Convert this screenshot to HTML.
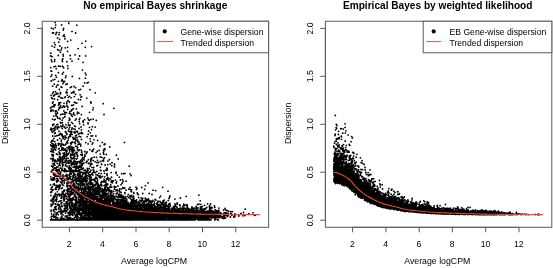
<!DOCTYPE html>
<html><head><meta charset="utf-8"><title>Dispersion plots</title>
<style>html,body{margin:0;padding:0;background:#fff}svg{display:block}</style></head>
<body>
<svg width="553" height="268" viewBox="0 0 553 268" font-family="'Liberation Sans', Arial, sans-serif" font-size="8.65" fill="#000">
<rect width="553" height="268" fill="#fff"/>
<clipPath id="c0"><rect x="42.2" y="21.25" width="226.40000000000003" height="206.05"/></clipPath>
<path d="M60.2 158.7h0M64.5 170.5h0M62.6 144.2h0M54.0 219.9h0M55.2 173.8h0M64.1 219.9h0M50.6 107.9h0M63.3 144.7h0M62.9 66.7h0M57.8 218.0h0M55.2 44.7h0M54.8 79.3h0M54.5 148.1h0M57.4 219.9h0M58.4 72.7h0M59.1 176.6h0M66.0 132.1h0M62.8 125.0h0M60.2 175.0h0M65.9 124.7h0M53.9 175.0h0M53.0 141.1h0M60.0 150.6h0M51.1 217.1h0M58.5 105.1h0M64.8 211.6h0M60.3 186.0h0M58.2 169.7h0M54.4 178.0h0M50.7 67.6h0M53.5 210.9h0M53.6 178.0h0M56.3 170.8h0M63.4 156.7h0M52.9 159.8h0M54.7 219.9h0M64.2 34.8h0M63.7 67.8h0M60.5 218.2h0M62.1 202.6h0M51.9 200.6h0M58.9 152.1h0M58.4 180.4h0M64.1 218.5h0M56.5 145.8h0M55.5 113.1h0M52.9 166.4h0M56.4 219.9h0M65.7 219.9h0M59.7 134.2h0M59.9 219.9h0M61.0 219.9h0M52.9 204.1h0M57.4 112.5h0M54.2 183.6h0M56.8 182.1h0M52.0 154.5h0M65.6 216.5h0M53.9 138.3h0M61.0 203.2h0M55.2 104.9h0M64.1 203.8h0M60.8 172.3h0M52.6 161.1h0M63.7 210.6h0M65.2 160.3h0M64.6 168.7h0M59.4 32.6h0M52.8 167.1h0M53.5 216.0h0M65.0 116.5h0M59.1 193.9h0M64.3 107.2h0M60.5 133.4h0M59.4 157.0h0M56.4 153.8h0M56.9 135.7h0M54.2 149.0h0M64.1 180.3h0M57.8 176.4h0M62.2 206.6h0M56.3 110.9h0M51.0 178.9h0M52.4 145.6h0M65.6 213.1h0M60.7 102.6h0M57.2 116.7h0M58.7 42.2h0M59.7 11.6h0M61.2 188.5h0M58.6 109.7h0M62.4 181.6h0M64.7 171.7h0M65.0 168.9h0M50.6 184.9h0M62.2 144.7h0M63.1 174.9h0M57.0 170.3h0M63.2 194.7h0M60.3 165.3h0M62.9 81.1h0M58.5 201.7h0M61.8 218.7h0M54.0 66.7h0M53.6 180.2h0M56.2 217.7h0M53.3 158.5h0M65.3 131.6h0M59.4 108.3h0M55.8 217.0h0M54.7 195.5h0M65.8 175.3h0M58.5 149.1h0M64.5 199.6h0M62.1 79.6h0M59.5 107.1h0M64.2 158.6h0M56.9 135.6h0M64.9 139.3h0M51.6 205.6h0M57.2 186.3h0M58.6 145.1h0M65.3 175.7h0M54.4 128.3h0M63.1 174.8h0M61.0 144.0h0M61.7 169.1h0M60.3 94.0h0M65.6 179.9h0M55.7 75.3h0M56.7 176.2h0M53.7 203.4h0M51.3 59.9h0M53.8 217.4h0M64.8 97.4h0M63.6 28.4h0M52.3 170.0h0M59.9 118.2h0M58.0 172.9h0M59.8 211.6h0M65.5 150.5h0M57.8 205.1h0M60.3 181.8h0M53.4 219.9h0M51.5 213.9h0M56.9 94.0h0M62.4 61.5h0M63.2 136.3h0M61.9 170.4h0M52.3 199.2h0M64.7 36.6h0M63.0 219.9h0M64.2 219.9h0M58.7 194.3h0M51.0 128.2h0M50.8 53.2h0M54.4 164.0h0M54.4 196.9h0M53.4 144.9h0M59.3 173.3h0M51.1 111.3h0M59.7 194.6h0M61.1 214.0h0M50.8 200.5h0M55.3 189.3h0M65.1 209.3h0M58.9 50.3h0M63.1 118.0h0M60.8 122.6h0M60.0 118.9h0M59.5 205.0h0M51.1 81.0h0M63.0 193.0h0M65.5 128.4h0M63.8 110.8h0M55.8 115.5h0M55.5 196.4h0M52.3 186.9h0M62.9 148.1h0M55.4 206.6h0M63.9 162.5h0M62.9 165.2h0M52.5 199.1h0M62.4 169.1h0M64.2 205.5h0M53.6 95.9h0M59.4 118.4h0M60.5 156.8h0M52.0 74.7h0M60.8 146.3h0M60.3 134.3h0M63.3 35.9h0M63.0 83.6h0M55.6 66.3h0M61.7 219.9h0M64.0 199.7h0M64.4 171.5h0M53.0 80.0h0M60.6 92.5h0M59.3 96.4h0M65.2 14.7h0M54.4 219.9h0M57.6 219.9h0M60.7 105.6h0M52.1 56.6h0M56.4 77.2h0M52.6 219.9h0M60.8 126.1h0M63.4 106.0h0M56.3 206.6h0M58.9 103.2h0M53.9 124.2h0M55.6 144.0h0M57.6 49.6h0M51.8 149.8h0M62.2 193.5h0M59.5 134.8h0M55.2 219.9h0M62.4 66.2h0M52.6 86.2h0M51.8 219.9h0M64.6 81.4h0M63.5 176.8h0M60.2 178.2h0M53.4 155.0h0M57.3 191.8h0M64.3 158.0h0M56.4 181.0h0M61.6 24.9h0M61.8 216.9h0M62.6 212.2h0M63.4 178.0h0M61.0 176.1h0M56.3 68.7h0M51.5 179.9h0M58.6 189.7h0M62.3 163.4h0M53.5 110.7h0M54.7 59.7h0M62.2 128.3h0M64.5 155.3h0M52.5 119.1h0M53.4 198.9h0M60.5 168.0h0M61.7 216.5h0M65.1 169.8h0M63.6 185.4h0M60.5 107.4h0M53.4 128.6h0M62.3 187.8h0M62.3 176.2h0M61.7 48.0h0M57.4 219.9h0M57.0 135.8h0M51.0 211.3h0M59.0 34.7h0M59.0 127.4h0M61.7 195.7h0M63.4 148.2h0M64.8 218.8h0M56.5 161.5h0M52.7 136.0h0M66.0 144.0h0M52.8 219.9h0M61.6 179.4h0M63.4 170.8h0M64.8 179.8h0M52.4 110.3h0M51.9 61.7h0M65.9 84.4h0M52.3 132.2h0M59.5 164.4h0M57.5 140.0h0M62.2 136.1h0M53.5 163.7h0M64.7 210.7h0M53.9 214.2h0M62.5 114.2h0M51.6 98.0h0M57.9 204.1h0M51.0 142.1h0M55.4 193.5h0M61.7 150.1h0M57.6 9.8h0M51.4 171.5h0M66.0 75.9h0M64.3 182.1h0M64.8 198.9h0M54.3 84.2h0M56.6 219.9h0M54.0 104.7h0M52.5 202.1h0M51.0 204.3h0M58.3 81.3h0M52.4 219.9h0M53.3 197.4h0M53.4 150.4h0M60.9 159.4h0M54.7 167.8h0M58.7 143.4h0M58.5 96.5h0M60.3 178.7h0M58.9 209.2h0M56.7 178.6h0M62.8 126.0h0M64.1 200.6h0M53.3 144.2h0M52.3 155.7h0M65.8 179.3h0M65.2 137.5h0M54.1 106.7h0M65.6 219.9h0M53.7 131.2h0M58.3 55.5h0M64.7 196.9h0M51.1 191.9h0M55.4 170.2h0M59.8 153.1h0M54.2 217.3h0M57.7 154.4h0M64.2 183.0h0M62.4 74.0h0M63.4 218.8h0M62.4 161.6h0M63.7 145.2h0M61.1 49.9h0M62.0 147.6h0M55.2 22.6h0M53.1 145.8h0M62.3 128.6h0M53.1 170.1h0M64.8 114.2h0M59.8 138.3h0M58.5 205.3h0M51.9 129.2h0M65.5 207.3h0M63.0 153.3h0M54.9 161.3h0M63.0 180.5h0M61.4 126.7h0M60.5 173.3h0M65.3 47.8h0M57.3 85.2h0M57.0 219.9h0M61.3 219.9h0M63.5 198.5h0M55.7 219.9h0M60.9 97.6h0M53.8 219.9h0M59.1 102.6h0M62.5 177.0h0M51.5 189.3h0M61.8 197.2h0M50.8 144.8h0M65.4 165.8h0M57.8 118.1h0M56.9 196.9h0M61.7 149.7h0M58.7 66.2h0M61.9 210.9h0M51.8 106.9h0M59.3 187.2h0M59.2 188.3h0M65.0 136.0h0M51.1 95.4h0M57.6 219.9h0M59.1 174.4h0M51.7 187.4h0M59.7 154.1h0M54.0 201.2h0M53.6 32.9h0M64.2 150.2h0M53.6 168.8h0M57.6 178.8h0M62.2 134.7h0M63.1 138.7h0M57.8 187.0h0M60.2 66.3h0M63.3 219.5h0M60.5 173.6h0M56.8 171.3h0M59.2 107.9h0M56.7 169.5h0M62.1 218.2h0M56.4 201.5h0M57.8 158.8h0M62.3 107.4h0M58.3 214.7h0M55.8 216.1h0M63.4 72.3h0M56.4 175.9h0M63.7 190.4h0M62.7 160.2h0M61.6 216.4h0M51.0 145.4h0M56.6 11.5h0M63.9 190.9h0M59.5 163.2h0M59.2 169.5h0M60.9 123.2h0M61.1 86.9h0M59.6 39.4h0M53.4 184.7h0M55.1 129.3h0M55.1 185.4h0M57.2 176.3h0M66.1 202.3h0M56.0 194.3h0M57.5 181.2h0M56.3 93.5h0M65.3 96.9h0M64.3 149.1h0M54.7 161.9h0M64.3 194.8h0M58.2 176.1h0M61.2 98.1h0M51.7 71.1h0M64.0 201.0h0M53.6 173.2h0M63.4 219.9h0M63.4 198.8h0M57.9 167.1h0M62.5 170.4h0M56.3 32.8h0M59.0 159.9h0M53.6 164.1h0M55.4 193.7h0M61.5 80.9h0M62.5 166.7h0M51.4 28.1h0M61.9 147.9h0M63.2 219.9h0M57.4 195.0h0M51.5 200.3h0M61.1 219.3h0M56.4 209.5h0M60.4 219.9h0M54.5 133.4h0M57.9 85.0h0M58.7 186.0h0M60.3 220.0h0M53.7 163.8h0M65.5 205.9h0M55.0 174.2h0M54.5 61.3h0M51.6 130.6h0M62.5 149.7h0M61.6 205.1h0M53.6 219.9h0M52.6 190.2h0M55.5 204.0h0M62.5 164.2h0M58.1 219.9h0M64.9 190.1h0M60.7 114.7h0M60.2 154.0h0M62.5 122.6h0M55.9 204.3h0M54.5 99.1h0M57.3 163.5h0M58.1 219.9h0M52.7 98.5h0M57.4 113.2h0M60.5 178.7h0M52.6 155.2h0M53.2 199.5h0M54.9 207.4h0M65.5 77.6h0M50.9 176.8h0M53.4 197.9h0M53.1 102.0h0M57.9 186.9h0M50.7 219.9h0M53.0 189.7h0M54.7 147.8h0M62.8 59.0h0M53.4 173.8h0M60.1 201.0h0M56.8 32.5h0M57.0 127.9h0M63.2 54.5h0M53.0 177.9h0M64.9 106.5h0M64.4 152.8h0M60.9 160.9h0M53.8 146.5h0M65.3 176.0h0M64.3 218.8h0M52.3 219.9h0M55.4 126.3h0M51.0 18.4h0M63.4 137.0h0M64.8 149.5h0M65.9 203.9h0M60.0 154.7h0M60.9 145.8h0M61.1 198.2h0M59.4 165.1h0M65.3 144.9h0M60.0 162.7h0M55.7 204.1h0M58.5 135.2h0M61.8 206.0h0M61.3 182.3h0M57.1 178.7h0M63.8 218.6h0M62.3 162.9h0M55.8 34.4h0M51.7 191.9h0M52.6 151.3h0M53.4 166.1h0M55.2 133.0h0M65.0 162.1h0M64.5 126.9h0M63.8 82.1h0M56.8 124.7h0M50.6 129.6h0M62.8 156.5h0M54.3 42.6h0M52.7 124.6h0M63.0 219.9h0M61.2 176.2h0M54.7 130.4h0M65.1 219.9h0M54.7 146.3h0M61.4 141.8h0M63.2 164.8h0M58.5 211.7h0M51.1 71.2h0M59.1 161.2h0M63.7 148.7h0M51.8 148.7h0M54.8 165.2h0M60.0 16.0h0M55.4 208.0h0M60.3 211.0h0M55.1 136.2h0M62.3 184.5h0M60.4 162.4h0M62.0 178.4h0M61.8 150.1h0M61.4 200.6h0M56.5 198.3h0M50.9 219.9h0M65.5 165.6h0M61.9 87.3h0M54.8 141.7h0M57.8 170.3h0M63.9 154.9h0M55.0 207.5h0M55.3 119.3h0M51.7 191.7h0M54.7 161.3h0M53.2 106.3h0M51.5 148.9h0M57.8 124.5h0M53.8 145.0h0M54.8 94.6h0M59.4 104.0h0M58.4 126.8h0M51.7 140.9h0M57.9 219.9h0M63.0 214.9h0M51.5 146.2h0M59.8 219.9h0M64.0 103.3h0M64.0 199.0h0M50.6 55.9h0M58.6 66.2h0M56.3 189.3h0M62.3 170.0h0M51.7 166.1h0M54.6 105.3h0M63.2 193.5h0M57.8 93.4h0M57.6 194.8h0M65.6 175.7h0M55.5 160.1h0M51.2 151.6h0M56.6 187.4h0M52.9 147.2h0M59.3 89.5h0M65.3 171.2h0M60.6 208.3h0M55.5 111.2h0M59.4 143.8h0M62.2 180.6h0M59.7 158.7h0M63.0 159.3h0M59.1 174.3h0M53.6 152.3h0M59.6 194.1h0M53.1 219.9h0M60.1 207.0h0M63.2 30.1h0M52.6 93.5h0M59.0 131.4h0M56.8 212.8h0M54.7 209.6h0M56.3 200.6h0M58.9 165.4h0M61.2 195.0h0M59.2 148.4h0M52.2 170.6h0M63.2 144.5h0M64.9 156.8h0M54.4 184.6h0M53.2 180.2h0M63.7 196.7h0M64.7 154.5h0M51.2 210.2h0M55.7 187.9h0M53.5 91.9h0M57.8 11.5h0M64.9 112.4h0M51.6 165.9h0M53.2 28.9h0M58.1 143.8h0M62.1 212.5h0M57.3 180.6h0M52.7 163.6h0M56.0 214.0h0M65.8 160.1h0M62.2 120.2h0M52.3 179.1h0M63.1 211.9h0M55.4 145.0h0M62.7 98.1h0M50.7 192.4h0M64.1 191.4h0M53.0 179.7h0M57.6 38.0h0M60.8 161.1h0M58.4 185.3h0M52.7 125.6h0M54.9 219.9h0M51.3 109.8h0M53.9 198.5h0M52.5 204.6h0M57.7 99.7h0M56.1 147.7h0M59.6 186.0h0M54.9 212.1h0M51.0 189.2h0M62.3 126.1h0M54.5 95.4h0M56.8 167.0h0M62.3 192.0h0M64.3 127.2h0M62.0 219.9h0M52.7 151.8h0M57.3 126.8h0M65.1 194.4h0M52.8 154.9h0M61.6 213.6h0M57.9 160.3h0M65.6 207.9h0M61.3 140.1h0M52.5 33.0h0M64.6 196.3h0M52.1 143.3h0M52.0 46.1h0M55.7 25.1h0M51.0 219.9h0M64.8 116.9h0M60.0 160.1h0M51.6 218.8h0M59.4 219.9h0M57.7 11.6h0M62.0 158.4h0M61.1 209.7h0M66.0 156.2h0M53.0 156.3h0M63.2 56.1h0M56.9 199.2h0M62.7 136.9h0M64.4 208.7h0M65.9 160.8h0M54.7 179.2h0M57.6 180.7h0M65.2 216.1h0M65.2 149.1h0M56.3 114.6h0M65.1 21.0h0M56.8 185.4h0M56.3 214.5h0M62.3 59.7h0M57.8 171.2h0M57.5 129.1h0M56.5 187.2h0M52.7 202.1h0M51.5 56.6h0M62.2 212.0h0M59.3 206.9h0M61.0 212.4h0M63.0 114.0h0M54.1 184.1h0M54.2 160.1h0M54.8 216.4h0M55.2 27.6h0M56.3 87.0h0M55.5 200.0h0M60.4 122.3h0M61.4 197.3h0M62.3 157.4h0M55.1 127.5h0M51.0 17.2h0M56.8 219.9h0M59.5 195.9h0M54.5 47.2h0M55.9 218.8h0M60.0 184.8h0M59.7 171.0h0M52.9 140.2h0M61.5 183.0h0M51.8 158.7h0M65.6 164.4h0M53.7 124.3h0M54.5 15.1h0M53.6 209.7h0M65.9 179.5h0M55.0 176.3h0M59.9 46.0h0M65.9 193.5h0M65.3 206.5h0M58.6 208.2h0M59.9 163.0h0M55.7 150.0h0M55.6 175.6h0M50.6 151.3h0M51.1 206.3h0M59.1 219.9h0M53.7 116.1h0M55.7 168.2h0M51.0 76.4h0M64.9 38.9h0M57.3 213.0h0M53.7 214.4h0M61.5 134.5h0M50.7 110.8h0M54.3 119.8h0M65.5 179.2h0M64.5 219.9h0M60.4 52.2h0M52.0 216.2h0M55.5 91.6h0M50.9 158.7h0M53.9 196.2h0M50.9 195.4h0M52.5 103.1h0M73.4 188.4h0M67.2 179.9h0M67.9 194.6h0M76.6 163.4h0M70.0 211.2h0M70.0 125.2h0M67.1 153.7h0M75.3 203.1h0M74.0 131.9h0M72.4 151.3h0M73.3 108.6h0M67.2 206.3h0M69.1 217.1h0M72.9 199.5h0M77.2 158.3h0M75.6 33.0h0M73.5 152.1h0M72.1 127.9h0M66.2 92.2h0M76.4 202.9h0M66.9 147.7h0M67.6 193.6h0M74.1 160.4h0M75.5 190.3h0M75.2 180.3h0M71.3 214.2h0M68.1 107.1h0M66.5 92.0h0M76.0 168.4h0M77.5 131.9h0M68.9 219.9h0M76.2 191.0h0M70.8 113.8h0M69.7 196.1h0M72.0 219.3h0M66.2 202.7h0M71.2 191.5h0M68.4 171.1h0M74.4 166.3h0M71.9 179.6h0M76.2 211.4h0M76.5 183.2h0M69.8 135.0h0M69.3 195.8h0M77.0 219.9h0M71.9 147.3h0M67.2 215.9h0M66.6 219.9h0M77.6 218.2h0M72.8 178.0h0M66.7 211.4h0M72.0 179.8h0M71.9 201.1h0M71.1 169.5h0M77.2 162.2h0M77.1 178.0h0M67.5 106.9h0M67.8 190.9h0M70.8 40.1h0M75.8 140.7h0M73.3 180.4h0M74.6 126.1h0M72.8 123.6h0M68.5 167.8h0M75.6 201.1h0M66.2 196.0h0M74.2 189.5h0M68.3 138.1h0M71.6 122.3h0M77.4 174.9h0M72.4 193.2h0M66.7 160.2h0M71.1 194.3h0M73.8 180.4h0M66.7 206.0h0M69.0 168.2h0M66.3 11.6h0M72.4 210.7h0M70.5 199.7h0M71.9 193.7h0M69.5 202.9h0M73.7 209.5h0M68.1 185.4h0M76.6 187.7h0M77.3 214.2h0M71.8 182.7h0M71.5 115.4h0M76.1 196.4h0M69.4 113.3h0M75.4 167.8h0M69.4 204.3h0M74.5 155.7h0M70.0 192.0h0M73.1 211.5h0M76.9 191.5h0M66.7 198.7h0M75.5 161.5h0M72.4 202.7h0M70.5 58.8h0M70.2 178.3h0M66.9 208.0h0M69.1 215.2h0M73.3 210.3h0M67.2 92.6h0M73.9 92.7h0M77.3 113.8h0M77.5 112.2h0M76.4 219.9h0M75.5 207.2h0M68.1 179.5h0M77.4 219.9h0M68.4 182.0h0M76.2 178.7h0M76.3 163.1h0M73.3 186.4h0M72.1 219.9h0M68.4 213.5h0M72.1 152.0h0M69.5 194.6h0M67.5 186.5h0M67.6 218.1h0M75.4 135.9h0M76.8 192.6h0M67.7 190.1h0M66.2 219.9h0M69.1 169.0h0M67.6 203.5h0M68.3 140.1h0M72.9 148.0h0M71.0 97.8h0M71.1 110.9h0M68.5 219.9h0M73.8 185.2h0M69.4 213.9h0M70.7 160.7h0M71.5 149.6h0M76.6 199.4h0M68.9 167.7h0M74.4 175.7h0M69.7 213.1h0M76.5 186.4h0M70.7 218.9h0M72.0 105.4h0M76.3 198.0h0M73.9 219.9h0M67.2 89.8h0M67.7 47.3h0M77.6 140.0h0M66.4 219.9h0M69.6 163.2h0M77.2 163.5h0M66.2 137.7h0M68.0 190.5h0M68.6 200.7h0M67.1 166.3h0M71.6 204.5h0M73.0 176.3h0M69.8 167.8h0M75.5 196.2h0M75.4 205.0h0M72.6 204.4h0M67.7 143.0h0M72.4 192.2h0M73.4 162.8h0M71.1 179.7h0M76.1 208.0h0M70.6 217.7h0M72.0 31.4h0M67.4 189.4h0M72.6 213.3h0M75.0 219.9h0M74.6 209.7h0M69.1 179.0h0M77.6 188.3h0M74.5 184.5h0M71.0 211.7h0M70.9 187.5h0M75.1 179.7h0M68.1 100.5h0M74.4 204.0h0M72.1 134.4h0M76.2 200.8h0M71.5 105.3h0M71.5 165.0h0M69.4 178.5h0M76.8 103.1h0M69.8 111.8h0M74.2 188.3h0M70.8 131.3h0M77.0 218.4h0M77.1 180.0h0M66.4 202.0h0M77.7 190.4h0M66.9 183.8h0M71.9 210.1h0M66.6 219.9h0M72.5 109.5h0M68.2 193.8h0M70.4 201.5h0M69.6 219.0h0M73.1 167.1h0M75.7 146.1h0M77.0 211.8h0M69.9 194.0h0M72.7 92.4h0M66.1 196.5h0M70.4 219.9h0M77.3 148.0h0M67.5 218.2h0M76.2 181.6h0M73.7 219.9h0M69.5 131.6h0M75.1 129.3h0M69.4 219.2h0M76.5 162.1h0M67.0 190.4h0M67.5 201.1h0M74.8 133.0h0M71.3 161.1h0M67.8 219.9h0M72.1 200.7h0M69.5 182.1h0M72.5 153.8h0M74.7 174.7h0M76.1 166.5h0M66.8 174.4h0M73.0 218.7h0M77.5 131.4h0M71.4 158.8h0M75.0 156.1h0M76.2 131.7h0M72.9 206.0h0M76.4 209.3h0M75.2 177.8h0M76.2 217.0h0M74.4 196.1h0M68.4 130.9h0M69.2 218.7h0M69.9 170.6h0M73.0 215.4h0M73.4 151.0h0M66.2 202.2h0M68.3 154.1h0M70.3 87.6h0M75.6 180.6h0M72.5 179.3h0M72.0 148.7h0M74.9 142.8h0M73.7 18.6h0M69.4 167.1h0M67.1 150.0h0M71.5 202.8h0M76.3 216.8h0M73.0 137.5h0M66.7 103.4h0M71.2 168.4h0M70.6 154.2h0M72.9 209.5h0M72.9 142.3h0M77.2 154.7h0M70.0 173.1h0M70.8 188.3h0M73.2 188.4h0M76.4 219.9h0M74.3 196.6h0M71.6 158.2h0M75.6 87.7h0M71.7 155.2h0M77.3 187.4h0M69.4 118.2h0M67.6 41.4h0M75.7 170.9h0M69.5 219.9h0M75.9 102.9h0M73.2 207.5h0M72.0 179.7h0M67.1 180.0h0M75.2 138.5h0M66.8 176.5h0M77.3 174.5h0M76.3 164.6h0M69.6 127.2h0M67.6 51.4h0M76.4 108.9h0M71.7 182.8h0M67.5 209.7h0M71.9 194.7h0M68.9 146.7h0M70.8 176.5h0M76.7 217.2h0M75.4 143.6h0M67.9 196.8h0M71.6 170.9h0M71.8 199.3h0M77.6 147.7h0M67.1 182.5h0M72.0 189.4h0M76.7 216.7h0M70.7 212.2h0M69.1 218.7h0M72.5 219.9h0M69.8 151.1h0M76.9 166.0h0M67.1 219.9h0M68.5 11.9h0M67.0 185.9h0M74.4 208.3h0M69.5 196.0h0M76.6 188.3h0M76.5 131.4h0M77.0 152.4h0M69.1 152.6h0M66.1 179.4h0M70.6 173.7h0M77.3 209.1h0M75.0 54.8h0M66.8 186.3h0M74.3 213.0h0M76.8 162.0h0M77.3 193.3h0M76.1 206.6h0M75.9 219.9h0M70.2 208.5h0M67.2 218.7h0M74.5 210.1h0M67.7 180.3h0M70.5 191.4h0M77.7 193.5h0M72.6 164.0h0M72.1 141.8h0M77.1 167.4h0M69.4 194.4h0M77.7 201.6h0M76.7 208.0h0M69.9 119.7h0M67.5 171.1h0M76.7 190.6h0M68.2 158.3h0M66.2 132.7h0M76.4 219.9h0M73.9 147.7h0M74.6 158.5h0M66.6 217.1h0M67.1 186.7h0M71.9 147.0h0M66.7 158.1h0M71.9 150.8h0M74.6 167.0h0M73.7 162.0h0M73.3 187.9h0M66.6 162.8h0M68.8 163.4h0M76.5 153.8h0M67.5 175.6h0M72.3 200.5h0M66.7 160.9h0M77.0 218.9h0M68.1 163.0h0M70.8 161.6h0M72.4 203.0h0M74.4 154.1h0M77.0 217.1h0M74.6 150.3h0M70.1 185.4h0M66.9 101.8h0M74.3 138.2h0M77.4 174.8h0M66.3 171.4h0M75.1 199.5h0M68.1 212.9h0M71.4 204.2h0M72.2 214.4h0M73.2 114.3h0M77.6 220.1h0M74.1 218.5h0M70.6 136.2h0M74.4 187.1h0M71.5 208.3h0M70.9 207.7h0M70.3 195.5h0M71.8 189.6h0M69.3 147.1h0M68.9 199.1h0M67.8 205.2h0M71.2 185.6h0M69.5 203.6h0M75.8 215.7h0M75.9 135.9h0M70.1 198.8h0M73.3 189.5h0M76.6 171.0h0M70.3 210.6h0M72.5 197.8h0M71.2 205.9h0M73.6 154.8h0M77.3 207.3h0M67.7 65.8h0M73.8 177.6h0M75.3 185.9h0M73.5 181.1h0M76.2 170.2h0M69.9 191.4h0M74.3 154.0h0M69.1 174.6h0M72.0 181.8h0M74.0 86.5h0M68.4 162.0h0M66.8 134.6h0M75.3 143.6h0M75.5 206.7h0M73.8 212.2h0M69.8 215.1h0M73.7 112.9h0M67.0 219.9h0M73.8 91.5h0M72.8 158.5h0M73.3 198.1h0M71.3 144.1h0M68.7 23.4h0M74.5 163.3h0M71.5 193.7h0M74.8 126.1h0M70.3 149.4h0M72.4 212.8h0M73.3 181.7h0M76.8 25.2h0M76.4 214.5h0M66.7 142.2h0M75.1 132.2h0M69.1 120.4h0M74.2 173.7h0M70.5 192.9h0M71.8 129.5h0M72.3 215.3h0M74.2 156.8h0M73.5 149.6h0M74.0 139.2h0M70.5 171.0h0M74.0 175.0h0M70.1 214.9h0M73.1 175.6h0M72.6 186.2h0M66.3 210.6h0M71.9 109.6h0M68.6 125.0h0M70.6 143.0h0M66.9 61.7h0M76.5 183.6h0M70.2 172.0h0M67.3 205.0h0M73.3 219.9h0M76.5 193.4h0M67.5 219.9h0M70.3 187.8h0M71.8 163.5h0M67.4 184.9h0M69.8 219.9h0M69.3 205.8h0M74.4 171.3h0M77.6 194.2h0M70.3 161.6h0M75.3 196.2h0M67.7 203.5h0M72.8 219.9h0M71.1 199.9h0M69.4 102.0h0M75.6 188.9h0M74.8 142.1h0M67.6 154.3h0M69.5 191.6h0M75.6 192.5h0M77.6 211.4h0M73.2 193.0h0M76.2 203.9h0M77.5 149.8h0M74.7 212.7h0M73.6 210.9h0M68.6 179.2h0M70.4 168.1h0M76.9 178.8h0M69.6 150.6h0M70.7 134.2h0M66.3 152.0h0M74.2 213.1h0M71.2 164.2h0M75.4 214.9h0M73.8 173.7h0M73.9 128.8h0M71.5 92.9h0M68.3 189.1h0M70.8 170.3h0M74.8 210.3h0M67.1 177.9h0M71.5 173.9h0M68.8 189.5h0M75.4 208.0h0M75.6 94.3h0M77.1 210.1h0M75.9 202.1h0M73.6 170.5h0M68.3 97.3h0M75.7 166.1h0M74.6 184.6h0M74.8 115.1h0M74.2 204.1h0M75.7 196.9h0M69.5 219.9h0M73.9 206.9h0M72.1 206.2h0M70.0 177.9h0M69.9 198.7h0M67.9 209.4h0M71.8 162.1h0M70.4 193.8h0M71.0 174.2h0M76.0 153.2h0M74.0 194.1h0M74.0 208.3h0M77.5 212.3h0M68.6 212.6h0M72.0 61.2h0M67.1 127.1h0M70.6 208.9h0M77.1 202.4h0M67.1 182.4h0M74.9 194.9h0M76.2 214.8h0M72.0 154.4h0M75.4 219.9h0M71.2 171.2h0M70.2 135.3h0M72.0 205.4h0M68.3 203.4h0M69.7 219.9h0M69.6 197.6h0M77.6 219.9h0M70.0 207.2h0M68.7 148.3h0M77.0 166.2h0M67.7 192.4h0M77.3 215.0h0M76.0 140.1h0M73.6 193.2h0M71.1 186.9h0M68.4 161.1h0M67.3 179.3h0M67.3 83.8h0M70.1 55.5h0M70.8 182.7h0M76.8 103.1h0M72.3 76.5h0M77.6 203.1h0M74.5 214.1h0M67.8 218.6h0M72.5 170.4h0M67.9 219.6h0M66.5 216.2h0M77.1 146.6h0M70.0 136.7h0M68.3 188.3h0M67.3 141.3h0M73.7 164.4h0M71.4 147.4h0M66.2 92.8h0M74.4 185.9h0M69.1 160.7h0M75.2 179.6h0M71.8 132.0h0M72.3 154.2h0M71.4 203.1h0M73.9 186.5h0M77.6 219.9h0M75.4 126.4h0M66.9 105.5h0M71.8 190.6h0M68.8 194.6h0M68.3 190.5h0M69.0 129.0h0M77.3 208.2h0M74.7 219.9h0M76.0 219.9h0M74.2 191.1h0M70.6 157.1h0M71.2 171.5h0M69.5 96.4h0M71.0 198.9h0M75.1 174.3h0M67.0 219.9h0M69.3 212.5h0M71.7 142.5h0M73.9 199.5h0M73.6 158.1h0M74.5 218.1h0M67.3 207.7h0M69.7 219.9h0M69.4 149.3h0M74.9 210.4h0M77.6 184.0h0M74.0 156.9h0M66.5 112.7h0M69.5 205.6h0M75.4 200.3h0M76.8 171.3h0M73.0 198.8h0M70.1 125.1h0M70.2 219.9h0M73.5 192.3h0M76.1 170.3h0M70.0 160.3h0M68.3 122.8h0M66.1 170.4h0M67.7 109.3h0M76.0 219.9h0M73.3 171.8h0M77.6 201.5h0M66.9 190.7h0M70.3 172.5h0M75.3 120.2h0M73.8 206.3h0M66.8 133.6h0M70.7 219.9h0M73.5 104.8h0M74.1 183.3h0M71.3 158.2h0M68.3 191.3h0M77.3 212.5h0M71.5 202.8h0M74.4 96.6h0M72.3 172.0h0M67.0 155.5h0M68.8 21.4h0M66.8 219.9h0M68.3 182.8h0M68.4 177.9h0M70.9 211.9h0M69.8 186.2h0M70.3 145.8h0M75.6 188.8h0M66.3 153.8h0M67.3 95.1h0M75.5 171.4h0M72.3 116.3h0M71.2 182.9h0M69.2 169.1h0M72.4 185.2h0M68.7 136.8h0M76.1 182.6h0M75.7 169.7h0M69.8 188.7h0M76.4 159.1h0M69.6 207.8h0M73.7 183.6h0M76.1 119.0h0M75.4 138.1h0M76.1 152.5h0M71.8 219.9h0M75.9 187.6h0M71.4 86.9h0M69.1 167.7h0M71.7 219.4h0M70.0 219.9h0M75.0 185.8h0M75.8 208.8h0M67.7 178.4h0M68.0 199.6h0M70.5 186.6h0M71.5 190.0h0M77.2 178.3h0M77.0 137.7h0M77.3 156.3h0M74.6 102.3h0M74.0 170.3h0M69.2 166.0h0M70.4 155.6h0M66.1 158.6h0M75.8 176.3h0M69.3 196.3h0M67.0 166.5h0M69.7 200.3h0M69.8 148.1h0M74.5 205.1h0M68.8 183.1h0M76.5 135.1h0M76.0 197.2h0M72.6 150.4h0M76.3 205.3h0M74.9 217.3h0M72.0 189.5h0M67.9 68.4h0M68.6 146.9h0M70.5 167.8h0M69.9 213.0h0M66.8 151.2h0M70.8 133.1h0M71.3 170.6h0M69.4 176.0h0M70.5 194.4h0M69.9 219.9h0M70.5 177.5h0M73.3 139.0h0M71.9 155.4h0M68.4 219.9h0M75.3 170.4h0M72.0 203.3h0M71.4 165.7h0M74.4 102.2h0M74.8 219.6h0M76.0 216.3h0M75.5 164.2h0M88.9 210.0h0M89.7 212.0h0M80.3 175.7h0M89.4 214.4h0M82.0 219.9h0M82.0 210.2h0M79.7 175.3h0M84.3 201.0h0M78.1 202.7h0M88.7 219.9h0M90.2 204.6h0M90.6 205.3h0M79.9 177.2h0M88.4 159.7h0M91.7 214.3h0M78.3 212.5h0M80.9 199.0h0M82.2 198.0h0M85.4 207.8h0M80.6 201.5h0M86.7 198.5h0M83.4 211.1h0M88.6 119.7h0M86.6 219.9h0M89.1 176.1h0M81.8 195.2h0M89.5 207.5h0M89.9 219.9h0M89.7 184.6h0M78.9 89.9h0M93.5 197.9h0M87.3 170.7h0M82.3 205.8h0M84.9 219.9h0M86.3 195.7h0M86.3 215.7h0M81.8 203.6h0M82.1 178.7h0M83.8 177.6h0M90.7 218.2h0M85.0 178.8h0M78.4 202.1h0M85.2 170.4h0M81.1 217.3h0M77.9 205.1h0M94.0 197.2h0M82.6 133.4h0M86.7 180.4h0M83.7 213.1h0M78.6 150.7h0M92.7 194.3h0M93.3 215.3h0M80.8 162.5h0M84.7 202.2h0M83.9 206.2h0M80.5 99.7h0M88.7 213.5h0M90.7 195.3h0M90.4 177.7h0M89.0 202.0h0M78.0 219.9h0M81.5 139.4h0M86.3 184.5h0M89.4 217.8h0M84.2 207.8h0M85.2 187.1h0M91.7 189.1h0M78.1 166.9h0M82.2 183.4h0M82.5 203.9h0M94.2 208.1h0M81.5 208.5h0M78.5 186.4h0M84.6 119.7h0M88.5 219.9h0M80.3 169.7h0M91.7 174.2h0M81.0 197.6h0M89.4 209.8h0M92.4 126.7h0M81.1 195.6h0M89.9 219.9h0M91.7 180.3h0M82.0 208.8h0M79.3 181.8h0M87.5 193.5h0M86.0 212.9h0M85.7 176.5h0M90.7 161.4h0M85.4 209.0h0M86.0 219.3h0M85.8 186.4h0M85.3 210.6h0M84.5 189.2h0M80.4 166.2h0M82.6 184.1h0M82.1 210.8h0M81.8 189.7h0M90.7 192.4h0M79.6 192.6h0M81.1 182.4h0M86.5 202.0h0M82.9 121.6h0M81.7 181.4h0M83.9 219.9h0M86.1 219.9h0M88.9 191.0h0M93.9 215.2h0M91.9 167.4h0M84.9 208.8h0M85.2 193.1h0M84.6 193.9h0M81.7 218.3h0M93.6 209.3h0M78.9 185.1h0M81.1 205.1h0M88.7 212.9h0M87.5 215.6h0M82.4 164.2h0M93.3 179.8h0M84.5 176.8h0M87.6 184.5h0M79.2 178.1h0M92.5 219.9h0M84.3 209.7h0M92.5 213.1h0M93.4 215.6h0M92.8 202.4h0M91.5 198.8h0M81.6 215.2h0M78.3 178.6h0M85.2 210.1h0M78.8 184.9h0M93.7 167.5h0M77.9 178.2h0M83.1 62.3h0M81.1 206.0h0M77.9 210.6h0M86.0 214.6h0M79.0 128.5h0M92.7 192.4h0M89.2 207.3h0M83.9 163.1h0M91.7 198.8h0M91.0 201.0h0M83.2 199.5h0M91.8 192.5h0M93.2 212.9h0M88.0 123.0h0M83.6 190.9h0M92.7 212.9h0M93.4 208.7h0M83.5 194.0h0M79.2 188.4h0M92.2 199.0h0M88.8 213.9h0M81.6 199.6h0M87.2 152.0h0M82.8 179.1h0M93.0 190.8h0M83.4 199.0h0M81.0 210.3h0M78.4 191.9h0M83.4 218.0h0M94.2 189.7h0M81.4 188.9h0M85.3 73.1h0M93.9 206.5h0M77.8 219.9h0M82.6 174.6h0M91.4 200.9h0M79.3 196.5h0M93.2 211.7h0M91.6 219.9h0M80.1 209.3h0M87.6 207.6h0M87.0 83.1h0M89.3 219.9h0M82.8 196.4h0M84.1 201.5h0M81.7 176.4h0M82.6 208.1h0M80.6 144.2h0M92.8 183.1h0M92.5 173.9h0M83.7 219.9h0M89.3 219.9h0M85.9 209.3h0M82.4 169.3h0M83.5 218.2h0M93.8 200.8h0M83.4 188.5h0M87.3 180.6h0M93.4 194.9h0M82.7 164.0h0M91.2 203.8h0M79.6 219.9h0M89.9 209.6h0M91.1 219.9h0M91.7 194.3h0M93.9 193.7h0M89.6 211.1h0M94.0 200.3h0M82.4 207.8h0M86.4 173.7h0M81.3 194.6h0M79.1 207.6h0M85.0 219.9h0M89.7 198.8h0M90.7 202.4h0M78.0 144.5h0M93.4 214.8h0M81.8 219.9h0M82.6 198.4h0M91.6 204.1h0M92.6 219.9h0M90.0 208.7h0M83.3 193.6h0M85.4 196.7h0M91.6 205.4h0M83.7 189.0h0M91.1 182.6h0M90.7 164.7h0M85.5 189.9h0M92.6 135.8h0M84.1 157.5h0M90.2 205.9h0M88.4 204.6h0M83.2 200.1h0M86.6 161.4h0M87.8 208.1h0M86.7 178.3h0M94.2 211.9h0M93.8 193.7h0M78.3 188.0h0M93.4 214.8h0M86.6 184.9h0M79.8 165.5h0M91.4 206.4h0M84.9 188.0h0M89.6 179.6h0M91.5 201.1h0M86.7 177.4h0M78.5 59.0h0M91.4 210.6h0M89.3 196.6h0M92.9 198.7h0M82.2 212.5h0M90.8 160.5h0M92.2 210.9h0M83.6 191.8h0M84.5 195.1h0M83.3 203.9h0M77.8 212.6h0M81.6 176.4h0M83.2 217.3h0M79.5 188.8h0M90.5 204.8h0M84.8 151.5h0M87.2 219.9h0M82.5 208.8h0M83.7 207.4h0M90.3 171.9h0M85.5 209.1h0M87.6 217.7h0M84.8 154.9h0M87.0 213.9h0M92.7 151.2h0M82.2 172.4h0M86.4 206.8h0M89.2 206.0h0M79.2 210.2h0M93.7 208.1h0M86.0 74.8h0M81.8 198.9h0M90.4 206.2h0M91.3 179.4h0M88.2 205.4h0M93.0 202.3h0M79.2 169.6h0M86.5 187.8h0M90.1 219.9h0M93.0 208.5h0M88.4 204.8h0M87.7 202.5h0M84.2 202.1h0M87.2 191.8h0M87.0 176.0h0M92.8 219.9h0M91.5 194.3h0M90.0 208.9h0M93.1 212.5h0M78.8 176.9h0M90.5 181.2h0M85.4 197.7h0M90.2 165.9h0M82.6 219.9h0M91.4 212.6h0M78.3 201.7h0M82.6 216.5h0M85.8 142.6h0M91.9 205.8h0M82.2 160.2h0M91.4 180.8h0M81.8 188.6h0M82.8 219.9h0M86.9 212.7h0M88.6 208.9h0M92.4 191.0h0M92.4 217.7h0M81.9 203.7h0M90.1 219.9h0M88.3 218.3h0M84.1 198.2h0M90.6 219.9h0M92.7 183.3h0M85.7 55.9h0M93.0 172.3h0M79.8 196.3h0M80.5 202.8h0M90.4 174.8h0M82.8 183.1h0M87.5 199.1h0M86.0 200.0h0M80.1 189.1h0M90.3 184.4h0M90.1 183.6h0M80.1 172.8h0M82.0 210.2h0M91.0 219.9h0M92.9 189.4h0M92.2 197.4h0M86.1 182.1h0M83.8 184.9h0M85.1 209.7h0M80.7 154.6h0M86.0 196.3h0M81.6 192.9h0M80.4 173.0h0M84.1 197.1h0M78.8 174.7h0M85.5 175.2h0M89.3 163.3h0M88.6 183.0h0M93.9 200.8h0M92.5 184.2h0M88.3 189.2h0M92.7 207.8h0M85.1 219.9h0M91.0 186.4h0M82.5 208.3h0M86.5 202.7h0M94.0 214.6h0M87.7 214.8h0M86.2 162.6h0M90.8 170.3h0M82.9 203.6h0M91.5 129.6h0M78.0 201.1h0M81.7 169.1h0M80.7 178.0h0M82.0 43.3h0M93.5 218.2h0M78.1 184.1h0M82.7 193.7h0M87.3 175.6h0M89.4 215.6h0M90.6 202.3h0M84.1 215.5h0M81.4 114.6h0M91.9 219.4h0M79.8 167.1h0M78.8 193.7h0M81.6 208.5h0M85.9 182.3h0M93.4 210.8h0M89.8 171.8h0M87.1 214.0h0M86.4 199.0h0M89.3 193.3h0M88.1 143.9h0M83.3 122.3h0M79.3 219.9h0M81.1 166.5h0M90.7 188.3h0M88.3 82.3h0M91.0 163.3h0M78.5 193.6h0M92.7 150.1h0M84.1 200.1h0M93.1 190.7h0M87.6 206.0h0M86.8 196.0h0M91.3 198.1h0M88.1 183.6h0M88.9 207.7h0M80.3 199.5h0M87.8 219.9h0M83.7 204.4h0M79.0 173.8h0M79.9 195.6h0M85.7 181.5h0M82.1 176.5h0M90.5 207.8h0M79.8 118.3h0M77.9 175.8h0M94.3 201.4h0M82.9 212.3h0M86.2 205.4h0M81.2 198.4h0M81.2 218.7h0M84.4 215.4h0M90.9 170.3h0M78.4 219.9h0M91.7 208.4h0M94.2 214.4h0M87.0 208.7h0M83.7 212.8h0M81.6 200.9h0M80.8 146.0h0M83.1 211.2h0M91.9 157.9h0M77.8 141.7h0M90.8 200.0h0M88.8 216.0h0M78.0 209.7h0M78.9 113.1h0M90.0 178.6h0M88.9 219.9h0M82.9 179.3h0M92.1 207.1h0M81.2 219.9h0M84.8 204.8h0M79.6 56.0h0M88.5 173.8h0M79.2 197.1h0M80.7 176.8h0M90.5 141.4h0M86.0 206.7h0M88.7 176.1h0M89.9 209.1h0M87.8 208.1h0M81.0 195.6h0M89.3 208.7h0M79.6 217.8h0M82.2 213.1h0M85.2 176.3h0M79.6 161.7h0M79.5 175.0h0M88.6 131.0h0M90.1 138.8h0M83.9 173.0h0M84.2 194.5h0M81.2 192.6h0M86.4 219.9h0M87.4 212.9h0M93.3 107.8h0M78.4 171.8h0M92.8 214.7h0M94.2 219.9h0M83.5 124.9h0M89.8 191.7h0M91.4 213.3h0M88.6 187.7h0M82.5 180.7h0M88.1 194.8h0M92.3 199.7h0M79.5 219.9h0M85.7 177.3h0M78.1 189.3h0M91.8 151.1h0M90.7 206.8h0M78.5 213.2h0M90.1 206.8h0M89.2 168.4h0M79.8 176.3h0M86.5 219.9h0M89.2 168.6h0M83.3 209.8h0M86.1 202.2h0M94.0 139.8h0M88.3 199.4h0M86.1 198.3h0M78.8 183.9h0M79.7 123.7h0M91.9 192.6h0M90.1 219.6h0M91.6 213.1h0M87.3 219.9h0M87.3 168.3h0M86.5 219.9h0M90.0 213.8h0M83.2 211.8h0M86.0 198.9h0M85.5 197.0h0M81.3 182.9h0M78.1 219.9h0M79.2 171.3h0M80.7 219.9h0M92.0 192.5h0M89.6 205.5h0M90.2 199.1h0M85.1 187.3h0M79.4 203.9h0M85.5 206.8h0M92.1 203.5h0M86.2 215.4h0M88.2 211.8h0M83.9 194.8h0M80.2 174.9h0M88.1 217.1h0M85.8 213.9h0M83.5 219.9h0M82.0 185.1h0M89.3 218.4h0M83.0 188.5h0M87.3 193.2h0M82.0 216.3h0M90.3 195.1h0M84.0 219.9h0M85.7 202.3h0M93.2 195.7h0M89.7 188.3h0M90.0 207.2h0M83.4 180.6h0M91.7 208.1h0M84.1 197.7h0M94.2 207.6h0M92.6 173.1h0M88.7 218.7h0M91.6 212.7h0M86.8 98.1h0M89.9 215.1h0M79.8 188.2h0M94.2 196.0h0M91.0 182.8h0M80.1 181.6h0M81.8 159.5h0M87.3 188.1h0M90.4 176.2h0M80.2 94.8h0M93.7 208.1h0M83.5 194.4h0M94.3 179.2h0M90.2 216.7h0M85.8 177.3h0M83.8 181.0h0M79.3 149.8h0M79.2 119.6h0M88.2 170.4h0M90.6 187.1h0M92.8 209.0h0M83.8 159.1h0M93.3 215.5h0M82.7 163.9h0M93.4 209.0h0M93.0 205.7h0M80.3 200.4h0M92.0 187.3h0M89.4 187.4h0M89.4 201.0h0M91.7 213.6h0M86.7 209.0h0M86.2 218.0h0M83.8 173.8h0M92.1 199.5h0M92.7 191.4h0M80.4 187.2h0M90.6 206.0h0M82.3 181.5h0M80.8 213.9h0M81.0 160.2h0M87.3 172.1h0M82.4 195.5h0M81.8 198.3h0M79.4 211.6h0M83.1 204.7h0M90.6 203.5h0M78.1 202.5h0M85.8 201.7h0M87.8 219.0h0M78.5 210.4h0M82.6 187.4h0M92.8 174.9h0M94.3 209.3h0M91.9 204.9h0M80.5 180.5h0M90.4 217.3h0M85.2 213.7h0M80.6 89.4h0M85.7 210.4h0M93.1 169.7h0M92.3 201.0h0M84.2 210.0h0M78.8 166.3h0M92.7 185.4h0M94.1 185.4h0M86.2 193.1h0M81.5 198.9h0M86.8 219.9h0M89.3 191.6h0M85.7 216.4h0M83.6 210.3h0M81.8 215.4h0M82.7 211.6h0M78.5 133.9h0M82.0 181.8h0M93.6 209.4h0M77.9 210.8h0M89.8 219.9h0M90.8 101.9h0M84.5 201.7h0M87.6 195.1h0M81.4 215.4h0M88.8 215.6h0M89.9 177.8h0M85.9 201.9h0M93.9 212.4h0M92.1 186.9h0M87.2 206.2h0M89.1 186.8h0M82.3 189.4h0M93.4 213.3h0M88.5 192.4h0M92.6 150.3h0M82.5 208.7h0M94.1 219.9h0M79.5 200.7h0M86.5 195.9h0M79.6 212.9h0M80.9 219.9h0M90.4 207.7h0M78.8 192.0h0M84.1 202.9h0M80.9 218.9h0M91.9 193.9h0M79.1 179.3h0M83.3 179.3h0M92.0 196.3h0M89.2 214.2h0M89.4 197.7h0M94.2 157.2h0M78.1 161.7h0M88.8 199.7h0M90.1 206.3h0M90.2 215.0h0M89.6 184.2h0M78.9 142.2h0M79.1 170.6h0M90.6 178.9h0M87.9 207.4h0M82.1 213.0h0M77.9 168.3h0M86.6 200.9h0M79.2 202.9h0M90.2 202.0h0M83.4 206.8h0M91.2 219.9h0M79.3 219.9h0M85.9 211.3h0M79.4 78.4h0M90.7 213.5h0M87.0 172.1h0M81.6 219.9h0M93.7 219.4h0M89.1 212.6h0M83.3 189.4h0M92.0 213.8h0M84.0 180.0h0M93.4 187.3h0M82.7 213.8h0M94.1 185.8h0M78.8 180.3h0M89.9 194.3h0M82.6 217.2h0M84.8 210.1h0M88.3 215.3h0M78.5 198.8h0M81.4 167.5h0M79.5 205.7h0M90.0 89.7h0M81.4 129.8h0M86.0 191.2h0M83.2 191.9h0M81.6 96.7h0M93.3 217.1h0M86.2 214.6h0M88.5 214.7h0M89.4 120.4h0M91.4 183.9h0M82.1 106.5h0M79.0 136.4h0M85.5 179.6h0M80.5 161.0h0M78.1 187.8h0M93.0 201.4h0M88.1 123.8h0M84.6 213.0h0M80.0 194.4h0M90.4 184.0h0M86.6 199.8h0M80.6 197.7h0M94.1 212.6h0M93.5 185.2h0M93.1 216.0h0M91.5 210.5h0M86.6 171.2h0M82.7 218.2h0M88.6 207.4h0M80.2 183.8h0M88.0 202.4h0M78.8 184.7h0M77.9 181.2h0M89.6 219.9h0M83.4 211.3h0M89.3 209.3h0M90.7 198.9h0M91.6 202.0h0M88.0 202.1h0M91.8 187.6h0M88.7 218.7h0M93.1 207.4h0M92.6 205.0h0M78.4 188.4h0M82.2 178.3h0M84.2 206.3h0M81.9 205.6h0M80.7 136.8h0M92.3 198.7h0M78.1 181.1h0M80.7 215.8h0M90.4 190.6h0M81.4 133.4h0M82.0 195.1h0M93.8 197.0h0M90.4 183.5h0M85.2 209.8h0M80.0 171.8h0M82.2 194.4h0M94.0 219.9h0M90.9 207.9h0M78.9 179.8h0M89.5 199.8h0M84.0 211.6h0M89.7 190.2h0M82.6 201.8h0M79.9 189.6h0M78.0 171.6h0M82.6 181.6h0M92.0 209.8h0M92.6 183.9h0M89.1 199.8h0M90.2 209.2h0M81.0 127.0h0M83.6 209.0h0M92.7 213.9h0M94.1 219.9h0M85.1 203.3h0M90.6 201.6h0M93.3 189.6h0M94.3 207.0h0M82.6 202.0h0M88.6 219.9h0M84.2 211.9h0M85.5 172.5h0M85.4 78.2h0M82.4 219.9h0M78.0 216.5h0M90.5 217.1h0M89.3 208.8h0M91.7 219.9h0M80.3 161.4h0M81.7 199.7h0M87.6 205.6h0M93.3 212.9h0M85.6 173.4h0M81.1 196.3h0M87.6 187.2h0M93.7 196.0h0M92.2 144.1h0M92.7 208.9h0M84.6 181.4h0M82.1 200.7h0M92.2 190.0h0M90.8 16.6h0M91.9 199.6h0M84.2 159.9h0M82.5 161.7h0M92.2 212.6h0M93.0 197.5h0M83.8 185.0h0M92.3 188.6h0M84.1 194.9h0M85.2 195.8h0M87.1 204.5h0M81.4 172.1h0M82.2 154.1h0M82.2 196.3h0M82.0 195.5h0M86.3 219.9h0M79.4 201.4h0M90.7 197.1h0M80.6 169.3h0M85.1 210.4h0M88.4 220.1h0M80.0 212.6h0M84.5 214.9h0M87.1 207.4h0M86.9 196.2h0M92.6 190.5h0M90.8 158.7h0M79.7 209.8h0M91.6 202.8h0M86.9 201.0h0M89.0 187.6h0M80.4 184.6h0M85.6 193.5h0M89.4 193.7h0M91.0 186.3h0M91.1 136.0h0M81.3 192.3h0M91.6 199.4h0M87.2 136.7h0M88.8 188.1h0M91.9 198.5h0M84.5 195.2h0M93.0 201.8h0M92.4 209.7h0M91.2 204.8h0M84.0 219.9h0M86.5 207.1h0M80.6 178.1h0M90.4 178.8h0M92.5 195.1h0M90.1 189.5h0M89.3 212.7h0M78.3 201.7h0M93.0 214.8h0M85.7 41.1h0M82.2 204.5h0M78.2 195.1h0M90.7 212.1h0M83.3 188.8h0M86.3 219.9h0M81.0 186.0h0M87.8 219.9h0M84.3 179.0h0M91.1 103.0h0M88.8 208.1h0M89.7 195.4h0M81.9 151.9h0M78.8 199.3h0M92.4 214.6h0M93.3 160.7h0M88.4 217.0h0M93.1 219.9h0M89.5 210.7h0M87.8 184.0h0M84.7 186.3h0M83.6 219.5h0M85.9 204.3h0M81.4 203.3h0M84.8 206.1h0M86.2 212.0h0M78.2 194.8h0M84.3 209.8h0M82.5 70.1h0M88.3 202.3h0M91.2 211.3h0M87.9 214.1h0M88.8 213.6h0M87.9 219.0h0M82.0 198.7h0M84.0 173.7h0M91.8 214.7h0M93.5 190.9h0M80.7 180.9h0M77.9 219.9h0M93.7 149.1h0M92.0 164.1h0M87.8 204.8h0M91.3 209.3h0M87.6 170.6h0M92.8 179.7h0M81.8 200.3h0M85.1 170.0h0M88.9 176.5h0M81.3 164.0h0M89.6 174.9h0M82.1 182.0h0M89.5 127.3h0M91.1 193.0h0M84.8 203.1h0M94.2 210.0h0M88.2 185.8h0M90.3 132.8h0M78.1 48.6h0M79.6 197.2h0M89.6 206.2h0M93.4 219.9h0M88.2 199.5h0M92.9 109.8h0M78.7 177.2h0M92.6 196.0h0M92.3 186.6h0M88.2 134.3h0M84.9 218.1h0M89.5 196.5h0M81.8 219.9h0M88.8 208.4h0M89.3 212.1h0M86.7 181.8h0M82.0 213.7h0M77.8 171.3h0M81.0 215.2h0M91.6 214.7h0M81.3 150.2h0M79.0 208.7h0M81.8 194.3h0M86.4 219.9h0M87.5 218.1h0M92.3 217.3h0M91.9 206.7h0M93.8 200.6h0M92.4 202.9h0M85.2 156.1h0M80.1 208.1h0M93.6 218.2h0M81.5 190.4h0M88.1 214.1h0M82.1 203.7h0M91.3 177.4h0M81.1 217.5h0M84.7 189.3h0M81.4 192.1h0M92.0 195.6h0M88.0 210.4h0M88.2 189.9h0M83.0 219.9h0M80.7 210.0h0M92.0 215.6h0M90.4 217.5h0M89.9 149.6h0M94.3 200.0h0M87.0 213.7h0M80.7 183.2h0M87.9 219.9h0M82.5 157.8h0M86.3 195.3h0M85.4 208.7h0M87.1 161.3h0M93.1 212.6h0M91.2 204.3h0M84.6 191.5h0M91.3 219.9h0M92.0 214.8h0M90.6 201.4h0M86.9 188.8h0M92.7 199.9h0M85.9 209.1h0M79.5 162.9h0M82.2 217.0h0M88.7 163.5h0M84.0 170.7h0M84.8 202.6h0M84.4 208.2h0M80.9 97.1h0M79.3 213.6h0M78.5 168.3h0M88.9 207.9h0M83.1 185.3h0M85.3 47.3h0M93.3 204.0h0M88.1 196.4h0M91.2 202.2h0M90.4 182.3h0M93.6 172.2h0M78.8 211.3h0M84.1 219.9h0M93.5 208.8h0M85.4 215.4h0M93.5 207.9h0M80.8 215.9h0M78.7 178.5h0M92.6 210.0h0M84.6 82.9h0M86.2 208.8h0M93.3 208.3h0M81.4 200.3h0M93.8 186.7h0M84.3 183.9h0M81.8 205.2h0M81.6 199.1h0M86.3 196.5h0M85.5 212.8h0M92.5 218.7h0M78.6 184.9h0M78.5 185.2h0M80.3 206.8h0M87.8 197.9h0M90.7 203.7h0M85.7 219.9h0M87.9 219.9h0M88.4 208.5h0M78.0 170.7h0M81.8 176.6h0M94.3 205.6h0M83.2 120.8h0M93.5 179.6h0M85.9 202.3h0M81.4 219.9h0M77.8 156.0h0M81.3 132.3h0M83.1 86.2h0M85.0 151.8h0M85.2 203.4h0M86.8 199.6h0M85.6 209.4h0M78.3 99.4h0M82.2 208.9h0M93.7 203.0h0M78.2 197.3h0M89.9 199.4h0M85.6 219.9h0M89.5 201.6h0M83.3 184.3h0M83.9 209.9h0M86.3 153.5h0M92.9 186.5h0M83.2 183.2h0M79.1 144.0h0M78.4 214.1h0M92.4 206.7h0M82.9 213.1h0M79.7 180.3h0M87.6 213.0h0M91.8 184.0h0M87.7 178.7h0M80.2 184.1h0M84.5 217.3h0M78.0 173.6h0M93.8 170.5h0M85.4 188.8h0M80.0 201.0h0M92.4 208.7h0M94.1 215.3h0M91.3 211.0h0M81.9 192.3h0M80.9 204.9h0M86.5 183.8h0M87.4 196.9h0M92.3 174.8h0M93.8 199.0h0M92.9 142.8h0M83.4 218.8h0M87.5 169.1h0M79.8 214.2h0M86.4 218.4h0M78.9 219.6h0M79.6 214.5h0M79.7 133.5h0M82.7 187.6h0M82.9 174.1h0M89.5 112.3h0M79.0 192.2h0M79.6 208.7h0M88.6 215.7h0M88.9 195.5h0M89.5 181.3h0M89.7 191.9h0M88.8 172.8h0M86.9 208.6h0M90.1 204.7h0M79.1 194.0h0M81.2 217.9h0M90.1 195.6h0M80.9 202.1h0M86.6 202.8h0M82.1 165.5h0M84.9 219.9h0M91.6 46.6h0M88.7 211.9h0M85.1 196.1h0M82.3 176.3h0M91.1 163.8h0M88.7 213.2h0M85.0 197.7h0M92.2 197.0h0M89.2 196.8h0M94.0 208.5h0M88.8 219.9h0M92.7 151.4h0M86.9 195.4h0M89.5 196.8h0M91.7 203.7h0M79.2 121.6h0M85.6 203.7h0M87.8 118.1h0M78.7 206.2h0M90.9 119.4h0M89.6 204.2h0M93.3 119.2h0M83.9 193.2h0M85.5 180.6h0M92.9 194.6h0M84.6 211.0h0M91.6 207.2h0M84.7 219.9h0M83.3 194.3h0M82.3 155.5h0M81.3 179.8h0M84.9 215.6h0M80.4 179.8h0M91.5 159.5h0M93.9 219.9h0M79.3 219.8h0M78.6 190.4h0M77.8 210.1h0M93.2 195.7h0M78.9 210.0h0M89.0 186.6h0M82.8 219.9h0M81.0 204.4h0M81.8 200.4h0M89.2 204.1h0M78.0 216.8h0M92.1 213.7h0M87.2 210.3h0M81.6 152.2h0M81.2 154.8h0M88.6 219.9h0M88.2 214.4h0M83.0 178.9h0M83.3 168.2h0M85.4 211.4h0M92.9 197.6h0M86.7 210.1h0M91.7 217.6h0M88.4 163.5h0M87.1 213.7h0M85.9 207.9h0M100.0 175.9h0M98.4 175.8h0M100.4 198.0h0M95.9 136.0h0M97.0 209.7h0M101.6 199.1h0M97.6 210.7h0M101.4 206.0h0M102.2 219.9h0M99.2 206.5h0M95.2 192.2h0M100.7 203.0h0M99.9 202.6h0M96.8 210.9h0M101.5 216.1h0M98.4 210.9h0M94.8 206.4h0M94.9 193.3h0M96.3 193.2h0M99.4 211.0h0M101.1 196.2h0M95.2 161.8h0M94.5 214.4h0M99.5 212.5h0M97.8 199.2h0M98.0 219.9h0M101.2 218.8h0M102.0 214.4h0M102.4 212.6h0M100.8 219.9h0M94.4 207.6h0M95.6 205.4h0M99.2 213.4h0M102.3 201.7h0M95.0 219.5h0M98.6 187.0h0M97.7 196.8h0M97.7 210.3h0M96.6 206.7h0M96.6 207.3h0M96.3 196.8h0M95.2 190.0h0M99.0 188.6h0M98.1 208.0h0M100.3 156.9h0M99.7 219.9h0M102.3 211.2h0M97.2 214.1h0M101.7 207.0h0M97.6 193.3h0M99.9 219.5h0M101.1 214.2h0M97.7 188.6h0M98.1 212.2h0M99.6 206.6h0M95.3 201.6h0M98.8 213.0h0M95.1 210.8h0M96.2 194.3h0M99.5 210.3h0M102.4 210.2h0M102.7 212.0h0M96.5 157.3h0M95.6 196.9h0M98.7 219.9h0M98.0 215.1h0M97.5 189.9h0M100.8 188.3h0M100.3 217.9h0M99.0 214.2h0M99.5 190.2h0M99.2 208.2h0M100.0 194.4h0M102.1 189.9h0M102.2 214.1h0M102.5 198.0h0M101.5 204.0h0M95.2 127.1h0M98.1 219.0h0M100.9 210.2h0M96.8 171.4h0M99.4 213.8h0M94.8 216.1h0M96.1 207.2h0M97.7 217.4h0M94.9 205.2h0M97.9 217.1h0M96.3 217.0h0M101.5 219.9h0M97.0 191.9h0M97.5 194.3h0M101.0 219.9h0M99.0 207.0h0M94.8 210.6h0M96.2 188.7h0M99.4 200.3h0M96.0 174.8h0M96.4 213.9h0M99.5 219.5h0M98.5 199.3h0M96.6 194.4h0M99.0 215.0h0M99.6 211.6h0M94.7 207.4h0M96.6 210.8h0M96.9 165.9h0M101.7 209.4h0M94.8 191.7h0M97.2 198.9h0M96.0 210.1h0M100.1 209.6h0M101.1 208.1h0M94.8 185.7h0M101.5 184.7h0M100.2 213.9h0M96.2 216.4h0M102.0 208.2h0M96.8 188.4h0M100.9 207.6h0M95.0 181.3h0M98.2 214.1h0M98.6 217.0h0M101.8 217.9h0M101.3 208.6h0M98.9 205.9h0M94.8 210.3h0M97.9 200.1h0M97.5 219.9h0M102.6 201.1h0M100.0 206.7h0M97.7 219.9h0M97.4 179.8h0M100.7 209.0h0M95.2 181.2h0M101.2 217.7h0M99.9 217.5h0M98.0 188.9h0M100.3 197.8h0M97.7 200.7h0M95.6 207.9h0M97.8 216.3h0M94.8 190.3h0M95.1 208.9h0M98.0 213.4h0M101.2 202.7h0M96.1 219.9h0M98.5 204.0h0M102.5 160.7h0M101.2 206.7h0M101.9 204.4h0M100.0 211.9h0M99.3 202.8h0M99.2 212.5h0M99.4 196.1h0M98.2 211.9h0M97.4 151.2h0M96.3 205.1h0M94.9 180.0h0M97.4 207.5h0M100.8 207.2h0M99.0 219.9h0M95.7 208.7h0M101.1 210.4h0M94.7 194.6h0M102.1 195.5h0M99.8 194.3h0M99.0 216.3h0M97.8 189.5h0M101.2 205.2h0M94.4 189.0h0M94.5 192.9h0M98.7 200.0h0M96.8 213.5h0M97.7 212.1h0M98.8 212.1h0M94.7 215.1h0M102.5 211.4h0M100.0 206.1h0M95.2 202.9h0M100.5 207.2h0M98.8 194.6h0M100.1 211.7h0M100.5 206.1h0M102.6 194.9h0M95.3 198.7h0M102.6 216.2h0M98.3 200.8h0M96.0 177.1h0M97.5 160.4h0M97.4 217.3h0M101.8 204.8h0M98.7 206.7h0M94.9 208.5h0M100.3 210.4h0M98.5 190.0h0M101.1 207.3h0M94.7 213.1h0M101.6 206.5h0M101.8 200.7h0M94.4 218.2h0M98.3 207.9h0M95.4 188.8h0M98.8 199.3h0M95.1 206.9h0M101.7 164.5h0M95.9 196.6h0M99.9 219.2h0M99.8 189.4h0M97.0 205.4h0M96.1 198.1h0M102.0 211.2h0M94.7 212.2h0M96.5 202.3h0M97.1 204.4h0M99.2 200.7h0M97.4 203.0h0M95.3 210.3h0M99.1 190.3h0M100.4 207.8h0M100.2 199.0h0M98.4 205.7h0M96.9 162.6h0M94.4 210.7h0M98.8 207.3h0M99.6 186.5h0M98.0 206.0h0M102.3 142.4h0M96.0 208.9h0M101.1 219.9h0M100.3 199.8h0M101.8 185.9h0M102.1 215.1h0M96.3 120.4h0M102.0 195.0h0M97.7 206.7h0M100.0 146.0h0M102.3 202.6h0M99.3 150.3h0M99.2 207.3h0M94.9 219.9h0M99.3 201.3h0M96.4 210.2h0M97.6 219.9h0M97.5 182.5h0M102.5 201.4h0M99.7 202.9h0M100.4 212.2h0M95.8 213.9h0M96.9 201.6h0M101.7 198.4h0M95.4 194.2h0M102.3 210.7h0M97.9 199.6h0M97.6 140.4h0M98.6 198.6h0M98.0 199.7h0M98.3 209.8h0M97.9 191.2h0M100.2 212.7h0M96.7 194.2h0M95.7 185.5h0M98.0 213.6h0M95.1 181.7h0M98.1 213.3h0M98.5 214.7h0M100.9 201.8h0M95.3 209.3h0M97.7 217.4h0M100.9 205.7h0M97.2 211.1h0M101.3 212.0h0M100.3 214.8h0M94.7 180.4h0M97.6 175.0h0M100.7 216.6h0M98.7 193.2h0M100.0 175.8h0M102.6 207.8h0M100.0 213.8h0M98.9 218.7h0M101.4 196.1h0M97.9 201.8h0M94.4 213.2h0M96.6 217.7h0M99.3 204.3h0M102.2 193.6h0M99.4 215.9h0M96.7 212.0h0M102.6 213.5h0M97.7 213.8h0M96.3 194.4h0M99.0 208.0h0M97.2 208.0h0M95.3 193.7h0M100.3 154.1h0M100.1 211.4h0M102.4 181.9h0M95.5 187.8h0M101.9 207.6h0M101.0 208.6h0M96.5 206.5h0M98.3 214.7h0M99.6 215.0h0M97.0 219.9h0M95.3 190.6h0M101.3 213.1h0M95.7 219.9h0M98.4 210.8h0M98.0 189.9h0M101.9 157.4h0M99.0 209.0h0M97.9 216.2h0M102.5 210.0h0M97.3 209.6h0M100.4 170.3h0M96.3 208.4h0M100.7 195.7h0M100.6 212.6h0M101.3 214.4h0M98.4 218.4h0M96.2 219.1h0M99.6 212.4h0M101.9 214.1h0M96.9 212.9h0M94.5 213.1h0M95.9 212.7h0M102.1 216.4h0M94.4 194.8h0M94.8 172.2h0M95.2 212.3h0M101.8 207.3h0M97.5 183.5h0M100.1 218.0h0M100.2 217.1h0M98.0 200.7h0M100.5 220.0h0M98.2 212.0h0M98.9 207.9h0M96.9 205.7h0M94.4 204.6h0M99.3 204.8h0M96.6 197.8h0M96.6 216.4h0M101.7 196.6h0M97.4 207.8h0M95.2 92.8h0M99.6 218.2h0M98.8 187.5h0M94.8 195.6h0M97.3 201.2h0M99.4 219.2h0M96.7 209.8h0M102.6 204.4h0M101.0 191.3h0M98.6 219.9h0M102.0 199.1h0M94.6 204.1h0M96.2 211.9h0M102.0 219.9h0M98.6 162.5h0M95.8 208.0h0M99.1 185.7h0M100.4 201.8h0M99.4 193.4h0M94.7 193.7h0M94.7 185.1h0M97.7 165.3h0M94.5 204.6h0M95.1 217.4h0M99.7 211.8h0M98.0 201.6h0M95.1 209.1h0M101.7 210.0h0M97.4 210.4h0M101.7 211.9h0M99.4 204.5h0M99.5 206.9h0M97.9 219.9h0M100.0 210.6h0M96.4 183.5h0M96.5 182.1h0M101.6 213.3h0M96.1 219.9h0M97.6 180.6h0M100.6 208.6h0M97.1 199.0h0M97.4 214.1h0M101.9 204.8h0M96.1 197.1h0M96.4 219.9h0M101.7 181.4h0M96.6 212.5h0M97.1 216.0h0M101.7 214.4h0M97.0 187.3h0M102.7 190.4h0M101.2 182.8h0M101.4 219.9h0M96.2 214.1h0M96.2 188.6h0M100.6 196.7h0M101.2 219.9h0M96.2 207.2h0M96.1 152.6h0M96.4 196.6h0M95.5 178.3h0M97.9 209.8h0M98.5 184.5h0M99.6 215.5h0M94.8 210.7h0M96.0 207.5h0M95.3 202.9h0M96.6 182.2h0M95.9 203.9h0M102.1 212.4h0M97.5 196.7h0M95.5 215.5h0M99.9 189.4h0M102.5 193.4h0M101.0 219.9h0M99.8 214.4h0M97.5 218.6h0M97.7 199.2h0M96.9 200.3h0M101.1 210.0h0M101.0 214.1h0M98.4 204.8h0M101.5 219.3h0M99.8 196.8h0M100.1 208.0h0M96.6 213.7h0M96.4 204.4h0M96.3 207.1h0M102.0 190.8h0M101.0 170.5h0M101.8 217.7h0M101.2 211.8h0M101.1 213.5h0M98.0 186.4h0M100.7 204.4h0M95.7 213.7h0M99.8 219.9h0M94.7 214.9h0M102.4 191.7h0M101.7 210.7h0M95.7 206.9h0M100.8 177.8h0M101.2 212.1h0M94.7 211.7h0M99.1 213.3h0M97.9 198.8h0M99.5 213.5h0M101.7 185.6h0M100.4 204.4h0M96.1 191.4h0M99.0 214.6h0M99.0 219.9h0M94.5 194.6h0M95.5 201.8h0M97.4 201.1h0M95.8 219.9h0M96.3 219.9h0M100.0 203.8h0M102.4 219.9h0M98.2 210.7h0M99.7 176.5h0M100.7 184.8h0M100.0 208.6h0M99.8 196.1h0M94.4 208.5h0M101.6 216.5h0M95.7 213.3h0M95.9 191.6h0M98.6 191.8h0M99.2 213.9h0M100.6 217.7h0M96.8 190.3h0M102.2 206.8h0M99.6 219.9h0M101.4 164.1h0M98.3 211.3h0M95.0 216.3h0M94.5 219.3h0M99.7 211.6h0M97.9 208.9h0M98.0 190.6h0M97.1 198.3h0M95.8 202.5h0M98.3 214.8h0M96.5 197.4h0M101.8 198.5h0M95.8 177.7h0M102.4 201.0h0M101.5 219.9h0M97.6 219.9h0M100.8 184.9h0M99.2 216.3h0M98.2 213.1h0M101.1 212.4h0M101.3 212.0h0M96.0 196.3h0M101.9 203.0h0M94.6 206.8h0M94.4 201.6h0M98.4 213.6h0M96.9 201.2h0M97.9 219.9h0M98.3 215.4h0M98.3 203.6h0M101.9 216.6h0M102.0 191.8h0M97.2 212.8h0M96.8 209.5h0M99.8 190.4h0M96.0 217.7h0M97.7 198.5h0M100.3 213.4h0M94.4 213.8h0M100.8 182.8h0M100.5 191.1h0M97.6 219.9h0M96.4 203.0h0M98.9 208.4h0M96.8 196.5h0M101.2 211.9h0M99.3 214.3h0M96.9 206.5h0M101.1 203.8h0M99.4 216.0h0M95.5 172.7h0M97.8 187.1h0M98.4 219.3h0M102.2 206.0h0M97.0 191.1h0M98.1 209.6h0M102.5 176.5h0M97.9 212.1h0M101.2 207.7h0M95.2 217.4h0M97.6 184.8h0M95.9 209.1h0M101.7 196.6h0M99.0 173.3h0M96.2 209.5h0M95.1 218.3h0M97.9 211.2h0M95.2 192.9h0M98.4 198.8h0M100.4 167.3h0M96.9 209.4h0M95.8 216.0h0M97.4 204.4h0M95.7 194.1h0M101.4 216.2h0M95.2 213.6h0M100.5 196.9h0M97.1 178.5h0M100.4 191.9h0M100.8 199.8h0M95.5 187.9h0M100.7 211.5h0M102.2 196.1h0M99.1 205.7h0M99.7 219.9h0M97.0 197.5h0M95.8 210.4h0M100.6 161.4h0M101.2 173.6h0M96.1 218.9h0M95.3 184.5h0M97.3 207.0h0M99.6 219.9h0M97.4 215.0h0M102.4 200.4h0M100.9 214.7h0M102.0 217.5h0M99.3 177.6h0M100.6 176.5h0M102.3 195.5h0M94.7 216.5h0M99.1 213.9h0M95.9 190.7h0M101.0 208.7h0M96.3 219.9h0M100.5 201.2h0M97.1 202.3h0M99.8 211.4h0M100.0 212.3h0M101.9 188.7h0M101.6 215.4h0M98.0 214.9h0M100.1 219.9h0M95.9 199.2h0M95.2 193.4h0M100.3 187.9h0M101.9 204.9h0M100.6 200.1h0M98.7 201.1h0M99.6 207.9h0M100.4 213.9h0M112.2 207.6h0M108.7 211.0h0M116.8 212.0h0M108.8 219.9h0M117.7 211.7h0M116.0 206.8h0M115.9 211.9h0M116.6 209.0h0M119.1 202.3h0M119.2 215.3h0M111.0 212.3h0M109.0 218.0h0M114.9 215.9h0M118.8 211.5h0M113.2 207.7h0M103.1 215.2h0M103.3 219.0h0M110.4 213.1h0M115.8 202.9h0M117.4 219.7h0M108.9 218.7h0M111.3 211.9h0M111.2 217.2h0M104.3 219.9h0M102.7 217.6h0M111.4 219.9h0M111.1 212.8h0M117.1 219.5h0M105.7 205.5h0M116.9 202.3h0M107.2 193.7h0M111.7 200.4h0M114.4 164.1h0M105.1 210.8h0M118.4 203.2h0M118.6 205.6h0M118.8 219.9h0M102.7 218.9h0M113.4 203.1h0M113.8 108.3h0M117.3 219.9h0M106.0 180.6h0M104.7 219.9h0M116.1 209.1h0M107.0 199.9h0M103.8 207.5h0M104.2 198.0h0M113.4 206.2h0M111.6 210.9h0M115.1 215.0h0M116.1 209.3h0M102.7 191.8h0M118.2 218.4h0M117.3 211.6h0M118.2 212.3h0M115.5 214.5h0M109.1 209.8h0M106.8 209.1h0M117.9 215.3h0M109.7 211.5h0M110.8 195.8h0M114.3 189.2h0M114.1 207.1h0M114.2 207.8h0M113.1 209.5h0M111.1 207.8h0M115.4 216.5h0M109.3 212.9h0M107.0 209.0h0M117.8 210.8h0M116.8 208.4h0M114.6 204.0h0M105.5 184.7h0M103.4 150.1h0M118.0 219.3h0M118.4 216.5h0M107.2 203.8h0M113.2 208.6h0M103.0 209.4h0M109.2 205.7h0M114.4 215.6h0M108.7 219.9h0M116.1 215.5h0M117.9 186.0h0M105.0 149.4h0M114.1 186.5h0M108.9 201.0h0M105.6 207.9h0M108.5 195.1h0M110.7 191.8h0M117.6 203.3h0M115.4 206.3h0M102.8 213.8h0M103.6 197.1h0M119.2 215.0h0M111.9 214.9h0M112.8 210.1h0M108.5 217.8h0M116.5 211.9h0M111.9 215.3h0M112.5 219.2h0M106.8 203.2h0M115.6 209.7h0M106.2 209.4h0M105.0 187.5h0M112.6 215.1h0M116.5 214.6h0M107.6 200.9h0M107.7 213.7h0M105.2 218.0h0M112.7 210.4h0M115.5 208.4h0M104.8 206.7h0M111.6 199.2h0M111.7 214.9h0M104.5 148.7h0M111.5 213.2h0M107.2 197.1h0M106.0 211.0h0M119.1 219.9h0M104.2 217.1h0M108.4 211.0h0M113.0 212.7h0M109.4 159.7h0M103.0 200.7h0M117.1 219.9h0M106.7 183.8h0M109.5 215.8h0M117.8 210.4h0M118.8 216.3h0M117.9 216.3h0M109.5 210.3h0M115.1 198.1h0M116.8 219.9h0M106.0 212.9h0M118.8 216.0h0M104.4 219.9h0M113.6 218.8h0M106.7 212.0h0M106.3 214.5h0M105.0 219.9h0M118.4 217.5h0M104.8 219.7h0M117.9 217.4h0M105.4 212.2h0M108.2 211.0h0M106.2 154.5h0M119.1 219.9h0M104.2 196.5h0M117.0 219.9h0M107.7 189.3h0M118.5 208.7h0M115.2 203.9h0M107.1 175.3h0M111.2 207.9h0M105.4 201.4h0M109.5 219.9h0M103.1 219.9h0M114.0 217.8h0M112.6 201.1h0M107.2 214.0h0M102.9 213.8h0M118.3 202.8h0M104.8 209.7h0M108.1 200.4h0M103.1 207.4h0M109.1 214.9h0M109.4 214.4h0M111.6 207.2h0M108.1 212.2h0M106.8 212.9h0M115.8 213.6h0M107.3 206.5h0M108.2 214.3h0M110.9 219.5h0M107.2 217.7h0M114.8 205.6h0M104.1 215.2h0M108.1 207.4h0M109.7 212.6h0M107.0 216.4h0M116.7 211.0h0M108.6 210.8h0M109.7 216.4h0M110.5 206.4h0M116.5 214.8h0M106.3 214.5h0M116.5 219.7h0M118.5 217.6h0M107.1 210.8h0M105.5 201.7h0M115.8 216.3h0M107.9 184.2h0M106.5 211.0h0M104.0 219.9h0M112.9 202.9h0M118.3 202.9h0M117.3 215.7h0M112.5 216.8h0M110.0 203.8h0M118.9 197.2h0M113.7 198.9h0M118.6 202.7h0M114.1 207.9h0M114.3 198.3h0M114.3 219.9h0M104.8 206.9h0M106.9 168.2h0M103.8 200.8h0M118.2 206.4h0M119.2 196.8h0M112.7 215.2h0M105.3 202.1h0M104.7 188.5h0M110.1 212.3h0M109.2 208.3h0M105.9 201.1h0M104.2 189.3h0M113.5 200.6h0M115.9 205.2h0M103.7 191.3h0M107.8 164.6h0M107.7 215.6h0M111.7 217.4h0M112.7 199.3h0M109.5 210.3h0M117.1 212.1h0M109.2 203.8h0M107.7 212.6h0M115.4 217.0h0M116.7 193.8h0M117.3 213.5h0M105.5 210.6h0M106.0 205.9h0M110.4 218.8h0M118.8 216.4h0M113.0 208.6h0M113.1 218.3h0M108.1 215.5h0M119.2 177.1h0M105.7 198.4h0M112.0 217.6h0M113.9 207.1h0M116.2 193.7h0M116.2 213.0h0M109.1 203.4h0M107.2 214.5h0M119.0 207.7h0M111.9 192.4h0M107.4 200.7h0M105.0 214.3h0M116.0 217.8h0M116.8 201.5h0M112.2 211.7h0M109.1 207.4h0M113.7 211.8h0M119.0 199.9h0M112.3 210.5h0M115.8 210.6h0M117.4 215.8h0M115.3 210.8h0M110.8 214.2h0M105.6 193.2h0M114.3 218.8h0M116.5 212.0h0M118.7 195.3h0M105.2 199.0h0M104.6 192.1h0M113.3 212.4h0M116.4 203.1h0M104.0 180.7h0M112.9 217.8h0M107.1 218.6h0M119.3 214.9h0M108.7 211.9h0M104.0 204.7h0M115.7 216.2h0M107.7 200.7h0M109.7 214.0h0M104.9 210.0h0M108.2 205.7h0M104.9 213.7h0M107.0 204.9h0M112.3 209.2h0M107.7 219.9h0M113.8 203.3h0M117.7 213.7h0M112.3 218.6h0M103.2 190.6h0M118.7 194.2h0M106.0 200.0h0M108.4 218.6h0M111.4 217.2h0M113.0 218.0h0M108.4 203.1h0M110.0 216.2h0M113.1 219.0h0M110.3 213.7h0M107.4 208.5h0M109.5 203.5h0M109.1 199.4h0M107.5 212.4h0M112.7 209.4h0M111.2 210.9h0M109.5 208.3h0M114.5 197.6h0M116.2 209.1h0M113.5 200.3h0M108.4 213.6h0M118.3 213.2h0M104.4 207.1h0M116.1 189.9h0M109.7 209.4h0M109.3 207.2h0M116.7 216.0h0M113.6 209.4h0M118.9 213.5h0M117.3 214.3h0M104.6 185.4h0M111.1 216.2h0M115.5 180.1h0M104.1 212.0h0M111.7 216.1h0M119.2 213.5h0M106.7 213.6h0M104.6 219.9h0M107.5 219.9h0M108.4 219.9h0M107.4 218.6h0M109.9 216.6h0M116.5 212.8h0M111.3 192.3h0M112.5 209.9h0M104.5 211.7h0M103.8 158.7h0M118.5 204.7h0M108.5 215.9h0M118.4 208.9h0M108.3 198.6h0M113.3 181.0h0M113.7 191.4h0M104.2 207.6h0M103.9 170.9h0M110.0 206.9h0M104.8 215.5h0M107.6 214.9h0M105.9 202.2h0M107.9 211.5h0M110.3 212.8h0M107.9 161.1h0M108.3 212.3h0M110.8 196.0h0M114.0 218.8h0M103.4 192.9h0M119.3 208.4h0M109.8 219.9h0M118.0 213.9h0M102.8 205.7h0M103.6 201.4h0M104.3 181.8h0M117.9 201.8h0M109.5 217.9h0M116.8 216.9h0M114.2 216.9h0M104.1 213.3h0M108.7 213.7h0M108.2 213.7h0M110.2 215.0h0M115.2 215.1h0M104.1 179.1h0M118.1 215.4h0M110.6 214.2h0M108.8 208.7h0M114.3 203.5h0M107.3 209.7h0M114.5 216.1h0M109.6 210.8h0M110.6 217.7h0M105.8 170.1h0M106.1 203.7h0M117.0 196.7h0M112.3 195.2h0M109.7 219.9h0M115.6 199.0h0M117.9 213.3h0M105.3 218.1h0M119.3 203.2h0M102.9 211.5h0M112.9 211.6h0M107.1 200.3h0M106.9 207.4h0M110.9 205.5h0M112.7 212.4h0M109.9 203.0h0M114.6 164.9h0M118.5 209.4h0M105.5 219.9h0M106.6 213.7h0M112.8 215.0h0M109.5 208.6h0M107.9 214.6h0M111.1 210.4h0M114.3 196.3h0M117.8 210.6h0M118.3 215.5h0M116.3 208.2h0M108.4 206.2h0M117.4 219.9h0M114.5 211.9h0M105.6 207.3h0M118.5 219.9h0M106.8 218.6h0M114.0 197.7h0M114.2 211.1h0M117.8 213.5h0M113.8 205.2h0M119.0 219.0h0M103.7 205.2h0M103.3 203.6h0M105.9 197.9h0M112.3 218.9h0M109.7 206.2h0M104.1 210.8h0M106.0 196.0h0M112.3 217.2h0M109.4 215.6h0M115.4 208.8h0M110.5 207.1h0M117.3 219.9h0M115.3 202.4h0M110.9 219.9h0M108.6 192.9h0M106.2 213.4h0M107.5 214.1h0M108.6 215.8h0M108.7 198.4h0M105.7 200.6h0M110.6 207.3h0M104.5 157.6h0M117.1 203.2h0M111.8 217.7h0M104.3 191.9h0M108.1 204.4h0M106.9 209.8h0M105.3 210.4h0M110.7 213.2h0M105.7 215.6h0M105.2 215.0h0M114.4 216.5h0M109.8 178.6h0M113.9 205.6h0M110.5 201.3h0M111.1 218.4h0M107.8 198.6h0M109.8 212.9h0M110.7 211.6h0M108.4 211.3h0M116.4 155.2h0M106.8 210.8h0M106.3 210.7h0M108.4 210.8h0M115.7 219.9h0M116.8 204.1h0M112.1 215.6h0M108.7 219.9h0M113.5 212.1h0M116.4 210.9h0M106.7 195.8h0M113.8 210.7h0M114.5 166.9h0M109.2 215.9h0M105.1 194.3h0M112.8 211.7h0M106.2 207.7h0M108.8 203.7h0M111.7 187.2h0M118.7 201.2h0M105.1 215.0h0M103.9 213.1h0M111.6 213.0h0M118.4 208.3h0M103.4 215.3h0M113.4 212.1h0M103.1 214.2h0M111.8 210.4h0M104.7 185.4h0M113.6 205.8h0M108.7 206.4h0M113.6 198.3h0M107.0 170.4h0M103.9 200.5h0M105.7 219.9h0M107.2 216.9h0M105.4 213.8h0M106.0 213.4h0M111.7 196.5h0M110.0 204.7h0M116.4 216.0h0M111.0 181.9h0M111.7 210.8h0M114.5 206.2h0M116.9 218.6h0M112.4 200.9h0M103.3 202.3h0M110.3 194.2h0M103.2 202.1h0M112.7 207.2h0M103.8 219.9h0M111.7 196.1h0M105.2 187.4h0M116.9 214.6h0M104.2 144.5h0M113.7 201.7h0M114.4 214.7h0M107.3 184.1h0M112.5 213.2h0M108.2 197.4h0M107.0 204.9h0M107.0 219.9h0M102.9 214.8h0M113.9 209.6h0M103.9 212.6h0M106.0 216.4h0M104.1 206.5h0M116.1 213.0h0M111.5 199.9h0M110.5 206.6h0M112.4 199.2h0M116.1 202.3h0M113.1 216.2h0M111.2 207.6h0M107.9 215.7h0M111.3 212.7h0M119.1 215.8h0M112.2 213.5h0M110.6 217.4h0M117.5 216.1h0M103.6 190.1h0M103.7 214.3h0M115.8 216.0h0M118.4 206.7h0M103.5 201.3h0M103.1 218.5h0M102.8 216.6h0M112.3 206.9h0M105.0 201.7h0M112.0 162.7h0M113.7 218.3h0M102.9 193.4h0M117.2 192.9h0M106.9 212.0h0M111.9 196.1h0M108.6 219.9h0M108.4 218.3h0M109.4 202.1h0M102.7 210.7h0M109.8 202.5h0M107.1 197.5h0M108.6 189.7h0M105.4 204.7h0M108.3 202.7h0M114.3 204.3h0M119.1 199.5h0M106.0 203.0h0M117.1 214.5h0M112.9 201.9h0M104.4 214.4h0M102.9 217.5h0M117.4 209.6h0M106.6 217.7h0M104.4 196.8h0M113.6 218.6h0M114.4 211.7h0M117.6 216.2h0M111.0 200.7h0M107.9 184.3h0M108.0 204.6h0M106.1 217.9h0M113.3 215.3h0M118.4 212.4h0M104.1 215.2h0M109.1 191.3h0M108.5 199.5h0M104.0 211.3h0M112.6 213.4h0M119.0 199.9h0M107.3 169.1h0M114.8 213.1h0M117.7 200.3h0M107.2 207.5h0M118.0 211.4h0M115.1 215.8h0M113.4 210.0h0M105.9 203.9h0M107.3 205.4h0M104.4 216.8h0M117.6 215.7h0M116.1 172.2h0M104.1 215.7h0M111.5 213.4h0M106.2 216.7h0M115.4 208.7h0M112.2 219.9h0M118.4 213.4h0M114.8 187.4h0M104.4 180.8h0M108.9 213.4h0M112.3 218.4h0M117.9 217.0h0M108.9 205.7h0M105.8 213.8h0M107.4 187.7h0M106.8 198.7h0M105.3 213.3h0M108.4 206.8h0M106.8 211.5h0M111.2 172.6h0M117.6 217.9h0M118.6 199.6h0M105.3 184.8h0M112.2 216.7h0M113.9 217.8h0M105.2 214.0h0M111.5 211.7h0M106.0 213.8h0M108.7 187.9h0M108.1 214.8h0M116.2 212.6h0M106.6 179.0h0M111.7 180.4h0M112.4 217.0h0M108.2 219.9h0M118.1 215.1h0M108.2 197.1h0M108.1 218.3h0M114.2 205.7h0M110.8 214.3h0M114.7 219.9h0M105.2 200.7h0M105.1 202.6h0M114.9 209.5h0M109.1 208.1h0M116.9 202.3h0M106.6 199.2h0M106.7 213.7h0M117.0 217.5h0M108.7 212.7h0M104.5 215.9h0M106.3 200.3h0M115.5 214.6h0M107.1 214.6h0M111.9 196.2h0M116.6 219.9h0M112.8 214.6h0M115.2 219.9h0M118.9 214.3h0M107.7 213.7h0M117.3 200.3h0M111.8 209.2h0M106.0 198.9h0M104.9 203.1h0M108.1 207.4h0M105.0 192.6h0M115.5 218.5h0M112.0 210.9h0M103.4 219.9h0M117.3 219.9h0M112.6 204.0h0M110.0 200.0h0M105.0 199.5h0M110.5 207.6h0M117.9 215.7h0M112.4 217.5h0M110.3 203.0h0M112.8 209.2h0M111.8 218.2h0M113.1 211.6h0M106.0 202.8h0M105.2 217.0h0M102.9 194.4h0M116.5 211.8h0M102.7 203.3h0M106.9 217.6h0M112.4 212.6h0M111.0 213.2h0M117.7 197.8h0M106.2 205.7h0M104.6 211.5h0M105.3 218.5h0M111.0 217.7h0M107.5 211.6h0M110.3 213.5h0M114.1 219.9h0M108.0 211.1h0M113.7 196.1h0M103.0 217.1h0M111.8 213.2h0M117.8 217.5h0M118.2 201.5h0M112.2 206.7h0M119.0 219.9h0M106.6 204.8h0M107.6 219.9h0M110.1 202.8h0M111.1 210.9h0M116.3 214.7h0M110.1 197.3h0M103.5 217.7h0M114.3 218.7h0M106.4 206.4h0M117.4 209.8h0M106.2 191.2h0M107.6 215.9h0M105.0 144.0h0M107.7 214.7h0M112.7 203.4h0M107.1 213.1h0M103.5 203.5h0M112.4 201.8h0M114.9 212.3h0M104.5 216.9h0M109.7 214.4h0M103.8 219.9h0M103.0 210.7h0M108.9 201.0h0M107.4 213.5h0M117.2 189.8h0M102.9 204.1h0M113.4 206.4h0M114.9 209.5h0M109.6 204.8h0M111.0 194.9h0M106.8 190.0h0M106.9 209.5h0M103.6 197.4h0M117.8 215.0h0M103.2 103.7h0M105.0 198.7h0M114.7 208.8h0M110.3 215.6h0M111.2 211.6h0M107.6 216.8h0M105.4 215.6h0M116.0 190.8h0M104.7 205.9h0M107.6 210.0h0M115.2 216.1h0M107.6 212.6h0M118.5 202.8h0M105.6 204.7h0M111.5 208.1h0M111.6 217.2h0M111.0 219.9h0M115.6 217.1h0M103.4 196.1h0M111.8 208.0h0M115.8 217.2h0M103.5 211.2h0M111.8 165.7h0M110.0 204.5h0M109.4 206.1h0M111.6 197.7h0M113.1 216.4h0M114.4 216.6h0M117.6 212.4h0M113.6 218.9h0M119.3 218.6h0M113.7 218.2h0M107.2 218.2h0M105.1 209.0h0M103.9 219.9h0M107.1 207.3h0M104.7 208.4h0M114.1 213.3h0M114.2 216.9h0M112.9 209.6h0M109.0 206.5h0M110.4 219.9h0M107.0 193.9h0M118.0 218.3h0M102.9 210.1h0M108.0 212.4h0M112.2 204.6h0M105.7 204.5h0M116.9 216.1h0M110.7 198.2h0M108.8 189.0h0M103.7 212.0h0M107.4 217.2h0M112.5 215.5h0M107.4 205.9h0M103.4 152.7h0M112.3 217.4h0M107.7 190.3h0M116.8 202.2h0M114.2 213.3h0M114.7 214.2h0M117.5 205.9h0M116.2 206.7h0M108.2 212.0h0M112.1 213.5h0M107.0 207.2h0M106.0 213.0h0M106.1 198.0h0M104.5 195.6h0M106.7 194.8h0M106.4 214.3h0M113.9 200.1h0M106.9 179.0h0M103.5 205.8h0M109.7 208.2h0M106.0 195.9h0M114.2 215.8h0M106.4 213.5h0M111.9 218.7h0M105.6 204.4h0M110.7 213.3h0M117.1 214.5h0M107.7 207.4h0M111.5 200.1h0M110.0 186.7h0M103.8 181.9h0M103.0 212.9h0M116.7 218.7h0M108.3 201.6h0M114.1 211.8h0M109.5 207.2h0M116.6 215.4h0M105.9 209.3h0M110.7 214.3h0M111.8 208.3h0M115.9 173.2h0M103.2 207.1h0M108.7 210.9h0M110.6 187.4h0M112.5 208.9h0M105.0 188.6h0M111.7 209.6h0M114.2 213.6h0M114.9 214.1h0M106.4 219.9h0M110.0 196.7h0M107.6 219.9h0M109.1 216.6h0M108.7 215.1h0M118.4 218.3h0M102.9 194.2h0M118.5 215.6h0M103.2 195.0h0M104.0 189.5h0M106.1 217.9h0M107.5 203.4h0M117.0 219.9h0M116.7 213.4h0M118.2 219.4h0M109.2 202.9h0M102.9 218.7h0M113.1 214.5h0M117.6 219.9h0M104.5 173.3h0M116.5 214.6h0M102.7 212.5h0M114.9 212.3h0M110.9 208.1h0M117.8 200.1h0M117.2 216.1h0M103.5 204.8h0M111.0 214.0h0M106.7 214.5h0M110.0 204.4h0M103.8 154.2h0M108.7 219.9h0M109.5 211.2h0M102.7 218.8h0M110.6 218.2h0M117.6 216.0h0M103.7 190.8h0M118.4 214.5h0M110.8 217.7h0M106.2 218.1h0M118.8 213.3h0M110.6 218.2h0M110.0 218.5h0M108.9 211.3h0M117.3 211.7h0M104.8 176.8h0M106.2 205.4h0M107.4 209.6h0M103.7 195.0h0M116.7 219.9h0M110.8 184.9h0M112.7 215.6h0M117.4 206.9h0M110.9 210.8h0M107.3 215.3h0M111.5 177.2h0M111.0 214.6h0M107.7 215.3h0M106.5 186.8h0M108.6 213.1h0M114.9 219.9h0M105.4 189.0h0M119.3 213.0h0M106.6 211.3h0M107.2 206.7h0M104.7 218.9h0M109.2 209.2h0M108.9 219.9h0M114.0 207.9h0M117.6 216.7h0M106.8 213.1h0M116.1 219.9h0M107.8 209.6h0M109.4 205.6h0M104.8 212.4h0M117.5 211.7h0M108.9 198.6h0M114.3 213.4h0M103.1 194.6h0M114.3 216.9h0M106.4 210.1h0M110.2 164.1h0M113.9 214.6h0M105.5 215.7h0M111.5 219.9h0M116.6 200.3h0M105.4 203.6h0M110.5 215.9h0M105.7 213.7h0M105.1 190.0h0M110.8 193.5h0M110.3 178.8h0M113.4 198.4h0M117.0 219.5h0M114.4 212.1h0M108.3 204.0h0M110.8 208.0h0M113.9 216.8h0M116.6 204.1h0M114.0 207.7h0M111.0 198.7h0M104.9 204.1h0M117.1 212.4h0M107.4 214.0h0M109.4 200.2h0M117.4 211.9h0M106.1 210.9h0M117.9 206.6h0M106.5 211.6h0M104.1 202.3h0M111.2 208.7h0M115.9 187.0h0M109.4 207.6h0M116.7 217.5h0M109.3 214.5h0M116.2 202.8h0M104.6 210.3h0M107.4 184.7h0M104.7 218.3h0M115.0 216.7h0M110.5 219.9h0M113.6 199.4h0M106.6 215.6h0M114.9 204.7h0M119.2 194.8h0M104.0 114.5h0M108.0 219.9h0M117.1 219.9h0M116.9 211.0h0M117.2 175.1h0M106.5 219.9h0M112.1 213.1h0M104.1 213.1h0M109.9 214.3h0M112.3 213.5h0M107.0 214.9h0M109.7 146.9h0M108.8 180.4h0M104.1 209.2h0M103.8 213.7h0M115.7 213.7h0M102.7 217.0h0M119.1 217.6h0M117.6 214.4h0M119.1 218.3h0M115.8 214.8h0M102.7 219.9h0M104.6 212.3h0M108.0 218.8h0M105.7 214.7h0M103.7 214.5h0M117.9 213.3h0M117.8 190.8h0M115.4 210.4h0M106.9 174.5h0M116.9 207.9h0M116.3 183.0h0M108.1 218.8h0M104.8 205.5h0M104.9 199.5h0M109.5 207.7h0M116.5 215.2h0M104.0 185.6h0M109.8 215.6h0M108.6 202.5h0M117.5 217.1h0M105.2 215.1h0M113.6 193.8h0M108.1 203.9h0M113.4 207.1h0M116.4 206.9h0M116.4 204.4h0M116.7 219.9h0M107.5 208.9h0M107.3 206.4h0M104.7 212.4h0M106.9 218.3h0M104.7 218.7h0M115.7 215.4h0M103.5 160.5h0M105.9 216.0h0M115.8 215.7h0M115.5 204.2h0M118.9 218.3h0M109.1 207.0h0M103.4 213.8h0M116.1 210.8h0M107.4 208.9h0M115.5 217.9h0M103.0 216.3h0M103.3 206.6h0M112.6 216.0h0M114.1 197.4h0M112.0 201.4h0M111.5 215.5h0M112.6 219.9h0M104.9 205.3h0M103.7 195.7h0M108.5 200.7h0M111.8 215.4h0M106.8 209.2h0M105.7 193.5h0M110.1 217.1h0M109.5 203.1h0M107.2 208.0h0M118.1 214.8h0M118.4 219.5h0M103.5 212.3h0M110.7 219.9h0M106.6 208.7h0M108.3 207.2h0M103.2 203.5h0M104.0 206.5h0M103.2 213.0h0M104.8 202.2h0M113.5 208.4h0M104.0 206.9h0M117.4 208.9h0M116.0 196.1h0M107.2 207.3h0M114.2 204.6h0M118.5 219.9h0M104.6 215.0h0M112.0 214.5h0M110.4 219.9h0M107.8 177.4h0M107.5 203.0h0M104.1 171.1h0M113.4 211.6h0M106.0 219.9h0M109.7 205.9h0M118.1 208.9h0M108.5 216.2h0M107.9 203.9h0M118.2 203.1h0M112.4 181.9h0M112.2 182.8h0M106.4 206.2h0M113.3 218.1h0M109.0 216.3h0M111.7 214.3h0M109.3 215.2h0M104.0 212.5h0M117.3 212.4h0M114.2 204.2h0M118.6 195.8h0M107.8 199.6h0M107.4 215.2h0M104.9 193.8h0M107.8 204.8h0M108.1 217.2h0M105.7 201.0h0M107.1 173.8h0M107.6 203.0h0M117.0 219.9h0M110.1 214.9h0M116.3 218.8h0M103.5 207.9h0M105.8 182.5h0M118.5 217.3h0M103.5 161.0h0M103.8 151.0h0M111.3 190.7h0M107.5 202.6h0M105.9 219.9h0M112.8 211.4h0M112.8 196.6h0M105.8 210.0h0M111.7 209.5h0M110.2 190.4h0M116.8 213.1h0M103.8 211.1h0M106.6 185.3h0M112.1 209.7h0M103.2 211.0h0M116.8 210.9h0M118.8 210.9h0M108.1 179.0h0M115.6 199.6h0M106.8 211.9h0M118.5 218.8h0M106.2 195.2h0M102.8 211.0h0M103.8 193.2h0M110.3 211.8h0M103.3 203.9h0M119.0 214.6h0M113.2 214.9h0M112.1 207.6h0M113.1 219.2h0M109.6 206.3h0M117.4 201.5h0M114.5 206.6h0M109.8 211.1h0M107.4 196.6h0M105.1 165.0h0M107.9 213.5h0M108.6 211.9h0M104.0 217.6h0M118.1 217.8h0M107.0 215.2h0M111.7 217.1h0M103.8 206.9h0M111.9 205.4h0M113.4 217.6h0M104.0 219.4h0M118.9 213.8h0M105.4 187.0h0M107.1 201.0h0M114.9 218.1h0M108.3 189.9h0M117.3 214.6h0M106.6 211.5h0M107.9 197.6h0M114.2 219.1h0M117.0 203.6h0M117.4 199.9h0M107.5 216.3h0M111.5 214.5h0M109.5 207.8h0M113.9 212.8h0M106.5 195.1h0M116.6 182.0h0M114.5 207.2h0M105.6 192.4h0M107.9 214.9h0M108.3 213.4h0M118.2 207.5h0M110.3 213.5h0M112.9 215.0h0M118.2 158.9h0M109.3 212.3h0M118.4 217.2h0M107.5 196.6h0M102.9 189.7h0M104.4 209.0h0M114.2 205.2h0M109.0 195.8h0M116.5 218.1h0M111.5 216.3h0M114.1 209.0h0M108.5 200.4h0M112.5 216.5h0M114.3 218.3h0M108.9 210.2h0M110.8 214.5h0M116.7 219.1h0M118.1 216.2h0M108.5 203.7h0M103.8 213.1h0M116.7 207.8h0M110.1 205.4h0M118.8 212.7h0M115.4 202.9h0M108.8 207.5h0M116.8 205.4h0M111.8 190.9h0M114.6 217.0h0M117.4 205.2h0M112.3 219.9h0M135.1 217.3h0M125.9 211.5h0M125.6 202.3h0M130.0 214.0h0M126.1 206.6h0M131.1 215.7h0M128.2 214.9h0M131.7 202.2h0M133.1 208.6h0M128.8 219.9h0M134.5 213.4h0M132.3 218.6h0M133.6 218.2h0M119.6 213.6h0M119.6 215.4h0M129.9 219.2h0M124.9 201.5h0M133.8 199.7h0M125.8 219.8h0M131.7 218.1h0M123.4 197.0h0M129.8 217.3h0M134.3 215.2h0M133.7 218.4h0M125.4 209.2h0M127.3 203.6h0M128.2 216.5h0M125.1 215.3h0M127.4 217.2h0M135.4 219.9h0M134.0 210.6h0M124.6 219.9h0M130.7 209.0h0M135.1 217.1h0M125.3 201.8h0M133.4 209.7h0M132.6 218.1h0M134.1 216.4h0M120.7 195.1h0M134.7 215.3h0M135.6 215.0h0M123.3 216.1h0M129.9 212.5h0M120.8 219.9h0M129.3 216.6h0M131.1 215.3h0M131.7 217.0h0M133.6 217.6h0M124.2 208.0h0M121.2 215.1h0M132.9 219.3h0M119.7 209.2h0M123.2 212.3h0M123.3 219.9h0M132.2 219.9h0M126.7 216.6h0M133.3 211.0h0M130.4 208.6h0M133.3 209.9h0M132.4 219.9h0M134.0 217.9h0M123.9 200.4h0M125.2 216.2h0M129.8 214.6h0M129.0 218.2h0M132.3 201.8h0M132.8 209.8h0M124.4 201.5h0M121.3 207.9h0M131.7 212.4h0M130.8 217.8h0M123.9 213.9h0M120.3 214.7h0M119.7 191.6h0M123.5 206.3h0M123.9 198.4h0M122.8 216.8h0M120.2 217.9h0M122.2 214.1h0M125.1 218.0h0M120.9 218.9h0M122.8 187.6h0M126.6 211.7h0M133.4 211.4h0M133.8 218.4h0M126.1 207.6h0M121.4 219.9h0M123.8 198.8h0M130.5 211.1h0M126.1 213.3h0M128.8 212.5h0M131.6 213.2h0M130.3 203.8h0M133.6 201.6h0M120.7 210.0h0M124.3 210.5h0M119.9 217.4h0M128.0 212.6h0M129.5 219.9h0M123.5 200.0h0M120.2 214.5h0M127.0 219.9h0M122.1 219.9h0M122.6 216.1h0M125.7 219.9h0M135.0 219.0h0M125.3 196.8h0M131.1 206.5h0M125.5 216.0h0M126.1 214.8h0M121.7 218.4h0M122.4 218.0h0M132.1 204.7h0M126.5 204.6h0M124.1 188.3h0M135.7 219.9h0M133.9 198.5h0M123.7 206.5h0M126.5 219.9h0M128.8 210.7h0M122.1 206.8h0M126.4 213.8h0M124.0 214.1h0M132.8 218.3h0M120.9 201.5h0M135.8 217.1h0M123.2 217.0h0M124.8 216.5h0M120.6 207.7h0M134.5 211.0h0M133.1 212.4h0M120.4 197.0h0M128.1 202.9h0M125.8 218.0h0M129.4 218.7h0M124.9 217.0h0M135.2 210.9h0M122.9 210.5h0M133.0 214.3h0M123.8 217.8h0M130.1 213.2h0M126.4 217.2h0M128.1 216.9h0M128.0 218.3h0M129.7 211.4h0M120.5 213.3h0M120.3 202.6h0M135.5 215.5h0M123.5 216.2h0M125.3 206.0h0M123.3 212.4h0M130.1 205.6h0M135.7 213.6h0M126.0 215.7h0M124.7 187.9h0M125.1 211.6h0M119.8 218.2h0M120.8 211.4h0M120.1 195.6h0M124.7 207.7h0M135.7 219.9h0M121.7 173.7h0M128.5 214.7h0M122.8 219.8h0M119.9 203.2h0M133.2 217.8h0M121.4 210.6h0M121.6 212.2h0M132.9 218.6h0M123.4 215.5h0M122.6 200.0h0M135.0 213.3h0M122.6 219.6h0M133.2 217.0h0M124.4 214.6h0M128.7 210.1h0M124.5 204.9h0M125.0 216.7h0M134.8 211.2h0M134.4 214.9h0M122.2 217.7h0M131.4 213.2h0M121.6 214.8h0M124.3 219.2h0M120.5 211.7h0M130.1 212.6h0M131.4 191.6h0M131.7 201.1h0M132.2 213.7h0M125.9 211.8h0M122.3 211.6h0M119.4 194.1h0M126.6 213.9h0M134.8 213.8h0M126.8 214.7h0M129.6 213.0h0M134.6 213.0h0M133.7 212.9h0M131.6 210.8h0M129.2 213.2h0M123.2 211.5h0M131.8 211.6h0M126.3 203.0h0M131.1 217.1h0M123.0 206.5h0M135.0 210.2h0M122.0 219.9h0M132.5 216.4h0M134.1 219.9h0M121.8 211.6h0M133.7 211.7h0M130.0 216.7h0M129.4 209.5h0M123.5 209.5h0M124.8 212.4h0M123.2 216.4h0M126.7 213.1h0M130.1 209.7h0M131.4 215.6h0M131.1 213.4h0M125.1 217.0h0M124.9 173.4h0M132.0 204.3h0M135.5 217.8h0M123.0 208.8h0M126.2 200.3h0M123.9 209.3h0M135.5 214.6h0M119.6 210.8h0M134.2 215.0h0M132.1 199.8h0M124.8 208.2h0M130.6 211.2h0M125.5 212.1h0M129.9 187.5h0M126.4 217.0h0M134.5 210.0h0M126.9 215.5h0M132.8 206.3h0M128.9 210.8h0M125.5 212.0h0M135.4 219.0h0M122.6 213.6h0M134.4 215.3h0M135.6 206.2h0M133.4 219.9h0M129.5 218.0h0M129.7 213.8h0M134.8 213.2h0M126.5 217.2h0M133.0 215.3h0M132.2 205.9h0M133.6 215.1h0M126.7 210.8h0M130.2 209.5h0M120.9 205.6h0M120.5 213.5h0M121.1 207.5h0M131.6 218.9h0M125.2 216.2h0M134.4 209.6h0M120.6 217.8h0M122.2 218.1h0M133.2 210.6h0M126.3 214.7h0M123.0 216.6h0M132.3 219.3h0M123.2 209.5h0M135.5 219.1h0M123.9 204.5h0M133.6 192.7h0M127.3 217.0h0M134.9 216.8h0M124.2 219.3h0M134.7 212.7h0M124.4 216.2h0M126.8 199.8h0M129.8 211.4h0M128.5 211.1h0M130.5 219.9h0M130.9 212.7h0M123.8 219.9h0M119.5 217.6h0M131.4 212.4h0M129.3 216.1h0M128.7 218.2h0M127.6 205.8h0M134.8 215.8h0M124.3 197.7h0M134.5 219.2h0M122.1 210.7h0M130.9 202.2h0M135.0 213.0h0M121.9 217.2h0M132.1 201.6h0M123.9 215.2h0M120.3 195.5h0M126.5 219.9h0M131.0 219.9h0M124.0 216.2h0M135.1 217.8h0M119.4 219.9h0M123.8 210.6h0M125.0 204.7h0M125.5 211.8h0M124.3 202.0h0M119.7 194.5h0M122.8 211.9h0M123.7 219.9h0M130.5 215.3h0M125.6 205.2h0M131.3 199.7h0M126.7 214.1h0M125.0 216.3h0M122.0 207.5h0M123.1 215.1h0M134.3 219.9h0M126.9 217.6h0M124.5 198.0h0M123.0 201.8h0M133.9 202.2h0M131.0 208.8h0M130.9 219.4h0M132.7 216.5h0M123.3 216.8h0M131.5 208.0h0M120.5 212.7h0M130.4 216.8h0M124.7 200.6h0M130.3 216.6h0M123.1 202.5h0M125.2 211.1h0M130.5 206.1h0M135.0 201.0h0M125.0 213.8h0M122.1 215.6h0M121.4 214.3h0M130.5 217.2h0M134.2 219.8h0M119.6 213.8h0M125.1 215.7h0M122.1 213.7h0M135.2 212.3h0M121.5 216.1h0M120.5 207.7h0M132.1 219.9h0M135.9 215.9h0M132.2 217.4h0M121.2 201.6h0M126.1 181.2h0M128.0 217.7h0M134.3 218.0h0M131.9 213.1h0M120.3 209.7h0M126.9 210.1h0M132.3 215.1h0M128.4 210.1h0M130.4 214.7h0M135.4 209.7h0M135.6 218.7h0M133.2 212.5h0M128.8 207.2h0M124.4 215.6h0M122.0 210.1h0M122.1 209.2h0M130.0 196.0h0M132.2 216.5h0M133.6 216.1h0M134.5 203.8h0M124.1 211.9h0M124.9 215.8h0M122.6 214.7h0M128.4 208.6h0M135.1 216.3h0M131.9 212.2h0M126.6 219.9h0M122.0 218.4h0M133.3 200.9h0M134.2 212.1h0M132.1 212.1h0M124.2 203.5h0M125.8 207.7h0M129.0 218.2h0M134.6 209.8h0M123.4 200.8h0M126.3 207.0h0M120.3 219.9h0M119.4 208.5h0M123.4 201.9h0M132.8 217.8h0M130.6 211.0h0M127.3 214.5h0M126.1 199.8h0M123.7 215.2h0M132.1 213.9h0M127.4 205.0h0M120.5 209.9h0M129.8 216.6h0M135.8 208.0h0M120.5 216.9h0M135.9 213.3h0M121.0 211.0h0M124.4 217.9h0M135.6 219.9h0M135.5 202.9h0M122.4 218.2h0M131.3 218.4h0M129.5 217.2h0M125.9 217.3h0M132.4 199.5h0M129.9 211.3h0M123.1 214.8h0M127.5 217.0h0M131.1 175.5h0M129.7 217.8h0M128.4 194.5h0M131.6 217.6h0M121.6 208.5h0M120.0 219.9h0M119.9 219.9h0M129.6 207.3h0M126.5 211.1h0M133.2 217.6h0M135.5 213.0h0M121.2 214.3h0M125.6 209.5h0M126.3 219.9h0M128.4 208.5h0M134.5 216.8h0M129.3 217.3h0M124.4 219.9h0M130.4 216.3h0M124.8 203.9h0M128.6 212.1h0M121.0 216.7h0M128.7 197.5h0M127.3 196.4h0M130.1 195.9h0M128.7 204.2h0M128.9 219.9h0M131.6 216.4h0M121.5 217.1h0M131.8 209.1h0M129.7 214.4h0M130.8 216.8h0M126.0 206.6h0M120.7 214.9h0M134.7 211.2h0M133.1 209.8h0M135.6 210.9h0M127.0 212.4h0M134.0 213.2h0M133.8 215.6h0M128.5 211.0h0M134.3 219.3h0M132.9 214.0h0M121.0 219.9h0M121.5 201.8h0M126.1 198.5h0M128.2 210.0h0M130.2 214.2h0M128.7 218.3h0M133.9 209.5h0M132.6 216.6h0M121.0 205.1h0M125.0 210.2h0M134.1 214.7h0M131.9 214.5h0M119.6 188.9h0M129.7 216.9h0M121.4 219.0h0M127.7 207.7h0M135.9 216.4h0M120.6 196.9h0M133.0 219.1h0M127.4 219.4h0M135.6 208.9h0M133.6 213.1h0M120.4 207.1h0M130.0 209.3h0M133.6 192.8h0M124.0 216.0h0M131.0 208.2h0M123.6 204.4h0M122.7 205.5h0M124.8 217.7h0M124.2 216.6h0M135.3 216.4h0M123.2 205.1h0M126.4 218.6h0M127.4 218.4h0M130.8 206.4h0M135.5 214.6h0M129.5 215.8h0M133.6 214.8h0M121.5 188.9h0M130.3 215.6h0M122.2 216.3h0M133.8 208.1h0M129.2 214.5h0M121.6 216.7h0M133.5 214.9h0M128.1 202.4h0M127.4 213.8h0M120.7 217.0h0M134.4 211.0h0M127.9 214.9h0M133.7 215.9h0M120.6 214.3h0M130.6 212.1h0M125.6 217.7h0M128.2 216.2h0M129.7 218.1h0M133.1 217.4h0M134.7 209.2h0M122.1 218.0h0M133.6 197.6h0M121.3 211.5h0M119.5 217.6h0M124.3 203.1h0M124.1 216.4h0M132.2 214.9h0M128.6 205.0h0M125.8 214.3h0M132.5 216.7h0M134.9 214.2h0M130.0 211.9h0M130.2 217.3h0M133.7 211.1h0M124.2 215.8h0M135.9 216.6h0M122.3 219.9h0M120.1 212.2h0M133.0 209.4h0M122.2 211.5h0M124.9 206.0h0M127.9 210.3h0M121.2 212.8h0M126.4 216.5h0M125.2 213.6h0M120.7 206.1h0M129.4 205.1h0M126.8 212.2h0M122.0 218.2h0M132.4 217.1h0M126.1 219.3h0M119.7 204.6h0M134.0 202.6h0M126.1 219.3h0M120.8 213.2h0M124.1 213.5h0M123.6 199.1h0M120.1 213.2h0M124.8 203.7h0M122.1 212.6h0M122.9 218.9h0M130.5 210.5h0M122.0 205.8h0M119.7 204.3h0M122.3 219.2h0M124.2 206.3h0M122.1 204.0h0M129.3 212.3h0M134.0 207.5h0M133.1 213.9h0M127.1 215.7h0M132.4 208.4h0M132.5 210.5h0M129.9 219.9h0M132.7 207.5h0M125.6 213.7h0M131.8 208.9h0M128.0 218.9h0M131.6 214.3h0M131.6 189.8h0M120.4 212.5h0M133.2 215.6h0M119.9 215.4h0M126.4 198.7h0M129.2 220.0h0M133.0 212.0h0M120.3 208.1h0M130.5 217.2h0M125.1 204.9h0M120.0 218.8h0M124.9 216.2h0M130.0 217.0h0M120.7 211.2h0M133.4 203.0h0M120.0 216.3h0M123.3 211.5h0M124.8 218.0h0M120.4 219.9h0M134.7 219.1h0M135.4 211.2h0M134.4 205.4h0M122.6 216.5h0M133.2 215.5h0M124.9 219.9h0M124.1 197.5h0M130.8 214.0h0M120.7 200.3h0M119.4 218.4h0M134.8 214.3h0M125.2 214.5h0M132.5 217.3h0M126.4 213.1h0M120.9 210.3h0M127.2 215.6h0M122.2 183.2h0M120.7 211.0h0M119.6 211.4h0M126.0 215.7h0M123.6 173.7h0M124.9 216.7h0M135.3 216.3h0M133.1 219.9h0M131.1 191.5h0M123.4 219.9h0M131.8 216.0h0M130.9 213.1h0M128.1 210.8h0M123.3 206.0h0M122.8 213.6h0M126.3 206.2h0M123.9 215.8h0M134.0 203.3h0M127.1 213.0h0M130.6 207.4h0M134.2 212.8h0M129.7 219.1h0M122.0 215.9h0M124.6 219.9h0M134.7 209.8h0M120.1 217.4h0M123.0 201.8h0M129.6 210.8h0M133.5 209.3h0M133.0 217.8h0M131.5 207.7h0M131.0 219.4h0M125.5 208.6h0M120.3 210.6h0M129.9 207.2h0M120.5 201.9h0M132.6 219.9h0M121.5 217.4h0M119.7 211.2h0M135.9 212.2h0M122.1 214.6h0M129.0 213.2h0M120.3 218.2h0M135.6 213.2h0M119.6 209.2h0M130.8 217.9h0M133.4 214.8h0M124.3 213.0h0M119.5 214.2h0M119.9 218.9h0M120.3 211.5h0M131.9 219.9h0M128.1 207.3h0M134.2 207.8h0M129.8 211.2h0M129.2 212.5h0M122.7 197.2h0M123.0 207.7h0M135.6 213.1h0M135.2 209.1h0M126.6 211.6h0M132.5 209.6h0M131.3 211.1h0M123.9 217.1h0M122.6 179.7h0M131.8 206.5h0M135.3 205.3h0M135.7 201.6h0M125.3 215.1h0M120.4 213.5h0M124.6 215.7h0M120.5 214.8h0M135.8 204.9h0M124.4 142.4h0M133.4 212.9h0M123.4 206.9h0M135.3 211.3h0M127.5 215.1h0M133.2 219.9h0M129.3 218.4h0M132.1 209.6h0M120.5 206.3h0M120.8 219.9h0M125.3 219.9h0M133.9 193.4h0M134.5 217.3h0M131.1 220.0h0M129.3 166.2h0M120.1 217.4h0M134.8 218.3h0M130.3 217.4h0M129.6 206.5h0M133.3 215.8h0M123.3 218.8h0M129.6 216.1h0M130.7 212.5h0M131.9 211.6h0M120.9 215.8h0M131.4 206.6h0M134.3 213.2h0M129.8 215.2h0M122.1 219.9h0M134.6 211.9h0M121.0 202.2h0M123.2 211.0h0M133.5 197.6h0M129.1 215.2h0M124.9 209.5h0M132.7 218.9h0M130.1 211.6h0M121.3 217.0h0M123.2 217.3h0M132.8 210.6h0M132.8 211.9h0M120.6 215.1h0M128.0 219.9h0M131.2 219.9h0M124.7 218.1h0M120.4 180.0h0M126.3 210.6h0M134.9 217.8h0M131.5 210.4h0M122.9 204.8h0M133.4 212.2h0M130.4 189.6h0M124.1 213.2h0M123.8 202.8h0M122.3 196.7h0M126.1 219.6h0M125.3 215.2h0M124.1 214.7h0M133.9 219.9h0M132.0 219.9h0M127.5 205.6h0M135.3 219.9h0M130.5 208.7h0M135.2 210.3h0M133.0 216.6h0M129.9 211.1h0M130.9 204.0h0M132.2 196.9h0M131.9 219.9h0M133.9 212.2h0M125.0 217.2h0M125.4 211.0h0M123.4 219.9h0M134.7 218.9h0M134.4 218.7h0M126.7 218.8h0M126.0 215.1h0M121.5 217.2h0M135.5 212.3h0M130.5 217.3h0M135.4 217.2h0M129.8 218.2h0M127.9 214.7h0M131.8 216.7h0M134.1 214.8h0M133.4 205.4h0M125.1 212.6h0M127.8 216.2h0M135.0 215.6h0M127.7 209.7h0M132.7 218.7h0M128.1 212.7h0M133.2 215.1h0M120.5 213.5h0M119.3 215.2h0M120.8 205.5h0M126.6 204.6h0M125.4 212.6h0M135.3 214.4h0M135.9 208.9h0M121.6 195.2h0M133.2 214.4h0M127.8 206.9h0M133.3 213.9h0M125.5 213.9h0M132.2 217.8h0M119.4 215.8h0M127.1 217.5h0M124.9 212.3h0M123.5 218.1h0M124.3 198.8h0M126.3 216.5h0M127.6 210.6h0M128.1 218.4h0M131.5 214.7h0M133.1 217.0h0M135.3 217.7h0M130.5 196.6h0M123.6 210.7h0M129.0 217.3h0M126.6 207.9h0M123.2 213.7h0M124.9 192.6h0M123.1 181.4h0M128.3 218.7h0M120.4 217.8h0M128.4 210.0h0M126.2 209.6h0M119.4 206.9h0M123.9 211.4h0M135.5 217.3h0M129.0 215.0h0M120.4 217.7h0M128.9 219.6h0M131.0 212.7h0M121.6 217.3h0M126.0 211.1h0M122.9 196.7h0M128.3 217.9h0M133.0 215.0h0M123.3 188.1h0M121.6 200.9h0M121.6 210.8h0M129.5 218.3h0M120.5 196.0h0M128.1 210.1h0M132.8 207.5h0M132.1 205.9h0M130.5 211.5h0M119.5 216.3h0M126.5 214.4h0M123.4 215.8h0M127.9 207.8h0M121.8 199.9h0M121.6 214.3h0M135.2 217.5h0M134.0 201.3h0M120.9 212.0h0M133.1 217.4h0M120.4 203.6h0M125.0 193.7h0M135.9 214.8h0M135.0 200.8h0M127.1 208.4h0M131.0 211.7h0M125.7 217.4h0M133.4 217.5h0M124.6 213.6h0M122.8 212.7h0M121.7 206.3h0M129.8 211.8h0M128.6 212.3h0M134.3 206.6h0M121.8 218.8h0M132.7 210.9h0M135.0 217.8h0M131.7 219.9h0M121.2 213.8h0M121.9 219.9h0M120.8 219.6h0M124.9 206.1h0M131.9 202.4h0M121.7 204.9h0M126.8 216.9h0M120.1 217.3h0M130.6 211.2h0M121.0 216.6h0M132.5 211.1h0M129.5 217.7h0M122.5 202.7h0M130.9 217.4h0M125.1 214.4h0M128.0 205.9h0M128.6 217.5h0M123.8 215.0h0M126.3 211.9h0M132.4 208.9h0M133.7 215.4h0M133.4 203.4h0M128.8 218.6h0M133.8 214.5h0M121.7 197.5h0M135.7 216.7h0M120.1 212.0h0M134.3 219.0h0M132.5 203.4h0M125.8 219.9h0M132.5 216.2h0M135.3 214.2h0M122.1 196.3h0M130.1 214.4h0M119.4 212.8h0M130.4 203.0h0M120.3 218.0h0M130.4 216.8h0M119.8 212.5h0M126.0 190.2h0M133.7 196.1h0M124.4 218.5h0M135.4 214.7h0M127.2 216.5h0M122.3 215.4h0M134.9 215.4h0M121.9 213.5h0M129.2 217.5h0M135.0 214.2h0M135.0 218.3h0M128.6 212.3h0M122.9 210.6h0M127.6 218.6h0M124.2 219.5h0M124.6 207.0h0M124.6 213.9h0M122.7 196.6h0M120.0 214.4h0M131.8 214.9h0M119.5 196.8h0M128.9 219.4h0M125.4 197.9h0M130.1 196.0h0M129.0 210.8h0M127.3 218.8h0M132.3 214.4h0M128.8 209.1h0M134.3 213.4h0M129.1 210.6h0M133.9 203.7h0M133.7 218.8h0M131.1 216.1h0M124.8 207.9h0M127.4 205.7h0M120.6 206.6h0M131.4 217.7h0M130.1 216.4h0M132.9 199.7h0M120.7 199.4h0M121.5 213.6h0M130.1 212.1h0M131.5 211.6h0M120.5 214.3h0M119.8 191.9h0M124.7 206.7h0M125.0 209.6h0M120.2 206.9h0M120.9 219.1h0M122.7 214.2h0M119.6 217.1h0M121.8 205.2h0M119.7 203.5h0M125.5 216.2h0M131.8 216.8h0M130.3 214.0h0M129.4 206.0h0M127.1 210.4h0M122.4 219.4h0M120.1 207.6h0M122.4 214.3h0M135.1 214.1h0M132.9 214.7h0M128.8 212.8h0M129.5 218.9h0M131.7 211.2h0M133.0 217.9h0M123.3 215.0h0M132.7 217.4h0M130.1 208.8h0M123.9 216.6h0M124.1 210.8h0M122.2 199.4h0M128.4 212.2h0M135.4 218.6h0M132.5 206.1h0M122.1 205.9h0M121.3 207.9h0M124.0 215.0h0M122.1 213.1h0M121.7 216.8h0M131.5 216.7h0M124.6 215.8h0M128.7 218.1h0M124.6 209.5h0M135.7 217.1h0M129.2 207.0h0M121.6 205.9h0M132.3 215.5h0M124.1 219.4h0M126.9 210.2h0M124.1 208.5h0M127.5 205.3h0M124.4 212.3h0M124.7 211.4h0M121.9 213.8h0M135.3 214.6h0M122.8 212.3h0M124.0 211.0h0M126.1 211.8h0M121.3 209.3h0M123.1 198.4h0M126.1 217.1h0M129.0 209.1h0M128.2 216.0h0M125.5 211.6h0M130.6 206.5h0M131.7 219.9h0M123.7 219.9h0M123.3 218.0h0M129.7 219.9h0M126.2 209.2h0M133.1 200.7h0M119.5 215.6h0M128.3 209.4h0M125.1 197.4h0M122.9 208.7h0M133.8 215.5h0M122.9 215.4h0M132.4 212.0h0M133.5 216.6h0M135.4 213.3h0M121.3 209.6h0M121.9 214.1h0M120.7 209.2h0M124.7 217.6h0M134.4 213.8h0M130.0 173.8h0M121.9 213.8h0M121.1 184.7h0M131.8 219.2h0M129.7 214.1h0M119.4 213.9h0M129.1 217.9h0M122.5 203.2h0M124.2 218.7h0M121.0 195.1h0M135.8 209.9h0M126.9 215.2h0M129.6 209.8h0M122.7 219.9h0M125.6 204.6h0M130.1 208.6h0M131.7 195.3h0M134.4 212.5h0M123.4 219.1h0M123.3 196.2h0M126.0 209.0h0M124.5 216.5h0M133.0 216.2h0M125.5 217.0h0M125.5 216.1h0M127.7 211.8h0M128.7 189.2h0M125.2 215.5h0M119.5 190.4h0M131.6 205.2h0M121.2 195.0h0M133.5 216.7h0M123.4 218.3h0M123.6 209.2h0M128.2 217.6h0M134.4 213.0h0M125.7 203.3h0M127.3 214.6h0M126.2 209.8h0M121.2 192.4h0M124.1 211.7h0M134.6 215.7h0M135.0 215.0h0M123.6 217.2h0M134.6 211.5h0M119.6 205.0h0M131.3 215.0h0M119.7 207.6h0M126.4 219.0h0M126.2 219.6h0M126.6 202.7h0M135.0 217.0h0M125.2 216.0h0M119.6 204.7h0M121.2 219.9h0M131.8 204.0h0M121.5 217.3h0M120.3 217.4h0M122.6 216.6h0M135.6 219.9h0M126.7 217.7h0M121.8 210.0h0M130.3 198.4h0M125.6 215.3h0M128.5 219.5h0M135.9 213.0h0M131.0 207.4h0M128.2 210.0h0M135.9 216.3h0M127.7 210.1h0M126.9 207.9h0M133.5 214.8h0M135.3 205.1h0M131.3 214.1h0M125.4 216.6h0M126.0 219.9h0M119.5 219.9h0M123.3 212.2h0M132.2 210.5h0M127.5 219.9h0M133.6 209.7h0M130.5 207.0h0M128.7 218.6h0M132.7 217.8h0M127.6 213.7h0M130.4 217.4h0M127.5 218.7h0M125.2 210.6h0M132.0 214.4h0M120.5 219.9h0M135.6 205.3h0M135.3 213.6h0M133.1 217.1h0M127.1 216.0h0M126.8 200.9h0M126.0 217.3h0M127.0 217.5h0M123.0 218.9h0M132.6 200.0h0M134.0 217.6h0M127.7 206.6h0M133.5 213.3h0M124.2 211.7h0M133.6 213.2h0M135.5 218.1h0M130.5 214.1h0M135.3 215.2h0M131.4 210.1h0M130.9 204.9h0M127.2 214.4h0M120.3 217.9h0M121.4 217.9h0M133.1 207.7h0M122.3 214.8h0M130.7 213.1h0M122.0 209.8h0M131.9 212.2h0M135.2 212.5h0M129.6 216.1h0M120.0 217.8h0M131.6 219.9h0M127.2 215.8h0M133.7 205.9h0M121.8 207.2h0M124.0 219.9h0M151.3 219.9h0M149.9 200.6h0M151.1 213.2h0M144.6 216.4h0M147.2 215.3h0M151.5 218.2h0M146.9 208.6h0M137.4 207.3h0M138.5 215.7h0M136.0 200.3h0M137.8 212.8h0M136.4 189.4h0M142.4 214.4h0M146.2 211.0h0M150.3 204.1h0M142.8 208.8h0M138.6 197.5h0M151.1 219.9h0M151.2 218.4h0M152.2 219.9h0M136.4 219.9h0M145.8 217.5h0M146.5 205.0h0M144.9 204.1h0M139.1 211.4h0M151.3 205.4h0M144.9 214.0h0M136.6 209.9h0M141.7 217.8h0M148.1 182.9h0M139.3 219.1h0M148.9 213.6h0M139.5 203.6h0M143.2 213.4h0M140.8 213.6h0M138.1 208.7h0M150.7 215.9h0M141.6 211.5h0M148.5 214.9h0M150.8 215.5h0M140.7 211.1h0M136.1 216.5h0M144.7 215.6h0M139.9 215.7h0M150.5 218.2h0M138.7 206.4h0M148.0 206.5h0M136.4 214.1h0M140.5 206.5h0M139.2 219.9h0M150.1 214.4h0M145.9 209.0h0M146.9 206.0h0M137.3 213.1h0M141.1 212.4h0M150.8 215.4h0M146.2 210.5h0M148.6 211.9h0M144.3 216.0h0M139.4 219.9h0M151.2 217.4h0M140.4 200.6h0M138.8 217.5h0M146.8 208.7h0M137.4 216.5h0M148.7 219.1h0M147.8 215.4h0M142.3 203.9h0M144.5 216.7h0M144.1 216.9h0M137.2 210.3h0M137.3 217.5h0M141.8 217.9h0M136.1 205.9h0M139.0 210.3h0M142.0 212.6h0M146.4 206.3h0M144.5 214.1h0M138.8 208.9h0M148.6 211.9h0M149.2 216.4h0M147.0 214.1h0M147.4 213.6h0M140.2 219.9h0M149.9 217.3h0M145.7 208.1h0M138.9 215.4h0M147.3 218.8h0M146.4 219.9h0M145.4 185.7h0M143.8 214.7h0M148.7 211.8h0M148.1 206.6h0M145.8 205.6h0M137.1 209.0h0M139.8 217.1h0M152.2 217.6h0M142.7 219.9h0M146.5 218.1h0M138.1 215.2h0M145.5 201.7h0M146.1 214.0h0M148.6 217.5h0M152.1 211.0h0M143.5 212.1h0M141.2 218.4h0M138.6 212.8h0M141.5 217.0h0M143.3 219.4h0M152.0 217.9h0M144.5 212.9h0M147.2 211.3h0M148.2 217.2h0M136.2 212.5h0M139.8 210.1h0M145.0 215.5h0M136.9 217.5h0M138.5 218.0h0M148.5 216.6h0M147.2 212.7h0M138.3 219.0h0M137.9 217.2h0M150.0 216.4h0M143.8 214.9h0M141.2 217.6h0M147.9 207.9h0M147.1 206.8h0M152.5 219.9h0M137.7 216.8h0M148.7 218.4h0M143.6 215.0h0M140.1 211.8h0M144.3 216.2h0M136.3 216.0h0M138.0 218.3h0M137.8 211.5h0M147.5 213.8h0M147.7 213.2h0M140.0 210.4h0M141.1 204.6h0M148.8 201.9h0M142.4 219.9h0M141.8 212.4h0M151.7 213.5h0M145.0 213.1h0M144.9 218.6h0M146.1 214.5h0M136.6 207.3h0M142.6 218.9h0M149.1 215.4h0M146.8 208.9h0M150.8 216.1h0M141.1 214.9h0M143.9 213.4h0M139.9 202.8h0M139.0 202.2h0M137.5 218.3h0M139.3 216.2h0M138.7 215.3h0M143.3 216.7h0M142.8 205.9h0M148.7 212.0h0M148.9 216.9h0M145.0 217.1h0M146.9 216.7h0M143.8 211.1h0M141.1 212.8h0M144.3 218.8h0M146.5 217.7h0M151.8 214.8h0M149.5 204.5h0M137.1 205.4h0M146.6 218.1h0M137.5 212.4h0M146.3 214.2h0M150.1 215.8h0M147.6 219.1h0M137.9 210.8h0M143.0 215.4h0M139.2 218.3h0M147.0 207.4h0M147.8 213.5h0M148.2 210.4h0M141.9 208.0h0M145.9 217.0h0M139.4 218.6h0M151.4 215.7h0M151.6 213.4h0M136.5 210.4h0M145.3 204.5h0M147.9 211.4h0M139.8 209.3h0M136.5 212.9h0M136.0 187.1h0M147.7 208.2h0M136.2 212.4h0M142.4 207.6h0M149.2 213.8h0M136.8 214.4h0M147.7 211.4h0M143.1 218.4h0M142.4 213.2h0M144.0 215.9h0M141.8 218.3h0M150.3 213.5h0M147.1 214.3h0M142.4 216.0h0M138.0 213.7h0M144.4 219.5h0M152.6 217.5h0M150.8 201.5h0M137.1 209.5h0M141.9 214.4h0M143.8 204.4h0M142.7 214.3h0M137.8 219.9h0M139.1 218.9h0M144.9 208.6h0M148.0 209.4h0M147.9 209.1h0M147.1 217.3h0M147.2 209.1h0M136.1 209.4h0M139.6 218.3h0M141.6 204.9h0M140.2 216.6h0M142.4 214.8h0M142.6 210.7h0M141.6 216.8h0M136.1 219.3h0M150.4 210.0h0M151.9 215.9h0M146.2 204.9h0M140.5 219.9h0M143.5 216.1h0M151.1 218.4h0M145.9 213.8h0M147.6 204.2h0M147.6 211.0h0M152.3 213.0h0M146.9 212.0h0M137.8 213.3h0M144.4 210.4h0M151.3 212.9h0M138.1 215.2h0M136.8 203.4h0M136.8 216.6h0M137.1 208.8h0M138.7 215.0h0M148.8 212.8h0M145.9 207.6h0M148.1 214.3h0M145.2 216.2h0M141.8 216.9h0M149.0 212.8h0M138.8 214.9h0M141.9 217.7h0M142.9 217.0h0M147.3 216.1h0M148.6 215.0h0M145.4 216.7h0M146.1 214.6h0M140.6 212.7h0M145.8 219.9h0M150.0 214.7h0M143.3 211.4h0M148.5 219.9h0M144.4 211.6h0M144.5 213.7h0M146.1 218.8h0M138.3 215.0h0M139.5 212.6h0M138.9 215.2h0M144.9 218.6h0M147.1 209.7h0M147.7 218.9h0M139.4 219.9h0M141.5 213.9h0M138.4 211.5h0M146.8 206.8h0M143.0 202.3h0M140.5 212.4h0M139.7 214.6h0M151.8 212.2h0M144.0 211.5h0M152.5 205.5h0M141.3 201.7h0M139.5 208.4h0M147.9 219.0h0M151.1 208.4h0M138.7 214.5h0M150.3 215.3h0M145.7 215.3h0M151.0 210.3h0M151.7 215.2h0M143.1 208.8h0M151.6 208.7h0M139.0 211.4h0M143.3 209.7h0M143.3 212.3h0M140.0 212.9h0M144.0 218.7h0M148.5 209.8h0M137.8 212.9h0M144.0 217.7h0M144.7 214.9h0M139.2 203.7h0M146.6 215.0h0M140.2 217.7h0M145.5 218.6h0M145.5 216.7h0M148.4 205.9h0M151.5 215.0h0M151.4 217.1h0M144.3 215.9h0M140.3 208.6h0M140.0 218.0h0M149.0 206.5h0M148.6 217.4h0M149.2 206.6h0M149.8 204.6h0M145.4 213.0h0M150.9 208.5h0M146.9 215.4h0M146.5 209.9h0M149.9 212.1h0M146.8 215.5h0M148.7 219.3h0M151.4 209.7h0M142.5 217.7h0M148.5 216.7h0M140.9 215.2h0M144.1 203.2h0M150.5 216.0h0M152.2 213.9h0M151.7 216.2h0M148.6 212.3h0M150.1 213.7h0M150.7 216.4h0M146.1 215.9h0M140.0 206.2h0M136.3 212.7h0M148.6 212.6h0M148.6 216.2h0M148.1 216.5h0M145.6 215.5h0M146.9 213.8h0M147.9 219.9h0M144.8 214.2h0M146.9 219.9h0M139.7 211.4h0M144.8 214.8h0M146.4 206.6h0M145.4 219.9h0M140.2 214.4h0M138.1 209.8h0M146.9 209.0h0M137.8 215.7h0M149.2 219.9h0M139.0 204.7h0M148.8 199.9h0M141.9 208.7h0M151.0 215.3h0M139.7 208.1h0M138.6 209.3h0M147.2 212.9h0M148.8 210.0h0M141.8 217.8h0M143.8 218.2h0M147.0 213.4h0M140.9 207.7h0M142.4 219.9h0M145.4 204.4h0M141.0 207.8h0M138.4 194.7h0M151.1 215.2h0M138.0 216.4h0M152.4 207.6h0M150.0 218.7h0M143.4 210.3h0M150.3 216.1h0M137.0 213.9h0M145.3 209.5h0M141.8 214.7h0M141.0 211.4h0M150.8 215.3h0M136.6 200.0h0M150.3 219.9h0M137.3 214.9h0M147.2 217.6h0M140.7 213.0h0M144.7 189.3h0M151.4 211.6h0M149.2 216.8h0M137.6 215.7h0M141.0 212.1h0M144.1 215.1h0M147.9 215.4h0M136.1 216.5h0M150.3 204.9h0M150.0 214.6h0M151.9 216.1h0M139.3 213.2h0M139.5 212.0h0M149.8 210.2h0M144.5 214.1h0M140.0 213.1h0M136.2 217.9h0M139.6 210.0h0M147.2 217.0h0M148.2 218.4h0M141.9 217.1h0M151.2 205.0h0M144.4 218.9h0M144.6 209.6h0M142.5 212.8h0M142.7 210.3h0M141.9 217.1h0M149.7 215.6h0M143.3 207.0h0M139.8 215.8h0M143.2 219.9h0M151.4 214.2h0M146.6 199.3h0M137.7 218.1h0M142.9 198.3h0M143.7 217.5h0M136.2 217.3h0M152.0 194.5h0M151.2 214.1h0M137.6 217.9h0M145.1 216.1h0M141.2 216.6h0M139.5 206.6h0M140.5 219.9h0M136.9 216.1h0M147.4 214.9h0M142.1 217.6h0M147.6 212.9h0M149.5 216.2h0M145.5 219.9h0M141.7 200.5h0M138.3 215.3h0M146.8 219.9h0M147.2 216.9h0M149.0 207.8h0M138.3 213.4h0M136.7 203.4h0M150.6 216.7h0M146.1 215.0h0M137.5 219.9h0M147.8 208.2h0M136.9 213.4h0M146.5 219.4h0M145.2 214.9h0M147.9 213.4h0M137.5 215.5h0M151.1 212.5h0M151.6 203.8h0M152.3 213.4h0M148.7 203.3h0M141.1 214.5h0M152.2 219.9h0M146.2 207.3h0M147.9 205.2h0M147.0 216.7h0M139.4 217.4h0M150.2 218.1h0M146.7 216.0h0M139.6 216.2h0M142.2 210.0h0M138.3 219.9h0M143.2 216.2h0M152.4 218.9h0M142.3 209.9h0M142.5 215.5h0M149.3 213.8h0M137.3 217.6h0M138.0 214.7h0M148.4 209.2h0M138.1 216.1h0M146.1 209.1h0M149.6 218.7h0M145.3 214.5h0M137.3 215.7h0M139.4 216.5h0M145.0 213.3h0M151.8 214.7h0M146.8 212.4h0M147.6 210.5h0M145.9 214.7h0M141.4 214.3h0M146.1 214.2h0M136.1 214.3h0M142.9 211.7h0M149.5 217.3h0M139.4 209.1h0M146.7 206.7h0M147.9 200.3h0M138.6 218.0h0M150.2 201.4h0M140.0 209.8h0M152.0 213.6h0M141.7 210.6h0M146.1 212.0h0M151.7 215.9h0M149.6 214.9h0M144.0 204.9h0M139.2 215.9h0M146.2 212.9h0M145.7 216.1h0M137.0 210.1h0M142.3 218.4h0M151.3 209.2h0M144.7 211.8h0M139.0 212.9h0M146.7 200.9h0M143.5 219.9h0M151.2 212.6h0M144.1 214.8h0M136.4 215.3h0M138.6 214.5h0M138.9 218.1h0M151.8 215.1h0M141.9 206.4h0M141.8 211.3h0M152.2 211.2h0M139.4 212.5h0M146.3 213.4h0M151.7 216.8h0M151.1 219.9h0M138.6 217.0h0M143.8 206.8h0M140.2 213.4h0M147.6 209.0h0M140.1 204.4h0M138.9 210.2h0M140.5 213.3h0M138.1 211.3h0M147.9 214.6h0M140.6 208.9h0M142.6 219.0h0M140.5 217.9h0M142.3 210.9h0M141.0 216.8h0M141.8 209.5h0M147.8 217.6h0M138.9 213.2h0M147.4 211.1h0M141.7 219.3h0M137.5 208.5h0M138.0 194.5h0M150.9 212.4h0M136.7 214.8h0M140.6 205.2h0M150.3 208.8h0M137.3 215.6h0M139.5 218.5h0M140.4 216.5h0M149.9 208.0h0M137.9 218.6h0M151.7 219.9h0M138.0 217.6h0M145.4 216.4h0M148.8 216.8h0M145.3 215.8h0M144.4 210.1h0M143.2 215.5h0M140.2 216.6h0M152.5 215.5h0M142.7 212.1h0M146.6 217.5h0M145.7 213.1h0M152.0 217.1h0M140.0 216.5h0M138.5 203.5h0M150.9 206.3h0M144.4 215.2h0M146.6 216.5h0M146.4 214.8h0M149.0 214.0h0M149.9 219.9h0M147.6 218.1h0M136.0 208.0h0M149.9 214.8h0M136.7 201.9h0M150.2 210.3h0M136.0 210.1h0M148.8 215.6h0M146.6 218.0h0M136.4 213.1h0M148.5 219.9h0M145.6 219.9h0M138.0 219.9h0M150.5 209.5h0M145.8 219.9h0M143.7 215.0h0M151.7 213.8h0M139.3 213.5h0M138.9 212.1h0M150.8 211.5h0M138.6 214.9h0M149.6 215.9h0M139.5 213.4h0M149.5 201.0h0M142.8 217.4h0M146.2 218.8h0M146.1 214.7h0M142.5 210.5h0M144.6 216.5h0M146.8 215.8h0M138.2 213.5h0M151.2 210.1h0M149.7 216.7h0M139.4 219.9h0M139.7 203.3h0M142.5 216.1h0M148.8 215.3h0M144.6 201.1h0M141.2 219.9h0M148.7 211.6h0M139.2 219.9h0M147.7 210.1h0M148.5 216.5h0M137.7 214.9h0M145.4 214.2h0M145.8 199.8h0M152.1 211.8h0M140.9 216.9h0M143.6 213.3h0M151.5 219.9h0M138.1 205.2h0M150.9 205.9h0M142.0 207.5h0M141.7 214.1h0M152.5 217.0h0M142.5 200.3h0M140.1 217.8h0M139.4 214.7h0M147.5 214.3h0M146.5 212.9h0M139.9 200.2h0M144.2 210.1h0M140.7 216.8h0M149.9 219.9h0M141.9 217.2h0M146.2 219.9h0M151.2 207.0h0M139.9 209.4h0M151.8 212.8h0M144.0 217.4h0M146.6 201.6h0M140.5 219.9h0M147.5 217.8h0M148.0 200.0h0M145.8 208.3h0M150.3 212.9h0M143.8 217.4h0M136.2 211.4h0M151.2 214.5h0M145.4 218.5h0M146.2 218.8h0M145.9 216.8h0M136.6 217.6h0M140.7 210.3h0M137.5 211.5h0M146.8 217.2h0M150.2 210.6h0M147.0 217.8h0M149.5 212.0h0M141.5 214.3h0M136.5 214.3h0M142.8 214.5h0M138.8 215.3h0M141.0 215.0h0M139.9 214.6h0M139.0 217.9h0M147.4 215.8h0M145.9 213.9h0M149.7 211.8h0M152.3 200.6h0M139.9 208.2h0M151.6 219.9h0M148.7 211.6h0M145.3 214.6h0M152.1 206.4h0M144.5 214.5h0M136.4 209.5h0M138.0 219.9h0M141.2 219.9h0M147.5 209.2h0M145.4 217.8h0M147.3 206.1h0M136.3 217.9h0M140.1 209.2h0M145.2 214.9h0M146.8 211.1h0M143.1 214.2h0M139.6 204.2h0M141.1 209.9h0M148.6 219.9h0M147.9 213.7h0M140.1 215.6h0M151.8 216.5h0M136.7 214.5h0M139.9 218.0h0M143.3 213.7h0M149.3 205.7h0M145.4 214.6h0M147.2 209.9h0M151.8 214.1h0M142.1 215.8h0M139.0 216.1h0M142.8 213.6h0M145.3 216.9h0M138.2 217.7h0M136.6 219.6h0M148.0 217.6h0M152.4 217.0h0M151.5 214.6h0M142.2 217.2h0M143.5 212.5h0M149.8 210.1h0M152.3 201.8h0M141.9 206.7h0M151.8 212.5h0M147.6 205.0h0M138.4 218.4h0M143.5 207.1h0M136.0 219.6h0M142.7 219.9h0M144.7 218.5h0M149.2 208.6h0M141.5 216.9h0M146.8 218.1h0M147.0 219.3h0M144.7 219.9h0M146.2 215.0h0M143.6 216.4h0M146.1 217.2h0M143.6 215.3h0M151.1 219.9h0M137.8 212.6h0M150.3 216.2h0M148.4 211.6h0M136.1 214.3h0M147.9 217.3h0M142.0 212.6h0M144.4 216.7h0M144.6 205.4h0M148.2 199.0h0M144.1 218.1h0M146.5 215.9h0M139.6 215.0h0M137.1 216.1h0M147.1 217.7h0M152.4 217.0h0M137.3 214.3h0M151.1 214.8h0M142.4 209.0h0M146.8 214.6h0M140.4 215.8h0M147.5 212.1h0M143.2 218.7h0M149.2 193.5h0M140.6 219.9h0M141.5 207.5h0M146.4 211.4h0M137.7 214.4h0M152.2 210.3h0M146.1 215.9h0M152.1 214.4h0M138.9 217.3h0M147.8 216.6h0M139.3 213.4h0M137.3 209.6h0M143.3 218.3h0M143.8 216.3h0M145.2 214.5h0M143.7 218.8h0M139.2 218.6h0M147.3 206.7h0M140.4 218.0h0M140.8 215.7h0M149.0 211.1h0M147.3 214.6h0M148.1 211.1h0M151.3 215.4h0M150.1 214.6h0M139.6 217.1h0M152.2 213.6h0M144.6 215.2h0M145.3 217.9h0M140.6 212.3h0M142.4 205.8h0M145.2 213.9h0M136.5 210.9h0M147.9 219.9h0M141.8 207.6h0M147.5 209.5h0M148.1 219.9h0M146.3 217.3h0M137.2 218.4h0M145.3 207.5h0M141.9 209.4h0M147.9 211.3h0M147.8 213.1h0M144.3 212.7h0M148.1 219.5h0M138.3 217.9h0M149.5 214.1h0M152.1 215.2h0M150.9 217.7h0M149.5 212.6h0M142.7 214.3h0M151.5 213.6h0M145.3 200.1h0M139.5 214.3h0M145.0 217.5h0M150.1 207.0h0M147.2 215.4h0M149.8 202.2h0M136.5 218.0h0M152.1 213.9h0M151.3 214.1h0M144.3 211.3h0M151.3 202.3h0M139.0 210.3h0M142.0 217.1h0M138.8 210.6h0M147.1 214.7h0M151.2 217.3h0M151.5 216.5h0M137.3 192.9h0M148.7 210.3h0M145.3 214.1h0M139.6 219.9h0M150.9 216.5h0M144.8 211.1h0M136.7 210.5h0M142.2 210.7h0M147.3 200.2h0M150.1 218.6h0M139.3 216.0h0M145.8 215.9h0M137.4 215.6h0M151.1 212.4h0M136.1 205.8h0M152.1 207.7h0M145.4 210.0h0M148.5 207.5h0M147.1 216.0h0M144.4 210.1h0M143.3 214.6h0M139.4 213.6h0M140.7 206.7h0M137.5 211.3h0M140.4 219.0h0M146.8 214.4h0M145.1 204.7h0M145.4 214.3h0M144.8 208.4h0M151.7 212.2h0M150.1 218.8h0M140.4 219.1h0M145.2 218.1h0M152.1 213.8h0M140.4 219.9h0M147.6 218.6h0M146.7 216.5h0M147.1 203.6h0M145.2 211.0h0M148.3 217.2h0M142.2 203.9h0M151.6 212.3h0M145.4 216.0h0M141.6 216.5h0M146.6 216.5h0M147.4 217.5h0M151.3 219.9h0M146.5 215.8h0M144.7 216.3h0M141.8 187.5h0M143.0 215.3h0M140.7 213.0h0M146.3 216.3h0M150.3 208.5h0M145.8 217.8h0M139.3 218.3h0M136.6 213.1h0M150.6 216.9h0M140.9 216.6h0M147.4 219.9h0M151.7 219.9h0M151.6 207.7h0M145.2 198.2h0M151.2 208.9h0M142.7 205.8h0M151.6 219.9h0M147.3 216.9h0M137.3 213.5h0M149.5 215.4h0M138.6 210.1h0M152.6 216.8h0M136.8 218.0h0M148.6 215.2h0M138.5 201.7h0M144.9 210.6h0M142.2 217.5h0M150.5 213.7h0M140.5 206.4h0M147.9 219.9h0M151.6 205.8h0M137.0 188.5h0M147.8 209.4h0M137.4 193.6h0M148.9 214.6h0M150.2 207.2h0M138.3 217.3h0M150.7 215.0h0M143.3 216.3h0M141.1 197.8h0M152.0 219.6h0M142.4 207.4h0M139.5 219.9h0M141.4 213.0h0M151.0 208.3h0M152.3 214.0h0M143.5 214.8h0M144.2 215.4h0M145.9 214.4h0M149.9 215.7h0M136.1 211.9h0M149.2 217.5h0M152.1 215.1h0M142.7 193.5h0M143.2 214.5h0M151.9 218.8h0M142.7 218.2h0M142.2 218.8h0M150.3 217.9h0M143.8 201.3h0M146.7 211.2h0M140.7 209.4h0M147.3 218.3h0M142.1 199.1h0M149.0 216.6h0M144.2 219.9h0M151.3 207.1h0M145.1 205.3h0M150.2 214.0h0M143.3 215.5h0M147.1 217.1h0M140.4 215.5h0M145.7 214.5h0M147.0 209.4h0M139.1 219.9h0M145.0 213.6h0M151.3 214.4h0M139.3 206.0h0M144.1 215.2h0M149.9 216.2h0M143.0 216.2h0M136.5 208.1h0M144.7 217.4h0M143.7 209.2h0M151.4 215.8h0M147.0 208.3h0M148.9 218.1h0M142.1 219.9h0M150.9 214.5h0M149.7 213.9h0M137.5 205.6h0M147.0 219.9h0M151.0 216.5h0M146.8 219.7h0M152.1 211.1h0M140.3 214.7h0M145.7 216.8h0M144.8 211.7h0M140.9 216.4h0M149.0 210.6h0M143.1 212.3h0M146.8 216.3h0M149.0 215.7h0M148.1 212.7h0M137.6 214.5h0M136.9 215.0h0M149.6 219.9h0M146.8 218.0h0M138.4 217.4h0M138.1 216.5h0M144.2 201.8h0M138.9 208.5h0M151.4 214.7h0M139.7 215.4h0M151.7 216.6h0M147.9 215.5h0M145.2 207.4h0M147.1 215.4h0M164.1 209.2h0M157.3 211.8h0M160.7 219.9h0M153.7 219.9h0M153.4 215.5h0M168.3 216.4h0M166.8 219.3h0M165.1 216.6h0M154.3 208.0h0M163.0 212.9h0M164.5 213.1h0M159.8 219.9h0M158.9 212.2h0M164.7 214.1h0M152.8 217.0h0M160.4 218.7h0M156.9 216.6h0M160.0 213.3h0M161.8 215.5h0M159.6 210.9h0M167.2 216.9h0M167.3 213.6h0M165.2 218.3h0M165.8 211.3h0M160.9 217.0h0M157.1 203.5h0M166.2 211.1h0M154.5 214.9h0M162.5 215.3h0M163.1 203.7h0M154.4 212.7h0M156.0 214.8h0M163.8 210.8h0M166.9 215.6h0M159.1 215.7h0M161.4 213.4h0M164.4 207.2h0M162.3 217.0h0M160.3 208.0h0M163.2 204.1h0M164.4 212.5h0M165.9 213.3h0M161.9 204.7h0M163.6 214.7h0M155.8 216.6h0M155.3 213.3h0M166.1 213.6h0M156.3 209.4h0M159.9 207.3h0M167.3 212.7h0M155.0 219.0h0M163.9 214.5h0M156.7 210.5h0M163.0 208.0h0M166.2 214.2h0M166.3 204.8h0M165.5 217.6h0M161.2 213.3h0M161.6 214.3h0M155.5 218.3h0M154.5 215.0h0M165.0 214.4h0M153.5 210.6h0M168.1 218.9h0M155.7 190.6h0M164.6 214.2h0M160.0 216.9h0M162.8 216.9h0M165.2 215.0h0M157.5 215.0h0M166.3 211.1h0M165.2 215.1h0M162.3 215.8h0M162.2 209.3h0M159.0 214.0h0M168.7 214.0h0M159.0 216.4h0M156.6 219.7h0M161.9 218.0h0M167.9 209.3h0M168.0 213.0h0M162.2 219.9h0M159.1 218.2h0M165.0 207.9h0M161.9 219.9h0M166.3 206.7h0M166.5 219.2h0M164.3 218.7h0M168.8 216.7h0M163.4 217.3h0M168.8 213.4h0M163.4 204.9h0M156.2 212.7h0M163.0 212.5h0M165.4 216.8h0M159.6 212.7h0M155.4 219.9h0M158.5 217.4h0M165.6 216.6h0M156.1 207.4h0M152.8 200.5h0M167.2 212.3h0M168.8 216.6h0M167.1 215.3h0M165.9 211.5h0M164.7 217.7h0M161.8 212.7h0M163.4 210.8h0M165.0 219.9h0M158.1 209.6h0M156.0 213.8h0M164.1 218.6h0M162.6 215.1h0M169.1 214.4h0M159.5 212.2h0M159.5 213.7h0M154.6 211.0h0M152.8 210.1h0M154.9 215.1h0M162.5 219.9h0M168.6 217.1h0M154.5 219.9h0M155.3 211.1h0M163.9 213.2h0M157.6 215.2h0M153.4 209.9h0M167.4 214.6h0M155.1 214.3h0M159.9 219.9h0M165.2 216.8h0M165.6 211.0h0M168.5 208.1h0M162.5 219.9h0M155.1 219.9h0M153.9 217.0h0M163.3 216.3h0M161.5 215.6h0M156.7 216.2h0M155.3 207.2h0M158.4 219.9h0M157.4 219.9h0M158.5 215.3h0M158.4 215.6h0M165.1 214.7h0M160.3 216.5h0M166.7 213.5h0M161.0 219.3h0M157.4 210.5h0M168.0 214.8h0M163.4 214.9h0M166.6 211.4h0M156.5 203.5h0M168.8 210.6h0M163.2 202.3h0M158.8 207.1h0M156.8 217.0h0M154.2 219.4h0M153.1 218.0h0M155.9 216.2h0M157.8 215.5h0M161.4 204.3h0M159.2 215.0h0M153.4 215.9h0M155.0 205.8h0M152.9 217.5h0M153.3 219.1h0M157.5 209.3h0M163.2 212.0h0M155.2 208.3h0M167.3 219.7h0M169.0 207.6h0M162.8 213.5h0M153.4 212.6h0M155.6 216.6h0M161.1 214.1h0M168.2 217.7h0M168.9 216.0h0M164.9 216.5h0M167.4 212.7h0M154.2 209.2h0M161.0 216.7h0M160.6 215.7h0M156.2 219.9h0M162.0 207.2h0M162.0 213.9h0M168.8 211.0h0M153.7 217.5h0M157.6 215.0h0M155.4 212.9h0M156.3 219.9h0M157.9 211.8h0M158.7 211.4h0M168.5 213.9h0M158.1 213.5h0M160.7 206.5h0M155.4 211.5h0M156.3 214.5h0M156.2 217.8h0M162.1 213.8h0M157.6 216.8h0M157.2 217.0h0M161.3 217.0h0M152.9 218.4h0M167.0 214.3h0M153.5 208.9h0M159.4 218.3h0M169.0 206.6h0M155.4 218.9h0M153.3 208.6h0M160.7 218.0h0M163.1 218.9h0M159.0 212.9h0M156.3 219.9h0M164.1 207.5h0M162.4 209.1h0M158.4 217.2h0M162.8 216.7h0M166.6 205.5h0M161.2 216.0h0M159.1 212.4h0M162.8 202.2h0M161.0 211.4h0M154.2 218.3h0M167.6 216.3h0M154.7 215.1h0M165.0 214.1h0M159.8 216.0h0M165.6 215.4h0M161.3 213.1h0M166.3 215.7h0M160.4 215.1h0M156.7 213.5h0M165.4 207.3h0M166.4 216.2h0M161.0 214.4h0M168.1 215.8h0M164.4 210.9h0M168.1 217.4h0M155.9 212.9h0M168.3 214.3h0M165.4 210.2h0M168.3 217.2h0M158.4 219.0h0M161.9 219.3h0M167.5 214.1h0M163.8 217.3h0M157.4 215.7h0M157.4 217.7h0M168.3 212.8h0M163.8 216.3h0M153.5 216.3h0M156.9 216.6h0M161.9 210.9h0M155.8 210.0h0M160.4 218.6h0M163.7 214.6h0M154.0 216.4h0M156.8 213.7h0M167.3 212.1h0M153.3 215.5h0M154.5 217.4h0M166.2 213.9h0M163.9 218.4h0M160.4 202.4h0M166.9 209.0h0M156.1 217.6h0M152.7 219.1h0M166.1 216.7h0M163.2 213.0h0M158.2 216.4h0M162.2 204.0h0M154.0 217.2h0M157.8 214.4h0M162.1 218.2h0M166.7 214.8h0M157.9 208.7h0M153.6 215.8h0M154.1 214.3h0M157.7 219.6h0M163.0 216.0h0M164.3 218.0h0M164.2 209.6h0M167.2 209.5h0M163.9 214.3h0M163.8 212.5h0M162.5 215.9h0M163.7 218.2h0M164.8 215.2h0M168.8 206.3h0M155.6 214.3h0M163.3 214.4h0M154.7 213.7h0M156.0 219.9h0M168.0 210.1h0M159.3 218.9h0M162.0 218.2h0M156.1 219.9h0M161.1 214.1h0M153.0 204.9h0M162.3 218.3h0M168.5 216.8h0M164.0 211.9h0M163.7 215.1h0M161.8 202.7h0M157.9 217.9h0M165.5 215.9h0M159.1 205.6h0M158.2 213.8h0M161.7 212.3h0M168.8 215.0h0M164.8 204.4h0M163.8 209.1h0M154.7 213.2h0M166.0 212.5h0M159.6 197.6h0M163.1 219.9h0M161.9 218.1h0M165.7 219.9h0M153.1 211.6h0M154.2 219.9h0M157.3 209.0h0M156.0 214.0h0M163.9 217.6h0M154.5 216.8h0M154.1 205.7h0M161.4 213.6h0M153.7 204.4h0M165.8 213.8h0M158.1 214.8h0M157.6 211.4h0M162.5 219.9h0M168.8 204.4h0M157.3 218.1h0M156.4 213.8h0M158.7 219.9h0M165.6 215.1h0M168.1 210.3h0M155.2 218.3h0M153.1 212.8h0M157.7 214.5h0M157.9 210.4h0M165.0 204.9h0M163.9 215.6h0M165.0 207.7h0M159.1 217.9h0M159.7 211.1h0M168.3 210.5h0M153.4 217.9h0M153.0 219.9h0M152.9 209.3h0M166.2 214.2h0M161.2 213.1h0M164.2 213.0h0M163.5 215.0h0M166.1 217.4h0M161.4 214.3h0M158.1 209.6h0M154.5 212.3h0M159.4 215.4h0M155.8 218.0h0M168.0 191.2h0M165.3 215.8h0M157.3 218.3h0M161.1 218.0h0M160.4 213.1h0M162.7 211.7h0M168.4 211.7h0M157.2 216.6h0M162.8 218.0h0M161.0 215.9h0M168.5 219.7h0M156.2 213.2h0M163.4 216.0h0M154.1 213.7h0M161.6 219.0h0M168.6 215.1h0M164.6 212.1h0M153.1 190.2h0M169.0 215.7h0M161.6 219.9h0M162.2 216.4h0M168.3 209.9h0M162.3 210.9h0M156.3 217.5h0M159.7 219.9h0M165.1 215.7h0M159.2 214.0h0M155.4 213.3h0M159.1 204.5h0M154.3 214.4h0M154.3 203.3h0M154.6 213.8h0M161.1 213.6h0M157.9 213.1h0M155.6 217.6h0M164.9 212.5h0M162.8 216.0h0M166.2 208.6h0M155.3 211.3h0M162.9 207.7h0M157.0 209.9h0M160.8 215.0h0M160.0 201.3h0M162.3 212.9h0M162.1 212.8h0M167.9 218.9h0M163.0 218.0h0M158.5 213.8h0M165.8 214.0h0M155.3 208.1h0M165.5 212.2h0M162.2 215.9h0M156.9 207.1h0M165.1 206.9h0M154.5 214.0h0M153.2 217.9h0M157.1 219.9h0M161.0 216.6h0M163.1 219.1h0M157.8 204.9h0M162.2 211.0h0M168.9 218.8h0M169.2 214.0h0M164.6 213.0h0M157.6 211.7h0M160.5 207.8h0M166.0 210.1h0M167.4 216.6h0M168.4 214.2h0M159.1 214.0h0M158.2 218.4h0M158.2 212.2h0M165.7 213.2h0M168.5 216.0h0M162.0 215.0h0M160.0 217.2h0M163.7 205.3h0M159.6 219.9h0M162.1 214.2h0M155.7 216.5h0M154.3 216.0h0M159.3 215.2h0M157.1 216.5h0M155.1 211.5h0M168.7 219.9h0M164.2 217.5h0M159.1 215.6h0M169.1 212.5h0M154.4 212.7h0M158.4 215.6h0M167.3 213.9h0M168.7 216.1h0M165.8 210.8h0M155.7 212.1h0M162.0 218.6h0M153.8 216.7h0M153.7 216.1h0M167.0 205.4h0M152.6 208.7h0M154.2 209.8h0M154.4 203.8h0M164.4 214.0h0M163.1 217.0h0M156.2 216.8h0M159.4 219.9h0M168.4 211.9h0M156.1 219.9h0M153.7 219.9h0M163.4 216.2h0M154.4 201.6h0M161.9 214.2h0M156.8 219.9h0M153.1 219.9h0M163.6 212.8h0M165.1 216.8h0M157.8 211.0h0M155.2 209.9h0M168.8 213.9h0M156.7 212.9h0M156.7 218.1h0M158.7 218.1h0M156.6 219.9h0M156.7 218.2h0M168.0 218.0h0M154.0 213.4h0M166.5 219.5h0M161.5 217.0h0M153.2 212.8h0M155.1 213.6h0M163.5 205.9h0M161.9 217.4h0M156.6 209.1h0M157.4 218.3h0M168.0 219.8h0M164.9 214.3h0M163.6 217.6h0M168.0 215.0h0M156.5 218.1h0M158.1 201.2h0M166.5 213.1h0M159.9 213.5h0M160.0 214.8h0M166.1 212.6h0M169.2 219.9h0M167.4 219.3h0M165.4 217.8h0M160.0 215.3h0M164.3 214.1h0M156.4 218.7h0M156.8 213.5h0M156.0 213.3h0M163.9 208.6h0M168.4 210.3h0M165.2 214.2h0M157.0 219.9h0M163.6 206.3h0M158.4 212.6h0M166.3 202.1h0M160.7 217.9h0M156.8 217.2h0M157.4 214.4h0M154.0 219.9h0M158.6 205.1h0M158.2 213.1h0M160.2 216.2h0M163.5 217.4h0M168.0 219.9h0M166.2 208.9h0M162.1 217.5h0M158.6 216.0h0M155.4 219.9h0M162.4 215.7h0M153.7 212.4h0M153.5 210.8h0M163.3 216.1h0M155.3 215.4h0M166.7 215.7h0M163.7 216.6h0M161.3 203.9h0M168.2 208.4h0M154.8 218.1h0M157.8 206.5h0M161.0 216.7h0M168.7 217.7h0M153.9 207.6h0M162.6 210.3h0M167.9 206.0h0M155.0 218.1h0M164.3 214.5h0M164.1 207.6h0M158.6 219.9h0M161.5 213.7h0M168.2 200.6h0M160.4 213.0h0M160.2 214.5h0M162.0 215.9h0M153.1 214.7h0M166.1 217.2h0M153.5 211.0h0M168.9 215.8h0M168.8 213.8h0M166.2 214.2h0M167.5 212.2h0M162.8 217.5h0M157.7 214.0h0M162.6 218.7h0M163.9 215.3h0M155.0 214.5h0M165.5 215.8h0M157.7 213.3h0M161.1 212.7h0M157.0 204.8h0M157.3 211.2h0M167.2 212.9h0M165.4 209.9h0M153.6 211.5h0M165.4 214.3h0M168.0 216.9h0M164.3 219.9h0M164.1 217.4h0M157.0 215.0h0M164.2 200.2h0M158.9 217.5h0M168.0 214.4h0M164.3 215.8h0M158.0 213.8h0M167.3 216.1h0M165.5 206.3h0M155.9 208.6h0M156.2 217.1h0M152.8 212.1h0M165.4 215.6h0M154.0 214.4h0M157.2 203.2h0M164.9 212.9h0M157.7 206.8h0M157.4 213.5h0M153.7 204.5h0M153.4 213.0h0M162.1 214.2h0M154.9 213.2h0M168.6 213.5h0M153.0 219.9h0M157.9 215.6h0M155.7 214.6h0M167.6 211.9h0M165.1 214.6h0M154.5 219.2h0M153.5 212.4h0M154.0 217.8h0M164.9 210.5h0M165.0 213.6h0M163.1 217.3h0M160.7 208.2h0M160.3 214.2h0M162.5 216.7h0M154.4 208.2h0M165.8 210.2h0M165.5 215.9h0M163.9 208.8h0M156.5 212.8h0M156.2 215.1h0M168.9 213.7h0M168.4 217.3h0M165.0 202.7h0M165.7 216.3h0M160.2 219.9h0M167.2 216.8h0M164.1 214.9h0M159.9 212.7h0M163.9 213.3h0M153.9 215.3h0M159.2 216.8h0M166.6 213.3h0M160.6 196.1h0M161.9 213.7h0M161.9 212.8h0M168.3 217.8h0M155.9 216.9h0M163.9 215.5h0M160.1 212.3h0M156.5 212.4h0M153.4 219.9h0M162.8 202.1h0M155.7 216.4h0M162.3 209.1h0M159.8 219.9h0M159.3 214.9h0M167.4 219.9h0M154.1 217.1h0M161.9 216.3h0M159.5 208.2h0M155.1 214.5h0M159.2 214.5h0M167.0 216.2h0M155.9 200.1h0M163.9 219.1h0M157.1 214.6h0M161.2 211.1h0M161.8 213.9h0M153.8 218.2h0M166.0 205.5h0M158.9 206.9h0M156.1 217.2h0M156.1 211.9h0M169.0 212.0h0M168.3 218.2h0M160.4 205.3h0M157.1 219.9h0M164.4 216.6h0M153.5 216.4h0M166.9 210.4h0M152.7 213.0h0M153.4 217.0h0M158.2 201.8h0M160.2 210.4h0M152.7 216.3h0M157.4 217.6h0M169.0 198.5h0M165.5 219.7h0M153.6 216.1h0M167.2 215.2h0M160.4 214.8h0M169.1 212.7h0M157.9 213.2h0M157.8 209.8h0M163.9 210.9h0M160.7 208.7h0M157.2 216.9h0M161.3 219.5h0M163.2 218.6h0M157.8 213.2h0M166.3 203.1h0M165.1 216.1h0M165.1 213.6h0M163.6 212.0h0M156.4 214.2h0M164.3 217.6h0M155.5 212.5h0M155.0 213.0h0M161.0 214.2h0M155.5 215.5h0M154.7 217.3h0M162.5 212.7h0M168.8 215.4h0M153.5 207.8h0M160.0 211.9h0M154.1 212.7h0M161.6 215.7h0M162.2 219.9h0M160.8 214.9h0M153.3 217.8h0M164.3 213.2h0M161.1 208.7h0M162.1 210.3h0M163.7 213.5h0M167.7 214.1h0M159.8 209.9h0M167.8 205.9h0M155.5 212.6h0M160.2 212.8h0M155.5 206.6h0M158.8 210.7h0M167.6 211.4h0M168.8 217.7h0M160.5 214.9h0M157.2 211.8h0M158.0 216.9h0M167.6 211.7h0M159.9 216.2h0M155.9 216.3h0M166.5 216.5h0M161.1 219.9h0M159.7 215.4h0M167.6 215.1h0M165.0 217.0h0M152.8 209.2h0M168.7 207.2h0M160.2 209.2h0M155.6 219.9h0M167.7 206.5h0M159.6 211.1h0M164.0 210.7h0M165.1 211.1h0M155.8 213.7h0M169.0 215.5h0M162.0 217.6h0M153.5 215.2h0M161.5 218.5h0M152.9 211.9h0M168.9 215.6h0M163.7 215.6h0M158.9 215.7h0M165.9 211.2h0M165.8 215.4h0M164.3 215.2h0M156.5 215.2h0M154.2 205.5h0M166.8 214.5h0M167.4 213.5h0M158.3 218.3h0M159.0 216.2h0M159.3 218.5h0M157.2 212.6h0M168.2 214.7h0M161.4 206.6h0M164.4 207.4h0M162.7 209.4h0M154.1 211.0h0M153.8 211.8h0M155.1 213.2h0M160.9 212.7h0M163.0 200.9h0M169.2 212.6h0M167.6 210.9h0M164.9 206.5h0M159.0 217.8h0M158.3 213.2h0M164.2 216.7h0M158.4 213.0h0M165.3 215.6h0M164.7 204.6h0M154.6 215.8h0M166.0 215.9h0M154.2 216.7h0M157.9 201.5h0M168.8 219.9h0M163.4 211.3h0M166.9 215.0h0M168.0 217.9h0M157.0 212.6h0M165.8 205.3h0M158.8 216.4h0M153.7 212.5h0M154.4 206.3h0M154.7 217.7h0M163.1 213.3h0M163.3 213.2h0M166.7 216.0h0M157.5 214.2h0M165.3 219.9h0M157.0 218.6h0M157.8 206.8h0M163.5 214.8h0M159.1 212.9h0M169.2 218.2h0M157.9 209.3h0M156.6 213.4h0M167.2 213.2h0M167.1 211.9h0M155.3 211.4h0M158.2 215.1h0M161.1 219.9h0M153.7 219.2h0M158.8 211.5h0M165.4 219.9h0M165.4 216.8h0M155.1 199.5h0M157.7 216.4h0M157.1 218.5h0M164.0 213.1h0M154.8 215.7h0M169.0 206.9h0M154.5 217.3h0M161.4 217.0h0M164.3 218.2h0M168.4 212.7h0M162.8 219.3h0M166.8 214.6h0M161.4 216.6h0M156.3 209.6h0M159.6 216.0h0M162.7 187.3h0M161.4 215.1h0M165.6 208.3h0M161.6 217.3h0M159.0 218.1h0M161.2 216.0h0M161.2 215.9h0M152.8 219.9h0M158.1 216.7h0M162.1 214.3h0M164.5 213.2h0M159.7 213.9h0M165.0 214.2h0M161.0 213.7h0M158.7 205.8h0M156.6 212.4h0M165.9 217.6h0M167.9 216.3h0M181.4 219.9h0M172.9 214.5h0M181.0 217.0h0M177.6 214.9h0M184.6 215.6h0M169.3 216.7h0M182.1 214.6h0M177.0 203.7h0M183.5 214.0h0M179.3 217.9h0M169.4 209.6h0M180.8 217.0h0M178.1 210.3h0M173.2 209.6h0M171.3 215.1h0M175.9 213.6h0M178.6 210.7h0M177.2 216.1h0M169.5 219.9h0M171.7 216.1h0M180.6 214.6h0M178.3 217.6h0M181.6 217.5h0M176.1 214.4h0M173.5 210.6h0M182.5 211.8h0M172.9 214.3h0M170.2 211.4h0M175.4 215.5h0M176.7 213.6h0M172.7 214.9h0M185.1 211.2h0M173.1 219.9h0M171.3 215.9h0M180.2 208.1h0M171.6 216.4h0M173.9 214.5h0M176.1 217.4h0M173.8 213.7h0M180.1 216.3h0M171.6 215.6h0M180.0 215.9h0M171.2 216.1h0M178.9 216.2h0M185.5 215.5h0M182.3 217.3h0M185.0 218.7h0M178.3 214.0h0M171.9 217.2h0M175.4 214.5h0M182.2 218.8h0M171.4 217.3h0M180.3 214.5h0M174.6 213.8h0M184.5 214.7h0M175.1 214.3h0M174.6 218.5h0M173.8 215.4h0M178.2 216.8h0M185.1 217.1h0M178.2 215.1h0M181.6 217.7h0M177.9 215.0h0M170.6 216.0h0M179.0 217.3h0M179.1 219.9h0M179.2 215.7h0M174.2 210.7h0M173.7 206.5h0M174.7 212.3h0M169.8 211.4h0M171.9 219.9h0M174.0 213.3h0M177.8 219.3h0M184.4 216.1h0M180.9 217.6h0M177.8 209.3h0M181.2 216.2h0M176.6 214.9h0M170.0 212.2h0M180.7 219.0h0M181.0 214.5h0M180.1 208.5h0M183.4 214.0h0M182.2 213.0h0M183.0 219.9h0M170.0 218.6h0M185.9 211.3h0M179.0 209.5h0M179.1 219.9h0M179.4 219.9h0M173.7 215.7h0M174.3 218.6h0M183.8 205.9h0M179.2 219.9h0M185.2 218.0h0M172.7 213.7h0M179.0 210.4h0M179.2 217.3h0M169.9 219.9h0M179.7 211.5h0M175.6 212.1h0M176.4 216.3h0M172.3 217.8h0M179.1 212.0h0M180.4 217.2h0M184.1 219.9h0M183.2 216.4h0M185.6 217.6h0M185.5 216.1h0M180.9 211.4h0M173.9 213.2h0M178.2 215.5h0M170.6 218.2h0M178.7 213.5h0M174.3 214.6h0M178.2 212.3h0M181.7 219.5h0M170.2 219.2h0M183.8 218.5h0M169.9 203.3h0M177.4 217.4h0M172.9 219.9h0M169.9 204.1h0M177.2 216.2h0M173.6 214.5h0M170.6 218.0h0M183.0 211.6h0M173.3 214.4h0M184.9 219.9h0M179.4 214.5h0M175.2 216.5h0M170.2 213.9h0M183.5 214.7h0M171.1 211.2h0M182.2 219.9h0M178.0 216.7h0M176.8 217.1h0M170.6 216.4h0M176.2 214.8h0M169.5 217.2h0M181.9 216.7h0M181.0 219.2h0M171.5 212.5h0M177.7 215.1h0M172.2 215.9h0M181.1 214.0h0M172.4 214.7h0M172.1 215.8h0M174.0 209.5h0M185.4 214.5h0M182.9 217.4h0M175.9 216.0h0M182.5 216.2h0M175.3 206.0h0M172.4 209.5h0M184.2 217.0h0M169.8 215.8h0M182.4 218.3h0M185.2 216.1h0M170.6 215.9h0M183.5 213.3h0M182.2 210.7h0M169.9 214.2h0M176.6 217.2h0M173.6 214.1h0M175.6 205.2h0M175.6 205.2h0M175.8 214.6h0M169.4 208.6h0M173.8 215.8h0M174.1 218.2h0M180.0 205.8h0M180.8 212.5h0M181.7 214.5h0M179.8 205.5h0M184.1 217.2h0M178.5 218.5h0M174.5 215.3h0M169.9 217.3h0M181.3 212.2h0M178.6 213.0h0M172.0 218.1h0M177.8 216.6h0M185.0 218.1h0M179.3 214.1h0M174.4 218.8h0M182.7 209.7h0M175.8 216.2h0M169.5 212.2h0M170.6 213.4h0M185.2 216.2h0M170.8 216.5h0M182.3 217.1h0M169.8 213.8h0M176.3 217.1h0M173.9 213.3h0M175.0 209.1h0M170.8 212.3h0M175.9 214.6h0M181.9 215.8h0M178.0 216.2h0M171.4 213.2h0M182.6 210.8h0M183.7 214.7h0M176.8 206.8h0M175.2 219.9h0M169.5 212.7h0M170.4 205.9h0M175.5 214.4h0M171.1 217.1h0M185.4 217.9h0M180.0 217.2h0M174.4 209.2h0M179.0 214.7h0M172.0 213.0h0M184.5 215.3h0M177.6 216.1h0M180.9 217.2h0M172.3 218.3h0M177.1 215.8h0M181.1 215.8h0M175.7 216.6h0M170.3 212.4h0M177.0 214.1h0M183.0 212.6h0M176.9 217.4h0M185.5 210.3h0M178.6 216.9h0M183.9 214.2h0M169.8 216.9h0M179.7 204.9h0M177.7 219.9h0M175.2 216.1h0M184.3 215.3h0M170.8 213.9h0M177.3 216.3h0M174.3 217.2h0M185.2 214.9h0M182.2 208.5h0M172.6 214.1h0M171.4 216.4h0M169.6 208.1h0M172.2 215.5h0M184.7 211.1h0M183.8 204.2h0M182.6 219.9h0M175.9 216.2h0M177.3 216.8h0M178.8 210.8h0M182.7 214.1h0M169.3 214.2h0M172.3 212.7h0M178.9 218.8h0M171.6 218.2h0M184.9 214.3h0M170.0 216.3h0M185.4 214.2h0M172.8 216.2h0M172.5 215.0h0M176.3 213.3h0M179.9 209.6h0M185.5 216.1h0M177.2 213.1h0M184.2 217.9h0M184.1 218.9h0M185.6 210.7h0M175.2 219.9h0M177.1 215.8h0M169.6 212.9h0M175.6 217.7h0M175.1 216.1h0M171.3 215.4h0M183.1 211.5h0M173.9 209.0h0M171.4 213.9h0M171.2 216.6h0M169.6 214.9h0M181.8 218.9h0M178.1 210.3h0M178.0 217.7h0M176.1 213.6h0M185.3 217.7h0M175.5 216.8h0M177.1 216.5h0M180.7 216.2h0M184.7 213.8h0M183.5 217.5h0M183.9 217.1h0M172.3 217.1h0M185.0 215.1h0M182.9 220.0h0M174.7 210.2h0M182.6 215.9h0M185.1 216.8h0M181.6 215.4h0M181.5 218.1h0M183.2 210.5h0M183.9 215.0h0M182.2 219.9h0M170.5 216.4h0M172.7 219.9h0M171.3 215.4h0M177.0 219.1h0M170.3 213.4h0M178.4 216.4h0M184.6 216.7h0M185.6 215.8h0M169.9 196.0h0M180.6 216.5h0M171.6 214.4h0M183.6 217.6h0M169.8 210.7h0M171.0 216.8h0M174.6 215.6h0M169.3 203.6h0M180.3 218.9h0M172.7 212.7h0M181.2 218.2h0M185.0 219.4h0M177.1 213.8h0M177.1 211.9h0M185.8 218.1h0M174.5 213.1h0M184.0 219.9h0M181.1 215.5h0M169.4 216.4h0M174.2 219.9h0M181.2 218.1h0M170.0 212.6h0M183.5 216.7h0M184.4 218.2h0M181.9 208.6h0M182.7 206.5h0M179.2 212.9h0M182.7 215.5h0M177.0 219.9h0M176.0 213.9h0M180.9 214.0h0M177.0 210.6h0M174.4 216.2h0M173.6 216.5h0M176.5 218.0h0M175.6 209.2h0M181.8 218.5h0M182.3 215.1h0M182.5 214.9h0M183.3 219.2h0M175.3 213.1h0M175.4 213.8h0M183.2 218.7h0M172.2 214.9h0M180.9 217.5h0M178.0 218.5h0M180.3 214.6h0M180.8 212.2h0M180.4 216.1h0M173.2 211.3h0M169.6 210.4h0M185.1 212.1h0M184.2 208.1h0M177.6 215.2h0M180.2 214.7h0M170.8 212.9h0M176.9 207.9h0M179.0 218.6h0M180.9 219.6h0M172.9 214.8h0M170.8 213.2h0M185.2 208.3h0M183.4 217.5h0M172.2 216.8h0M182.9 214.8h0M182.8 216.2h0M172.3 219.9h0M182.6 209.9h0M175.6 212.9h0M174.8 213.5h0M171.9 217.5h0M179.1 212.8h0M179.4 218.6h0M177.7 217.4h0M170.9 211.8h0M182.5 215.9h0M174.5 218.0h0M173.6 211.5h0M179.9 215.8h0M172.3 215.6h0M184.4 214.3h0M180.0 218.2h0M182.4 216.7h0M174.9 212.4h0M176.4 216.4h0M173.4 216.1h0M173.4 217.0h0M176.1 211.3h0M182.3 213.3h0M177.6 219.5h0M183.1 217.6h0M171.1 215.1h0M174.1 211.5h0M169.9 211.1h0M184.4 215.4h0M170.3 215.7h0M178.3 219.9h0M180.4 214.4h0M172.6 215.8h0M185.5 209.2h0M185.6 214.3h0M173.2 219.4h0M171.6 208.3h0M180.1 217.5h0M177.8 214.4h0M179.3 212.7h0M179.5 215.5h0M185.1 211.5h0M182.0 209.9h0M174.4 216.8h0M181.7 214.2h0M176.7 214.8h0M185.5 215.4h0M177.2 214.2h0M169.4 215.2h0M184.5 211.0h0M173.8 207.4h0M182.9 213.5h0M179.4 212.7h0M181.6 217.1h0M181.5 214.8h0M184.3 205.4h0M183.1 217.1h0M180.0 211.5h0M174.7 215.6h0M177.5 211.1h0M173.9 216.7h0M174.8 217.6h0M176.9 212.8h0M176.3 212.9h0M174.1 214.9h0M174.3 213.8h0M174.4 210.9h0M172.4 219.9h0M178.9 208.8h0M170.8 210.2h0M173.4 217.7h0M172.1 215.8h0M181.0 216.3h0M173.9 215.9h0M170.9 217.1h0M182.9 212.5h0M176.5 219.7h0M182.6 218.2h0M174.6 215.5h0M175.0 215.6h0M178.5 218.0h0M170.4 210.5h0M185.5 216.6h0M171.5 215.7h0M184.4 215.5h0M180.2 219.9h0M182.0 210.9h0M172.7 209.4h0M184.1 212.4h0M178.2 215.6h0M176.1 219.9h0M172.4 211.2h0M172.1 219.9h0M183.6 211.5h0M185.4 213.5h0M176.2 210.1h0M181.3 219.9h0M180.9 219.0h0M177.5 212.7h0M177.2 214.9h0M178.4 216.1h0M175.0 217.4h0M181.6 210.4h0M176.2 216.3h0M177.6 217.3h0M172.3 212.8h0M185.5 216.6h0M170.5 214.9h0M181.2 213.9h0M180.2 205.4h0M175.0 219.5h0M185.5 215.3h0M169.8 214.3h0M173.8 208.5h0M174.9 208.0h0M179.9 210.2h0M179.1 217.8h0M181.1 216.9h0M183.6 212.3h0M169.6 212.5h0M178.6 211.4h0M175.9 217.0h0M180.7 219.9h0M178.0 214.6h0M175.0 217.3h0M169.4 217.5h0M174.4 210.4h0M176.7 213.4h0M174.8 213.7h0M175.6 217.3h0M180.1 215.4h0M174.8 215.9h0M183.4 219.9h0M175.3 213.9h0M176.5 212.9h0M176.5 212.5h0M184.3 215.2h0M179.3 219.3h0M185.3 215.8h0M169.3 213.0h0M185.1 215.0h0M172.5 213.8h0M184.2 212.0h0M170.0 216.1h0M183.5 212.4h0M179.8 211.1h0M180.6 216.7h0M175.7 216.4h0M175.7 219.9h0M171.8 212.5h0M171.6 213.8h0M179.6 211.2h0M174.9 199.1h0M169.7 216.0h0M172.1 217.4h0M172.1 213.8h0M172.5 208.2h0M176.8 216.1h0M184.4 213.5h0M178.9 216.9h0M181.6 213.0h0M171.0 218.4h0M180.8 212.5h0M183.6 209.7h0M185.8 214.1h0M181.1 218.3h0M179.3 217.3h0M185.2 218.2h0M171.4 214.6h0M182.4 216.0h0M181.2 216.0h0M181.3 217.1h0M175.1 216.6h0M170.6 212.7h0M171.6 217.2h0M180.5 214.1h0M174.4 212.3h0M185.0 215.1h0M171.3 213.6h0M182.8 211.6h0M177.2 203.0h0M174.1 215.0h0M173.5 216.7h0M175.1 206.0h0M175.4 211.5h0M173.0 211.9h0M172.9 219.9h0M185.4 217.1h0M176.3 215.4h0M179.6 216.8h0M180.9 213.2h0M174.8 203.8h0M184.8 215.3h0M174.1 207.7h0M172.4 213.4h0M170.0 204.5h0M173.6 211.2h0M170.3 217.9h0M179.7 219.5h0M178.8 209.1h0M169.6 215.3h0M185.0 213.5h0M181.4 216.7h0M178.4 218.2h0M185.0 220.0h0M178.1 213.8h0M172.2 213.0h0M182.2 216.1h0M185.1 210.8h0M170.2 218.5h0M177.6 218.6h0M173.0 209.3h0M184.3 215.4h0M170.8 217.5h0M182.7 212.7h0M172.7 216.4h0M179.9 213.8h0M180.8 215.6h0M181.9 215.2h0M170.1 213.1h0M177.3 215.3h0M171.3 216.5h0M171.3 213.2h0M171.9 217.8h0M171.7 213.5h0M184.8 218.1h0M178.6 214.0h0M173.5 214.9h0M177.3 215.9h0M170.2 215.8h0M172.8 213.1h0M179.7 215.7h0M180.8 208.1h0M179.5 219.0h0M185.6 217.4h0M185.5 216.9h0M183.1 213.8h0M177.0 213.6h0M181.8 219.0h0M173.4 213.4h0M183.6 208.1h0M173.3 217.3h0M185.7 219.9h0M169.5 218.6h0M182.5 216.4h0M177.6 213.1h0M182.8 211.6h0M177.9 215.9h0M183.1 217.9h0M181.0 211.7h0M179.9 209.9h0M185.1 212.0h0M171.2 215.8h0M184.7 213.2h0M177.9 218.5h0M181.0 219.9h0M180.4 215.1h0M175.8 216.9h0M178.0 211.0h0M185.4 214.8h0M177.4 204.0h0M184.5 214.2h0M169.4 215.1h0M178.8 218.4h0M180.7 213.2h0M175.8 215.3h0M170.6 219.9h0M182.4 209.6h0M181.8 212.2h0M175.6 217.1h0M170.9 217.4h0M183.2 217.3h0M182.2 211.9h0M183.1 213.2h0M182.9 214.9h0M173.6 216.1h0M179.6 218.0h0M177.0 207.4h0M175.7 210.8h0M176.1 217.0h0M180.4 211.8h0M185.8 218.3h0M177.1 212.8h0M175.3 213.4h0M179.7 216.2h0M179.7 210.2h0M176.0 214.4h0M180.0 217.0h0M180.2 216.3h0M181.7 217.0h0M172.0 214.2h0M180.1 213.8h0M176.2 213.5h0M183.9 213.1h0M179.5 208.9h0M182.7 216.5h0M182.7 216.9h0M172.8 213.4h0M170.5 215.2h0M181.9 219.2h0M170.2 211.1h0M185.0 214.0h0M180.7 219.9h0M176.3 219.2h0M180.4 198.0h0M171.4 216.0h0M179.9 219.9h0M184.6 214.6h0M169.2 215.9h0M184.9 216.0h0M174.4 216.2h0M175.8 211.4h0M184.9 215.4h0M182.5 212.4h0M175.6 216.6h0M185.5 217.3h0M169.8 218.4h0M180.2 219.9h0M177.7 212.7h0M184.0 215.3h0M169.6 197.0h0M174.6 207.9h0M177.2 203.9h0M170.5 217.4h0M180.0 215.6h0M183.3 211.5h0M201.0 214.6h0M188.3 217.4h0M194.3 211.8h0M202.3 209.7h0M187.1 204.9h0M197.6 204.5h0M190.6 210.8h0M201.0 216.3h0M196.0 215.8h0M200.8 213.4h0M186.7 218.6h0M196.0 217.8h0M192.9 215.5h0M187.7 217.3h0M192.7 215.6h0M198.2 217.6h0M195.6 215.3h0M195.8 218.3h0M190.5 215.8h0M194.3 214.7h0M193.3 217.5h0M201.0 210.8h0M200.5 212.8h0M193.2 211.4h0M194.3 213.2h0M190.7 215.5h0M195.3 211.0h0M188.0 215.5h0M201.9 216.4h0M192.8 214.1h0M186.0 205.0h0M190.8 211.5h0M201.7 213.4h0M191.0 216.9h0M192.3 214.4h0M202.1 211.7h0M198.9 218.3h0M191.9 217.3h0M188.6 219.9h0M192.4 210.2h0M192.1 215.0h0M200.8 217.8h0M194.9 219.9h0M201.3 214.0h0M202.3 214.0h0M200.4 214.6h0M192.6 216.6h0M192.4 214.3h0M195.0 215.0h0M197.2 210.6h0M200.0 212.5h0M199.5 211.8h0M191.1 215.7h0M198.1 210.7h0M192.1 215.9h0M198.8 214.8h0M186.1 217.8h0M200.0 218.3h0M197.5 215.1h0M188.3 213.7h0M190.0 216.0h0M191.1 216.9h0M194.4 218.2h0M201.0 211.5h0M202.0 219.2h0M195.9 219.2h0M187.7 215.0h0M202.2 211.1h0M201.9 216.1h0M187.3 215.6h0M197.0 214.9h0M197.0 207.9h0M196.9 214.9h0M197.9 208.0h0M186.0 217.2h0M191.0 212.4h0M191.5 218.0h0M196.7 208.8h0M187.5 214.7h0M190.5 210.4h0M188.8 214.6h0M186.7 216.5h0M193.8 213.7h0M189.3 216.9h0M193.9 216.3h0M189.3 215.6h0M199.1 217.0h0M187.7 212.0h0M198.7 216.0h0M196.8 214.4h0M188.5 209.6h0M192.2 216.1h0M192.2 215.3h0M193.4 213.6h0M197.1 215.3h0M186.1 219.9h0M188.6 208.8h0M197.5 216.4h0M187.4 217.8h0M199.9 214.4h0M192.0 215.6h0M186.5 217.6h0M198.7 217.9h0M190.0 216.6h0M202.5 215.5h0M201.2 206.9h0M200.6 214.6h0M200.6 215.7h0M187.1 207.4h0M186.3 217.7h0M192.6 216.7h0M192.9 216.4h0M192.7 217.3h0M195.8 216.1h0M198.9 195.2h0M199.0 212.6h0M201.4 207.5h0M197.1 214.8h0M200.5 216.5h0M187.4 216.4h0M186.3 211.7h0M193.4 214.8h0M200.6 214.8h0M192.3 216.1h0M187.7 212.8h0M188.0 211.9h0M189.7 212.6h0M200.3 219.9h0M191.5 214.0h0M200.2 200.8h0M201.6 218.0h0M198.8 215.9h0M201.2 219.9h0M190.1 213.3h0M189.1 215.7h0M189.9 214.6h0M186.2 216.9h0M201.4 217.9h0M189.3 216.8h0M196.4 214.5h0M190.6 212.5h0M194.9 215.1h0M193.1 208.2h0M197.9 215.4h0M189.2 216.6h0M190.7 216.9h0M188.2 212.9h0M191.3 217.0h0M199.8 218.8h0M201.9 215.5h0M186.1 217.6h0M199.9 218.4h0M198.1 219.9h0M187.2 214.7h0M188.5 217.3h0M200.3 216.8h0M189.1 217.3h0M201.0 207.9h0M194.9 213.1h0M202.3 219.9h0M194.3 217.5h0M188.1 210.2h0M196.0 210.0h0M193.3 214.8h0M187.1 217.5h0M199.5 217.1h0M200.8 209.3h0M201.9 217.3h0M196.6 213.0h0M195.6 218.0h0M189.1 211.5h0M201.9 218.5h0M198.1 212.9h0M197.0 213.0h0M197.4 215.0h0M199.9 216.7h0M191.6 216.0h0M187.7 215.0h0M202.4 206.3h0M186.4 208.9h0M190.4 212.9h0M194.1 212.8h0M186.5 217.0h0M191.0 212.2h0M200.4 217.8h0M196.3 211.8h0M195.6 216.5h0M186.2 196.4h0M193.0 219.9h0M187.9 217.3h0M192.3 210.6h0M192.3 215.6h0M192.9 216.7h0M191.1 215.4h0M198.9 211.0h0M193.6 212.6h0M201.0 219.9h0M191.6 218.1h0M188.3 212.5h0M191.8 214.7h0M200.4 218.4h0M191.9 208.4h0M199.5 218.4h0M197.4 217.3h0M190.2 217.6h0M189.1 216.3h0M187.8 212.7h0M193.4 214.8h0M197.4 212.3h0M190.8 218.6h0M201.8 216.9h0M186.1 210.1h0M199.0 204.2h0M188.7 218.8h0M202.5 215.3h0M187.5 217.0h0M201.2 219.9h0M192.6 215.0h0M190.6 216.0h0M186.6 219.0h0M189.5 213.3h0M192.3 219.5h0M201.5 212.4h0M202.0 217.7h0M187.2 212.0h0M195.2 213.5h0M186.4 215.6h0M187.6 214.3h0M196.1 213.6h0M194.6 215.1h0M200.9 216.6h0M200.9 217.9h0M188.5 213.7h0M196.4 214.2h0M199.3 214.3h0M198.7 214.7h0M195.3 215.1h0M194.4 216.1h0M195.4 213.6h0M192.8 213.7h0M195.3 217.2h0M200.7 219.9h0M191.7 219.9h0M193.2 213.2h0M193.2 214.4h0M200.3 217.6h0M190.0 215.2h0M193.2 218.5h0M198.4 214.9h0M192.4 213.4h0M200.1 219.5h0M194.8 208.2h0M187.5 217.4h0M192.0 215.8h0M188.3 212.6h0M193.2 214.6h0M191.9 217.0h0M191.5 215.6h0M199.7 218.5h0M200.8 218.9h0M198.5 213.9h0M198.6 216.1h0M200.7 213.9h0M201.1 217.6h0M188.8 213.6h0M200.8 213.2h0M188.6 209.3h0M190.4 214.2h0M199.0 219.9h0M188.3 217.4h0M201.9 215.6h0M201.4 209.7h0M185.9 214.7h0M196.5 212.0h0M201.3 208.7h0M194.9 216.3h0M194.8 218.5h0M195.6 214.7h0M195.1 214.6h0M195.6 217.7h0M197.2 212.2h0M201.8 211.6h0M187.3 219.9h0M189.8 218.8h0M186.0 211.3h0M187.0 219.9h0M189.2 215.2h0M200.9 204.3h0M191.1 216.5h0M195.9 217.1h0M191.1 210.8h0M202.3 217.7h0M189.1 215.7h0M192.5 217.9h0M192.0 218.8h0M189.4 213.7h0M187.1 216.3h0M192.4 215.6h0M189.2 215.1h0M186.3 213.5h0M200.6 214.9h0M191.6 219.9h0M186.1 215.6h0M196.1 206.4h0M193.8 214.6h0M197.4 213.8h0M191.9 217.0h0M188.2 215.6h0M196.5 207.9h0M192.5 217.9h0M200.5 219.9h0M191.3 214.2h0M189.6 219.9h0M189.0 208.7h0M190.1 216.7h0M189.8 214.6h0M194.6 212.4h0M192.1 211.6h0M202.0 213.7h0M189.3 217.8h0M201.5 209.4h0M191.5 219.1h0M193.9 212.3h0M201.8 217.4h0M198.9 214.8h0M201.6 213.4h0M194.8 211.8h0M191.2 211.3h0M197.1 215.4h0M197.3 215.1h0M186.6 219.9h0M187.7 208.8h0M201.6 217.1h0M197.9 216.7h0M199.6 213.5h0M189.0 215.9h0M202.1 216.4h0M190.9 211.1h0M188.2 218.2h0M191.9 207.0h0M191.7 215.8h0M186.8 213.0h0M200.0 212.6h0M200.4 216.7h0M189.2 210.8h0M195.0 216.4h0M200.4 217.2h0M192.2 216.8h0M194.4 210.1h0M189.9 219.9h0M193.7 211.7h0M191.1 212.1h0M199.6 216.9h0M188.5 208.5h0M186.4 214.2h0M200.9 216.0h0M188.7 217.5h0M195.0 215.5h0M197.7 218.3h0M191.3 212.4h0M201.3 216.1h0M191.5 216.2h0M189.2 214.2h0M187.0 215.7h0M200.9 213.0h0M189.5 211.8h0M200.8 214.6h0M193.5 216.9h0M201.4 214.4h0M187.3 216.8h0M200.1 209.5h0M202.2 216.5h0M197.7 209.1h0M188.1 215.3h0M202.5 217.0h0M199.2 219.9h0M189.4 214.8h0M202.0 218.7h0M187.3 217.7h0M188.0 215.9h0M186.1 219.9h0M195.7 216.1h0M192.6 210.6h0M187.3 206.4h0M194.1 219.9h0M200.5 218.5h0M187.4 219.9h0M196.5 213.3h0M188.7 214.1h0M194.4 214.5h0M191.6 213.6h0M190.5 218.1h0M186.1 217.5h0M195.5 217.0h0M193.3 212.0h0M197.4 215.4h0M189.0 215.1h0M202.2 219.9h0M186.2 217.7h0M189.1 212.6h0M196.6 217.5h0M188.1 214.8h0M190.2 212.4h0M194.2 213.7h0M198.5 216.7h0M200.3 207.1h0M191.2 219.9h0M196.8 213.7h0M186.3 218.2h0M200.7 218.5h0M197.1 211.9h0M200.9 219.9h0M189.4 215.8h0M194.1 219.9h0M198.3 217.7h0M186.3 210.3h0M199.9 219.9h0M197.7 217.8h0M199.0 216.3h0M188.6 216.6h0M198.8 214.6h0M195.3 213.5h0M188.4 217.9h0M188.1 218.9h0M200.2 215.1h0M192.5 218.3h0M190.4 219.7h0M192.0 215.9h0M197.3 216.6h0M188.1 216.2h0M188.6 214.4h0M196.7 216.8h0M200.8 214.5h0M197.1 211.9h0M201.6 218.2h0M190.6 216.8h0M191.8 218.3h0M192.1 219.9h0M191.8 217.6h0M190.4 209.5h0M199.1 215.7h0M190.6 216.3h0M192.8 213.1h0M193.7 212.2h0M202.5 218.7h0M191.4 217.6h0M197.4 214.4h0M191.3 214.3h0M199.2 216.2h0M192.3 212.6h0M186.2 213.7h0M194.6 212.4h0M191.5 214.9h0M190.3 217.4h0M190.7 216.5h0M185.9 216.4h0M198.0 217.9h0M195.0 219.9h0M196.5 218.8h0M195.4 216.8h0M192.2 218.1h0M193.5 209.3h0M193.8 209.8h0M201.1 216.8h0M191.7 209.2h0M188.4 216.8h0M187.3 209.8h0M191.5 211.7h0M195.4 216.2h0M195.6 217.5h0M198.0 213.7h0M196.9 208.9h0M187.3 215.8h0M192.4 211.2h0M192.0 212.1h0M187.8 215.6h0M195.7 217.3h0M198.8 219.7h0M186.6 212.0h0M194.7 213.9h0M187.9 217.4h0M198.8 216.1h0M195.2 215.5h0M187.0 213.2h0M194.5 214.1h0M189.9 210.5h0M189.3 214.2h0M197.0 215.1h0M192.6 215.1h0M201.3 213.7h0M201.1 214.8h0M200.1 214.8h0M192.7 216.6h0M200.9 216.4h0M187.1 217.2h0M198.8 218.4h0M191.9 217.0h0M200.3 208.7h0M186.4 218.8h0M195.5 217.0h0M187.0 216.2h0M190.8 218.8h0M195.3 212.4h0M188.2 215.2h0M197.4 218.2h0M194.4 217.1h0M189.6 216.0h0M194.8 214.4h0M193.3 219.9h0M186.4 214.1h0M197.7 215.8h0M197.8 217.6h0M201.0 212.5h0M201.5 216.2h0M192.0 212.7h0M196.6 213.6h0M196.0 212.9h0M186.8 215.0h0M197.9 218.6h0M190.4 219.9h0M206.1 215.1h0M207.7 212.9h0M206.7 207.6h0M204.8 214.5h0M209.8 212.2h0M203.3 217.8h0M207.5 215.5h0M204.1 213.5h0M210.2 211.3h0M210.3 219.9h0M208.5 216.7h0M209.9 212.6h0M208.9 212.8h0M208.0 219.9h0M208.7 219.9h0M210.1 212.1h0M204.3 215.7h0M208.6 212.7h0M204.0 212.9h0M206.4 219.9h0M205.3 216.6h0M207.8 214.7h0M207.8 214.4h0M210.0 219.9h0M209.5 217.2h0M203.1 217.6h0M204.0 215.1h0M202.9 216.4h0M208.4 214.3h0M205.4 217.2h0M210.6 203.9h0M204.3 216.3h0M210.5 214.7h0M208.8 215.2h0M208.9 214.3h0M207.6 211.4h0M209.9 215.2h0M204.5 214.1h0M209.7 213.4h0M209.8 211.9h0M207.6 216.2h0M208.0 218.0h0M204.4 211.3h0M206.6 219.9h0M207.4 215.2h0M205.2 214.4h0M202.9 216.8h0M210.4 213.8h0M209.2 211.2h0M205.6 215.6h0M206.9 215.0h0M207.4 219.9h0M210.5 217.5h0M207.2 212.9h0M208.5 214.3h0M209.2 217.3h0M203.4 211.2h0M207.4 216.5h0M210.3 215.9h0M209.4 213.5h0M210.2 213.9h0M203.9 217.0h0M209.0 213.9h0M204.8 216.6h0M209.8 219.9h0M209.0 218.1h0M205.6 213.3h0M207.3 212.8h0M206.4 219.9h0M210.4 215.8h0M207.1 214.9h0M203.2 219.9h0M207.0 216.2h0M202.7 216.2h0M203.7 217.7h0M206.6 218.9h0M206.4 207.8h0M203.1 218.0h0M205.4 212.9h0M204.9 217.9h0M204.9 219.9h0M206.2 213.3h0M202.8 209.1h0M202.8 215.5h0M204.5 216.3h0M208.5 219.9h0M210.3 217.2h0M208.8 218.0h0M203.2 215.8h0M209.4 216.5h0M209.3 206.5h0M209.5 209.8h0M208.6 216.2h0M204.7 215.2h0M206.6 213.9h0M206.2 214.5h0M202.8 217.4h0M207.0 214.6h0M204.7 212.8h0M210.4 213.5h0M208.1 217.4h0M209.3 215.0h0M202.8 216.5h0M208.4 216.0h0M209.2 219.9h0M206.4 213.1h0M204.6 205.3h0M206.6 211.3h0M207.1 213.4h0M206.1 212.6h0M205.2 217.3h0M208.1 217.8h0M209.9 211.8h0M204.8 213.9h0M209.9 207.4h0M203.0 216.0h0M208.2 211.3h0M205.4 215.0h0M206.9 217.3h0M205.5 209.1h0M203.2 213.2h0M203.9 217.7h0M210.7 209.5h0M206.0 214.3h0M210.4 214.3h0M206.8 214.0h0M210.0 219.9h0M206.2 212.0h0M210.8 216.7h0M206.5 217.6h0M204.7 211.8h0M204.0 216.2h0M203.1 211.8h0M203.4 216.9h0M208.2 214.1h0M205.5 215.7h0M209.8 205.7h0M204.2 216.0h0M210.3 219.9h0M204.1 211.4h0M204.8 209.2h0M205.3 214.0h0M204.7 218.2h0M206.0 214.9h0M209.2 216.9h0M203.1 218.3h0M204.6 218.8h0M203.0 215.4h0M209.0 214.4h0M203.5 210.3h0M206.8 207.4h0M209.7 213.5h0M205.1 213.3h0M203.5 219.9h0M204.7 211.2h0M210.3 211.8h0M203.3 211.1h0M209.7 215.5h0M203.5 212.8h0M203.9 215.6h0M208.9 212.9h0M207.8 210.9h0M205.2 216.7h0M208.4 216.3h0M203.8 213.9h0M209.9 212.6h0M207.3 216.5h0M210.4 207.7h0M207.5 217.3h0M207.3 212.4h0M209.7 214.2h0M207.4 215.1h0M203.2 216.6h0M207.6 217.2h0M205.0 211.7h0M207.8 216.5h0M210.8 215.4h0M207.6 203.9h0M209.5 208.1h0M205.5 218.1h0M202.6 219.9h0M202.9 215.0h0M202.7 216.4h0M204.3 208.7h0M204.8 215.1h0M205.2 212.1h0M208.0 213.6h0M208.8 213.8h0M208.9 213.8h0M208.8 214.0h0M209.6 216.6h0M208.5 216.1h0M206.3 215.5h0M206.0 219.9h0M203.2 216.8h0M202.6 213.1h0M209.7 214.6h0M203.8 210.7h0M209.7 217.6h0M205.8 215.2h0M211.3 214.8h0M217.7 215.3h0M216.8 215.0h0M219.1 215.5h0M215.3 216.1h0M218.6 216.5h0M215.1 217.2h0M213.0 213.7h0M214.2 213.5h0M216.3 213.2h0M218.2 213.1h0M217.6 212.0h0M218.6 217.7h0M215.3 213.0h0M214.7 212.0h0M215.2 213.6h0M218.6 215.4h0M213.9 215.1h0M211.3 215.7h0M214.1 214.5h0M216.2 216.5h0M217.8 211.2h0M218.7 211.0h0M216.6 213.6h0M217.6 215.2h0M217.6 215.3h0M217.6 219.9h0M215.8 219.0h0M218.7 212.6h0M218.3 216.3h0M210.9 219.9h0M211.8 217.3h0M219.1 215.1h0M216.4 217.2h0M212.0 211.8h0M218.4 216.9h0M211.6 215.3h0M215.3 211.9h0M214.1 216.6h0M213.2 216.8h0M212.8 211.5h0M211.6 207.4h0M214.0 217.9h0M211.7 213.8h0M216.0 216.1h0M213.5 213.0h0M217.2 210.9h0M218.6 210.4h0M218.2 219.9h0M217.0 211.8h0M217.3 215.6h0M211.6 214.4h0M218.9 211.7h0M215.6 213.6h0M215.4 215.7h0M216.4 212.9h0M212.4 217.8h0M214.8 217.8h0M211.9 215.5h0M218.5 210.9h0M215.0 212.7h0M211.9 213.4h0M218.9 210.5h0M215.7 214.4h0M217.1 213.0h0M217.5 214.0h0M216.6 215.2h0M214.5 217.3h0M213.2 216.8h0M211.3 218.0h0M216.0 210.5h0M211.8 215.9h0M213.9 214.4h0M218.2 216.6h0M218.4 216.1h0M217.7 216.1h0M212.4 213.1h0M218.7 212.4h0M212.0 211.9h0M218.5 213.3h0M217.1 215.8h0M218.9 210.7h0M219.0 216.1h0M215.2 214.1h0M213.4 214.4h0M218.5 214.9h0M213.4 217.1h0M213.6 216.8h0M215.6 213.3h0M212.0 210.8h0M214.6 214.5h0M212.0 213.7h0M214.6 216.2h0M218.4 215.1h0M218.5 217.7h0M218.8 212.8h0M216.9 214.3h0M217.1 212.1h0M214.4 206.0h0M218.3 211.9h0M212.0 214.5h0M212.2 212.1h0M211.8 207.6h0M214.2 211.9h0M211.3 217.1h0M216.7 212.9h0M212.4 215.8h0M216.6 210.6h0M215.5 217.5h0M216.6 212.4h0M216.7 213.7h0M217.4 217.7h0M214.8 207.4h0M215.6 215.8h0M212.9 214.4h0M215.0 209.8h0M211.6 216.6h0M218.8 214.1h0M218.6 216.3h0M211.5 210.8h0M210.9 213.9h0M214.1 214.8h0M215.2 216.2h0M214.8 219.9h0M213.6 211.4h0M216.0 217.7h0M214.2 213.0h0M214.2 213.0h0M211.1 214.4h0M215.8 214.3h0M211.5 211.7h0M218.0 212.5h0M214.8 214.6h0M213.8 214.5h0M216.3 213.0h0M218.2 216.2h0M212.2 207.9h0M214.2 213.3h0M218.9 208.1h0M218.0 216.8h0M222.4 217.5h0M222.2 218.2h0M225.9 210.0h0M219.9 217.4h0M220.1 214.5h0M223.9 209.8h0M223.9 215.4h0M223.9 215.0h0M225.5 218.0h0M226.5 215.7h0M222.5 214.3h0M221.9 214.3h0M226.2 212.8h0M221.2 213.8h0M226.4 215.7h0M225.0 208.3h0M226.2 215.0h0M224.5 216.8h0M220.0 215.2h0M225.1 212.6h0M223.3 216.7h0M220.7 212.7h0M220.0 214.1h0M221.3 216.5h0M220.2 215.9h0M220.3 214.0h0M226.2 213.2h0M227.1 210.7h0M227.4 214.1h0M223.8 213.2h0M223.9 218.5h0M219.7 215.9h0M220.1 214.9h0M225.6 213.2h0M223.9 213.5h0M223.9 215.0h0M225.4 214.5h0M225.9 214.4h0M225.1 215.2h0M219.3 217.6h0M223.7 216.3h0M226.1 215.2h0M226.0 213.1h0M227.1 215.7h0M223.5 210.1h0M231.8 215.1h0M227.7 216.4h0M231.7 214.5h0M232.2 214.6h0M235.1 215.3h0M234.8 214.0h0M228.0 214.9h0M228.7 211.2h0M230.7 213.7h0M234.0 216.3h0M228.9 214.6h0M233.9 217.0h0M232.4 211.6h0M234.8 216.7h0M230.3 217.0h0M230.8 211.7h0M228.0 213.1h0M231.8 214.5h0M233.9 217.2h0M231.8 215.3h0M241.0 213.5h0M244.9 215.6h0M243.5 212.5h0M238.9 216.1h0M245.2 209.2h0M243.0 215.8h0M238.8 215.7h0M248.8 213.6h0M255.3 215.3h0M253.0 212.8h0M254.3 215.0h0" stroke="#000" stroke-width="1.8" stroke-linecap="round" fill="none" clip-path="url(#c0)"/>
<path d="M50.4 172.2 L53.1 172.6 L55.7 173.5 L58.4 174.6 L61.0 175.9 L63.7 177.6 L66.3 179.7 L69.0 182.3 L71.6 185.6 L74.3 188.5 L76.9 190.8 L79.6 192.9 L82.3 194.9 L84.9 196.6 L87.6 198.1 L90.2 199.5 L92.9 200.8 L95.5 202.0 L98.2 203.0 L100.8 203.9 L103.5 204.7 L106.1 205.4 L108.8 206.0 L111.4 206.5 L114.1 207.2 L116.7 208.0 L119.4 208.7 L122.0 209.2 L124.7 209.7 L127.3 210.1 L130.0 210.4 L132.6 210.7 L135.3 211.0 L137.9 211.3 L140.6 211.5 L143.2 211.8 L145.9 212.0 L148.5 212.2 L151.2 212.3 L153.9 212.5 L156.5 212.6 L159.2 212.8 L161.8 212.9 L164.5 213.0 L167.1 213.1 L169.8 213.2 L172.4 213.3 L175.1 213.4 L177.7 213.5 L180.4 213.6 L183.0 213.7 L185.7 213.8 L188.3 213.8 L191.0 213.9 L193.6 214.0 L196.3 214.0 L198.9 214.1 L201.6 214.1 L204.2 214.2 L206.9 214.2 L209.5 214.3 L212.2 214.3 L214.8 214.3 L217.5 214.4 L220.1 214.4 L222.8 214.4 L225.5 214.5 L228.1 214.5 L230.8 214.5 L233.4 214.5 L236.1 214.5 L238.7 214.6 L241.4 214.6 L244.0 214.6 L246.7 214.6 L249.3 214.6 L252.0 214.6 L254.6 214.6 L257.3 214.6 L259.9 214.6" stroke="#f4452c" stroke-width="1.1" fill="none"/>
<rect x="42.2" y="21.25" width="226.40000000000003" height="206.05" fill="none" stroke="#5a5a5a" stroke-width="1"/>
<path d="M69.4 227.3H235.8M69.4 227.3v5M102.7 227.3v5M136.0 227.3v5M169.2 227.3v5M202.5 227.3v5M235.8 227.3v5" stroke="#5a5a5a" stroke-width="1" fill="none"/>
<text x="69.2" y="246.6" text-anchor="middle">2</text>
<text x="102.5" y="246.6" text-anchor="middle">4</text>
<text x="135.8" y="246.6" text-anchor="middle">6</text>
<text x="169.0" y="246.6" text-anchor="middle">8</text>
<text x="202.3" y="246.6" text-anchor="middle">10</text>
<text x="235.6" y="246.6" text-anchor="middle">12</text>
<path d="M42.2 220.2V28.4M42.2 220.2h-5.3M42.2 172.2h-5.3M42.2 124.3h-5.3M42.2 76.3h-5.3M42.2 28.4h-5.3" stroke="#5a5a5a" stroke-width="1" fill="none"/>
<text transform="translate(29.5 220.2) rotate(-90)" text-anchor="middle">0.0</text>
<text transform="translate(29.5 172.2) rotate(-90)" text-anchor="middle">0.5</text>
<text transform="translate(29.5 124.3) rotate(-90)" text-anchor="middle">1.0</text>
<text transform="translate(29.5 76.3) rotate(-90)" text-anchor="middle">1.5</text>
<text transform="translate(29.5 28.4) rotate(-90)" text-anchor="middle">2.0</text>
<text transform="translate(8.2 123.4) rotate(-90)" text-anchor="middle" font-size="8.78">Dispersion</text>
<text x="154.1" y="264.2" text-anchor="middle" font-size="8.78">Average logCPM</text>
<text x="155.3" y="8.9" text-anchor="middle" font-size="10.15" font-weight="bold">No empirical Bayes shrinkage</text>
<rect x="154.1" y="21.25" width="114.50000000000003" height="31.5" fill="#fff" stroke="#5a5a5a" stroke-width="1"/>
<circle cx="164.7" cy="31.4" r="2.05" fill="#000"/>
<path d="M156.8 41.6H173" stroke="#e8553f" stroke-width="1"/>
<text x="180.5" y="35.0">Gene-wise dispersion</text>
<text x="180.5" y="45.6">Trended dispersion</text>
<clipPath id="c283"><rect x="325.4" y="21.25" width="226.39999999999998" height="206.05"/></clipPath>
<path d="M336.3 159.8h0M342.7 168.5h0M338.3 168.1h0M349.2 165.0h0M341.6 159.5h0M341.4 173.5h0M346.7 166.1h0M342.6 183.0h0M345.1 179.3h0M347.1 182.9h0M347.2 182.8h0M342.3 177.9h0M336.7 180.9h0M347.2 180.4h0M339.7 177.1h0M346.4 173.8h0M339.1 169.6h0M339.4 175.4h0M335.3 172.0h0M344.2 159.7h0M339.1 163.4h0M344.3 184.9h0M336.3 124.4h0M343.5 176.6h0M345.2 185.4h0M335.6 183.5h0M340.0 175.0h0M343.0 151.5h0M342.1 184.6h0M348.3 183.4h0M336.9 164.9h0M348.2 175.0h0M337.9 142.9h0M348.5 183.6h0M335.9 172.3h0M340.0 160.7h0M339.1 162.2h0M333.8 181.3h0M345.1 170.4h0M341.6 178.9h0M342.9 175.2h0M348.0 165.1h0M343.9 154.6h0M333.8 173.5h0M334.7 166.0h0M348.7 177.9h0M342.1 176.2h0M345.9 167.9h0M336.7 177.5h0M348.8 172.8h0M335.1 149.0h0M339.6 172.4h0M333.9 159.6h0M340.3 172.1h0M338.4 151.6h0M344.0 183.2h0M333.7 171.3h0M344.8 181.5h0M337.5 169.5h0M347.1 152.1h0M344.7 175.6h0M348.7 180.3h0M344.5 181.3h0M344.4 181.7h0M346.8 172.6h0M342.1 154.5h0M341.4 154.5h0M348.5 172.4h0M336.5 178.8h0M346.2 173.3h0M333.8 167.3h0M341.0 176.2h0M344.4 175.1h0M348.3 172.5h0M341.7 170.6h0M343.3 178.6h0M334.5 176.9h0M348.9 177.4h0M341.5 128.6h0M336.4 157.8h0M341.2 178.5h0M335.9 162.7h0M341.8 178.8h0M341.8 161.4h0M342.7 176.4h0M349.1 178.9h0M335.0 154.1h0M344.8 178.7h0M345.9 169.4h0M347.6 175.8h0M334.6 166.3h0M336.0 165.8h0M334.9 159.4h0M348.0 175.6h0M348.5 178.6h0M341.2 181.8h0M334.1 167.0h0M348.6 169.8h0M337.5 170.9h0M338.7 180.6h0M348.8 170.6h0M337.4 172.3h0M339.8 179.4h0M341.5 157.1h0M337.6 146.1h0M341.6 167.5h0M339.8 172.8h0M341.1 169.3h0M334.2 158.3h0M347.3 185.7h0M340.7 163.0h0M344.8 156.7h0M339.6 176.6h0M338.9 159.3h0M345.1 177.4h0M338.0 174.0h0M343.5 177.3h0M339.2 166.3h0M343.9 176.1h0M339.3 182.8h0M334.9 153.9h0M340.7 156.7h0M340.4 178.0h0M342.6 178.5h0M344.0 162.7h0M346.0 157.3h0M343.1 148.6h0M335.6 149.3h0M336.8 163.3h0M337.7 177.3h0M334.4 171.0h0M346.1 183.9h0M341.8 176.4h0M336.1 127.6h0M336.1 176.6h0M341.7 174.1h0M344.0 180.7h0M335.5 177.2h0M334.8 182.3h0M336.5 167.4h0M341.5 172.7h0M340.3 168.1h0M337.8 166.6h0M335.6 164.8h0M346.6 174.5h0M337.5 176.4h0M347.6 181.4h0M347.4 167.4h0M336.4 144.4h0M336.0 173.9h0M346.0 173.5h0M334.5 172.0h0M342.7 163.2h0M338.2 175.3h0M334.2 163.7h0M344.7 180.2h0M344.6 155.8h0M335.5 177.3h0M344.2 180.7h0M341.3 174.5h0M338.8 174.6h0M338.4 165.4h0M336.0 175.4h0M347.9 177.7h0M336.9 178.3h0M346.8 176.6h0M336.0 168.8h0M335.7 177.6h0M343.6 185.0h0M347.8 183.2h0M348.0 152.0h0M337.9 172.1h0M337.1 157.4h0M348.7 181.6h0M345.9 172.5h0M348.6 177.1h0M339.5 150.8h0M344.6 175.6h0M344.4 177.1h0M342.9 157.3h0M347.9 182.0h0M339.0 161.1h0M341.9 166.7h0M334.8 165.3h0M335.1 171.5h0M347.4 184.8h0M344.5 174.7h0M346.9 168.3h0M336.0 153.5h0M336.1 156.4h0M342.5 162.7h0M341.1 161.9h0M335.1 170.4h0M345.6 181.5h0M349.2 179.4h0M337.4 178.6h0M335.6 158.2h0M338.6 164.9h0M348.0 173.2h0M349.2 157.0h0M344.5 175.3h0M342.6 158.0h0M342.4 175.3h0M335.5 167.8h0M344.2 174.3h0M334.8 176.0h0M338.9 179.6h0M334.2 170.0h0M349.2 185.6h0M334.7 175.8h0M335.9 177.7h0M346.4 163.1h0M341.9 182.1h0M340.2 155.7h0M341.7 159.8h0M339.2 168.7h0M341.8 177.9h0M336.1 155.5h0M333.8 164.5h0M335.4 166.8h0M347.9 177.5h0M337.3 171.5h0M340.4 159.3h0M336.0 160.1h0M345.7 172.3h0M343.7 182.0h0M345.3 133.1h0M341.1 167.2h0M345.5 169.7h0M346.6 177.1h0M339.8 170.9h0M340.3 179.6h0M341.4 164.8h0M345.3 175.4h0M338.4 176.7h0M345.8 178.4h0M340.2 174.6h0M336.0 168.2h0M338.1 159.2h0M346.5 163.9h0M335.5 176.8h0M345.9 174.5h0M343.0 158.8h0M337.5 164.9h0M337.6 177.5h0M342.0 170.9h0M338.9 175.1h0M344.6 179.3h0M342.8 173.0h0M338.6 174.7h0M343.4 153.1h0M337.9 172.8h0M338.1 178.1h0M337.3 159.4h0M348.5 182.7h0M335.4 172.9h0M346.8 168.3h0M339.2 170.7h0M334.1 164.9h0M345.2 141.0h0M339.8 175.4h0M341.1 173.1h0M348.5 179.5h0M340.2 162.4h0M336.1 170.9h0M334.1 179.9h0M338.0 173.6h0M338.3 172.9h0M337.4 175.1h0M334.7 165.7h0M334.8 178.3h0M349.2 177.8h0M337.2 178.7h0M337.8 172.4h0M339.0 164.9h0M344.3 181.2h0M336.8 178.8h0M341.8 166.3h0M337.5 178.0h0M348.7 164.3h0M348.3 178.0h0M347.9 170.8h0M343.8 174.3h0M349.2 182.0h0M336.1 160.5h0M337.9 169.0h0M347.5 174.3h0M339.3 137.6h0M338.1 181.5h0M348.2 175.0h0M348.4 186.7h0M337.7 183.2h0M341.9 172.1h0M348.9 181.6h0M346.2 171.6h0M339.9 173.1h0M339.9 171.7h0M337.2 181.7h0M343.8 156.9h0M342.7 171.9h0M347.1 170.7h0M339.0 163.1h0M348.4 178.9h0M345.9 162.7h0M338.4 134.5h0M344.7 175.2h0M348.5 170.0h0M348.1 174.8h0M339.6 158.2h0M346.9 177.1h0M344.5 166.8h0M337.1 179.1h0M334.2 164.7h0M334.8 159.5h0M340.4 162.5h0M339.1 168.5h0M341.6 166.9h0M336.7 169.8h0M346.3 181.2h0M347.7 185.2h0M337.5 169.9h0M335.6 170.3h0M340.1 162.7h0M336.1 157.9h0M342.2 166.5h0M346.2 169.9h0M349.2 172.3h0M341.2 160.6h0M341.5 169.2h0M341.7 155.9h0M343.8 180.1h0M345.2 167.8h0M335.2 167.7h0M348.5 174.2h0M342.2 173.7h0M339.1 166.6h0M347.7 183.8h0M335.0 135.5h0M345.0 172.7h0M337.9 153.6h0M335.7 169.8h0M348.5 166.9h0M336.1 168.6h0M346.1 179.7h0M333.9 161.3h0M334.0 179.0h0M349.1 173.9h0M336.5 156.4h0M337.2 167.7h0M338.2 177.2h0M334.7 174.4h0M342.3 167.4h0M340.7 167.1h0M344.8 174.4h0M340.9 178.8h0M346.9 183.0h0M338.6 131.3h0M339.8 168.6h0M341.5 136.7h0M338.7 150.2h0M346.2 181.3h0M345.3 177.3h0M347.5 174.8h0M344.0 162.0h0M346.4 159.3h0M347.5 184.8h0M335.2 141.3h0M347.1 155.2h0M346.2 162.2h0M346.7 174.2h0M347.8 168.6h0M338.6 182.9h0M343.0 169.7h0M337.4 170.4h0M336.6 178.9h0M343.1 171.4h0M343.5 182.7h0M341.9 181.9h0M341.0 174.7h0M343.8 178.1h0M348.1 180.4h0M346.1 176.7h0M342.6 182.7h0M336.5 169.3h0M336.8 158.2h0M334.2 170.3h0M336.1 169.7h0M342.9 178.0h0M340.5 182.5h0M343.2 178.0h0M348.0 177.5h0M349.2 179.1h0M341.9 171.9h0M338.4 154.5h0M337.6 172.5h0M342.6 156.2h0M348.2 170.3h0M346.7 169.0h0M336.8 172.4h0M342.1 175.4h0M339.2 162.9h0M338.3 169.7h0M349.2 144.4h0M342.9 177.4h0M334.3 173.1h0M343.9 184.0h0M339.4 171.0h0M344.8 169.3h0M342.0 176.3h0M347.2 171.6h0M335.5 155.9h0M349.0 178.7h0M337.9 168.9h0M343.3 172.2h0M335.0 154.0h0M342.9 176.0h0M339.8 173.1h0M340.8 175.4h0M348.3 181.7h0M342.2 172.9h0M342.6 173.9h0M346.0 174.2h0M335.7 172.0h0M345.1 174.3h0M334.0 175.3h0M344.6 166.0h0M343.0 166.9h0M338.8 158.3h0M342.1 156.9h0M338.5 179.7h0M349.1 185.5h0M339.3 138.6h0M339.0 164.1h0M337.7 173.6h0M334.5 159.4h0M347.1 186.6h0M337.9 159.3h0M341.0 171.5h0M338.7 167.2h0M343.3 166.8h0M343.7 154.0h0M335.5 148.4h0M344.1 172.4h0M343.8 185.4h0M347.1 172.6h0M335.8 155.3h0M342.9 167.8h0M336.7 163.3h0M337.3 154.8h0M337.2 168.2h0M340.2 166.7h0M338.5 170.2h0M337.8 176.1h0M334.0 161.2h0M345.8 177.4h0M345.7 172.9h0M340.8 182.1h0M343.9 180.0h0M339.9 181.3h0M344.6 170.8h0M338.0 169.1h0M340.5 168.8h0M346.1 177.4h0M345.0 123.8h0M348.1 171.4h0M336.8 139.3h0M340.1 166.5h0M339.2 151.3h0M341.1 171.6h0M346.5 174.3h0M345.8 169.8h0M349.0 152.2h0M334.5 143.2h0M336.2 182.1h0M337.1 178.0h0M344.6 175.2h0M341.2 164.3h0M347.5 168.4h0M342.0 149.6h0M339.1 170.7h0M341.2 178.7h0M338.4 138.2h0M342.8 169.5h0M336.6 171.2h0M349.1 175.5h0M341.0 173.4h0M348.4 179.6h0M342.9 182.7h0M344.5 156.0h0M338.4 172.4h0M337.8 155.5h0M333.9 160.9h0M334.9 169.3h0M345.0 157.3h0M339.3 179.1h0M336.1 161.4h0M338.2 160.2h0M345.2 174.9h0M346.9 183.8h0M338.3 176.4h0M344.3 178.9h0M343.0 170.2h0M340.8 168.1h0M339.2 168.7h0M347.8 173.2h0M339.8 160.4h0M346.1 174.4h0M345.1 166.4h0M339.2 166.6h0M344.1 177.5h0M345.4 167.0h0M334.2 160.3h0M334.0 160.0h0M343.3 129.1h0M336.3 141.2h0M333.9 178.5h0M344.8 182.5h0M344.6 174.4h0M335.4 163.5h0M338.9 179.7h0M335.0 169.0h0M345.2 173.7h0M340.0 153.3h0M337.1 165.1h0M342.4 170.5h0M340.9 156.1h0M336.6 165.4h0M334.4 170.7h0M344.0 172.2h0M336.7 128.4h0M337.9 172.7h0M346.0 176.5h0M335.6 129.8h0M338.1 167.4h0M342.2 176.1h0M340.5 170.7h0M338.0 165.6h0M337.9 166.8h0M337.1 173.1h0M338.3 177.5h0M338.3 168.8h0M347.9 179.0h0M339.1 163.3h0M336.2 160.1h0M345.7 183.4h0M343.0 167.7h0M335.8 181.3h0M335.8 150.7h0M348.4 171.4h0M346.0 175.3h0M336.7 170.8h0M340.3 178.5h0M340.6 148.8h0M346.9 177.6h0M348.5 182.1h0M341.2 180.4h0M346.7 174.6h0M348.3 179.6h0M341.0 158.1h0M348.9 174.7h0M346.5 179.6h0M334.2 154.1h0M342.4 173.4h0M333.8 146.2h0M336.3 157.7h0M349.0 184.4h0M342.4 146.3h0M338.9 167.7h0M343.0 176.3h0M344.7 181.2h0M348.5 177.7h0M342.6 171.2h0M338.2 182.1h0M345.0 182.9h0M347.4 165.6h0M347.1 155.9h0M336.0 159.9h0M336.4 138.7h0M336.7 174.6h0M335.1 176.9h0M335.2 174.8h0M345.8 175.8h0M341.4 153.5h0M341.6 169.7h0M336.6 163.1h0M343.1 169.2h0M337.8 171.2h0M338.0 168.4h0M343.6 170.2h0M346.2 161.7h0M347.9 177.6h0M347.1 173.6h0M334.8 156.0h0M348.2 167.1h0M340.4 164.2h0M339.2 160.8h0M339.1 181.6h0M345.9 169.8h0M342.3 180.1h0M336.6 159.8h0M341.8 169.8h0M334.2 174.6h0M335.1 165.8h0M349.2 183.0h0M342.3 183.2h0M337.6 177.5h0M347.4 180.9h0M345.9 181.2h0M347.3 183.8h0M347.5 169.8h0M342.4 174.2h0M344.2 185.4h0M335.3 171.2h0M345.3 174.8h0M345.8 172.7h0M338.7 166.1h0M335.2 149.1h0M336.3 169.1h0M347.0 171.6h0M343.4 169.3h0M344.8 152.0h0M341.6 178.2h0M334.6 179.2h0M339.1 173.6h0M347.9 179.0h0M335.3 171.3h0M339.0 176.4h0M340.9 167.1h0M343.7 180.8h0M343.3 158.1h0M338.6 158.4h0M348.6 180.2h0M334.7 152.2h0M347.5 173.3h0M341.3 136.2h0M343.8 174.1h0M334.0 161.3h0M347.1 174.6h0M341.1 161.6h0M344.6 180.5h0M340.4 156.1h0M345.9 155.8h0M348.1 174.6h0M336.4 165.9h0M345.9 130.8h0M335.6 169.1h0M342.3 183.2h0M343.7 167.7h0M339.5 172.4h0M340.3 180.9h0M338.5 172.7h0M337.1 169.0h0M345.7 180.5h0M344.9 170.1h0M348.3 185.5h0M341.8 173.9h0M341.8 172.7h0M340.4 178.0h0M336.7 171.7h0M337.1 174.5h0M342.1 163.2h0M333.9 169.6h0M343.7 154.4h0M344.9 181.9h0M340.7 161.6h0M344.4 176.2h0M343.0 159.4h0M339.5 174.2h0M346.1 180.7h0M335.6 169.5h0M340.3 170.9h0M336.2 182.5h0M337.6 145.4h0M343.3 176.7h0M336.3 139.0h0M334.4 174.3h0M347.0 150.7h0M348.5 169.8h0M348.9 187.1h0M346.6 167.2h0M336.1 168.2h0M343.0 163.9h0M339.2 168.6h0M335.2 174.3h0M340.0 174.3h0M334.7 161.7h0M335.0 180.9h0M338.8 172.6h0M343.4 183.6h0M345.0 170.2h0M342.8 171.0h0M342.9 185.0h0M338.0 168.7h0M348.5 185.6h0M343.4 184.3h0M345.2 157.5h0M334.5 156.8h0M339.6 182.4h0M336.5 160.9h0M336.7 170.6h0M339.5 165.9h0M338.8 176.1h0M337.7 167.6h0M345.4 172.2h0M346.8 176.3h0M345.0 184.2h0M339.0 161.9h0M341.8 182.8h0M341.9 178.4h0M342.2 182.3h0M343.6 184.4h0M344.2 178.4h0M335.9 167.2h0M343.6 167.8h0M337.6 163.1h0M346.3 167.3h0M346.7 180.1h0M348.3 170.1h0M341.6 184.5h0M343.1 171.4h0M334.7 170.1h0M336.2 171.3h0M346.0 172.1h0M345.3 169.9h0M340.2 166.7h0M341.9 166.3h0M342.8 175.4h0M338.1 179.5h0M337.7 157.6h0M335.3 172.0h0M346.8 172.6h0M343.6 173.2h0M341.3 166.1h0M339.9 175.4h0M348.6 186.1h0M343.6 170.7h0M347.8 172.5h0M341.1 177.5h0M346.6 184.4h0M336.2 178.4h0M335.2 168.2h0M335.8 161.5h0M347.4 169.3h0M346.6 173.1h0M348.8 172.0h0M344.6 174.3h0M339.1 145.0h0M342.0 174.6h0M346.6 172.0h0M335.5 169.2h0M348.6 177.4h0M335.1 167.5h0M345.6 173.8h0M341.7 184.0h0M345.6 147.7h0M349.2 179.1h0M336.3 181.9h0M338.9 176.4h0M348.3 174.6h0M336.9 180.1h0M334.2 171.8h0M346.9 176.3h0M342.7 133.2h0M337.3 180.6h0M341.6 173.8h0M335.7 176.7h0M337.8 164.6h0M335.5 157.9h0M345.7 178.2h0M347.0 168.1h0M342.6 181.7h0M341.8 175.4h0M347.1 184.4h0M345.4 165.9h0M338.1 178.4h0M336.8 165.7h0M343.4 163.5h0M342.7 165.5h0M347.0 170.1h0M346.3 183.2h0M341.7 167.1h0M339.8 151.6h0M349.2 182.2h0M336.8 170.6h0M342.4 169.8h0M347.7 175.4h0M338.4 182.7h0M341.8 184.2h0M344.4 151.0h0M339.7 171.7h0M333.9 166.4h0M348.2 175.1h0M338.2 171.7h0M346.8 182.5h0M342.1 178.1h0M339.7 172.8h0M348.5 171.4h0M348.8 151.1h0M336.2 166.3h0M334.3 157.4h0M345.2 179.3h0M338.2 170.4h0M342.1 164.0h0M336.8 162.5h0M348.3 177.1h0M345.2 171.6h0M337.8 172.4h0M337.3 151.4h0M339.3 180.0h0M345.0 168.8h0M343.5 144.6h0M338.6 174.9h0M342.3 162.3h0M341.5 148.0h0M344.1 163.4h0M347.5 184.5h0M338.1 147.1h0M349.1 175.9h0M343.3 173.4h0M338.4 169.9h0M339.4 170.3h0M348.7 176.5h0M340.5 179.2h0M343.9 175.8h0M337.2 174.5h0M348.4 164.4h0M348.2 182.1h0M345.7 169.8h0M335.4 168.1h0M347.2 181.8h0M339.7 172.0h0M347.7 176.4h0M345.3 164.7h0M339.4 157.8h0M339.8 156.8h0M340.5 160.5h0M338.0 168.6h0M339.4 146.8h0M345.3 159.5h0M334.7 164.2h0M340.7 182.8h0M336.7 169.9h0M341.9 158.2h0M348.4 177.5h0M344.6 163.1h0M343.4 161.7h0M342.8 177.4h0M338.3 169.7h0M336.6 172.9h0M337.0 178.1h0M343.0 172.2h0M346.4 145.4h0M342.0 178.8h0M336.4 165.6h0M343.7 169.8h0M341.5 139.3h0M345.1 173.4h0M338.9 167.8h0M335.7 176.1h0M338.6 168.5h0M346.0 182.7h0M347.8 165.9h0M338.5 173.4h0M342.5 167.8h0M346.4 182.9h0M337.7 160.7h0M348.3 185.7h0M348.5 177.0h0M334.7 170.0h0M337.9 165.4h0M336.9 125.6h0M345.1 127.4h0M346.8 166.8h0M341.9 179.9h0M348.9 179.9h0M346.6 172.1h0M339.0 179.9h0M338.3 178.7h0M335.9 171.3h0M345.3 175.1h0M334.6 163.4h0M343.3 148.1h0M336.5 159.6h0M349.0 166.7h0M339.4 172.6h0M339.4 176.8h0M345.7 183.3h0M338.9 181.5h0M346.7 163.4h0M348.3 182.0h0M337.6 167.5h0M336.0 182.3h0M342.0 177.3h0M340.7 128.8h0M348.6 182.9h0M338.0 138.7h0M334.7 161.6h0M337.7 170.5h0M341.5 171.5h0M340.6 148.2h0M347.3 178.9h0M345.0 182.2h0M336.4 169.3h0M346.5 180.7h0M344.3 176.0h0M344.2 159.6h0M342.8 183.6h0M339.0 176.4h0M342.1 172.3h0M344.0 156.5h0M345.3 172.4h0M341.3 177.7h0M343.6 160.1h0M337.9 169.7h0M346.1 185.1h0M347.8 178.7h0M335.7 174.2h0M342.5 184.0h0M348.4 180.1h0M334.3 168.6h0M349.0 177.8h0M344.3 185.7h0M340.1 180.8h0M346.0 182.7h0M340.7 170.3h0M346.1 157.6h0M342.5 178.3h0M335.4 178.1h0M342.2 178.8h0M348.6 170.5h0M342.9 174.2h0M347.2 179.6h0M336.2 164.4h0M349.3 182.8h0M334.2 180.9h0M344.8 177.9h0M343.2 168.5h0M347.7 179.1h0M339.5 166.1h0M342.0 170.7h0M348.1 135.1h0M344.7 174.2h0M343.9 161.8h0M334.6 168.4h0M339.9 174.8h0M349.2 170.7h0M345.9 178.8h0M343.2 173.1h0M341.2 179.2h0M347.9 180.0h0M345.3 180.3h0M342.7 177.3h0M346.2 149.8h0M348.5 177.8h0M345.8 181.5h0M339.1 170.8h0M345.1 182.2h0M347.3 177.6h0M342.7 166.5h0M343.6 158.1h0M334.1 175.0h0M343.2 149.7h0M347.3 165.6h0M333.7 168.2h0M339.8 167.9h0M343.3 151.0h0M347.1 165.1h0M348.3 160.4h0M341.6 174.2h0M341.9 176.9h0M336.7 162.3h0M334.9 176.6h0M338.6 167.6h0M336.2 171.9h0M336.8 171.4h0M343.4 170.1h0M341.0 176.2h0M339.5 183.7h0M335.2 134.2h0M339.7 163.3h0M343.5 177.0h0M343.6 179.1h0M341.0 169.1h0M338.2 164.6h0M346.6 173.8h0M336.7 175.5h0M338.1 169.0h0M340.0 171.6h0M342.2 171.5h0M334.5 175.0h0M347.3 171.7h0M348.3 182.7h0M337.9 169.7h0M343.2 180.4h0M337.4 162.1h0M347.7 176.7h0M348.6 163.4h0M341.5 164.8h0M338.4 166.5h0M334.5 172.8h0M345.7 173.1h0M343.1 179.4h0M344.8 179.9h0M341.7 163.7h0M338.9 171.8h0M336.9 168.0h0M338.7 178.4h0M335.3 179.9h0M334.7 176.2h0M344.8 177.8h0M342.2 164.5h0M341.2 168.3h0M346.2 157.1h0M340.9 181.0h0M338.6 161.9h0M342.3 164.2h0M343.4 172.2h0M346.4 174.6h0M340.3 180.0h0M342.1 145.7h0M335.7 178.9h0M343.4 178.0h0M340.5 174.9h0M340.5 180.0h0M346.8 175.6h0M333.8 147.2h0M341.5 166.6h0M341.9 170.7h0M339.2 170.6h0M334.1 174.8h0M343.4 170.0h0M342.2 174.2h0M347.6 180.1h0M339.2 181.7h0M342.4 172.9h0M338.1 161.8h0M337.0 148.6h0M347.5 174.1h0M343.8 161.8h0M337.6 168.1h0M337.5 175.2h0M336.9 171.1h0M337.5 173.5h0M345.8 174.6h0M345.3 149.8h0M347.4 186.4h0M335.3 115.5h0M340.8 181.5h0M345.9 175.6h0M334.6 178.3h0M334.8 162.3h0M347.5 178.7h0M338.0 165.7h0M343.1 184.9h0M342.1 166.8h0M336.0 173.7h0M334.2 166.0h0M336.6 175.9h0M342.9 164.0h0M339.1 171.3h0M335.3 177.8h0M334.1 157.9h0M345.7 181.1h0M342.8 182.9h0M340.0 177.8h0M353.9 167.4h0M350.4 182.5h0M356.5 187.6h0M357.3 186.0h0M355.7 185.2h0M354.7 184.8h0M356.7 187.3h0M352.2 176.7h0M350.9 175.6h0M352.8 176.0h0M352.2 185.5h0M359.3 186.5h0M354.3 188.7h0M359.1 183.3h0M357.2 187.6h0M359.1 191.7h0M350.5 178.3h0M356.5 179.7h0M349.5 174.3h0M358.5 191.8h0M357.4 189.0h0M350.3 186.3h0M356.1 184.4h0M354.4 191.3h0M349.6 184.3h0M353.7 172.8h0M350.3 186.5h0M353.4 184.6h0M351.4 189.0h0M353.7 190.6h0M349.6 171.1h0M356.8 189.7h0M352.5 178.7h0M360.7 194.2h0M349.6 182.0h0M360.4 194.4h0M352.8 186.0h0M350.6 179.6h0M352.5 185.0h0M349.5 178.5h0M360.4 184.9h0M351.4 185.7h0M358.4 183.6h0M358.8 194.8h0M354.2 179.7h0M358.7 190.3h0M358.4 188.0h0M353.3 185.6h0M356.5 191.3h0M359.0 196.9h0M352.4 170.8h0M349.9 177.5h0M359.2 186.3h0M349.7 175.3h0M356.5 186.8h0M360.4 188.7h0M356.1 187.1h0M358.4 181.8h0M352.0 177.3h0M359.0 193.5h0M354.2 180.6h0M350.8 174.7h0M357.9 191.9h0M356.9 154.3h0M358.6 187.2h0M359.0 196.4h0M356.0 184.3h0M352.4 173.4h0M354.0 191.0h0M357.9 187.4h0M356.2 186.5h0M360.3 188.4h0M358.8 177.0h0M353.0 185.1h0M352.1 186.0h0M358.9 191.5h0M359.8 182.0h0M354.2 172.4h0M352.0 165.9h0M353.2 177.0h0M351.2 180.8h0M351.6 182.5h0M359.0 190.4h0M353.0 188.2h0M358.5 176.6h0M357.3 190.6h0M356.3 180.8h0M356.2 157.2h0M358.5 196.6h0M353.5 152.7h0M350.5 168.1h0M358.6 185.9h0M353.1 177.9h0M351.1 167.0h0M360.8 194.2h0M351.4 166.8h0M352.1 175.2h0M356.1 188.9h0M351.6 169.9h0M359.8 192.6h0M349.6 168.0h0M354.8 188.9h0M351.2 180.6h0M353.6 187.5h0M357.7 187.5h0M356.5 184.1h0M359.8 195.5h0M351.9 158.8h0M354.9 184.9h0M357.6 188.0h0M353.0 172.9h0M355.7 191.7h0M350.2 181.7h0M349.8 181.3h0M355.7 187.6h0M357.4 187.6h0M352.6 182.3h0M358.0 180.3h0M359.3 179.3h0M355.8 183.6h0M351.5 183.6h0M354.0 183.6h0M359.2 194.3h0M358.3 191.9h0M350.6 186.6h0M353.3 178.3h0M352.5 184.9h0M356.0 186.7h0M355.7 177.0h0M354.3 172.2h0M352.6 184.8h0M358.1 175.8h0M354.1 184.9h0M358.9 193.0h0M349.6 169.4h0M354.0 185.9h0M355.1 180.2h0M351.3 183.9h0M352.4 137.9h0M356.3 190.4h0M354.4 183.0h0M351.2 177.2h0M350.6 183.8h0M356.2 184.7h0M359.1 188.9h0M352.5 183.1h0M356.1 189.1h0M352.8 167.5h0M359.6 182.2h0M355.0 163.1h0M351.7 136.6h0M352.4 158.6h0M353.3 177.6h0M358.9 184.1h0M355.5 182.3h0M349.3 166.4h0M355.2 180.7h0M354.5 181.5h0M359.3 192.9h0M360.2 189.0h0M356.2 162.1h0M351.1 188.2h0M351.5 190.1h0M358.8 192.9h0M360.6 188.6h0M354.8 182.0h0M356.3 180.3h0M351.6 188.4h0M356.4 186.5h0M357.9 166.0h0M357.4 190.7h0M358.0 176.4h0M356.0 190.9h0M349.5 177.1h0M358.0 192.7h0M349.3 176.3h0M351.8 165.4h0M351.8 178.5h0M350.5 175.8h0M350.8 171.4h0M351.7 178.5h0M355.4 184.3h0M352.2 185.1h0M360.7 191.5h0M352.8 169.2h0M351.3 181.6h0M352.7 184.2h0M359.6 192.4h0M349.7 178.3h0M352.1 183.3h0M350.8 177.4h0M358.5 166.2h0M355.1 182.6h0M350.8 176.8h0M357.0 188.2h0M357.1 176.4h0M350.0 163.7h0M357.7 188.6h0M355.5 186.5h0M357.2 184.9h0M354.6 178.3h0M354.7 180.1h0M359.6 191.5h0M360.7 186.8h0M359.0 192.9h0M354.3 183.1h0M357.1 181.4h0M359.6 191.0h0M357.5 188.4h0M357.2 192.0h0M354.4 177.9h0M353.7 178.0h0M351.3 173.9h0M351.0 183.2h0M351.1 187.4h0M360.5 188.9h0M355.0 188.8h0M351.1 179.8h0M354.6 177.9h0M354.3 188.7h0M359.4 195.7h0M358.4 185.9h0M357.6 185.4h0M355.6 187.3h0M349.6 158.3h0M353.0 182.4h0M353.8 188.8h0M359.2 190.3h0M355.8 180.1h0M355.7 184.9h0M354.4 188.5h0M351.4 181.1h0M360.4 190.9h0M358.9 192.1h0M352.9 167.0h0M360.0 195.2h0M349.6 178.1h0M360.2 189.9h0M355.4 188.7h0M352.6 161.9h0M354.5 183.8h0M352.3 191.2h0M352.7 180.9h0M359.0 195.4h0M352.7 184.3h0M355.6 182.2h0M359.0 183.1h0M351.1 178.2h0M355.1 190.7h0M350.7 188.8h0M353.9 180.7h0M358.1 184.3h0M351.4 179.8h0M357.8 173.9h0M360.0 186.5h0M351.7 177.9h0M357.3 190.5h0M357.4 187.6h0M357.4 187.4h0M359.5 186.2h0M353.6 173.0h0M357.4 181.9h0M350.4 179.3h0M355.6 180.9h0M359.6 188.1h0M352.1 170.8h0M352.7 186.1h0M360.6 175.2h0M354.3 181.4h0M352.3 177.1h0M357.2 182.9h0M359.9 195.4h0M350.0 176.4h0M360.7 186.5h0M350.7 178.7h0M356.4 181.1h0M355.0 190.3h0M354.5 179.0h0M356.6 187.4h0M359.3 191.1h0M357.7 194.7h0M360.6 193.5h0M353.6 180.7h0M351.7 177.4h0M358.0 193.5h0M350.3 178.8h0M359.7 186.4h0M351.8 178.9h0M357.4 191.4h0M352.8 184.5h0M360.3 192.7h0M355.3 175.8h0M353.8 180.3h0M353.7 179.5h0M350.7 155.5h0M356.2 187.5h0M360.5 172.2h0M360.4 191.8h0M355.1 175.8h0M358.7 187.1h0M354.1 188.1h0M357.6 193.9h0M354.6 186.6h0M357.1 175.6h0M356.2 187.0h0M359.3 193.2h0M351.4 177.8h0M356.5 184.7h0M355.2 194.7h0M356.8 190.3h0M350.8 185.1h0M352.4 177.5h0M350.6 183.6h0M357.9 179.4h0M349.7 183.4h0M355.4 188.3h0M353.5 183.0h0M354.7 183.3h0M353.1 171.1h0M357.3 184.7h0M353.6 173.2h0M353.0 187.9h0M358.9 191.0h0M359.8 186.7h0M351.7 189.3h0M359.2 196.0h0M353.2 179.2h0M350.9 184.6h0M353.9 187.7h0M357.9 184.9h0M355.1 177.0h0M358.2 177.4h0M352.7 187.9h0M354.6 168.8h0M360.3 194.9h0M355.8 168.9h0M351.4 181.3h0M355.3 180.0h0M353.8 191.9h0M352.2 188.2h0M351.1 141.7h0M356.1 178.3h0M351.9 175.2h0M352.4 185.7h0M360.5 192.6h0M355.8 186.2h0M353.5 181.6h0M356.2 190.9h0M350.0 183.3h0M351.0 179.6h0M354.4 192.4h0M351.1 185.6h0M357.3 188.9h0M353.0 184.1h0M350.9 182.9h0M359.9 191.9h0M357.7 190.7h0M358.4 192.0h0M349.7 180.8h0M354.1 183.5h0M349.4 177.4h0M355.5 169.7h0M349.4 173.2h0M355.5 190.0h0M357.0 188.6h0M354.7 190.3h0M352.4 175.9h0M354.8 178.8h0M357.9 184.1h0M351.9 184.0h0M356.3 186.1h0M359.0 188.0h0M356.6 188.6h0M355.3 184.3h0M359.5 186.8h0M353.0 179.5h0M359.5 190.8h0M359.1 193.3h0M350.0 179.4h0M350.5 182.5h0M354.2 189.5h0M356.0 184.0h0M358.5 171.7h0M356.3 186.8h0M350.0 169.3h0M350.2 177.6h0M355.4 190.4h0M350.2 182.6h0M355.7 182.0h0M356.3 184.3h0M353.8 166.1h0M355.5 179.2h0M352.7 176.1h0M357.0 170.1h0M351.7 163.9h0M353.9 183.2h0M354.2 181.4h0M355.0 183.9h0M360.4 186.8h0M353.0 183.0h0M359.2 195.1h0M360.6 189.6h0M358.0 191.2h0M353.8 186.4h0M354.4 184.4h0M358.6 177.2h0M359.4 184.1h0M353.8 186.9h0M349.4 155.9h0M353.7 185.9h0M349.8 169.5h0M357.0 191.6h0M355.1 190.2h0M353.4 184.4h0M354.9 182.5h0M359.4 181.3h0M352.5 175.2h0M356.5 181.1h0M357.8 193.5h0M359.5 183.7h0M350.1 179.8h0M357.4 187.6h0M355.3 163.6h0M350.2 179.8h0M352.7 184.0h0M350.4 177.6h0M356.3 186.7h0M358.4 187.9h0M360.1 196.6h0M353.3 177.9h0M359.0 176.0h0M352.7 177.8h0M349.8 174.5h0M359.8 192.5h0M360.2 192.9h0M359.3 181.5h0M349.7 172.3h0M354.1 171.1h0M352.1 175.9h0M351.7 161.1h0M358.3 188.0h0M355.9 182.9h0M359.1 194.7h0M355.5 173.6h0M355.1 180.7h0M358.5 189.0h0M358.4 196.7h0M352.6 175.3h0M359.5 171.9h0M353.7 187.3h0M350.1 184.4h0M358.2 182.2h0M354.1 186.2h0M350.1 169.0h0M349.5 176.5h0M353.4 173.0h0M349.7 160.2h0M349.5 165.5h0M353.6 191.6h0M351.0 183.3h0M349.9 174.7h0M353.6 182.3h0M360.4 183.5h0M351.4 184.7h0M360.8 187.8h0M350.3 172.0h0M359.5 184.3h0M352.2 169.4h0M350.1 172.0h0M355.8 176.3h0M350.0 165.9h0M358.2 185.4h0M360.1 193.2h0M355.7 187.8h0M351.2 177.6h0M356.1 185.3h0M356.5 183.8h0M350.2 177.5h0M352.7 152.4h0M360.6 195.9h0M358.5 189.7h0M351.6 172.9h0M356.0 168.6h0M349.6 182.7h0M349.5 168.0h0M358.0 182.3h0M351.0 176.4h0M356.3 189.2h0M354.6 177.5h0M353.9 184.6h0M354.8 186.1h0M359.8 192.1h0M353.1 182.9h0M358.8 189.5h0M359.7 184.8h0M356.3 184.5h0M350.8 185.0h0M350.9 187.1h0M360.5 185.7h0M358.5 192.3h0M360.4 191.7h0M349.7 177.2h0M357.9 186.1h0M353.2 188.8h0M357.1 182.9h0M358.7 175.2h0M355.9 184.8h0M350.9 184.6h0M354.7 177.6h0M352.3 178.9h0M359.7 187.6h0M357.1 185.0h0M356.6 181.0h0M358.8 190.9h0M351.3 162.1h0M357.0 171.6h0M352.1 169.5h0M354.3 182.0h0M350.7 185.0h0M360.2 195.6h0M354.8 174.9h0M349.8 182.9h0M349.9 169.3h0M360.2 191.4h0M360.0 194.8h0M355.6 189.3h0M349.9 168.7h0M357.8 195.4h0M350.5 182.0h0M354.1 176.6h0M351.8 184.9h0M354.6 181.9h0M357.7 190.9h0M353.3 179.6h0M349.8 181.1h0M350.6 171.4h0M353.4 183.8h0M359.6 189.8h0M352.4 173.7h0M353.6 156.1h0M352.2 189.2h0M353.3 185.5h0M351.6 175.0h0M357.4 189.5h0M357.6 181.3h0M353.5 188.2h0M357.3 182.7h0M354.2 181.2h0M355.9 165.6h0M354.4 182.8h0M354.0 191.0h0M359.3 188.8h0M359.9 196.1h0M350.7 178.5h0M359.8 187.2h0M354.7 183.5h0M350.2 183.8h0M356.9 185.1h0M358.6 169.6h0M352.9 182.6h0M353.7 175.0h0M359.0 177.1h0M360.2 196.3h0M352.2 185.1h0M358.7 188.7h0M360.5 195.3h0M359.6 179.9h0M355.2 189.0h0M359.4 195.6h0M352.2 174.6h0M355.0 178.7h0M355.7 184.8h0M353.4 166.7h0M356.4 183.6h0M350.9 181.2h0M354.0 188.3h0M354.9 185.6h0M359.7 189.5h0M353.8 183.4h0M353.9 183.4h0M356.6 193.0h0M358.4 193.4h0M353.9 184.4h0M358.0 191.5h0M354.1 184.7h0M351.7 186.9h0M355.4 185.1h0M356.0 185.1h0M353.3 174.5h0M355.3 189.8h0M358.5 189.9h0M354.3 189.7h0M349.8 168.0h0M350.5 174.7h0M356.4 185.1h0M356.8 179.2h0M355.8 184.3h0M360.4 191.4h0M358.8 191.0h0M358.6 193.2h0M358.5 185.9h0M355.5 188.8h0M357.9 185.3h0M359.1 183.0h0M359.0 194.6h0M358.6 184.5h0M359.6 187.0h0M359.9 189.0h0M351.0 186.8h0M350.2 180.1h0M352.2 189.0h0M358.8 193.3h0M358.8 167.1h0M355.6 174.7h0M352.0 168.4h0M351.6 188.5h0M350.5 182.8h0M358.8 191.6h0M357.0 186.1h0M358.5 178.0h0M352.7 167.9h0M352.2 184.1h0M352.3 188.1h0M352.1 178.5h0M355.7 189.5h0M351.0 178.0h0M358.8 190.5h0M353.1 181.4h0M350.4 179.8h0M356.7 179.2h0M350.3 182.0h0M351.2 182.6h0M357.4 184.5h0M353.9 181.7h0M352.2 181.6h0M360.3 185.5h0M352.5 177.8h0M356.0 188.6h0M350.3 185.3h0M360.5 197.8h0M354.5 180.6h0M360.2 187.8h0M350.7 172.2h0M353.6 164.9h0M354.9 179.7h0M355.3 182.5h0M350.0 173.3h0M357.9 175.0h0M359.1 187.3h0M352.4 182.7h0M356.2 193.4h0M355.4 192.1h0M354.0 179.8h0M359.7 186.4h0M359.2 183.7h0M360.1 189.6h0M355.8 184.2h0M354.0 186.7h0M353.0 187.5h0M357.7 184.3h0M353.7 175.9h0M350.0 182.5h0M357.1 185.3h0M354.3 182.4h0M351.3 180.5h0M354.8 163.2h0M353.7 178.0h0M356.6 186.8h0M357.8 194.1h0M356.7 173.8h0M349.8 179.6h0M359.9 184.8h0M359.3 194.5h0M357.9 192.2h0M354.9 190.4h0M349.7 166.1h0M349.5 182.0h0M360.2 181.6h0M349.9 187.9h0M351.9 183.5h0M358.9 193.2h0M360.4 157.8h0M350.4 183.8h0M359.2 187.9h0M355.6 191.2h0M359.9 188.1h0M355.8 180.3h0M357.8 188.2h0M352.7 182.8h0M354.7 184.1h0M350.9 183.4h0M360.4 190.3h0M353.0 187.4h0M358.0 174.2h0M354.6 187.1h0M358.4 170.1h0M352.4 162.6h0M360.4 197.1h0M350.5 177.1h0M354.7 180.8h0M359.2 196.6h0M354.8 188.0h0M353.3 186.5h0M359.6 188.0h0M349.4 157.6h0M357.4 177.8h0M357.1 187.7h0M356.8 180.2h0M350.3 163.7h0M352.0 182.0h0M360.0 192.5h0M357.4 188.0h0M356.0 184.9h0M351.7 183.0h0M350.8 179.5h0M358.7 191.9h0M350.2 174.4h0M352.4 186.3h0M358.5 188.7h0M357.1 183.4h0M351.5 184.2h0M350.1 156.2h0M349.7 168.8h0M357.5 189.8h0M357.0 189.9h0M351.0 186.9h0M359.4 190.5h0M358.4 192.3h0M352.6 180.7h0M356.0 174.7h0M350.0 157.2h0M353.1 186.4h0M352.9 172.5h0M360.9 175.3h0M357.4 183.6h0M352.7 174.0h0M353.0 187.0h0M350.9 186.6h0M350.7 163.6h0M358.4 192.8h0M360.4 188.2h0M352.6 183.9h0M357.7 194.2h0M355.5 165.9h0M350.7 174.7h0M353.0 184.5h0M354.4 184.0h0M360.6 191.0h0M358.5 177.1h0M350.8 181.8h0M358.3 195.7h0M353.0 165.9h0M352.7 158.2h0M356.2 187.0h0M357.5 190.1h0M355.4 181.5h0M352.0 175.4h0M353.7 174.5h0M352.2 160.3h0M353.8 187.9h0M358.4 194.3h0M354.2 186.5h0M350.8 171.9h0M349.5 185.8h0M352.4 182.4h0M354.8 184.3h0M358.6 194.8h0M349.5 188.7h0M353.5 158.5h0M358.3 187.8h0M358.0 180.6h0M359.8 185.4h0M356.1 190.4h0M349.8 177.6h0M352.5 165.2h0M360.4 192.4h0M358.3 178.5h0M349.8 185.5h0M359.2 187.5h0M357.1 183.1h0M359.0 194.0h0M359.9 187.8h0M357.1 186.8h0M360.8 192.1h0M352.6 182.6h0M360.1 193.9h0M359.3 183.7h0M353.4 186.9h0M357.2 187.1h0M356.6 181.7h0M353.2 177.5h0M350.7 159.0h0M349.6 176.8h0M360.2 187.9h0M360.0 185.5h0M356.8 181.1h0M351.7 186.3h0M351.4 177.9h0M351.7 179.0h0M356.9 181.4h0M358.8 191.4h0M357.0 189.0h0M352.2 186.9h0M349.7 174.9h0M352.2 186.7h0M357.8 188.8h0M360.6 183.8h0M360.2 188.8h0M353.4 180.7h0M359.9 181.5h0M351.9 187.2h0M354.0 179.9h0M357.3 172.2h0M360.1 191.6h0M355.8 179.0h0M354.4 160.7h0M356.7 186.0h0M357.0 186.0h0M358.4 189.3h0M355.7 182.4h0M360.1 191.6h0M357.2 189.5h0M359.4 190.4h0M355.1 186.4h0M355.5 185.6h0M357.9 194.8h0M352.2 177.1h0M353.4 185.6h0M350.0 156.2h0M357.0 188.1h0M359.7 189.5h0M352.3 177.3h0M359.7 188.4h0M350.6 175.4h0M358.8 183.3h0M351.3 187.2h0M351.4 163.2h0M349.4 178.8h0M351.3 173.2h0M353.2 185.9h0M359.8 179.4h0M354.2 184.3h0M351.5 165.3h0M359.1 189.2h0M351.7 185.0h0M359.1 196.0h0M353.4 182.5h0M358.1 193.5h0M349.4 179.9h0M352.4 186.1h0M356.7 175.7h0M352.3 172.3h0M353.9 153.4h0M352.5 179.9h0M360.2 193.3h0M349.8 171.1h0M349.4 178.1h0M357.7 190.4h0M356.2 182.5h0M351.6 177.7h0M355.1 179.3h0M360.3 173.8h0M358.3 186.3h0M355.9 179.0h0M354.0 177.7h0M352.7 183.3h0M356.8 188.5h0M350.1 181.3h0M357.4 183.8h0M349.8 145.4h0M352.0 171.1h0M352.5 186.6h0M350.9 184.1h0M352.6 173.0h0M356.3 184.7h0M353.5 178.0h0M352.4 185.3h0M353.6 175.4h0M353.2 177.4h0M351.9 176.1h0M353.6 172.7h0M359.8 190.2h0M362.9 190.6h0M373.0 183.1h0M366.2 195.6h0M374.1 199.2h0M373.9 202.1h0M375.8 201.8h0M362.0 190.8h0M375.8 196.2h0M369.6 191.8h0M372.8 202.9h0M374.9 200.0h0M373.5 200.4h0M368.4 198.2h0M373.1 193.1h0M361.1 162.6h0M364.7 191.1h0M368.2 174.9h0M367.2 196.2h0M372.0 193.3h0M375.5 203.0h0M373.8 202.7h0M366.0 195.1h0M370.5 184.6h0M374.6 196.8h0M372.6 193.5h0M362.8 184.0h0M373.9 193.0h0M361.3 180.5h0M370.6 196.5h0M369.5 192.0h0M374.0 200.8h0M371.8 196.2h0M361.9 190.6h0M375.1 199.9h0M375.7 189.9h0M371.3 188.1h0M372.3 199.1h0M363.6 191.4h0M375.6 204.0h0M370.8 196.9h0M375.5 198.6h0M363.6 197.9h0M369.0 197.2h0M367.3 193.9h0M361.1 195.7h0M365.1 191.1h0M361.7 194.5h0M367.2 197.5h0M368.3 197.5h0M372.0 191.4h0M373.0 199.1h0M376.9 201.7h0M369.7 189.2h0M371.3 198.5h0M369.6 195.9h0M368.3 175.7h0M363.8 197.8h0M367.4 197.5h0M362.5 176.6h0M362.8 189.2h0M364.0 190.2h0M373.0 203.0h0M361.3 191.8h0M361.7 193.8h0M372.1 189.3h0M366.7 193.1h0M363.1 197.7h0M362.5 191.1h0M373.4 200.4h0M373.2 199.7h0M368.6 200.3h0M362.1 191.4h0M371.0 199.2h0M374.9 201.7h0M364.7 193.8h0M366.4 197.6h0M362.1 193.3h0M373.4 192.1h0M365.1 196.4h0M373.3 198.5h0M372.8 198.5h0M375.5 203.5h0M362.0 193.8h0M368.3 199.6h0M376.4 204.5h0M362.3 189.2h0M365.0 181.6h0M365.2 170.0h0M375.1 199.9h0M368.2 188.8h0M373.6 178.7h0M375.0 197.9h0M364.7 194.2h0M364.2 196.7h0M365.3 188.3h0M362.9 192.4h0M374.2 184.4h0M364.0 195.8h0M373.1 201.3h0M370.2 181.4h0M373.4 196.3h0M362.5 184.4h0M364.4 191.4h0M376.5 196.7h0M363.7 192.3h0M363.4 188.0h0M361.3 192.8h0M367.8 192.1h0M368.5 194.9h0M368.1 191.0h0M361.8 187.9h0M362.9 190.1h0M372.6 199.4h0M376.8 201.7h0M362.0 195.8h0M375.9 204.3h0M372.1 182.4h0M365.4 194.1h0M363.5 189.6h0M367.0 196.5h0M371.1 200.8h0M377.1 199.7h0M372.9 193.2h0M364.5 197.3h0M376.5 199.4h0M362.2 189.4h0M369.6 197.7h0M374.1 198.1h0M373.9 198.3h0M362.3 186.6h0M369.9 201.8h0M375.7 203.0h0M374.9 192.3h0M364.7 193.8h0M370.9 192.9h0M368.4 200.2h0M374.9 202.6h0M375.5 199.0h0M371.7 196.0h0M377.5 196.9h0M375.4 189.2h0M376.8 203.1h0M366.8 197.1h0M367.8 193.4h0M369.1 196.5h0M364.0 197.2h0M372.1 191.7h0M372.0 197.8h0M362.1 188.4h0M361.3 180.8h0M368.8 199.4h0M363.1 195.6h0M363.3 185.0h0M366.4 193.6h0M369.5 191.7h0M373.3 198.9h0M366.1 200.7h0M362.2 191.7h0M370.8 197.6h0M362.1 195.9h0M368.3 197.8h0M374.7 204.2h0M370.3 193.9h0M368.3 200.9h0M368.0 196.1h0M368.5 198.6h0M372.3 191.0h0M361.4 188.9h0M365.4 183.1h0M365.7 192.7h0M365.4 191.7h0M377.2 197.7h0M376.0 202.4h0M368.8 189.2h0M377.4 204.3h0M370.5 196.7h0M368.4 199.5h0M375.8 200.9h0M374.7 186.0h0M363.4 195.2h0M374.3 203.6h0M372.9 200.1h0M364.5 190.5h0M362.9 195.6h0M361.3 189.1h0M365.0 193.9h0M365.7 200.4h0M369.7 196.5h0M376.9 201.9h0M375.5 202.1h0M377.5 200.7h0M376.9 197.7h0M375.4 201.6h0M368.0 195.7h0M370.8 196.2h0M373.8 195.0h0M363.3 186.1h0M361.5 191.0h0M373.0 195.8h0M368.0 186.5h0M363.7 196.6h0M373.5 199.6h0M377.6 204.2h0M368.2 199.7h0M372.7 201.9h0M366.4 196.7h0M368.3 197.5h0M365.7 178.7h0M373.5 194.6h0M376.5 197.2h0M374.0 199.0h0M364.6 196.9h0M375.0 199.6h0M373.2 203.1h0M362.0 189.1h0M372.1 194.9h0M362.5 198.3h0M364.5 194.6h0M368.8 199.1h0M368.6 196.4h0M377.3 203.2h0M361.7 194.9h0M375.9 197.2h0M365.4 196.6h0M371.4 198.3h0M366.7 195.7h0M364.3 196.8h0M361.2 181.8h0M364.2 164.4h0M368.4 193.1h0M375.8 202.4h0M370.2 198.2h0M364.1 191.3h0M362.3 191.2h0M368.4 192.8h0M369.2 194.3h0M371.3 194.7h0M372.4 198.1h0M371.3 202.4h0M361.9 193.4h0M375.2 181.3h0M376.3 203.4h0M376.8 204.1h0M371.3 198.5h0M366.0 198.4h0M371.8 197.8h0M369.1 175.4h0M377.0 202.1h0M367.6 197.8h0M362.0 194.1h0M367.6 198.2h0M370.2 189.6h0M376.5 199.0h0M362.0 192.0h0M362.8 190.4h0M377.3 192.5h0M376.4 194.9h0M368.6 179.6h0M376.1 201.8h0M365.0 194.1h0M370.3 197.2h0M361.6 176.7h0M365.8 192.4h0M366.5 195.0h0M376.8 201.3h0M373.4 200.6h0M369.9 174.3h0M369.0 199.7h0M367.8 185.7h0M373.8 202.7h0M370.7 190.7h0M373.5 199.4h0M371.4 200.6h0M375.0 201.8h0M362.6 196.3h0M363.2 190.5h0M377.5 203.5h0M369.5 194.0h0M376.5 201.1h0M372.4 196.6h0M371.3 197.5h0M370.4 186.8h0M362.7 194.5h0M375.0 190.3h0M364.3 187.8h0M373.8 204.1h0M375.2 202.0h0M364.6 193.5h0M367.8 196.8h0M373.9 198.6h0M370.8 194.4h0M365.5 197.8h0M375.4 200.2h0M363.2 191.7h0M368.0 200.4h0M367.0 200.1h0M363.5 194.8h0M375.8 190.2h0M375.3 198.5h0M364.5 187.4h0M373.5 191.9h0M365.4 199.7h0M367.5 191.3h0M362.0 191.9h0M374.1 196.6h0M370.6 191.7h0M372.3 200.4h0M374.7 200.4h0M367.5 189.2h0M362.9 195.5h0M372.3 199.7h0M369.8 201.7h0M377.2 202.7h0M373.3 203.5h0M364.7 194.5h0M372.3 196.3h0M371.8 198.8h0M375.0 198.0h0M372.0 193.4h0M377.2 202.2h0M361.5 187.4h0M364.5 200.1h0M367.0 189.9h0M368.6 200.1h0M364.9 189.0h0M368.4 199.1h0M376.4 198.2h0M369.8 193.2h0M365.7 196.9h0M368.3 197.8h0M374.9 201.8h0M371.5 198.7h0M367.8 192.1h0M377.0 200.7h0M364.5 180.4h0M375.1 198.3h0M364.6 197.1h0M371.2 197.9h0M372.0 201.9h0M376.6 200.8h0M376.6 199.6h0M362.7 194.0h0M362.4 190.7h0M364.6 191.8h0M361.5 191.5h0M363.2 193.1h0M374.9 195.8h0M375.9 201.0h0M372.6 197.4h0M372.2 196.3h0M374.1 199.1h0M370.1 197.6h0M372.3 203.3h0M366.8 195.2h0M374.7 203.1h0M366.4 193.8h0M361.8 197.5h0M361.4 198.0h0M376.6 200.3h0M370.6 198.5h0M369.7 192.1h0M374.0 199.1h0M365.5 197.2h0M365.6 190.0h0M375.9 199.0h0M368.2 196.6h0M364.7 193.9h0M376.1 197.6h0M364.5 197.7h0M367.5 199.4h0M365.1 190.7h0M375.9 198.7h0M361.0 194.4h0M366.9 194.1h0M365.7 193.5h0M369.7 200.9h0M375.0 196.2h0M372.6 186.7h0M367.9 199.9h0M371.8 198.0h0M375.1 190.0h0M370.9 202.6h0M369.6 200.4h0M373.7 196.6h0M374.2 202.8h0M369.2 192.4h0M375.7 189.0h0M364.7 189.4h0M376.5 194.3h0M368.4 192.0h0M370.9 194.8h0M374.5 202.5h0M372.0 194.9h0M375.6 199.6h0M368.1 184.2h0M367.2 192.3h0M362.8 188.5h0M364.5 192.5h0M372.7 199.9h0M365.7 189.2h0M369.1 191.6h0M373.6 201.1h0M374.8 198.4h0M374.7 198.2h0M368.8 199.5h0M366.3 196.1h0M375.8 197.5h0M374.5 194.2h0M374.6 194.6h0M372.5 200.4h0M370.0 194.9h0M364.3 178.8h0M363.7 184.2h0M366.4 195.4h0M374.7 198.0h0M374.5 200.1h0M370.0 196.2h0M363.2 193.1h0M370.8 197.4h0M374.7 202.2h0M367.2 198.1h0M377.1 201.6h0M366.7 192.0h0M361.0 190.3h0M363.4 193.0h0M363.3 189.5h0M376.1 201.7h0M377.0 192.5h0M368.9 198.0h0M375.5 201.4h0M369.9 196.1h0M362.1 189.3h0M375.5 203.1h0M368.8 195.8h0M372.4 201.2h0M377.1 201.4h0M371.6 202.5h0M361.8 196.4h0M362.8 194.7h0M373.2 197.1h0M370.8 197.7h0M362.0 195.4h0M375.9 202.7h0M365.8 194.4h0M369.1 196.6h0M364.8 199.8h0M363.0 192.8h0M366.9 196.0h0M374.7 197.7h0M363.2 189.8h0M376.7 195.1h0M372.9 194.8h0M365.7 192.0h0M370.9 200.9h0M361.1 183.6h0M366.1 194.3h0M369.1 197.3h0M361.9 189.1h0M366.2 186.9h0M361.3 193.8h0M374.6 199.8h0M364.6 179.2h0M372.0 191.5h0M366.4 174.4h0M371.4 196.0h0M375.6 203.1h0M362.7 169.6h0M370.4 198.0h0M374.6 198.3h0M361.3 189.8h0M367.7 199.5h0M374.0 200.9h0M371.6 198.4h0M373.2 201.0h0M373.7 194.5h0M376.9 200.3h0M372.0 195.1h0M376.0 197.0h0M364.6 195.5h0M372.7 200.1h0M370.3 199.4h0M366.0 190.3h0M363.2 197.5h0M372.4 191.0h0M369.4 201.3h0M366.0 193.3h0M362.0 160.7h0M375.7 203.1h0M365.5 191.2h0M376.0 200.9h0M370.0 198.8h0M370.3 197.2h0M367.6 187.7h0M375.8 198.9h0M369.6 193.3h0M375.3 200.8h0M372.9 200.2h0M372.8 201.2h0M362.5 191.9h0M373.7 202.4h0M368.0 197.4h0M367.1 190.4h0M362.2 194.7h0M365.1 191.1h0M374.9 199.8h0M377.4 202.8h0M360.9 190.9h0M365.1 178.6h0M364.3 196.0h0M376.8 199.1h0M375.7 199.2h0M373.5 201.9h0M372.7 198.9h0M363.5 184.1h0M369.1 195.8h0M371.8 196.3h0M377.1 202.8h0M373.5 197.1h0M377.5 205.3h0M362.2 189.4h0M372.0 200.9h0M375.8 194.9h0M369.5 196.1h0M366.2 197.5h0M361.3 197.0h0M366.6 199.6h0M375.9 199.9h0M373.1 199.2h0M368.4 197.2h0M362.6 186.8h0M365.2 195.8h0M369.7 202.3h0M362.5 191.4h0M374.3 195.4h0M367.4 197.3h0M372.2 199.1h0M362.0 196.1h0M371.7 195.6h0M370.3 200.6h0M374.0 190.6h0M374.3 191.4h0M376.8 192.5h0M371.5 194.5h0M374.1 201.1h0M364.8 185.0h0M369.6 200.6h0M368.1 199.7h0M361.8 190.2h0M372.1 197.1h0M376.8 203.2h0M373.8 197.1h0M370.8 198.6h0M375.4 201.5h0M372.3 200.1h0M373.3 196.9h0M361.5 187.4h0M377.1 196.4h0M363.5 183.0h0M367.9 201.7h0M365.2 194.2h0M371.1 201.1h0M374.0 195.7h0M369.0 181.5h0M368.8 197.7h0M371.7 192.3h0M363.8 191.3h0M362.7 195.9h0M368.1 196.2h0M367.0 195.5h0M377.2 186.4h0M372.3 199.7h0M371.7 199.8h0M364.7 184.2h0M361.3 191.0h0M375.8 201.9h0M370.2 200.9h0M370.6 200.6h0M377.5 200.8h0M364.2 186.6h0M366.1 193.3h0M366.8 200.6h0M365.5 191.1h0M361.3 189.3h0M370.1 183.2h0M363.9 189.6h0M370.8 198.7h0M366.2 200.0h0M372.4 199.0h0M364.3 197.0h0M363.5 193.1h0M372.6 193.0h0M375.3 195.6h0M373.3 199.6h0M368.8 199.9h0M363.2 193.9h0M374.0 201.3h0M367.4 196.3h0M363.1 192.2h0M365.8 190.1h0M363.7 190.2h0M361.4 179.9h0M363.4 195.8h0M370.5 201.6h0M367.1 183.9h0M367.5 191.3h0M372.0 191.0h0M367.4 201.8h0M366.5 191.1h0M376.1 200.3h0M375.9 203.1h0M364.5 196.1h0M377.4 200.9h0M376.0 199.4h0M364.2 194.9h0M369.1 187.8h0M362.3 192.8h0M373.1 190.3h0M361.4 191.8h0M367.5 190.1h0M370.5 201.9h0M372.7 187.7h0M366.3 199.2h0M371.0 197.7h0M363.7 195.2h0M371.6 193.4h0M377.1 200.0h0M364.7 195.7h0M363.3 195.7h0M368.1 191.6h0M373.2 195.7h0M371.4 199.3h0M374.6 198.2h0M369.1 200.6h0M366.6 190.4h0M369.1 181.1h0M371.3 190.8h0M376.8 203.8h0M365.0 194.2h0M363.1 187.7h0M366.8 181.0h0M373.4 197.9h0M364.6 190.2h0M369.8 200.8h0M374.0 202.2h0M362.9 183.2h0M372.4 201.4h0M362.4 182.6h0M364.2 191.8h0M368.2 195.9h0M367.9 195.8h0M364.0 193.5h0M367.1 197.2h0M369.5 197.3h0M372.3 197.8h0M364.2 191.0h0M362.4 190.4h0M372.8 200.3h0M366.0 195.6h0M375.3 202.2h0M370.3 194.4h0M364.0 183.2h0M369.8 199.4h0M365.4 196.5h0M364.9 188.3h0M369.1 192.8h0M369.8 197.3h0M364.7 198.7h0M371.0 203.0h0M363.2 192.3h0M373.1 201.3h0M365.0 183.0h0M365.3 194.4h0M364.9 193.4h0M376.8 203.6h0M369.9 194.7h0M365.9 195.1h0M374.0 203.0h0M370.0 192.0h0M361.8 181.6h0M369.5 195.2h0M361.8 192.1h0M367.1 199.7h0M361.0 169.5h0M367.5 192.4h0M368.1 200.9h0M376.5 200.9h0M368.7 199.5h0M366.1 195.7h0M371.7 194.3h0M363.0 195.6h0M372.2 202.5h0M369.2 198.4h0M372.1 199.9h0M370.0 169.8h0M370.9 197.9h0M368.0 195.7h0M365.3 191.9h0M362.7 193.3h0M369.7 200.3h0M376.7 205.2h0M369.0 196.4h0M361.8 197.1h0M374.4 196.9h0M373.4 197.5h0M368.9 198.9h0M361.8 194.0h0M366.8 194.8h0M375.4 200.1h0M373.7 200.3h0M363.2 192.4h0M370.7 181.3h0M375.8 200.7h0M374.6 198.4h0M372.0 191.7h0M363.6 183.9h0M372.4 200.6h0M366.8 191.2h0M371.1 198.0h0M368.9 198.1h0M362.8 186.9h0M371.0 198.3h0M374.1 200.4h0M364.1 192.0h0M373.3 201.0h0M376.4 200.7h0M371.3 199.0h0M376.3 203.3h0M362.6 194.7h0M373.4 201.4h0M366.2 198.7h0M374.5 200.9h0M364.2 193.2h0M365.3 192.9h0M376.7 205.2h0M372.6 196.2h0M368.1 191.6h0M366.6 197.9h0M366.4 187.7h0M366.1 187.8h0M367.8 199.7h0M372.4 190.4h0M370.5 199.4h0M373.7 198.5h0M372.7 198.0h0M373.9 198.8h0M361.1 195.6h0M374.0 202.6h0M374.7 200.3h0M366.7 196.7h0M369.7 193.5h0M363.6 182.3h0M375.2 202.6h0M372.3 200.6h0M373.4 202.1h0M364.5 193.7h0M370.9 194.6h0M371.0 199.8h0M375.3 200.4h0M361.7 188.8h0M376.9 203.1h0M362.1 192.2h0M367.2 191.0h0M363.7 187.2h0M370.4 201.5h0M373.2 203.0h0M370.3 185.9h0M377.4 194.2h0M367.1 194.7h0M362.0 196.9h0M374.9 199.3h0M370.6 203.4h0M367.8 192.0h0M364.5 192.2h0M373.0 202.8h0M368.5 199.1h0M373.7 200.1h0M367.8 201.3h0M372.7 179.1h0M365.6 196.1h0M361.8 185.7h0M376.7 195.8h0M370.1 195.1h0M370.9 195.0h0M372.2 200.1h0M374.1 197.4h0M366.5 199.1h0M373.8 194.7h0M362.3 184.9h0M377.0 195.7h0M370.2 181.0h0M363.1 196.3h0M370.8 201.0h0M373.4 184.9h0M371.4 187.4h0M361.6 194.0h0M364.3 198.3h0M361.7 191.9h0M362.6 163.4h0M370.5 199.8h0M368.6 189.3h0M371.0 197.9h0M372.6 197.0h0M365.6 196.6h0M362.4 187.4h0M365.7 186.9h0M372.9 197.4h0M361.0 196.1h0M369.1 196.2h0M373.7 192.3h0M362.5 198.3h0M370.5 196.9h0M366.8 195.3h0M367.5 198.6h0M372.6 194.0h0M369.2 193.6h0M371.2 197.5h0M365.1 188.4h0M370.5 195.9h0M374.1 202.9h0M372.5 200.0h0M375.0 194.9h0M373.7 200.5h0M365.8 185.2h0M365.4 193.8h0M365.0 198.2h0M365.8 196.5h0M373.7 201.3h0M371.1 197.3h0M374.7 186.2h0M370.6 195.2h0M374.1 193.9h0M373.7 198.5h0M361.1 189.4h0M371.7 178.9h0M362.2 193.0h0M372.9 200.1h0M371.2 202.8h0M367.5 194.5h0M376.6 190.2h0M372.5 202.5h0M362.6 186.6h0M362.5 194.7h0M373.9 197.3h0M370.9 197.2h0M363.7 197.1h0M369.7 193.6h0M368.2 189.6h0M363.1 191.6h0M364.9 187.1h0M372.1 200.7h0M373.4 199.5h0M363.2 194.6h0M364.9 192.8h0M371.2 196.5h0M372.2 199.0h0M361.5 189.9h0M369.0 195.4h0M369.8 196.6h0M365.8 200.1h0M373.0 196.1h0M366.6 194.8h0M370.3 199.0h0M376.8 204.3h0M372.7 192.7h0M367.5 199.0h0M362.6 193.0h0M368.3 183.4h0M367.1 187.6h0M376.2 202.9h0M367.5 200.1h0M364.9 195.8h0M364.2 196.3h0M364.1 197.4h0M374.1 198.8h0M374.0 201.5h0M372.4 199.2h0M363.4 184.3h0M365.1 192.5h0M375.7 197.2h0M374.9 195.5h0M365.5 197.3h0M363.4 191.1h0M368.5 192.5h0M372.7 200.9h0M362.4 186.8h0M368.5 199.5h0M367.3 199.5h0M374.0 198.0h0M375.3 199.9h0M363.1 197.9h0M367.8 193.8h0M376.7 199.9h0M361.3 183.2h0M373.6 182.0h0M363.9 184.3h0M367.7 196.2h0M362.0 186.5h0M364.7 195.3h0M363.3 197.4h0M361.3 194.1h0M367.8 199.5h0M375.7 203.1h0M376.5 193.5h0M375.9 200.5h0M366.6 193.1h0M362.0 186.7h0M369.7 195.4h0M376.1 200.1h0M373.5 192.1h0M364.0 187.2h0M373.8 202.3h0M375.9 201.7h0M365.5 188.2h0M377.1 202.7h0M371.0 199.6h0M363.4 189.7h0M365.5 192.7h0M374.0 197.1h0M368.8 196.0h0M377.1 199.7h0M372.0 197.8h0M375.5 200.7h0M373.9 192.8h0M364.2 192.9h0M376.1 201.4h0M373.7 198.5h0M376.7 199.8h0M362.1 187.1h0M372.6 199.1h0M364.6 186.7h0M376.8 200.0h0M368.3 187.5h0M367.5 187.1h0M372.5 198.6h0M376.9 198.4h0M376.4 200.9h0M363.6 196.9h0M374.3 188.7h0M369.2 192.1h0M373.3 194.4h0M373.7 199.2h0M371.1 191.1h0M363.4 190.1h0M370.8 195.5h0M364.0 190.8h0M376.3 199.5h0M366.7 196.5h0M362.4 189.4h0M367.8 196.5h0M363.8 179.8h0M368.0 200.7h0M370.9 174.6h0M367.0 195.9h0M365.8 197.5h0M369.1 188.0h0M371.0 195.7h0M375.5 194.5h0M365.1 199.6h0M374.4 190.3h0M367.2 197.9h0M365.1 189.3h0M369.7 185.3h0M373.7 199.5h0M367.1 194.2h0M369.9 195.4h0M364.6 188.0h0M361.1 196.2h0M362.1 194.5h0M377.3 199.9h0M369.8 187.3h0M367.7 198.2h0M376.4 193.4h0M375.2 199.6h0M364.1 185.6h0M374.0 200.2h0M369.3 197.5h0M369.0 180.0h0M361.7 192.9h0M364.9 192.7h0M376.7 200.5h0M374.5 201.9h0M364.6 194.1h0M363.1 188.5h0M364.9 193.8h0M376.9 196.1h0M368.9 196.1h0M368.7 195.4h0M376.6 202.7h0M374.2 198.5h0M368.6 186.4h0M375.8 201.3h0M374.0 197.9h0M372.3 198.5h0M371.1 201.3h0M375.4 200.4h0M375.6 197.6h0M364.4 193.1h0M375.1 197.0h0M367.4 188.1h0M372.0 195.6h0M365.4 195.3h0M368.0 201.3h0M371.0 195.6h0M369.3 194.7h0M369.8 193.7h0M371.0 200.4h0M377.1 199.5h0M373.2 198.7h0M374.4 202.7h0M366.8 194.3h0M374.8 198.6h0M367.9 189.1h0M371.2 195.0h0M377.4 202.1h0M371.0 194.5h0M377.5 200.5h0M372.7 198.1h0M362.7 193.0h0M364.4 194.1h0M375.1 200.2h0M362.8 193.2h0M373.1 199.1h0M372.0 197.5h0M373.0 198.3h0M363.9 177.8h0M366.0 198.9h0M377.5 201.3h0M366.0 187.2h0M366.4 196.1h0M377.3 200.8h0M365.0 198.2h0M363.2 196.6h0M365.4 182.2h0M366.5 187.7h0M372.5 196.0h0M361.8 176.9h0M371.1 198.3h0M372.5 202.9h0M373.1 196.0h0M367.3 196.3h0M366.6 182.6h0M371.5 196.9h0M365.6 188.5h0M371.3 180.3h0M372.0 198.8h0M374.9 185.4h0M365.2 194.8h0M362.0 193.4h0M366.4 181.1h0M365.7 190.4h0M370.6 197.7h0M370.9 199.9h0M369.6 189.8h0M367.6 193.8h0M373.3 201.5h0M376.8 191.8h0M362.0 186.1h0M370.5 192.1h0M376.5 200.8h0M361.4 184.3h0M362.8 192.1h0M370.9 198.3h0M364.1 178.3h0M368.2 197.6h0M364.8 192.4h0M367.2 191.3h0M362.2 185.6h0M367.1 200.2h0M369.9 201.5h0M371.6 194.6h0M366.0 196.2h0M368.8 197.5h0M368.0 190.4h0M370.2 197.7h0M368.6 201.1h0M361.7 189.4h0M361.0 194.2h0M371.6 192.8h0M365.6 196.5h0M365.2 198.3h0M370.1 198.4h0M375.6 193.2h0M370.3 196.7h0M371.3 198.2h0M373.5 199.8h0M369.3 196.1h0M370.8 196.3h0M370.8 197.8h0M372.2 200.6h0M372.6 202.6h0M375.2 197.7h0M370.7 198.1h0M362.1 188.1h0M370.4 190.7h0M376.0 204.6h0M362.4 196.8h0M374.0 194.6h0M375.6 203.2h0M366.6 194.4h0M363.7 194.3h0M365.3 193.6h0M363.5 191.6h0M375.8 195.6h0M373.3 197.5h0M372.8 186.2h0M369.9 195.3h0M371.5 193.0h0M365.3 193.4h0M361.8 185.7h0M371.2 187.2h0M376.6 202.5h0M374.2 199.4h0M374.3 196.5h0M365.9 196.5h0M368.6 196.6h0M369.5 197.0h0M372.4 203.2h0M364.4 179.4h0M364.1 195.7h0M367.2 197.7h0M377.0 202.3h0M369.8 198.7h0M363.7 190.4h0M375.2 200.8h0M362.5 191.1h0M374.9 198.8h0M367.6 182.9h0M372.8 186.1h0M370.9 196.2h0M372.5 198.4h0M366.8 190.9h0M365.0 167.5h0M365.4 197.3h0M376.9 194.4h0M371.1 188.6h0M366.1 188.6h0M377.0 200.9h0M366.9 199.7h0M377.3 198.3h0M365.0 186.1h0M366.1 191.9h0M364.2 190.6h0M371.3 199.7h0M363.7 191.3h0M364.1 188.9h0M372.5 191.0h0M373.1 197.6h0M365.6 196.3h0M371.9 196.0h0M362.8 192.7h0M369.7 197.0h0M376.9 200.6h0M373.5 201.4h0M370.4 200.0h0M364.4 188.3h0M361.1 187.0h0M363.0 193.5h0M374.0 199.7h0M364.3 185.4h0M363.8 195.0h0M374.7 197.8h0M368.0 197.6h0M362.8 194.2h0M366.3 180.3h0M366.8 196.7h0M364.9 189.2h0M377.3 201.8h0M364.6 182.8h0M361.9 193.8h0M363.4 190.4h0M374.2 204.0h0M367.9 192.6h0M370.2 198.4h0M377.4 203.5h0M367.1 185.6h0M375.9 203.7h0M375.7 200.3h0M373.9 196.7h0M361.6 191.6h0M375.8 201.9h0M364.7 195.1h0M374.5 200.1h0M368.7 183.6h0M375.6 202.8h0M366.7 195.2h0M377.0 197.6h0M376.7 204.6h0M373.6 198.8h0M367.1 191.0h0M371.5 199.6h0M368.3 197.4h0M370.8 195.8h0M361.4 180.0h0M372.7 200.1h0M367.5 191.2h0M368.1 193.7h0M373.5 202.8h0M366.9 195.7h0M373.0 197.0h0M369.4 193.8h0M365.3 192.6h0M375.3 197.2h0M375.3 200.7h0M368.2 196.9h0M367.8 196.5h0M369.7 198.0h0M373.4 200.0h0M372.6 194.8h0M361.5 172.5h0M363.0 192.0h0M363.7 190.1h0M362.7 190.5h0M365.8 195.5h0M374.8 189.1h0M362.0 196.1h0M363.0 190.8h0M365.5 182.9h0M366.9 195.8h0M369.7 190.2h0M372.1 200.8h0M377.2 204.1h0M367.2 184.5h0M368.7 197.9h0M370.5 202.2h0M370.8 198.6h0M376.8 202.3h0M369.6 197.4h0M376.2 198.9h0M371.0 198.4h0M370.9 199.6h0M364.1 187.8h0M375.7 198.2h0M369.6 198.4h0M368.7 184.9h0M372.9 199.0h0M365.3 189.2h0M375.5 202.7h0M377.4 199.6h0M374.2 203.5h0M361.9 192.4h0M372.6 193.3h0M372.7 202.7h0M362.5 191.6h0M372.4 199.1h0M367.4 196.7h0M373.8 195.2h0M361.5 187.2h0M362.8 189.8h0M375.8 195.0h0M377.5 201.3h0M368.9 201.2h0M366.6 196.7h0M361.2 182.3h0M374.4 193.7h0M376.9 195.0h0M371.9 199.3h0M376.8 196.3h0M369.0 195.8h0M361.8 193.0h0M363.4 196.2h0M376.0 198.4h0M373.5 199.0h0M362.7 192.2h0M375.8 197.9h0M376.8 201.1h0M375.0 202.3h0M373.3 199.5h0M364.1 195.3h0M369.0 200.1h0M365.8 172.5h0M367.1 193.5h0M365.7 196.9h0M368.6 198.6h0M368.6 196.3h0M364.1 194.9h0M364.5 187.5h0M376.8 200.6h0M362.6 196.2h0M370.7 196.5h0M367.3 198.1h0M374.0 188.7h0M361.8 194.3h0M366.9 189.5h0M366.7 184.8h0M362.8 196.4h0M363.9 188.6h0M373.7 186.1h0M362.1 192.7h0M374.1 199.8h0M362.7 183.6h0M363.7 182.5h0M373.4 201.6h0M367.5 193.6h0M376.9 201.2h0M367.7 198.6h0M374.3 200.3h0M374.6 202.0h0M367.6 198.8h0M362.9 183.6h0M373.6 199.6h0M373.5 194.6h0M365.2 192.3h0M372.0 199.7h0M369.2 191.0h0M373.4 203.6h0M368.2 197.8h0M364.1 190.3h0M370.1 193.3h0M373.9 198.7h0M368.7 197.1h0M367.5 199.4h0M361.3 191.2h0M366.3 181.3h0M371.8 198.7h0M374.9 201.7h0M368.1 172.6h0M362.5 186.8h0M375.8 202.4h0M366.3 193.6h0M372.7 199.2h0M368.8 189.4h0M372.4 193.5h0M368.1 196.2h0M375.2 204.1h0M364.5 191.4h0M367.0 184.4h0M373.6 195.1h0M370.5 186.3h0M361.5 188.7h0M369.0 196.4h0M365.0 195.4h0M363.8 184.0h0M372.8 199.1h0M372.9 192.8h0M367.9 199.6h0M369.5 194.3h0M372.7 195.1h0M377.4 197.2h0M370.1 197.0h0M375.4 200.1h0M371.6 198.9h0M374.4 203.2h0M376.5 198.4h0M377.5 203.9h0M363.3 193.3h0M363.9 195.1h0M374.4 201.4h0M369.8 197.0h0M367.2 195.4h0M367.4 197.2h0M365.8 198.7h0M367.0 195.6h0M371.3 194.6h0M361.2 191.4h0M370.4 192.8h0M370.8 197.2h0M369.0 194.0h0M363.5 193.2h0M375.5 201.8h0M363.0 196.3h0M377.4 202.0h0M370.4 192.8h0M364.3 190.9h0M375.6 204.3h0M363.7 189.6h0M367.7 190.7h0M372.7 202.8h0M376.2 203.5h0M376.1 201.0h0M365.3 197.3h0M362.8 197.9h0M374.0 197.6h0M373.1 200.0h0M370.7 193.5h0M369.7 201.8h0M368.7 198.3h0M362.9 178.9h0M366.9 188.0h0M373.0 201.1h0M377.0 200.8h0M380.8 199.8h0M384.8 202.7h0M379.2 202.9h0M379.0 200.4h0M382.8 202.8h0M382.4 203.1h0M379.4 201.3h0M379.0 199.4h0M383.1 201.4h0M381.6 203.1h0M385.4 206.0h0M382.0 202.9h0M381.6 203.1h0M377.7 200.2h0M379.5 193.2h0M378.6 202.4h0M379.2 203.5h0M381.9 205.7h0M384.1 203.3h0M384.8 194.4h0M383.1 204.9h0M379.1 201.2h0M384.8 197.6h0M383.2 203.5h0M385.1 206.5h0M382.1 204.1h0M378.0 201.9h0M379.4 199.2h0M384.1 203.2h0M383.8 203.3h0M377.7 204.8h0M380.7 204.6h0M378.6 193.3h0M385.7 203.8h0M384.2 203.4h0M381.0 202.2h0M384.8 195.2h0M383.3 203.4h0M379.2 199.1h0M383.7 206.4h0M384.8 205.4h0M383.1 202.7h0M384.4 202.1h0M380.0 206.1h0M385.2 204.3h0M383.1 204.2h0M378.3 198.1h0M380.9 203.3h0M378.8 202.7h0M385.7 204.1h0M382.5 204.9h0M378.7 201.1h0M382.7 202.2h0M378.4 193.3h0M384.7 204.3h0M384.1 205.4h0M381.1 206.1h0M379.8 198.1h0M378.2 203.6h0M378.3 201.8h0M383.5 201.1h0M385.7 196.2h0M382.0 202.7h0M379.0 199.8h0M379.7 197.8h0M379.4 199.5h0M382.2 184.7h0M377.8 203.7h0M378.5 200.9h0M383.2 206.2h0M385.7 202.3h0M382.2 197.9h0M385.8 204.9h0M384.4 205.3h0M384.1 203.5h0M385.6 203.5h0M383.2 199.1h0M381.8 202.1h0M377.6 204.8h0M378.6 201.9h0M383.5 206.0h0M383.8 198.4h0M378.2 197.8h0M385.2 205.9h0M381.9 201.6h0M379.5 197.3h0M385.4 204.3h0M381.9 205.3h0M382.7 204.5h0M381.4 199.0h0M383.5 205.1h0M379.0 201.9h0M379.6 202.6h0M378.7 203.2h0M379.9 204.9h0M380.8 202.0h0M380.6 205.2h0M382.4 205.0h0M380.4 204.9h0M384.3 206.4h0M380.4 203.5h0M383.4 202.3h0M383.6 204.1h0M378.7 200.3h0M380.7 199.5h0M383.0 199.5h0M380.3 203.5h0M384.0 204.6h0M384.7 198.8h0M381.3 202.2h0M384.0 198.3h0M384.5 205.4h0M380.8 198.5h0M377.7 201.3h0M385.2 204.2h0M378.2 202.5h0M378.7 202.2h0M379.6 202.5h0M385.2 203.6h0M382.0 198.5h0M380.6 194.7h0M378.2 196.7h0M380.0 200.4h0M383.6 200.3h0M380.2 202.6h0M379.0 202.0h0M378.2 195.5h0M377.7 200.7h0M378.3 201.6h0M385.4 202.6h0M383.6 204.0h0M384.6 201.0h0M382.9 207.6h0M379.1 202.2h0M378.0 201.1h0M385.8 207.8h0M378.8 201.9h0M384.8 200.8h0M378.1 200.8h0M378.6 203.9h0M381.8 202.3h0M379.2 203.1h0M380.1 196.8h0M380.8 199.4h0M379.5 204.6h0M384.2 194.4h0M380.5 199.4h0M378.3 203.0h0M383.5 201.2h0M380.8 202.4h0M378.0 201.9h0M379.7 202.7h0M379.2 192.2h0M385.0 202.5h0M379.2 203.8h0M380.9 197.0h0M379.8 203.6h0M379.0 202.9h0M379.4 204.2h0M381.1 200.3h0M381.9 203.5h0M379.2 204.8h0M380.5 194.3h0M379.8 201.8h0M379.8 202.6h0M378.3 202.5h0M378.5 201.6h0M384.2 201.0h0M384.6 205.2h0M380.3 187.1h0M379.6 200.3h0M384.3 200.8h0M380.7 203.5h0M378.8 200.9h0M377.9 202.6h0M377.9 206.1h0M380.3 200.2h0M380.5 198.6h0M383.0 198.5h0M382.2 203.9h0M385.5 204.6h0M382.4 201.8h0M382.2 205.4h0M384.5 203.6h0M379.3 202.8h0M380.4 200.8h0M379.2 203.0h0M382.8 203.1h0M383.7 202.7h0M379.4 204.8h0M384.3 200.2h0M382.0 200.9h0M385.4 207.1h0M379.2 196.5h0M385.6 202.4h0M378.3 205.7h0M379.2 202.5h0M380.5 195.7h0M383.7 201.4h0M385.0 205.4h0M380.3 197.3h0M380.3 203.4h0M377.9 204.3h0M379.7 202.8h0M378.8 198.6h0M380.6 200.6h0M383.6 205.2h0M379.0 203.8h0M384.7 202.4h0M382.6 198.0h0M382.8 204.9h0M379.9 199.0h0M382.7 201.8h0M379.0 205.8h0M379.3 199.3h0M385.8 203.3h0M384.7 206.5h0M380.1 199.9h0M378.4 202.9h0M385.8 198.9h0M381.6 201.1h0M383.5 205.3h0M377.6 202.0h0M381.8 193.1h0M384.9 202.9h0M381.1 203.4h0M383.4 199.3h0M384.9 204.3h0M384.8 203.8h0M385.1 200.1h0M385.0 202.7h0M379.4 203.8h0M377.7 202.8h0M380.3 203.0h0M383.9 204.3h0M383.6 202.8h0M380.5 201.9h0M379.8 202.9h0M382.7 202.2h0M384.7 205.1h0M380.0 201.9h0M381.4 199.7h0M385.5 203.9h0M379.2 203.1h0M382.5 202.3h0M384.0 197.5h0M381.0 202.6h0M384.9 197.4h0M380.6 197.6h0M380.3 205.1h0M379.8 193.3h0M377.9 200.2h0M385.6 206.3h0M378.0 203.0h0M384.5 205.3h0M383.1 204.9h0M382.3 201.8h0M377.7 195.7h0M382.9 193.5h0M378.3 198.8h0M380.6 203.3h0M378.1 203.8h0M378.9 202.8h0M385.6 204.1h0M384.7 203.3h0M379.0 192.3h0M385.7 204.2h0M378.1 204.2h0M379.4 203.7h0M382.1 200.8h0M383.5 205.1h0M380.2 201.9h0M380.0 205.8h0M385.7 199.9h0M378.3 203.5h0M379.2 203.9h0M381.7 202.4h0M381.7 206.2h0M381.5 201.8h0M382.8 206.1h0M384.3 204.4h0M380.8 203.6h0M383.6 202.5h0M382.1 206.0h0M382.7 206.0h0M382.6 201.4h0M378.9 203.3h0M380.1 204.7h0M381.5 202.4h0M382.4 204.0h0M383.4 197.5h0M380.9 203.9h0M381.5 204.3h0M378.0 196.1h0M382.4 203.6h0M384.6 204.2h0M385.1 204.6h0M379.8 201.4h0M379.4 199.2h0M384.3 203.4h0M378.5 196.9h0M384.6 204.8h0M385.0 206.5h0M379.7 196.8h0M384.1 201.6h0M380.8 200.7h0M380.0 199.7h0M380.6 200.3h0M380.3 201.4h0M379.2 204.2h0M382.2 205.5h0M383.3 202.5h0M380.1 203.3h0M382.6 199.5h0M378.4 201.7h0M383.9 203.4h0M385.6 205.6h0M381.5 205.2h0M380.9 203.2h0M381.1 205.9h0M384.0 207.4h0M380.2 197.9h0M384.1 204.8h0M382.1 201.0h0M384.6 199.2h0M382.8 204.2h0M379.8 201.9h0M382.6 205.0h0M377.6 201.2h0M379.3 204.3h0M383.9 202.1h0M381.3 196.7h0M385.4 204.5h0M377.6 199.1h0M377.6 203.3h0M385.4 204.6h0M382.3 202.3h0M382.4 200.1h0M380.7 203.8h0M381.9 199.8h0M383.2 199.1h0M385.4 204.1h0M379.6 193.2h0M381.4 203.9h0M383.9 201.4h0M384.3 200.5h0M384.1 206.6h0M384.9 200.0h0M379.3 205.3h0M383.9 206.4h0M381.2 205.7h0M378.6 194.1h0M382.8 206.3h0M378.5 206.2h0M383.7 203.1h0M378.4 199.6h0M382.5 204.6h0M379.6 202.6h0M380.6 203.0h0M381.0 200.9h0M382.2 202.4h0M378.8 194.9h0M379.9 202.5h0M381.1 203.0h0M384.2 201.7h0M384.0 200.3h0M385.4 205.1h0M382.0 203.3h0M382.7 202.7h0M382.7 193.5h0M381.7 203.8h0M383.8 203.1h0M383.7 195.9h0M379.4 200.6h0M384.0 205.0h0M381.0 197.3h0M383.5 199.7h0M381.7 198.8h0M379.1 200.5h0M383.1 202.7h0M378.2 201.6h0M380.3 200.7h0M380.1 197.9h0M380.4 201.7h0M379.4 180.4h0M384.9 204.6h0M379.8 204.8h0M381.1 197.2h0M384.8 199.4h0M383.8 202.0h0M379.9 205.7h0M380.8 199.3h0M383.8 203.4h0M379.7 204.3h0M382.9 203.3h0M383.3 203.0h0M383.9 202.2h0M382.3 205.8h0M382.6 205.7h0M385.1 203.0h0M381.1 203.1h0M382.8 201.9h0M381.0 202.5h0M377.7 197.3h0M377.6 202.8h0M379.2 201.7h0M378.7 191.7h0M381.9 202.8h0M381.1 202.9h0M381.0 204.1h0M379.6 202.4h0M384.5 203.0h0M385.1 202.2h0M383.0 205.4h0M381.5 200.5h0M384.6 204.5h0M385.0 200.4h0M382.6 203.3h0M381.7 202.8h0M385.2 205.7h0M378.4 201.3h0M378.3 197.2h0M385.3 202.9h0M384.1 202.5h0M382.1 204.3h0M380.5 204.3h0M382.3 202.1h0M382.0 204.2h0M384.6 206.5h0M385.1 202.7h0M379.5 199.2h0M379.6 198.7h0M380.6 204.9h0M381.1 199.7h0M384.4 201.1h0M382.4 205.7h0M379.7 202.1h0M378.4 204.2h0M378.4 198.1h0M383.5 194.3h0M384.6 201.8h0M379.4 202.4h0M378.9 204.4h0M381.0 199.0h0M378.5 200.0h0M384.3 204.0h0M379.7 198.8h0M380.3 184.9h0M385.1 205.5h0M382.8 207.4h0M377.8 198.7h0M384.7 205.7h0M378.8 195.2h0M378.9 202.2h0M378.8 203.1h0M382.1 204.0h0M385.3 201.3h0M379.8 203.3h0M383.8 206.6h0M383.3 201.0h0M378.7 197.5h0M382.1 202.0h0M381.3 203.0h0M380.0 202.8h0M381.5 200.6h0M378.1 202.5h0M385.5 199.0h0M383.2 203.5h0M382.1 199.8h0M381.0 200.3h0M381.5 197.5h0M383.7 203.8h0M383.0 202.5h0M381.7 203.4h0M377.7 198.8h0M382.3 202.6h0M383.4 204.7h0M382.1 199.4h0M380.8 203.3h0M380.9 205.9h0M379.8 199.2h0M385.3 198.4h0M377.8 195.5h0M379.7 202.8h0M383.5 200.0h0M380.2 194.9h0M384.8 205.4h0M378.7 204.0h0M380.3 200.9h0M378.6 204.9h0M379.2 203.5h0M383.6 196.1h0M383.1 196.8h0M383.2 203.1h0M378.5 202.3h0M385.1 206.2h0M385.0 205.0h0M382.2 202.6h0M382.1 205.4h0M385.0 202.6h0M380.9 204.9h0M383.5 204.5h0M384.4 205.4h0M381.0 199.2h0M383.2 204.9h0M380.8 204.0h0M385.8 196.9h0M380.5 200.0h0M377.8 202.0h0M382.1 203.4h0M380.8 205.1h0M384.0 202.1h0M382.6 205.6h0M383.7 204.2h0M385.3 202.3h0M384.1 205.4h0M382.5 189.0h0M380.7 201.3h0M383.2 203.4h0M379.3 206.2h0M385.9 204.6h0M378.8 195.9h0M382.2 201.2h0M380.5 204.0h0M383.4 196.4h0M379.0 202.5h0M379.1 194.6h0M382.9 203.3h0M381.7 204.9h0M384.4 199.3h0M383.9 200.9h0M382.6 201.0h0M383.6 203.1h0M384.9 204.4h0M380.6 201.5h0M377.6 193.1h0M384.4 195.6h0M385.1 198.5h0M382.7 203.0h0M382.1 196.0h0M381.8 202.9h0M384.2 205.2h0M381.3 201.7h0M381.9 206.9h0M379.6 201.0h0M380.9 200.5h0M381.9 202.2h0M379.4 191.5h0M381.8 203.6h0M377.7 204.8h0M384.5 202.5h0M380.0 197.8h0M378.2 205.0h0M379.3 203.5h0M381.9 196.9h0M380.9 206.9h0M380.7 203.4h0M378.9 201.4h0M383.5 203.9h0M379.8 201.6h0M381.9 200.1h0M383.4 204.1h0M382.9 197.3h0M382.1 197.9h0M378.0 203.7h0M379.5 205.6h0M378.4 204.2h0M381.2 206.5h0M377.8 200.7h0M380.1 200.1h0M382.9 203.1h0M385.5 193.4h0M378.3 203.0h0M385.1 207.5h0M384.1 200.6h0M377.9 189.0h0M384.5 203.7h0M384.1 197.2h0M384.7 203.2h0M385.1 202.8h0M382.2 204.9h0M379.7 203.6h0M380.0 201.8h0M385.3 206.0h0M379.1 202.5h0M379.7 198.8h0M379.8 183.8h0M378.8 201.4h0M384.4 206.3h0M385.1 198.7h0M380.4 205.9h0M382.2 205.8h0M385.0 207.7h0M383.6 199.1h0M381.3 204.4h0M377.9 201.6h0M383.5 204.7h0M381.3 203.1h0M385.5 203.0h0M379.2 199.0h0M384.9 200.1h0M384.2 197.4h0M378.4 198.8h0M384.1 207.0h0M379.5 202.7h0M382.5 204.7h0M384.7 204.5h0M380.3 202.9h0M379.5 203.9h0M378.3 204.5h0M382.5 198.3h0M381.1 201.5h0M382.7 203.2h0M379.0 202.5h0M385.1 201.8h0M377.8 200.3h0M382.8 206.1h0M380.4 205.9h0M380.9 204.5h0M385.0 202.0h0M381.5 201.7h0M380.2 200.5h0M380.2 203.7h0M383.3 203.5h0M381.2 203.8h0M383.2 199.8h0M378.8 203.7h0M379.4 196.5h0M378.1 188.2h0M381.6 202.4h0M382.2 203.2h0M380.1 201.8h0M379.9 201.1h0M379.0 200.7h0M383.3 204.8h0M380.5 203.0h0M384.0 203.3h0M382.5 203.1h0M381.3 201.8h0M384.0 203.6h0M379.4 204.8h0M381.3 203.6h0M381.2 204.9h0M378.2 194.6h0M384.4 206.7h0M382.5 201.9h0M385.4 206.7h0M384.7 207.2h0M384.1 197.8h0M384.2 201.6h0M382.9 199.9h0M378.2 200.3h0M385.1 204.7h0M381.6 203.7h0M383.5 204.1h0M377.8 190.4h0M382.7 199.1h0M379.9 204.8h0M379.0 196.2h0M382.2 202.9h0M377.7 201.5h0M382.5 195.8h0M383.8 202.9h0M381.3 205.2h0M385.1 200.8h0M382.7 205.2h0M379.8 203.6h0M383.2 199.3h0M382.4 205.7h0M378.1 191.2h0M384.8 203.6h0M385.7 202.7h0M379.0 204.1h0M378.3 203.0h0M377.8 199.6h0M382.3 202.7h0M381.5 204.4h0M382.5 198.6h0M379.4 195.4h0M379.8 197.2h0M383.0 202.7h0M384.8 201.2h0M382.8 206.8h0M382.6 197.3h0M377.7 196.6h0M381.6 203.3h0M378.6 199.5h0M379.0 202.5h0M382.0 201.0h0M380.1 196.0h0M379.6 205.4h0M380.6 203.1h0M385.2 203.9h0M378.0 195.9h0M380.8 203.1h0M380.9 205.6h0M378.5 199.2h0M377.7 201.8h0M379.0 200.2h0M380.1 204.3h0M381.1 201.1h0M381.5 202.8h0M385.1 199.3h0M382.4 202.3h0M378.4 204.0h0M383.7 203.0h0M384.2 202.9h0M382.2 201.4h0M377.7 199.7h0M381.6 198.8h0M380.3 192.1h0M382.2 203.4h0M377.7 201.3h0M382.5 204.9h0M382.0 207.0h0M383.1 201.3h0M379.9 203.9h0M377.9 199.3h0M380.2 203.7h0M381.4 199.5h0M397.9 206.9h0M401.4 210.4h0M398.9 206.8h0M401.1 208.5h0M389.2 208.6h0M391.0 208.9h0M390.3 205.3h0M399.0 206.0h0M392.2 205.6h0M397.6 206.7h0M390.8 197.3h0M401.1 199.9h0M399.1 205.2h0M391.3 204.0h0M389.3 205.5h0M399.5 206.6h0M395.2 204.8h0M398.2 204.6h0M387.2 204.8h0M391.2 207.8h0M392.9 207.4h0M396.9 199.4h0M402.3 208.8h0M386.2 205.6h0M386.8 204.9h0M389.0 204.8h0M399.2 207.0h0M391.7 206.2h0M393.4 206.7h0M399.0 209.7h0M393.5 207.2h0M402.0 208.7h0M395.1 205.0h0M396.6 206.0h0M393.0 205.0h0M389.6 202.6h0M396.2 208.8h0M396.5 202.8h0M401.0 209.6h0M393.3 208.6h0M392.3 202.7h0M391.4 203.6h0M394.6 208.0h0M393.4 209.0h0M396.6 207.3h0M402.3 208.7h0M391.2 205.1h0M397.0 208.9h0M398.8 208.8h0M401.7 208.5h0M390.5 205.8h0M398.9 208.4h0M400.5 207.8h0M400.8 205.2h0M387.3 203.6h0M390.1 204.6h0M390.6 204.6h0M397.8 207.2h0M401.5 209.8h0M395.5 205.7h0M395.8 207.0h0M399.9 206.4h0M398.4 206.8h0M402.5 205.8h0M399.3 204.9h0M398.2 202.3h0M389.6 200.2h0M394.2 201.3h0M389.5 204.5h0M386.8 199.1h0M388.2 206.4h0M387.8 203.8h0M392.6 207.4h0M395.3 209.1h0M387.3 203.1h0M397.0 206.2h0M397.3 209.1h0M397.8 204.3h0M387.8 206.5h0M397.0 207.6h0M389.6 198.3h0M397.9 209.0h0M398.6 207.0h0M387.3 201.6h0M393.7 205.3h0M397.4 204.7h0M388.3 205.5h0M388.7 204.7h0M389.6 207.3h0M393.4 207.0h0M398.4 206.9h0M392.1 204.9h0M399.7 204.1h0M389.4 196.2h0M401.2 207.6h0M389.4 204.6h0M396.4 206.9h0M400.2 209.0h0M387.2 206.6h0M394.4 205.5h0M393.6 206.4h0M401.7 209.7h0M397.2 208.0h0M387.5 205.3h0M396.2 205.9h0M397.5 208.2h0M399.1 209.6h0M389.2 208.2h0M394.4 204.8h0M391.7 206.3h0M389.0 206.3h0M393.7 204.6h0M396.5 198.7h0M391.1 208.8h0M395.0 204.8h0M397.6 206.3h0M391.8 208.2h0M395.6 208.0h0M398.8 206.0h0M391.5 203.6h0M386.7 202.8h0M399.9 207.4h0M401.1 208.9h0M389.2 205.0h0M399.1 193.8h0M391.9 205.5h0M389.4 200.2h0M396.9 207.7h0M400.6 206.6h0M394.7 204.3h0M387.3 204.6h0M400.3 209.4h0M392.6 205.7h0M387.6 203.0h0M399.9 208.2h0M393.6 202.1h0M396.9 204.4h0M388.9 203.7h0M394.7 205.0h0M397.5 208.0h0M395.4 206.5h0M387.6 203.3h0M390.1 208.0h0M395.7 198.2h0M397.7 205.6h0M391.7 202.8h0M388.4 202.1h0M401.5 209.1h0M401.3 207.0h0M390.9 198.2h0M388.4 201.7h0M399.4 207.8h0M397.4 203.9h0M388.2 206.3h0M392.9 204.2h0M399.7 206.5h0M388.4 207.5h0M388.4 207.2h0M395.0 205.0h0M391.9 202.1h0M398.9 204.4h0M397.9 202.7h0M395.9 207.9h0M387.7 205.5h0M395.5 206.2h0M397.2 203.4h0M399.3 209.3h0M395.4 206.7h0M391.9 207.5h0M393.2 204.9h0M393.0 203.5h0M399.9 208.5h0M395.3 200.2h0M392.7 202.6h0M401.1 208.0h0M391.5 208.5h0M396.8 208.3h0M401.3 207.9h0M389.5 206.0h0M388.5 203.3h0M386.5 206.1h0M387.4 207.4h0M389.0 205.2h0M387.5 206.2h0M388.4 205.2h0M393.6 205.4h0M396.8 208.6h0M400.5 207.8h0M390.4 197.0h0M395.0 199.1h0M391.4 197.9h0M393.0 205.5h0M390.3 199.9h0M396.9 205.2h0M399.6 209.9h0M386.2 205.4h0M396.0 201.6h0M388.2 206.1h0M398.9 205.4h0M388.0 198.6h0M397.1 204.6h0M396.7 202.6h0M390.4 202.5h0M394.9 203.4h0M386.2 200.6h0M389.5 204.0h0M394.6 208.5h0M393.3 208.5h0M386.1 199.9h0M392.5 207.7h0M390.9 208.4h0M390.7 206.1h0M389.6 206.9h0M396.9 198.0h0M388.7 201.2h0M394.6 207.2h0M396.1 202.7h0M401.5 210.4h0M396.5 208.3h0M394.8 203.3h0M389.0 204.4h0M393.4 207.5h0M390.1 206.0h0M394.4 205.5h0M400.2 207.0h0M389.1 204.4h0M387.4 200.0h0M392.2 201.4h0M392.2 206.0h0M386.7 207.5h0M391.1 204.7h0M397.1 207.5h0M393.9 205.8h0M388.2 206.4h0M402.3 198.5h0M395.0 207.3h0M401.6 207.1h0M388.5 199.1h0M399.6 209.2h0M390.8 205.4h0M389.7 205.6h0M394.4 204.6h0M396.9 208.4h0M394.3 205.9h0M395.6 207.7h0M394.8 209.0h0M397.7 206.9h0M394.3 207.1h0M393.7 202.1h0M397.9 198.4h0M389.8 202.2h0M396.3 204.3h0M397.9 191.7h0M399.4 208.7h0M395.0 204.3h0M399.7 208.3h0M390.1 205.8h0M386.3 203.6h0M399.1 209.9h0M400.8 208.0h0M397.5 206.5h0M394.2 205.8h0M394.0 207.9h0M391.4 197.3h0M396.1 201.0h0M387.4 202.6h0M400.3 208.9h0M386.4 201.3h0M398.9 209.2h0M389.8 205.9h0M399.6 206.4h0M391.7 206.1h0M388.3 204.8h0M395.3 204.9h0M394.0 208.0h0M401.3 206.1h0M397.7 205.5h0M401.1 205.0h0M393.7 203.5h0M391.3 199.8h0M390.8 204.0h0M387.8 205.4h0M396.5 205.3h0M401.8 209.1h0M400.9 204.0h0M390.9 205.8h0M397.1 204.2h0M390.0 202.6h0M394.6 205.1h0M396.6 205.7h0M398.0 208.9h0M393.4 198.0h0M389.6 203.9h0M400.3 209.1h0M388.5 208.7h0M397.4 208.0h0M400.0 209.6h0M398.4 206.6h0M402.5 209.1h0M401.3 205.4h0M389.7 207.5h0M401.0 208.2h0M394.6 208.4h0M390.7 206.0h0M402.0 207.8h0M395.9 208.7h0M397.1 200.8h0M398.0 209.1h0M396.3 206.7h0M390.8 199.7h0M391.2 208.9h0M398.6 208.7h0M394.5 208.1h0M397.3 206.8h0M388.2 205.0h0M397.9 204.4h0M393.2 207.9h0M387.8 197.7h0M402.0 206.5h0M395.8 206.8h0M388.0 207.6h0M399.3 208.0h0M389.1 204.5h0M396.8 205.1h0M389.6 205.2h0M390.3 202.6h0M387.9 207.2h0M402.2 206.3h0M399.0 201.3h0M393.6 206.1h0M396.0 202.2h0M391.7 206.0h0M396.1 206.6h0M399.8 207.5h0M389.3 203.5h0M391.5 206.2h0M401.9 207.1h0M392.8 203.7h0M395.2 206.6h0M392.0 205.1h0M393.0 207.8h0M388.2 193.0h0M399.2 200.5h0M389.8 206.6h0M401.0 206.2h0M386.9 205.4h0M386.9 201.3h0M400.2 209.5h0M388.4 195.0h0M386.2 207.2h0M391.6 204.1h0M402.4 205.4h0M397.6 206.7h0M397.1 206.9h0M393.4 204.4h0M395.3 207.4h0M391.5 205.5h0M400.2 206.0h0M398.5 207.0h0M389.5 205.5h0M388.4 204.4h0M400.4 207.7h0M401.8 206.3h0M391.5 206.4h0M392.1 208.4h0M391.7 201.4h0M398.6 206.3h0M401.3 207.2h0M400.1 208.4h0M399.4 209.4h0M392.1 205.4h0M399.7 207.0h0M402.1 209.0h0M401.6 206.7h0M397.9 208.6h0M387.1 201.6h0M393.8 208.4h0M386.0 204.6h0M397.0 202.7h0M386.9 206.4h0M389.5 203.7h0M387.3 199.4h0M400.1 209.4h0M399.4 208.7h0M394.1 197.2h0M390.1 205.6h0M390.5 205.0h0M397.3 206.6h0M399.2 207.3h0M393.6 206.4h0M392.6 195.8h0M391.7 203.9h0M388.6 207.4h0M399.4 207.1h0M392.2 204.8h0M397.8 206.4h0M387.8 200.6h0M388.6 204.5h0M386.2 208.2h0M386.2 206.7h0M400.9 207.5h0M389.6 200.8h0M395.8 206.4h0M387.2 207.4h0M393.2 203.7h0M392.2 205.5h0M395.6 206.5h0M386.7 206.2h0M401.0 202.6h0M387.4 200.3h0M391.9 208.1h0M391.7 199.4h0M400.1 208.8h0M388.1 203.0h0M386.8 203.8h0M390.1 202.6h0M390.1 205.8h0M386.6 204.7h0M394.4 207.9h0M398.9 207.4h0M397.1 203.6h0M389.1 206.1h0M399.9 209.1h0M398.3 208.7h0M392.4 203.7h0M387.5 192.2h0M402.2 207.7h0M392.9 207.8h0M389.9 205.0h0M390.3 205.6h0M397.2 207.0h0M391.0 208.1h0M399.0 209.0h0M398.8 208.8h0M398.4 207.3h0M396.4 205.7h0M400.6 207.6h0M401.6 209.6h0M390.7 205.3h0M388.2 199.1h0M396.2 206.8h0M398.7 201.8h0M399.6 209.7h0M396.0 206.2h0M400.1 206.7h0M401.0 209.6h0M388.5 202.8h0M398.2 209.9h0M401.6 204.8h0M388.6 207.9h0M391.1 206.1h0M396.4 206.9h0M390.6 207.4h0M387.6 203.9h0M394.8 206.2h0M387.6 203.0h0M398.4 208.4h0M386.8 205.8h0M398.9 201.3h0M401.2 210.0h0M392.2 207.1h0M394.4 204.0h0M397.9 208.1h0M396.0 206.8h0M392.4 202.7h0M385.9 205.6h0M399.7 207.2h0M387.4 205.4h0M398.4 207.0h0M389.5 208.8h0M394.7 207.0h0M392.7 207.5h0M390.1 202.0h0M390.9 198.6h0M397.9 202.4h0M397.3 208.2h0M398.2 205.4h0M394.2 208.6h0M398.0 207.5h0M401.2 210.1h0M393.3 207.8h0M402.4 209.9h0M397.9 208.9h0M390.4 203.7h0M387.2 201.2h0M389.2 203.2h0M394.6 200.3h0M393.9 204.3h0M396.5 203.3h0M393.7 207.5h0M389.8 203.5h0M393.5 202.8h0M395.2 207.5h0M387.5 204.8h0M393.2 200.6h0M390.6 205.5h0M402.1 207.6h0M390.2 199.9h0M400.1 208.5h0M392.2 207.2h0M392.2 207.9h0M395.0 206.5h0M385.9 201.9h0M389.7 206.7h0M397.5 208.4h0M389.7 204.9h0M400.7 203.0h0M390.7 201.1h0M390.1 207.2h0M399.6 208.7h0M389.0 201.2h0M388.5 205.0h0M390.6 208.0h0M397.2 206.2h0M394.7 207.7h0M400.3 209.0h0M386.0 203.7h0M388.1 204.1h0M395.7 203.1h0M394.3 207.0h0M388.7 207.3h0M386.7 199.2h0M387.4 207.3h0M394.8 206.5h0M392.0 205.9h0M401.1 205.4h0M395.9 208.3h0M392.8 206.5h0M386.2 206.4h0M388.9 206.9h0M395.4 207.6h0M395.0 207.8h0M393.9 206.2h0M394.0 198.4h0M387.2 202.1h0M386.8 202.7h0M391.6 206.6h0M394.0 208.7h0M395.5 204.8h0M398.5 202.8h0M397.4 207.5h0M398.0 207.6h0M400.8 206.0h0M387.0 203.6h0M397.2 204.5h0M399.5 205.7h0M398.6 208.5h0M398.1 206.1h0M400.9 207.0h0M396.4 202.8h0M392.5 206.5h0M391.5 197.5h0M392.4 207.2h0M386.4 202.9h0M387.4 206.6h0M396.0 203.7h0M390.1 203.1h0M398.9 207.5h0M388.6 206.7h0M394.8 204.5h0M393.7 203.6h0M394.6 205.0h0M398.9 208.0h0M388.2 204.3h0M390.4 205.7h0M387.6 207.4h0M392.2 206.0h0M394.7 207.4h0M398.1 206.2h0M392.3 207.0h0M391.8 206.5h0M399.2 208.1h0M394.4 208.3h0M393.5 201.3h0M393.7 191.1h0M389.6 204.4h0M400.3 208.2h0M398.8 208.8h0M390.4 207.2h0M394.7 208.0h0M386.5 204.1h0M390.9 204.4h0M390.2 206.5h0M401.6 205.4h0M387.6 204.5h0M397.0 206.8h0M391.6 206.9h0M390.8 206.9h0M399.9 208.6h0M394.2 207.2h0M396.0 205.1h0M387.5 203.9h0M392.3 203.7h0M398.8 206.7h0M402.3 209.8h0M390.7 206.4h0M386.6 204.0h0M386.4 206.1h0M394.2 196.6h0M392.6 207.1h0M388.8 202.9h0M389.5 205.4h0M386.9 205.0h0M398.1 208.9h0M402.2 205.5h0M389.4 204.8h0M395.5 196.3h0M389.4 205.6h0M386.6 207.4h0M399.3 207.7h0M388.9 206.3h0M397.8 208.1h0M394.0 205.7h0M402.3 201.8h0M400.1 206.0h0M393.5 204.5h0M390.7 207.0h0M396.0 207.9h0M398.2 207.6h0M388.7 204.8h0M388.5 197.5h0M393.1 206.5h0M390.0 207.9h0M392.1 204.0h0M395.2 203.2h0M387.7 207.2h0M401.1 207.4h0M394.9 200.0h0M394.5 205.7h0M396.4 209.5h0M391.1 206.5h0M392.0 205.7h0M392.6 206.2h0M399.4 207.4h0M393.6 207.0h0M394.1 203.7h0M397.3 209.3h0M399.3 207.9h0M400.9 205.1h0M399.5 206.9h0M391.8 202.3h0M393.9 203.2h0M393.4 205.9h0M400.3 206.9h0M387.7 201.3h0M392.2 205.8h0M393.7 197.5h0M391.8 204.5h0M394.1 209.2h0M397.3 207.5h0M393.4 201.5h0M390.4 204.8h0M400.0 204.8h0M396.3 202.0h0M393.3 208.4h0M393.0 205.1h0M392.5 206.0h0M392.2 208.5h0M393.3 207.2h0M398.0 210.0h0M396.2 204.9h0M399.9 207.7h0M392.4 208.4h0M397.3 204.6h0M397.1 207.9h0M390.5 204.7h0M396.7 208.1h0M395.5 204.6h0M394.4 207.4h0M401.8 205.3h0M388.4 205.1h0M387.6 204.2h0M390.1 204.9h0M400.8 208.3h0M394.8 206.2h0M390.2 204.4h0M396.6 209.5h0M391.4 205.6h0M399.5 199.0h0M402.1 209.4h0M402.4 206.1h0M394.5 202.7h0M396.0 206.7h0M391.7 204.1h0M393.9 202.0h0M401.2 208.6h0M398.4 202.9h0M394.3 205.2h0M393.3 206.7h0M389.0 207.3h0M395.5 201.8h0M386.8 205.9h0M392.7 199.0h0M389.7 204.8h0M401.4 207.3h0M394.2 201.2h0M386.3 198.9h0M386.3 204.1h0M395.1 207.3h0M400.1 209.0h0M395.8 209.1h0M398.9 208.3h0M390.5 207.6h0M386.3 206.7h0M386.9 206.1h0M386.6 204.4h0M395.7 208.4h0M391.2 207.2h0M398.4 208.3h0M400.4 207.8h0M392.7 202.6h0M400.2 203.4h0M392.4 199.3h0M399.7 209.6h0M401.7 209.3h0M391.2 205.6h0M396.2 209.3h0M399.5 207.7h0M387.1 204.6h0M398.1 208.2h0M396.9 206.9h0M387.2 206.9h0M387.1 201.5h0M386.2 202.6h0M395.6 205.1h0M387.2 200.6h0M396.7 206.1h0M389.2 203.9h0M386.3 200.5h0M400.6 210.0h0M393.6 208.8h0M400.9 205.7h0M402.4 208.7h0M393.8 203.4h0M389.5 203.9h0M391.5 204.6h0M392.1 207.5h0M390.9 197.6h0M396.9 204.4h0M400.0 204.7h0M400.0 207.8h0M390.9 205.9h0M399.4 193.7h0M386.9 206.2h0M396.0 207.8h0M389.5 206.3h0M392.5 206.8h0M401.4 209.8h0M390.9 205.2h0M399.1 208.6h0M397.8 205.9h0M387.1 204.6h0M400.3 206.3h0M392.1 206.5h0M390.7 205.8h0M398.0 208.8h0M401.8 209.2h0M389.9 203.5h0M390.1 207.3h0M401.0 209.3h0M386.1 205.3h0M401.0 207.3h0M393.2 204.0h0M395.2 203.7h0M390.4 206.2h0M388.9 202.6h0M388.5 205.0h0M392.6 205.5h0M396.3 208.1h0M401.0 208.8h0M397.7 205.2h0M390.7 201.4h0M401.5 208.2h0M399.0 208.7h0M389.5 204.9h0M398.0 208.3h0M388.2 199.6h0M388.6 202.6h0M390.0 206.7h0M395.5 202.9h0M395.5 206.8h0M387.5 203.7h0M398.8 205.7h0M385.9 205.5h0M391.6 203.5h0M391.4 198.7h0M395.5 209.0h0M400.7 208.0h0M397.9 205.2h0M394.6 199.1h0M397.0 206.2h0M388.4 191.1h0M396.3 206.5h0M401.5 204.3h0M391.4 207.9h0M400.5 206.2h0M401.7 204.1h0M398.8 208.5h0M386.4 200.6h0M399.6 209.3h0M393.4 203.9h0M399.4 204.2h0M393.7 200.5h0M390.3 203.8h0M399.6 207.5h0M388.2 206.4h0M398.8 206.9h0M398.2 206.0h0M387.4 205.7h0M395.6 208.1h0M393.9 205.1h0M391.2 206.8h0M401.1 207.4h0M398.9 209.0h0M388.9 204.0h0M396.4 199.7h0M401.2 205.4h0M388.9 205.3h0M387.9 203.1h0M395.0 205.1h0M397.0 207.8h0M396.4 208.7h0M389.3 202.7h0M387.3 202.0h0M393.1 203.8h0M400.8 200.2h0M399.4 209.8h0M386.8 201.9h0M400.5 207.7h0M386.0 204.4h0M398.8 209.5h0M393.1 203.2h0M401.3 207.0h0M398.3 207.1h0M398.6 202.2h0M392.5 203.9h0M399.0 206.1h0M390.9 204.3h0M393.9 206.7h0M399.0 207.9h0M388.6 206.9h0M392.3 208.1h0M402.3 196.8h0M386.2 201.7h0M390.7 205.7h0M387.8 204.8h0M401.5 206.0h0M392.6 207.7h0M396.1 203.1h0M390.8 208.2h0M397.1 207.8h0M402.4 207.7h0M388.6 202.7h0M394.1 207.9h0M398.0 207.4h0M387.8 206.8h0M401.3 207.5h0M395.4 203.6h0M397.6 206.6h0M389.7 203.7h0M390.0 205.3h0M401.9 205.9h0M400.6 209.0h0M389.6 204.8h0M400.0 209.8h0M395.0 198.6h0M389.3 205.2h0M395.4 207.2h0M399.3 209.3h0M391.6 205.7h0M395.0 201.9h0M395.6 208.1h0M389.7 205.7h0M395.3 206.0h0M400.4 205.4h0M393.3 207.1h0M391.7 201.6h0M397.2 209.3h0M400.8 206.7h0M395.9 207.9h0M396.8 203.8h0M386.9 206.6h0M394.6 206.4h0M402.4 206.2h0M393.2 203.8h0M394.5 208.5h0M388.3 205.2h0M390.7 204.9h0M392.4 200.2h0M386.3 200.9h0M391.3 201.8h0M398.9 206.2h0M397.8 194.5h0M396.5 203.1h0M392.2 206.9h0M393.6 209.4h0M386.8 204.1h0M395.8 204.7h0M398.2 208.6h0M400.4 208.1h0M400.4 204.2h0M399.6 206.8h0M392.5 204.9h0M389.0 205.3h0M391.1 204.3h0M392.6 207.0h0M388.8 188.6h0M398.5 207.9h0M394.3 205.7h0M399.4 209.2h0M393.0 204.5h0M396.4 208.7h0M393.5 207.1h0M401.0 208.3h0M397.8 207.0h0M394.3 200.9h0M399.9 206.4h0M398.4 209.1h0M388.5 205.9h0M392.0 207.7h0M387.3 205.7h0M392.2 204.6h0M398.5 208.6h0M393.9 194.4h0M399.2 208.7h0M398.3 203.9h0M394.1 209.0h0M389.5 204.1h0M391.7 200.9h0M402.1 207.7h0M389.1 207.7h0M397.6 206.9h0M387.5 204.6h0M390.0 207.2h0M388.5 200.3h0M388.9 192.9h0M387.6 202.8h0M394.9 206.6h0M397.0 206.8h0M389.8 203.0h0M390.8 206.7h0M391.3 203.9h0M389.9 207.1h0M398.8 197.6h0M390.1 206.1h0M387.8 202.9h0M388.8 205.8h0M386.4 204.8h0M393.6 205.8h0M387.3 199.8h0M395.1 206.8h0M398.8 206.9h0M387.9 204.8h0M393.1 203.6h0M393.6 205.6h0M387.0 203.2h0M394.8 206.1h0M399.5 206.8h0M391.0 205.1h0M386.9 204.5h0M394.7 203.0h0M392.5 207.0h0M391.3 202.5h0M401.4 205.0h0M398.1 207.0h0M387.8 207.3h0M388.1 205.3h0M397.2 204.4h0M395.4 198.1h0M388.3 207.0h0M401.5 210.4h0M402.2 210.2h0M387.0 206.2h0M402.1 208.3h0M397.5 206.9h0M398.5 206.7h0M391.7 202.5h0M390.1 203.5h0M397.8 206.6h0M399.5 207.7h0M391.9 205.0h0M400.7 209.0h0M396.0 205.7h0M390.8 202.6h0M400.1 204.4h0M398.1 209.2h0M392.4 205.1h0M394.6 197.8h0M402.0 209.3h0M397.4 191.8h0M397.9 202.9h0M387.8 204.3h0M389.6 204.3h0M389.0 205.0h0M402.4 210.4h0M398.3 205.8h0M389.2 206.3h0M397.4 202.1h0M388.1 203.5h0M396.6 206.8h0M396.6 208.6h0M401.3 206.8h0M394.0 199.5h0M399.7 201.5h0M396.2 205.5h0M392.5 207.0h0M386.7 205.1h0M387.8 202.4h0M387.9 205.5h0M391.9 206.3h0M393.6 208.7h0M396.1 207.5h0M393.0 207.7h0M398.3 209.5h0M387.4 206.7h0M398.7 209.7h0M387.7 205.8h0M399.1 209.0h0M400.6 208.8h0M393.2 208.8h0M387.8 206.1h0M389.6 205.0h0M401.1 205.4h0M397.9 209.2h0M400.3 208.9h0M398.4 208.0h0M397.6 207.7h0M388.6 206.2h0M397.6 210.0h0M398.7 207.2h0M396.0 206.8h0M394.0 203.7h0M387.4 204.0h0M387.4 204.7h0M394.7 206.0h0M397.2 205.4h0M389.8 206.8h0M390.8 207.9h0M387.4 205.0h0M396.2 199.7h0M388.1 198.6h0M401.6 210.3h0M401.1 205.4h0M390.6 202.4h0M390.7 207.4h0M398.9 208.4h0M400.9 209.6h0M390.6 206.0h0M386.3 194.5h0M389.9 208.3h0M402.5 207.9h0M393.3 207.2h0M400.3 204.7h0M393.0 198.2h0M387.6 204.8h0M392.6 204.4h0M390.8 203.7h0M391.8 196.3h0M395.3 206.9h0M399.3 194.3h0M396.9 208.4h0M393.5 202.2h0M387.2 207.1h0M402.0 204.5h0M392.1 203.4h0M390.1 204.2h0M390.0 204.5h0M394.3 206.9h0M389.9 202.8h0M400.5 209.7h0M395.3 207.9h0M387.2 203.1h0M391.5 204.4h0M387.5 203.5h0M390.6 204.0h0M389.4 208.2h0M387.0 200.0h0M387.0 204.6h0M399.8 205.3h0M401.8 207.7h0M400.6 205.5h0M399.5 207.7h0M388.6 208.4h0M387.8 203.9h0M396.8 201.6h0M394.3 206.4h0M393.3 205.3h0M393.8 206.5h0M397.6 206.5h0M392.1 207.3h0M396.8 209.3h0M388.3 207.9h0M388.8 197.7h0M391.6 205.9h0M387.3 203.7h0M396.0 207.3h0M388.3 203.3h0M401.4 203.5h0M396.3 209.6h0M386.5 206.0h0M399.7 208.2h0M394.0 206.0h0M394.6 205.1h0M387.7 203.6h0M397.0 208.5h0M390.1 207.7h0M402.5 209.5h0M390.5 205.6h0M395.1 197.0h0M388.2 191.1h0M397.5 207.3h0M399.1 209.3h0M397.9 207.1h0M394.5 207.1h0M400.2 207.6h0M389.7 202.2h0M398.7 208.9h0M397.3 204.8h0M397.5 206.5h0M401.8 206.9h0M394.0 206.3h0M401.6 206.4h0M386.3 204.1h0M399.0 202.4h0M401.2 209.2h0M392.6 205.1h0M390.2 206.8h0M397.2 208.1h0M397.1 204.9h0M389.4 204.1h0M389.0 197.3h0M394.9 207.8h0M395.1 208.4h0M390.0 202.9h0M401.8 205.1h0M400.0 208.6h0M402.2 208.5h0M391.2 205.4h0M388.6 199.8h0M397.5 208.3h0M387.2 207.4h0M398.8 204.1h0M391.5 206.4h0M391.5 206.7h0M389.6 199.2h0M394.0 208.5h0M388.5 207.0h0M389.8 201.7h0M391.6 197.0h0M399.5 203.7h0M390.1 204.6h0M388.0 204.4h0M389.2 207.8h0M390.6 207.6h0M400.5 210.3h0M389.5 197.4h0M388.0 202.5h0M397.8 208.9h0M390.5 203.9h0M399.2 203.5h0M398.6 207.9h0M388.8 205.6h0M397.8 208.2h0M386.2 205.8h0M394.5 206.5h0M390.5 206.8h0M402.4 206.8h0M401.4 200.9h0M398.2 207.3h0M397.9 208.9h0M390.2 202.9h0M396.0 206.1h0M401.8 206.1h0M396.2 207.9h0M390.1 202.9h0M390.1 201.9h0M398.4 208.9h0M392.8 207.6h0M394.5 205.5h0M391.4 206.0h0M398.5 208.9h0M388.0 206.5h0M390.2 203.4h0M386.5 203.5h0M391.8 204.8h0M394.0 202.0h0M395.1 204.5h0M402.3 208.3h0M390.3 205.0h0M396.2 201.8h0M398.9 209.2h0M397.1 209.8h0M393.1 203.8h0M392.9 207.4h0M388.8 200.5h0M391.8 208.3h0M402.4 207.4h0M394.4 207.2h0M402.3 207.6h0M394.2 206.4h0M401.0 197.1h0M397.5 205.3h0M398.9 207.5h0M387.4 206.2h0M388.5 201.3h0M402.5 208.5h0M400.2 202.7h0M396.9 208.2h0M397.5 208.3h0M394.4 205.6h0M393.3 206.6h0M395.5 206.5h0M390.6 204.6h0M389.0 204.2h0M396.1 207.9h0M392.0 205.0h0M393.3 200.0h0M391.0 204.1h0M401.7 203.6h0M398.8 206.8h0M402.3 207.0h0M397.3 206.3h0M396.8 204.0h0M397.5 207.3h0M394.5 208.2h0M393.4 208.2h0M391.4 205.1h0M391.3 206.8h0M397.0 205.5h0M397.7 205.5h0M395.0 206.4h0M397.5 208.1h0M399.4 204.7h0M393.2 207.4h0M391.1 194.2h0M386.2 208.0h0M395.0 201.9h0M394.4 206.2h0M400.7 208.8h0M387.6 207.8h0M386.6 199.6h0M396.4 209.4h0M396.4 209.6h0M393.5 204.4h0M401.7 210.0h0M399.9 207.2h0M388.4 205.0h0M401.1 205.9h0M390.7 200.9h0M402.0 205.3h0M399.2 208.6h0M387.2 199.5h0M400.3 209.4h0M397.9 206.6h0M390.9 205.5h0M391.2 201.5h0M388.5 206.6h0M396.1 208.2h0M389.1 206.5h0M389.3 207.2h0M392.1 207.5h0M394.0 206.3h0M389.5 199.3h0M391.4 190.2h0M396.0 206.0h0M390.3 201.4h0M387.4 204.4h0M389.0 203.0h0M391.3 205.2h0M399.1 207.8h0M397.8 206.8h0M389.3 203.3h0M388.2 202.9h0M400.5 210.5h0M398.6 208.8h0M391.0 205.3h0M389.2 200.3h0M395.9 205.8h0M392.9 206.7h0M396.0 204.8h0M401.7 209.0h0M388.2 202.6h0M397.9 207.4h0M399.7 207.5h0M388.1 204.3h0M393.8 205.7h0M392.1 204.7h0M400.8 209.7h0M398.2 209.3h0M395.7 205.9h0M394.9 205.7h0M395.3 207.0h0M386.5 204.2h0M390.8 207.4h0M401.4 209.0h0M389.4 205.0h0M389.9 205.0h0M397.6 207.4h0M400.2 206.9h0M402.4 205.8h0M396.0 206.7h0M401.9 206.4h0M395.4 208.5h0M402.4 207.5h0M392.9 206.7h0M390.7 205.4h0M386.1 202.3h0M395.9 205.1h0M397.9 204.0h0M393.7 206.2h0M390.7 205.0h0M400.4 209.9h0M387.7 205.6h0M391.4 206.8h0M391.9 208.3h0M400.9 207.9h0M394.6 206.3h0M386.4 203.6h0M391.1 208.7h0M398.9 205.4h0M394.4 205.6h0M390.4 205.6h0M390.8 203.4h0M399.7 206.2h0M394.9 203.9h0M400.6 202.3h0M387.7 205.4h0M400.0 208.9h0M395.1 209.0h0M390.2 207.5h0M394.9 192.5h0M396.6 206.3h0M388.0 207.3h0M391.9 205.4h0M399.6 206.1h0M394.2 207.0h0M400.6 207.5h0M401.3 206.9h0M393.6 201.2h0M391.6 205.1h0M397.9 207.4h0M401.8 200.3h0M387.7 204.8h0M390.7 208.7h0M397.8 205.1h0M387.4 202.7h0M395.5 208.7h0M393.5 200.7h0M394.0 203.6h0M395.9 208.2h0M386.9 194.7h0M398.0 204.9h0M388.6 205.6h0M394.7 203.7h0M401.1 210.7h0M393.5 205.9h0M388.3 204.1h0M399.0 209.3h0M389.0 205.5h0M388.2 205.0h0M386.3 207.3h0M390.8 207.2h0M396.7 207.2h0M392.0 208.0h0M397.2 207.7h0M390.8 201.2h0M386.9 208.0h0M389.0 206.4h0M401.5 208.9h0M402.4 206.6h0M392.9 204.6h0M390.3 208.7h0M394.9 207.9h0M393.4 205.1h0M396.3 206.5h0M390.8 206.1h0M391.0 202.5h0M397.8 206.2h0M399.0 207.3h0M402.5 208.1h0M395.5 206.2h0M394.2 205.8h0M398.4 206.3h0M392.0 189.1h0M396.6 204.3h0M396.5 206.4h0M391.1 204.9h0M396.0 200.9h0M393.4 205.2h0M391.3 205.8h0M397.2 204.1h0M387.0 204.5h0M392.4 202.3h0M396.6 207.5h0M392.2 204.8h0M387.2 203.9h0M396.7 200.9h0M392.5 206.9h0M398.2 202.7h0M392.4 205.8h0M397.4 206.1h0M388.1 200.9h0M400.9 210.2h0M386.4 202.0h0M387.7 207.2h0M400.8 206.2h0M391.0 207.9h0M392.0 204.5h0M399.6 199.8h0M391.8 207.0h0M399.2 206.8h0M392.1 204.9h0M400.2 205.0h0M396.7 206.8h0M397.1 204.3h0M402.3 208.1h0M388.4 205.8h0M389.2 206.5h0M386.1 198.6h0M391.7 206.1h0M391.5 189.7h0M399.1 200.0h0M388.6 202.7h0M387.9 199.6h0M397.5 207.2h0M391.4 207.2h0M391.7 206.9h0M397.6 208.2h0M392.2 205.3h0M401.4 205.3h0M397.2 210.0h0M386.7 204.0h0M394.1 207.2h0M398.8 205.8h0M394.3 207.6h0M388.5 205.5h0M394.4 209.4h0M390.5 203.9h0M400.0 207.3h0M397.3 206.2h0M406.1 210.6h0M416.4 209.5h0M416.7 208.3h0M408.3 208.7h0M409.8 207.1h0M412.9 210.2h0M404.1 209.4h0M409.4 211.2h0M411.7 210.6h0M412.8 209.7h0M411.4 208.8h0M408.3 207.1h0M406.4 210.4h0M415.6 207.4h0M403.8 209.3h0M414.3 209.3h0M409.4 209.4h0M408.1 208.9h0M410.2 205.4h0M416.4 209.9h0M405.8 207.6h0M410.4 207.5h0M414.3 207.4h0M416.1 203.7h0M409.7 209.1h0M409.6 210.8h0M409.1 208.4h0M415.5 210.6h0M407.4 201.4h0M415.3 204.9h0M403.6 209.2h0M416.4 202.1h0M419.0 212.1h0M409.8 207.5h0M411.5 210.6h0M415.6 210.1h0M413.4 208.6h0M412.0 209.1h0M404.6 210.8h0M417.4 210.5h0M417.1 203.3h0M403.5 210.6h0M410.3 211.2h0M416.4 211.2h0M415.3 211.1h0M414.3 209.6h0M409.7 206.9h0M415.0 209.7h0M410.3 207.9h0M415.2 208.4h0M408.8 204.6h0M406.6 210.0h0M404.9 210.2h0M412.5 211.2h0M418.6 211.6h0M409.3 208.8h0M408.7 210.4h0M409.1 208.9h0M411.4 210.3h0M415.1 211.6h0M414.5 209.9h0M416.5 210.9h0M404.4 210.1h0M418.2 211.8h0M417.2 211.7h0M412.7 204.5h0M412.9 209.6h0M416.8 211.1h0M405.2 209.9h0M403.5 207.2h0M411.7 203.1h0M403.1 204.8h0M412.5 209.7h0M406.6 205.7h0M411.7 210.1h0M416.9 211.7h0M403.5 209.3h0M410.9 208.9h0M410.5 208.9h0M408.0 209.1h0M404.8 209.6h0M409.4 209.4h0M403.2 210.0h0M409.3 207.3h0M410.8 208.7h0M404.4 204.0h0M408.9 209.4h0M406.9 210.7h0M408.5 210.2h0M419.0 209.9h0M410.4 209.8h0M408.0 208.6h0M410.8 205.7h0M411.5 211.7h0M418.1 212.3h0M418.3 209.1h0M417.8 209.5h0M409.1 209.5h0M407.5 208.9h0M412.8 211.5h0M404.2 209.0h0M407.9 200.0h0M416.8 212.3h0M404.8 210.1h0M410.3 209.1h0M408.2 208.7h0M406.6 209.2h0M411.8 209.6h0M414.4 211.7h0M414.4 208.7h0M414.2 210.0h0M405.4 209.8h0M415.3 210.6h0M412.9 210.4h0M410.6 209.9h0M405.2 211.0h0M410.8 210.4h0M414.8 211.4h0M404.1 207.5h0M412.3 208.7h0M413.2 207.8h0M418.8 212.3h0M407.1 208.0h0M405.3 210.1h0M411.0 210.5h0M405.3 209.1h0M414.9 211.0h0M416.8 211.9h0M402.6 208.2h0M416.8 211.6h0M405.8 211.0h0M412.9 210.5h0M410.2 209.7h0M415.4 207.8h0M412.4 210.3h0M416.0 208.5h0M404.7 203.8h0M410.2 210.7h0M404.7 210.7h0M407.7 207.1h0M417.6 209.9h0M409.4 209.3h0M408.1 209.6h0M407.1 209.0h0M413.9 208.8h0M415.9 210.6h0M408.2 208.8h0M410.7 210.1h0M406.3 210.4h0M418.6 210.9h0M410.3 210.6h0M407.9 211.3h0M416.8 209.4h0M410.4 208.9h0M405.8 204.2h0M410.4 208.3h0M407.4 210.8h0M414.1 207.8h0M417.5 209.9h0M407.4 208.0h0M405.9 210.3h0M408.6 209.5h0M418.4 211.1h0M411.8 200.1h0M417.9 210.3h0M414.6 207.2h0M413.6 207.0h0M405.6 210.8h0M417.1 210.8h0M415.2 210.4h0M404.6 208.8h0M409.2 207.7h0M409.1 204.3h0M406.2 206.9h0M407.8 207.9h0M417.0 208.3h0M406.0 207.2h0M408.6 210.2h0M415.5 211.1h0M414.1 211.0h0M414.6 208.3h0M409.2 210.4h0M408.2 208.2h0M415.9 210.9h0M405.8 209.6h0M419.0 209.6h0M415.1 209.4h0M406.9 208.5h0M417.8 210.4h0M414.2 209.6h0M403.1 208.5h0M415.1 210.2h0M405.1 203.3h0M410.8 209.1h0M414.3 210.9h0M414.1 208.0h0M406.0 210.6h0M413.6 209.9h0M409.9 209.2h0M407.6 210.5h0M408.6 209.1h0M411.3 209.7h0M410.5 208.2h0M418.4 210.4h0M403.2 202.4h0M417.7 212.1h0M417.4 211.3h0M414.7 206.1h0M413.4 207.8h0M414.4 210.1h0M409.0 208.3h0M416.2 209.7h0M412.7 209.7h0M403.7 207.9h0M412.5 209.9h0M409.8 209.3h0M416.3 205.3h0M413.3 209.6h0M403.3 208.3h0M412.3 210.9h0M416.3 209.4h0M415.9 211.2h0M417.5 210.9h0M416.7 207.5h0M418.9 207.9h0M409.5 211.4h0M418.1 210.4h0M414.8 209.5h0M402.6 208.9h0M415.7 207.9h0M413.4 207.0h0M409.1 210.0h0M409.0 209.9h0M411.8 210.8h0M408.3 208.7h0M409.5 208.9h0M416.7 209.9h0M405.0 205.8h0M411.1 209.1h0M415.1 209.1h0M404.3 209.9h0M407.5 210.5h0M405.2 207.0h0M416.3 208.4h0M415.4 209.7h0M412.6 209.7h0M414.1 210.1h0M409.7 210.6h0M408.0 210.5h0M418.3 210.2h0M408.7 207.6h0M417.8 211.8h0M408.9 209.0h0M416.2 211.2h0M408.6 208.9h0M416.6 211.8h0M410.9 209.7h0M404.6 209.3h0M412.6 209.8h0M405.1 208.8h0M405.6 207.9h0M407.9 208.3h0M413.8 209.6h0M415.9 209.9h0M406.2 209.2h0M418.4 211.5h0M403.0 206.9h0M412.3 208.6h0M403.8 208.7h0M411.8 207.2h0M403.0 207.4h0M409.7 210.4h0M410.4 209.4h0M402.5 208.5h0M410.4 211.2h0M414.8 209.3h0M403.6 206.7h0M413.9 211.1h0M414.2 206.9h0M416.1 202.0h0M409.9 210.7h0M406.5 210.8h0M408.7 207.5h0M409.9 205.8h0M413.3 203.0h0M416.5 209.8h0M411.4 209.7h0M415.7 205.6h0M405.7 210.1h0M405.2 204.7h0M414.3 211.6h0M414.5 209.7h0M418.3 210.3h0M418.6 209.3h0M413.2 211.7h0M407.5 205.0h0M408.1 210.6h0M414.2 203.4h0M403.1 208.1h0M403.4 208.8h0M404.4 206.1h0M413.5 208.5h0M410.3 208.3h0M409.7 208.2h0M404.0 210.3h0M413.4 209.2h0M411.4 210.9h0M412.1 210.8h0M412.1 203.6h0M414.6 211.3h0M406.5 209.7h0M407.6 209.9h0M411.7 211.3h0M416.7 209.2h0M415.3 207.7h0M409.8 210.3h0M414.2 206.9h0M417.7 211.6h0M407.3 205.7h0M404.7 199.9h0M416.6 209.2h0M409.6 211.1h0M407.8 210.7h0M409.2 208.4h0M408.2 206.1h0M405.9 207.3h0M409.3 207.4h0M418.8 211.8h0M414.8 210.6h0M414.7 210.2h0M404.0 208.5h0M412.5 209.1h0M419.1 210.8h0M404.6 210.0h0M411.1 209.4h0M407.1 209.3h0M404.5 208.1h0M413.4 210.2h0M416.3 210.5h0M414.0 208.8h0M418.1 207.9h0M414.4 210.6h0M412.2 208.6h0M407.2 206.1h0M417.6 210.7h0M407.0 209.3h0M408.7 210.3h0M411.6 208.4h0M406.6 208.6h0M417.7 210.1h0M406.7 210.9h0M418.7 211.6h0M418.8 209.9h0M408.3 207.2h0M415.7 208.5h0M413.9 205.7h0M417.6 210.0h0M411.0 202.2h0M416.9 208.9h0M406.3 202.9h0M416.2 203.5h0M410.1 210.7h0M408.2 208.3h0M407.1 210.8h0M404.8 210.6h0M407.6 209.8h0M407.7 205.4h0M418.0 212.2h0M409.5 209.3h0M413.8 209.2h0M414.6 210.0h0M412.6 211.3h0M416.9 211.3h0M405.7 204.6h0M413.4 211.3h0M402.7 208.2h0M417.9 210.6h0M415.0 210.2h0M414.2 211.4h0M416.3 209.8h0M415.3 211.6h0M409.3 208.1h0M416.0 210.8h0M403.8 206.8h0M412.9 210.3h0M414.7 210.5h0M410.2 211.1h0M405.6 207.7h0M416.4 212.2h0M418.4 210.4h0M403.1 208.5h0M409.8 206.9h0M406.8 209.1h0M408.5 210.3h0M409.0 210.7h0M414.4 211.4h0M413.1 211.2h0M417.6 211.7h0M414.9 209.2h0M414.0 209.6h0M408.6 208.5h0M416.2 211.6h0M404.4 197.0h0M418.2 209.9h0M418.7 210.9h0M403.3 205.3h0M413.3 206.8h0M414.6 211.4h0M415.1 211.6h0M407.2 210.2h0M412.2 210.3h0M418.4 209.0h0M416.6 210.7h0M404.0 207.0h0M412.0 209.7h0M415.8 210.0h0M403.4 207.3h0M417.7 211.7h0M413.8 210.6h0M409.8 210.4h0M410.1 210.4h0M409.6 209.7h0M413.1 210.3h0M418.3 209.7h0M408.7 209.2h0M404.6 208.0h0M411.9 203.7h0M418.2 208.6h0M418.7 210.3h0M416.5 211.8h0M405.0 209.5h0M411.8 207.1h0M418.9 209.4h0M410.0 210.6h0M409.1 207.2h0M418.8 211.5h0M414.2 209.1h0M407.7 210.7h0M415.7 207.7h0M417.8 212.2h0M404.4 210.2h0M408.4 209.7h0M410.1 211.6h0M408.2 207.9h0M403.7 210.0h0M415.1 209.7h0M417.4 211.4h0M414.0 209.8h0M404.4 203.0h0M412.1 208.9h0M414.2 210.2h0M418.9 211.6h0M413.2 210.0h0M413.5 209.2h0M406.6 208.1h0M416.7 211.4h0M403.1 206.1h0M407.2 209.4h0M416.1 208.9h0M404.5 206.8h0M418.9 204.6h0M404.8 207.0h0M405.5 209.0h0M413.0 210.0h0M405.8 210.0h0M402.6 205.6h0M412.5 205.3h0M411.3 210.5h0M408.8 209.2h0M418.8 209.0h0M410.6 210.2h0M415.7 210.5h0M413.2 209.1h0M416.2 209.7h0M418.9 210.6h0M406.9 206.6h0M405.7 209.8h0M406.0 207.7h0M408.3 209.1h0M416.9 209.2h0M404.3 209.4h0M410.9 207.0h0M417.8 210.6h0M414.2 209.2h0M413.7 211.5h0M415.9 211.8h0M411.6 208.9h0M408.2 211.5h0M408.7 208.3h0M417.2 208.6h0M418.0 211.7h0M403.1 208.3h0M405.8 207.0h0M412.6 208.3h0M406.3 209.9h0M416.2 209.7h0M410.0 206.2h0M413.4 207.9h0M406.4 207.1h0M410.3 210.6h0M419.1 211.6h0M418.8 210.7h0M412.5 210.6h0M414.1 210.3h0M414.2 207.3h0M408.2 201.2h0M413.8 209.7h0M414.2 211.1h0M410.6 207.3h0M412.6 208.6h0M407.0 209.9h0M404.8 210.3h0M405.5 211.0h0M404.4 209.4h0M402.7 206.4h0M402.7 209.5h0M417.6 211.4h0M408.8 211.2h0M416.6 208.5h0M418.9 211.8h0M409.2 210.8h0M415.6 208.8h0M410.5 205.4h0M405.5 209.0h0M409.0 208.4h0M417.9 208.8h0M416.7 210.3h0M407.3 208.5h0M415.1 209.5h0M413.1 210.7h0M410.3 211.3h0M404.0 210.7h0M414.1 210.1h0M414.9 208.9h0M406.1 210.3h0M418.5 211.4h0M406.9 209.1h0M413.3 210.5h0M404.2 210.8h0M403.5 201.9h0M415.7 211.8h0M408.0 209.7h0M405.0 207.3h0M411.8 211.5h0M411.6 210.3h0M409.7 210.7h0M413.0 210.2h0M406.0 209.3h0M410.9 209.8h0M409.4 207.5h0M406.7 207.4h0M418.8 208.7h0M406.7 209.3h0M406.4 206.6h0M414.4 210.5h0M415.1 208.7h0M413.3 209.5h0M414.8 207.5h0M409.8 208.8h0M406.5 209.0h0M403.9 203.0h0M413.1 211.8h0M414.4 209.6h0M412.1 206.8h0M413.1 209.8h0M408.0 206.3h0M407.6 209.2h0M412.4 210.9h0M411.2 209.4h0M402.8 210.0h0M416.4 210.5h0M412.5 211.1h0M414.5 207.6h0M415.0 212.1h0M416.7 208.5h0M403.7 207.9h0M417.8 211.0h0M410.5 207.4h0M409.3 209.7h0M411.2 209.0h0M416.2 209.7h0M415.2 208.8h0M407.4 209.5h0M408.0 209.9h0M412.2 211.3h0M405.0 207.5h0M415.0 209.3h0M411.6 208.7h0M413.6 209.9h0M418.0 209.0h0M404.4 208.8h0M404.6 209.4h0M414.7 207.7h0M411.9 207.0h0M415.3 212.2h0M412.6 205.7h0M404.0 208.2h0M411.9 209.7h0M402.9 210.9h0M410.1 210.4h0M402.8 204.9h0M412.8 208.8h0M417.9 209.8h0M416.9 209.9h0M410.7 209.5h0M404.5 207.4h0M407.6 208.7h0M416.7 210.8h0M415.7 211.6h0M417.8 207.2h0M409.2 210.9h0M406.3 206.2h0M416.9 210.8h0M409.9 205.7h0M403.7 208.9h0M413.0 210.6h0M417.6 211.5h0M409.9 211.1h0M410.4 211.6h0M412.6 208.9h0M418.8 206.8h0M404.0 208.1h0M418.9 211.2h0M417.9 208.6h0M404.1 209.4h0M402.8 209.5h0M417.9 210.0h0M419.0 210.0h0M418.0 209.6h0M415.0 208.8h0M407.4 203.5h0M404.5 210.5h0M404.6 208.0h0M403.9 207.3h0M413.1 209.6h0M416.5 211.6h0M414.2 206.6h0M412.9 209.0h0M403.3 209.6h0M406.4 205.4h0M414.9 209.5h0M402.8 199.2h0M411.0 210.0h0M416.2 209.4h0M412.2 206.9h0M407.9 209.6h0M409.2 210.9h0M415.3 209.1h0M416.6 211.6h0M407.7 209.3h0M411.4 209.3h0M415.7 212.2h0M417.9 208.6h0M405.3 208.6h0M405.8 205.8h0M405.1 210.6h0M409.9 208.0h0M417.3 209.8h0M409.0 211.5h0M418.7 211.3h0M417.9 209.9h0M414.7 206.1h0M406.8 210.6h0M411.5 210.7h0M403.9 208.3h0M414.8 205.1h0M414.1 208.4h0M408.5 209.3h0M412.9 209.3h0M415.1 208.1h0M408.3 210.3h0M402.8 208.8h0M407.4 210.2h0M413.0 204.7h0M410.1 210.3h0M404.9 209.7h0M404.5 205.3h0M414.9 209.7h0M405.5 206.1h0M406.0 210.0h0M407.4 209.8h0M416.5 210.4h0M411.3 210.7h0M418.4 207.0h0M403.6 209.0h0M409.1 208.5h0M403.2 207.9h0M407.0 209.6h0M403.4 208.6h0M404.1 208.6h0M414.6 209.2h0M419.0 210.4h0M406.1 209.0h0M406.2 209.3h0M411.6 204.5h0M416.2 211.0h0M403.3 208.8h0M406.8 209.6h0M407.4 207.6h0M404.4 210.6h0M412.4 209.0h0M413.3 211.5h0M407.6 207.3h0M417.2 211.4h0M415.3 211.3h0M404.9 208.4h0M407.1 207.3h0M413.7 210.6h0M413.0 210.9h0M402.8 207.7h0M404.7 207.3h0M415.1 211.6h0M409.5 209.0h0M408.9 208.9h0M403.5 210.0h0M408.9 210.6h0M417.3 211.3h0M413.6 211.7h0M411.6 211.2h0M412.1 207.5h0M405.3 209.4h0M416.3 210.0h0M406.7 210.6h0M415.4 207.7h0M418.0 211.1h0M411.8 211.1h0M410.9 211.7h0M407.3 210.5h0M407.4 207.3h0M405.1 209.1h0M403.3 207.8h0M408.8 209.5h0M413.8 209.1h0M418.6 211.1h0M411.9 207.9h0M403.8 205.1h0M405.6 211.3h0M408.7 209.9h0M411.4 210.2h0M403.4 202.6h0M402.7 207.0h0M407.4 201.8h0M415.5 209.2h0M416.4 211.2h0M409.6 207.9h0M415.5 210.1h0M408.7 208.1h0M404.1 206.8h0M416.4 210.9h0M407.9 207.2h0M404.8 211.3h0M414.3 209.1h0M417.2 209.2h0M413.6 211.4h0M409.4 208.0h0M408.6 211.1h0M407.3 209.1h0M416.1 208.7h0M410.3 205.1h0M416.3 208.0h0M412.9 209.5h0M413.7 208.6h0M414.1 204.4h0M407.4 210.4h0M408.2 209.7h0M416.9 210.8h0M406.7 210.0h0M403.5 209.7h0M416.0 210.1h0M411.9 210.2h0M407.7 208.7h0M416.4 208.7h0M411.2 207.6h0M408.7 211.4h0M416.2 210.6h0M414.7 206.1h0M418.6 210.0h0M413.9 207.4h0M419.0 206.7h0M417.2 210.2h0M416.0 209.8h0M418.5 210.8h0M409.7 206.6h0M412.2 209.3h0M409.8 209.1h0M410.3 209.8h0M414.8 209.0h0M405.5 206.5h0M406.7 208.5h0M403.3 204.4h0M407.7 210.9h0M406.1 201.1h0M406.9 209.6h0M412.1 198.5h0M412.3 210.6h0M417.5 210.3h0M402.7 206.2h0M407.1 209.1h0M403.6 208.5h0M418.9 210.8h0M403.6 208.7h0M414.6 210.2h0M407.2 209.9h0M412.2 208.4h0M418.6 210.8h0M415.9 211.6h0M414.6 210.7h0M416.8 209.5h0M417.9 210.1h0M404.9 199.9h0M407.2 208.5h0M417.3 210.7h0M406.0 210.3h0M409.4 211.0h0M418.0 209.0h0M410.2 207.1h0M406.7 209.7h0M409.2 210.5h0M418.5 210.2h0M407.2 209.4h0M409.2 209.6h0M406.2 206.7h0M415.9 211.1h0M407.9 206.4h0M404.2 210.2h0M410.0 209.1h0M413.3 210.0h0M406.5 209.3h0M402.8 204.2h0M404.9 208.2h0M416.4 209.9h0M414.5 204.6h0M413.7 208.1h0M406.6 207.3h0M404.8 211.6h0M404.3 207.8h0M412.9 209.5h0M408.4 205.2h0M412.5 208.7h0M408.6 209.8h0M412.8 207.1h0M405.4 207.2h0M413.2 209.4h0M413.1 210.4h0M416.2 209.5h0M414.0 210.4h0M408.0 209.4h0M411.2 207.6h0M406.0 209.9h0M406.7 207.8h0M408.6 209.8h0M409.5 209.4h0M411.0 210.2h0M405.8 210.1h0M407.9 210.5h0M414.3 211.3h0M405.4 208.2h0M418.1 211.3h0M407.3 210.5h0M406.4 208.8h0M413.1 210.9h0M416.9 211.1h0M417.7 211.0h0M415.5 210.6h0M418.1 208.4h0M414.8 210.9h0M410.4 210.6h0M410.0 210.1h0M408.0 209.2h0M404.1 208.9h0M405.7 209.4h0M415.9 206.4h0M408.0 208.5h0M407.5 210.0h0M417.6 211.1h0M416.5 207.9h0M411.9 209.8h0M406.3 206.2h0M419.1 207.9h0M410.9 211.8h0M419.0 207.4h0M416.8 210.2h0M410.2 210.0h0M416.5 211.7h0M405.9 201.0h0M417.6 209.0h0M413.7 207.9h0M413.6 210.6h0M402.5 209.4h0M402.6 208.0h0M403.3 208.4h0M403.8 208.7h0M416.2 209.5h0M411.6 208.6h0M415.8 202.9h0M415.9 208.2h0M410.6 208.9h0M415.7 209.5h0M410.0 210.7h0M409.5 209.0h0M415.5 211.3h0M410.8 211.0h0M408.2 209.5h0M415.6 206.6h0M412.6 211.0h0M410.8 211.1h0M413.2 209.9h0M414.7 212.0h0M403.7 210.6h0M415.1 211.0h0M408.3 210.7h0M417.9 210.8h0M409.0 209.0h0M404.9 208.8h0M409.7 205.2h0M411.2 209.7h0M415.2 210.3h0M402.8 206.9h0M407.3 209.5h0M407.8 210.6h0M410.4 209.7h0M406.2 202.1h0M406.3 209.7h0M409.1 206.8h0M410.6 207.9h0M404.3 206.0h0M405.4 204.5h0M406.8 209.1h0M414.9 210.7h0M411.7 209.2h0M407.7 207.0h0M413.7 207.8h0M413.9 209.4h0M407.4 207.5h0M415.8 211.3h0M412.2 210.3h0M418.4 209.9h0M408.4 210.1h0M419.0 209.5h0M406.7 207.1h0M411.5 211.1h0M408.8 208.3h0M416.5 208.7h0M404.0 205.2h0M402.9 208.8h0M413.3 210.0h0M406.2 211.1h0M415.7 211.9h0M408.8 206.8h0M411.5 209.7h0M412.3 209.3h0M410.3 211.5h0M408.5 210.4h0M403.7 208.1h0M416.9 212.2h0M406.9 210.9h0M415.5 211.0h0M413.0 208.9h0M413.9 209.1h0M402.5 206.0h0M411.9 211.5h0M417.6 210.1h0M415.6 209.4h0M407.8 205.9h0M415.3 210.2h0M404.4 205.8h0M405.8 210.7h0M402.9 207.0h0M403.4 206.8h0M402.8 206.3h0M416.7 211.1h0M414.6 209.1h0M413.4 209.9h0M417.4 211.9h0M412.2 207.1h0M412.0 207.3h0M413.8 210.5h0M414.2 208.6h0M407.0 202.4h0M413.5 211.5h0M404.9 208.6h0M415.6 207.3h0M406.5 208.7h0M404.1 206.6h0M403.3 207.1h0M412.2 203.6h0M409.1 209.4h0M408.8 206.2h0M413.4 210.1h0M415.5 210.0h0M409.8 210.2h0M405.2 209.5h0M405.2 207.1h0M411.8 210.3h0M412.4 210.8h0M407.4 208.8h0M402.6 208.9h0M409.0 206.9h0M403.8 208.1h0M412.7 210.8h0M403.6 207.7h0M415.3 211.4h0M402.6 209.2h0M408.2 208.8h0M404.2 208.8h0M403.8 205.0h0M412.3 211.1h0M409.8 210.7h0M409.5 207.3h0M404.2 206.3h0M409.4 207.6h0M402.8 208.4h0M415.6 212.0h0M409.6 209.2h0M414.6 210.6h0M404.2 209.4h0M407.0 207.1h0M406.8 209.8h0M418.0 208.7h0M410.0 206.6h0M417.3 207.4h0M416.4 209.3h0M408.2 201.0h0M410.0 205.2h0M416.6 210.9h0M413.2 209.4h0M415.8 208.1h0M403.7 210.1h0M416.8 210.4h0M414.9 210.6h0M404.0 204.3h0M402.9 210.8h0M404.6 207.9h0M407.5 209.7h0M405.5 209.9h0M410.4 206.4h0M410.4 208.0h0M406.3 208.8h0M413.9 208.6h0M413.4 209.1h0M415.6 211.8h0M407.8 202.7h0M412.8 209.8h0M411.4 206.5h0M405.4 209.5h0M416.5 211.3h0M416.4 210.4h0M404.6 209.1h0M413.5 211.1h0M415.4 206.5h0M411.7 209.3h0M410.9 210.2h0M402.9 208.5h0M402.9 209.0h0M415.4 209.5h0M414.3 209.9h0M413.1 208.2h0M416.1 210.6h0M417.2 211.7h0M418.6 209.3h0M408.4 210.6h0M414.9 210.5h0M406.2 210.7h0M412.0 208.7h0M417.0 210.6h0M410.0 210.0h0M415.5 204.7h0M409.2 206.5h0M406.0 209.2h0M408.7 210.8h0M407.5 209.9h0M413.2 205.8h0M414.0 210.1h0M405.8 210.1h0M412.0 210.6h0M411.9 208.9h0M405.0 209.5h0M417.1 207.9h0M418.4 208.6h0M411.9 202.2h0M417.3 207.5h0M417.7 210.6h0M410.6 210.6h0M404.3 208.5h0M402.5 207.7h0M404.6 210.8h0M413.4 209.8h0M418.7 211.5h0M414.8 211.3h0M413.5 208.6h0M403.7 207.9h0M406.3 208.7h0M406.1 207.2h0M402.8 209.2h0M405.7 207.2h0M409.2 208.8h0M403.4 208.0h0M407.3 210.2h0M405.6 207.4h0M409.9 210.9h0M408.3 206.5h0M408.8 205.2h0M413.6 210.5h0M407.5 209.7h0M406.4 207.3h0M417.2 210.6h0M407.3 204.0h0M413.4 209.4h0M402.9 205.9h0M402.6 209.4h0M415.4 211.3h0M413.5 210.5h0M415.2 212.1h0M415.3 209.6h0M407.2 210.0h0M408.8 211.3h0M407.3 211.1h0M404.7 204.0h0M404.1 205.7h0M418.5 209.4h0M413.2 209.9h0M409.6 208.4h0M409.2 209.7h0M402.9 210.6h0M404.9 205.9h0M412.0 208.1h0M411.5 211.1h0M415.7 207.5h0M405.7 210.8h0M405.4 208.8h0M407.0 210.5h0M404.7 204.7h0M409.3 209.8h0M403.6 208.9h0M416.5 208.8h0M402.8 210.6h0M410.1 209.1h0M406.8 208.1h0M409.9 210.7h0M403.6 201.2h0M416.2 210.6h0M418.0 208.8h0M403.3 209.7h0M415.4 210.9h0M404.4 210.3h0M418.2 211.7h0M411.4 208.8h0M405.3 207.8h0M403.9 202.3h0M407.1 210.5h0M416.9 209.2h0M413.9 210.9h0M409.1 210.3h0M414.5 207.4h0M410.7 209.4h0M410.0 207.0h0M409.9 208.8h0M407.0 208.6h0M409.4 210.5h0M410.4 211.0h0M413.7 208.6h0M406.0 209.0h0M416.0 207.4h0M402.9 210.6h0M406.4 210.3h0M412.7 207.4h0M418.6 210.8h0M410.2 205.6h0M403.2 208.5h0M409.0 208.1h0M412.3 209.7h0M416.6 210.7h0M412.8 210.8h0M415.0 211.4h0M408.7 209.6h0M419.0 208.8h0M416.5 209.4h0M405.5 204.2h0M418.4 209.8h0M414.6 210.4h0M405.7 209.7h0M403.1 198.2h0M411.9 210.8h0M406.7 206.5h0M408.4 210.6h0M417.1 209.9h0M406.6 209.6h0M410.8 210.5h0M404.4 208.8h0M407.1 207.0h0M410.5 210.7h0M410.2 210.9h0M416.5 207.8h0M416.2 209.2h0M404.3 208.4h0M404.6 206.9h0M410.2 211.0h0M412.8 209.6h0M414.4 208.6h0M405.0 208.5h0M417.9 209.2h0M406.8 209.6h0M403.6 207.1h0M417.2 210.0h0M417.7 211.5h0M409.5 210.3h0M408.6 210.3h0M407.4 204.6h0M413.6 207.6h0M417.1 209.0h0M408.0 211.2h0M409.8 208.9h0M405.9 208.6h0M412.2 204.2h0M415.0 209.7h0M416.6 207.6h0M414.4 210.9h0M407.5 208.8h0M406.4 207.2h0M414.4 210.7h0M418.4 211.5h0M404.8 206.2h0M410.1 208.1h0M408.5 209.3h0M412.2 209.0h0M404.5 210.7h0M406.1 206.6h0M409.8 209.8h0M416.5 210.4h0M405.8 206.9h0M408.2 205.6h0M414.4 209.9h0M412.2 209.1h0M403.5 210.0h0M416.1 204.8h0M416.9 210.7h0M415.1 209.1h0M417.9 210.6h0M417.2 211.3h0M412.5 210.2h0M406.2 208.3h0M410.2 209.2h0M418.9 208.2h0M414.0 210.2h0M410.8 209.1h0M406.1 208.4h0M408.6 209.7h0M406.1 208.6h0M405.7 209.8h0M404.8 207.0h0M414.4 209.5h0M414.8 206.4h0M414.7 209.7h0M410.4 201.9h0M406.0 210.8h0M410.6 207.7h0M406.5 210.7h0M404.0 206.2h0M403.7 205.7h0M415.5 209.0h0M402.6 208.9h0M408.8 209.0h0M408.7 206.5h0M412.3 209.8h0M405.2 207.4h0M408.2 208.0h0M412.1 210.3h0M406.9 208.9h0M411.4 210.6h0M416.0 210.7h0M407.5 210.7h0M417.3 211.8h0M411.6 210.5h0M415.1 209.9h0M417.7 210.2h0M404.6 208.1h0M406.4 208.3h0M405.5 207.4h0M406.5 209.5h0M406.2 205.6h0M411.3 209.6h0M403.4 208.9h0M413.8 211.2h0M415.4 211.7h0M418.6 209.5h0M412.7 208.4h0M412.0 210.4h0M406.9 211.1h0M405.3 208.6h0M403.4 208.5h0M409.3 207.0h0M414.7 207.3h0M417.1 203.9h0M415.5 204.4h0M409.9 206.2h0M416.1 211.2h0M412.4 210.6h0M411.1 207.9h0M415.1 207.6h0M404.2 208.2h0M410.1 209.3h0M410.6 210.5h0M402.6 208.9h0M409.1 206.4h0M418.0 210.8h0M415.7 209.8h0M415.2 211.3h0M412.8 207.6h0M403.4 205.3h0M412.9 208.7h0M415.6 210.2h0M415.6 211.1h0M412.1 204.0h0M412.7 210.1h0M407.0 208.0h0M412.7 209.8h0M413.4 210.4h0M403.2 209.2h0M416.5 207.7h0M404.6 208.7h0M414.9 208.8h0M414.4 206.5h0M411.9 207.7h0M406.8 209.0h0M417.1 210.2h0M414.8 209.7h0M411.1 209.1h0M406.8 204.8h0M415.9 211.3h0M418.1 208.8h0M412.6 209.9h0M413.2 209.6h0M405.2 208.8h0M410.5 204.1h0M415.9 210.1h0M410.0 208.8h0M418.0 210.6h0M418.8 210.1h0M403.6 206.7h0M411.2 210.0h0M413.0 211.1h0M410.6 209.3h0M404.3 209.8h0M414.1 211.8h0M412.8 205.9h0M414.6 209.8h0M408.8 206.3h0M412.4 210.9h0M403.8 208.6h0M402.7 200.5h0M410.0 210.4h0M410.1 210.0h0M409.9 209.0h0M409.1 210.8h0M418.8 209.7h0M412.1 209.4h0M411.1 209.9h0M408.8 210.4h0M406.6 210.9h0M406.9 205.4h0M408.2 208.8h0M417.4 211.1h0M418.8 211.3h0M408.3 209.6h0M416.8 210.6h0M409.7 209.2h0M409.2 207.9h0M413.2 209.8h0M413.6 210.2h0M406.3 208.8h0M417.8 209.2h0M406.3 208.4h0M403.0 207.9h0M416.1 210.3h0M416.2 210.4h0M414.2 209.2h0M404.7 208.1h0M418.8 211.2h0M403.4 209.4h0M405.5 210.7h0M431.5 210.6h0M423.5 206.0h0M428.3 211.7h0M427.3 211.2h0M422.5 210.9h0M424.3 211.7h0M430.9 213.5h0M430.0 208.2h0M429.0 212.4h0M432.4 212.7h0M431.5 212.5h0M430.3 213.3h0M431.7 211.9h0M423.7 209.2h0M434.2 207.9h0M422.4 211.3h0M419.9 210.5h0M425.7 211.3h0M419.3 210.3h0M428.5 212.1h0M431.6 207.7h0M435.2 211.8h0M424.7 208.6h0M420.7 211.2h0M427.8 210.1h0M422.6 208.5h0M422.5 211.9h0M419.7 210.3h0M425.0 212.0h0M421.0 207.6h0M420.9 211.3h0M424.9 206.9h0M423.6 211.7h0M422.2 210.0h0M419.8 209.9h0M433.4 211.1h0M425.7 211.8h0M419.7 209.5h0M431.2 211.8h0M432.9 212.3h0M424.9 211.8h0M432.8 212.6h0M431.3 211.2h0M424.2 206.5h0M434.6 211.2h0M435.2 210.1h0M425.5 211.2h0M432.3 211.9h0M433.1 212.4h0M426.2 212.0h0M430.8 211.7h0M425.8 210.9h0M427.3 211.3h0M434.8 212.5h0M422.6 211.7h0M419.4 204.4h0M420.8 210.0h0M429.5 209.9h0M427.8 212.0h0M424.1 212.2h0M435.8 211.3h0M431.1 212.1h0M421.4 211.7h0M422.6 210.6h0M428.6 212.7h0M421.5 210.0h0M430.6 211.7h0M423.8 211.8h0M433.8 212.6h0M429.8 211.3h0M423.4 210.6h0M419.8 210.9h0M428.1 211.4h0M424.4 211.2h0M421.3 211.4h0M421.2 212.2h0M426.1 209.9h0M432.8 211.6h0M434.4 209.6h0M420.6 212.0h0M422.9 211.3h0M423.1 212.9h0M419.9 211.9h0M427.1 210.1h0M435.2 212.3h0M430.1 211.9h0M427.9 211.0h0M425.1 211.2h0M421.4 210.7h0M433.6 211.5h0M435.8 210.2h0M425.5 209.4h0M420.3 210.3h0M422.2 211.1h0M422.2 211.8h0M423.6 210.5h0M421.1 211.3h0M419.2 206.5h0M426.7 212.2h0M433.1 210.1h0M423.1 210.7h0M435.7 210.6h0M423.3 210.6h0M435.7 213.0h0M426.2 212.8h0M431.9 211.1h0M421.7 209.9h0M421.8 210.8h0M432.2 213.2h0M427.4 212.4h0M425.8 211.8h0M432.8 210.5h0M420.0 209.8h0M427.4 212.2h0M427.9 211.1h0M424.7 201.7h0M419.9 209.9h0M426.8 210.5h0M434.2 206.0h0M419.2 212.3h0M427.2 211.1h0M424.1 210.6h0M433.6 211.5h0M432.0 210.8h0M426.7 207.0h0M435.2 213.1h0M423.7 210.8h0M435.2 211.9h0M420.0 212.3h0M434.5 209.6h0M428.5 209.9h0M427.1 209.8h0M432.8 210.7h0M423.5 212.0h0M424.8 208.7h0M428.5 213.1h0M421.3 212.0h0M420.8 210.8h0M435.1 211.6h0M431.9 212.7h0M425.9 211.1h0M434.4 212.7h0M426.6 209.6h0M421.8 209.7h0M424.8 210.3h0M422.8 209.4h0M431.0 213.0h0M435.0 212.2h0M430.7 212.7h0M420.1 210.5h0M423.7 210.3h0M424.8 211.3h0M422.6 211.2h0M420.7 211.7h0M425.4 211.4h0M434.2 212.8h0M423.3 211.3h0M432.6 208.4h0M433.2 212.4h0M428.1 204.3h0M422.9 205.1h0M428.6 212.3h0M431.3 212.1h0M435.7 210.4h0M421.1 212.0h0M425.1 206.3h0M433.9 211.5h0M433.5 212.0h0M435.8 212.0h0M430.5 211.8h0M424.9 212.0h0M427.2 211.3h0M423.1 209.1h0M431.0 212.8h0M427.2 205.1h0M435.5 210.6h0M424.5 211.2h0M427.1 210.6h0M433.2 212.2h0M430.3 211.5h0M428.8 209.0h0M428.3 211.6h0M421.7 207.8h0M422.6 206.5h0M434.7 212.9h0M433.9 211.0h0M428.8 211.9h0M424.0 209.7h0M421.6 211.6h0M425.0 211.3h0M422.3 211.0h0M426.9 210.4h0M422.8 211.7h0M428.9 211.2h0M434.7 209.2h0M422.0 211.1h0M420.8 207.1h0M430.5 212.7h0M424.2 212.3h0M435.7 211.9h0M424.7 207.5h0M433.5 212.8h0M423.8 209.9h0M434.7 212.6h0M429.5 212.1h0M429.8 211.4h0M425.6 212.8h0M429.7 212.1h0M421.2 212.7h0M422.6 212.1h0M419.7 211.2h0M433.1 211.4h0M421.3 211.1h0M431.1 211.4h0M422.8 209.9h0M432.2 210.4h0M427.7 207.7h0M419.3 211.1h0M430.9 209.4h0M427.3 201.8h0M433.5 211.7h0M420.5 211.4h0M435.2 212.7h0M432.5 208.8h0M431.8 212.9h0M421.8 210.0h0M425.4 208.8h0M423.6 210.8h0M429.5 205.5h0M434.8 211.2h0M427.6 211.2h0M435.6 210.8h0M419.2 209.9h0M432.9 211.3h0M430.1 212.5h0M423.4 210.9h0M425.1 210.8h0M433.3 209.4h0M421.8 210.8h0M424.6 212.5h0M431.1 211.2h0M424.9 211.5h0M428.2 211.9h0M432.6 210.7h0M426.8 212.1h0M429.7 212.3h0M430.0 210.2h0M431.1 211.7h0M430.2 212.6h0M424.5 210.1h0M425.0 210.7h0M423.8 211.8h0M433.5 212.0h0M428.5 211.6h0M435.8 211.3h0M434.8 212.8h0M426.3 211.3h0M425.9 211.4h0M422.2 210.7h0M426.9 212.0h0M432.7 212.5h0M429.9 212.9h0M433.9 211.3h0M429.1 212.4h0M419.2 210.8h0M430.0 211.5h0M426.3 211.6h0M430.2 212.5h0M419.9 212.5h0M432.9 212.3h0M427.1 209.1h0M431.0 211.5h0M428.2 211.3h0M429.9 211.5h0M427.6 209.6h0M423.4 207.3h0M419.2 210.9h0M430.9 208.4h0M421.5 206.1h0M425.3 212.7h0M429.1 208.6h0M426.9 211.9h0M422.2 211.4h0M421.7 206.7h0M432.6 211.0h0M419.7 210.6h0M426.1 211.3h0M425.7 208.8h0M432.7 210.5h0M422.9 211.2h0M426.1 211.0h0M427.3 211.5h0M426.0 212.3h0M425.5 204.5h0M419.3 210.5h0M433.9 211.1h0M427.7 210.9h0M428.5 210.8h0M420.4 210.5h0M434.2 212.2h0M432.1 210.5h0M425.8 208.9h0M429.3 210.3h0M421.2 209.4h0M432.6 213.1h0M427.0 209.8h0M428.0 212.1h0M421.2 211.0h0M423.8 210.3h0M425.4 212.5h0M427.5 212.8h0M429.6 210.2h0M431.7 211.6h0M422.4 210.4h0M428.8 211.4h0M428.7 211.0h0M425.9 212.6h0M433.9 212.0h0M423.3 210.8h0M419.3 210.8h0M431.7 211.5h0M430.1 210.9h0M427.6 211.9h0M423.4 210.6h0M421.1 211.9h0M435.4 210.8h0M428.4 211.3h0M422.8 210.0h0M425.3 208.5h0M432.4 209.3h0M427.7 211.3h0M422.3 210.8h0M423.6 210.5h0M431.6 212.1h0M432.2 211.4h0M429.2 210.1h0M423.5 209.7h0M430.0 211.0h0M419.5 211.6h0M419.6 208.7h0M419.6 211.2h0M433.8 212.5h0M419.4 211.5h0M426.3 210.7h0M426.9 212.6h0M431.3 209.4h0M420.5 208.2h0M426.1 211.2h0M423.0 208.1h0M420.6 211.9h0M432.4 212.4h0M429.2 211.4h0M425.1 209.8h0M432.6 211.3h0M423.8 211.3h0M421.2 210.9h0M425.4 209.9h0M423.3 210.3h0M423.4 209.7h0M421.6 211.4h0M435.6 211.3h0M420.4 210.1h0M431.4 212.0h0M431.5 212.0h0M430.9 212.4h0M433.1 212.2h0M423.2 212.4h0M426.1 212.3h0M434.7 212.2h0M420.7 209.2h0M420.2 208.8h0M433.3 212.7h0M427.6 212.5h0M433.9 211.0h0M424.3 212.2h0M425.0 211.9h0M419.3 211.3h0M419.6 209.9h0M429.2 212.2h0M425.1 209.8h0M430.6 211.8h0M420.9 210.6h0M424.7 211.0h0M429.6 210.6h0M434.7 212.7h0M420.6 211.7h0M430.3 210.9h0M421.1 210.9h0M430.5 210.8h0M422.2 211.9h0M424.4 210.5h0M435.2 213.3h0M421.6 210.4h0M422.4 211.5h0M431.8 212.0h0M434.4 212.1h0M420.4 210.8h0M419.9 211.3h0M435.7 213.0h0M422.3 206.3h0M430.5 209.0h0M424.9 211.8h0M435.3 211.7h0M431.1 212.8h0M434.1 207.6h0M432.6 210.3h0M424.8 210.8h0M433.0 213.1h0M426.5 211.2h0M421.2 211.4h0M429.3 212.0h0M423.9 208.9h0M421.2 212.2h0M419.7 211.1h0M434.0 207.9h0M430.9 209.9h0M420.3 208.2h0M420.3 208.0h0M419.2 209.9h0M432.2 212.0h0M429.3 209.5h0M428.1 210.8h0M433.3 212.1h0M421.4 208.4h0M427.1 211.6h0M432.2 211.9h0M428.3 212.0h0M422.2 210.7h0M425.0 211.3h0M433.5 207.5h0M434.0 211.0h0M421.2 211.2h0M430.9 212.5h0M435.5 211.4h0M431.0 212.8h0M425.9 211.3h0M423.7 210.0h0M433.9 211.3h0M431.6 210.9h0M420.5 211.6h0M424.4 212.4h0M434.7 209.5h0M424.6 212.2h0M420.3 211.9h0M426.3 211.3h0M428.8 208.7h0M429.1 208.9h0M425.9 210.6h0M425.1 211.7h0M429.3 212.1h0M424.3 210.9h0M419.8 211.1h0M425.5 211.2h0M426.2 210.5h0M435.4 212.4h0M422.5 212.1h0M419.9 208.9h0M422.9 209.7h0M421.0 208.0h0M431.2 210.9h0M423.3 211.2h0M423.8 210.2h0M428.3 209.4h0M420.7 211.5h0M423.2 210.5h0M431.5 211.2h0M424.4 212.5h0M419.8 209.5h0M424.5 210.5h0M431.2 212.9h0M433.1 212.4h0M427.8 211.7h0M424.0 211.8h0M426.9 211.4h0M421.9 211.6h0M422.4 205.6h0M424.8 211.8h0M433.3 212.7h0M422.0 211.5h0M425.3 211.0h0M433.5 212.9h0M429.1 210.5h0M429.7 208.2h0M429.9 209.8h0M423.8 210.3h0M422.6 212.3h0M434.7 212.4h0M428.5 211.9h0M422.5 210.1h0M425.8 212.8h0M431.4 212.2h0M421.8 211.2h0M430.9 211.8h0M430.4 212.6h0M431.5 211.8h0M419.3 208.9h0M431.5 211.5h0M433.0 213.2h0M427.7 211.6h0M430.0 212.0h0M434.5 211.5h0M424.3 212.2h0M434.5 211.9h0M432.7 212.8h0M431.3 212.4h0M424.8 212.3h0M432.6 212.8h0M425.7 211.8h0M429.6 212.8h0M428.8 208.0h0M424.9 211.3h0M426.2 211.1h0M423.2 208.6h0M425.1 209.6h0M425.9 212.5h0M426.6 208.8h0M423.3 212.3h0M433.9 212.7h0M430.7 211.5h0M429.7 210.7h0M419.3 209.1h0M428.6 210.2h0M424.6 212.4h0M420.7 209.8h0M430.6 212.6h0M433.3 211.9h0M426.5 212.2h0M434.2 212.1h0M421.7 210.8h0M429.3 211.2h0M421.7 211.5h0M420.8 209.4h0M435.4 213.3h0M421.9 210.9h0M422.3 208.6h0M420.0 205.9h0M420.8 207.1h0M432.0 211.1h0M431.0 212.2h0M428.4 212.0h0M423.1 207.0h0M425.4 210.8h0M425.3 209.0h0M432.3 211.3h0M432.8 212.6h0M424.5 212.0h0M435.3 211.4h0M421.4 208.4h0M426.9 212.2h0M427.7 207.4h0M427.7 210.1h0M423.8 209.3h0M423.6 208.0h0M419.7 210.1h0M425.5 211.1h0M435.3 212.4h0M427.9 209.6h0M422.2 206.1h0M431.1 211.9h0M431.8 212.4h0M434.8 212.6h0M432.0 212.6h0M421.9 206.9h0M422.2 210.4h0M426.9 209.4h0M421.0 208.8h0M429.6 206.4h0M428.4 210.1h0M423.6 212.5h0M423.9 211.1h0M427.1 208.3h0M422.1 211.3h0M435.7 213.3h0M428.4 211.8h0M432.4 211.2h0M424.4 210.3h0M432.4 212.9h0M423.0 209.5h0M427.3 210.6h0M427.7 212.8h0M434.9 210.6h0M423.7 210.3h0M423.4 212.1h0M425.4 209.7h0M428.0 210.9h0M429.4 211.0h0M433.0 212.6h0M419.6 211.3h0M420.5 209.0h0M428.0 210.7h0M421.6 211.7h0M427.1 211.1h0M423.7 210.2h0M419.5 209.5h0M432.5 212.1h0M428.0 209.0h0M427.5 212.1h0M423.9 210.9h0M434.4 213.0h0M421.1 209.9h0M423.6 209.1h0M420.8 209.2h0M422.4 212.1h0M430.5 209.3h0M432.0 213.0h0M428.8 212.2h0M421.9 211.0h0M426.0 212.5h0M435.0 212.9h0M428.2 212.0h0M434.8 211.5h0M421.0 209.9h0M430.7 206.8h0M435.6 212.8h0M424.5 209.7h0M434.8 213.2h0M421.0 211.0h0M419.2 211.7h0M420.9 207.3h0M425.7 210.5h0M432.5 210.4h0M422.6 211.8h0M425.7 212.5h0M419.9 211.4h0M427.2 213.1h0M426.9 210.5h0M425.3 210.8h0M431.4 210.9h0M432.7 211.6h0M426.5 208.9h0M428.4 211.7h0M434.2 211.9h0M421.2 210.8h0M433.0 211.3h0M433.5 212.8h0M432.7 210.4h0M427.9 212.4h0M426.2 211.4h0M431.9 213.3h0M426.8 210.7h0M430.7 212.3h0M433.9 211.6h0M430.3 210.6h0M423.4 212.5h0M433.3 211.8h0M425.0 210.9h0M432.1 211.8h0M421.2 210.8h0M422.4 207.3h0M431.9 212.5h0M421.3 211.4h0M427.4 210.5h0M426.4 211.1h0M434.2 210.2h0M431.8 211.0h0M420.7 209.9h0M419.8 209.3h0M430.8 211.5h0M428.4 207.1h0M433.0 211.7h0M426.0 210.5h0M434.7 213.0h0M427.3 212.9h0M426.4 211.5h0M427.7 211.7h0M421.5 211.7h0M428.2 209.9h0M427.5 209.1h0M421.4 211.9h0M422.4 204.3h0M433.5 213.5h0M429.6 210.5h0M419.5 210.6h0M429.8 210.3h0M430.9 210.2h0M435.5 210.0h0M432.4 211.4h0M423.4 210.8h0M435.3 213.0h0M424.2 207.5h0M434.6 211.2h0M430.9 212.0h0M428.8 212.5h0M430.6 212.7h0M428.2 212.1h0M435.7 212.6h0M423.6 210.2h0M424.9 211.8h0M435.7 213.2h0M425.3 212.2h0M431.1 211.8h0M425.7 208.7h0M424.6 209.1h0M431.9 212.9h0M423.8 209.2h0M427.8 211.6h0M428.3 210.4h0M421.5 208.1h0M426.6 211.2h0M423.4 210.3h0M427.9 211.7h0M420.6 207.6h0M427.1 211.4h0M419.7 211.6h0M433.2 210.8h0M433.4 211.7h0M428.3 212.2h0M435.1 211.2h0M424.2 210.5h0M430.5 211.3h0M424.3 210.7h0M422.9 211.2h0M425.7 208.5h0M428.0 210.0h0M424.6 210.8h0M432.2 212.3h0M422.2 210.4h0M423.5 211.0h0M427.7 211.9h0M431.7 210.5h0M433.8 208.6h0M434.2 211.3h0M425.5 210.5h0M433.3 207.7h0M424.5 212.4h0M424.1 211.1h0M426.5 209.7h0M435.1 209.8h0M424.3 203.8h0M428.4 206.3h0M432.6 212.7h0M434.3 212.1h0M427.3 210.4h0M434.9 212.6h0M435.3 210.0h0M429.1 208.7h0M423.2 211.4h0M432.7 209.1h0M424.8 210.7h0M433.7 213.2h0M425.9 210.1h0M432.4 211.2h0M422.6 209.0h0M421.8 211.3h0M431.4 212.4h0M432.1 211.0h0M434.6 210.6h0M435.4 209.3h0M435.4 212.5h0M422.4 209.3h0M420.4 210.2h0M431.4 211.6h0M429.5 208.9h0M434.3 212.2h0M432.1 210.7h0M424.0 210.2h0M428.9 211.6h0M429.7 212.1h0M432.2 211.8h0M432.6 209.6h0M423.3 212.2h0M428.9 208.5h0M424.6 209.7h0M420.1 210.0h0M429.8 212.7h0M426.6 212.4h0M419.3 210.4h0M433.9 210.9h0M422.0 211.9h0M419.5 209.9h0M423.7 208.9h0M433.7 211.3h0M433.2 211.9h0M435.5 209.5h0M430.6 209.6h0M420.1 211.9h0M420.5 209.6h0M430.4 207.7h0M424.4 209.0h0M433.2 211.3h0M431.5 211.8h0M424.5 212.4h0M433.4 212.4h0M434.6 210.9h0M429.0 206.4h0M433.6 210.1h0M428.3 212.7h0M428.8 212.0h0M428.5 211.0h0M431.5 208.1h0M422.0 209.7h0M428.8 211.7h0M434.3 211.8h0M428.8 211.0h0M420.7 210.3h0M422.1 209.7h0M422.8 209.2h0M430.3 208.5h0M427.7 210.3h0M423.5 209.9h0M434.9 212.4h0M429.4 209.9h0M426.5 210.2h0M427.3 211.7h0M433.5 212.2h0M425.4 208.2h0M427.7 210.9h0M431.7 210.4h0M425.9 211.7h0M434.1 209.3h0M422.1 208.1h0M424.2 211.7h0M421.3 210.5h0M426.2 210.3h0M429.0 211.5h0M422.6 212.1h0M420.8 211.2h0M428.2 211.0h0M420.0 209.1h0M434.0 210.8h0M427.3 210.2h0M425.0 211.7h0M429.7 212.4h0M424.1 211.7h0M420.5 211.6h0M421.5 211.8h0M422.2 209.9h0M425.0 208.6h0M421.4 208.1h0M434.6 212.1h0M419.3 208.0h0M432.3 213.1h0M427.0 211.0h0M424.1 209.8h0M431.9 211.8h0M435.3 212.8h0M431.0 212.8h0M421.9 210.7h0M428.7 212.9h0M424.5 211.7h0M429.0 206.4h0M426.8 212.3h0M421.1 211.9h0M431.0 212.6h0M421.7 209.5h0M421.0 210.7h0M432.0 211.0h0M420.8 209.7h0M420.2 212.6h0M428.9 211.6h0M420.3 210.9h0M430.3 212.2h0M429.9 210.4h0M428.0 212.1h0M424.4 211.1h0M420.4 210.9h0M426.9 211.5h0M427.8 212.4h0M434.7 213.0h0M422.6 208.6h0M420.2 208.3h0M421.6 211.0h0M424.5 211.7h0M434.7 210.4h0M419.4 202.6h0M430.1 211.1h0M424.1 210.6h0M431.3 211.1h0M424.6 210.7h0M424.2 212.3h0M425.6 211.8h0M426.4 211.8h0M421.9 206.6h0M434.4 212.6h0M428.1 211.5h0M424.8 210.8h0M425.6 210.1h0M435.0 212.3h0M434.1 209.9h0M435.8 210.1h0M434.5 213.0h0M434.4 213.0h0M426.2 205.9h0M432.9 212.6h0M431.7 210.6h0M431.9 211.9h0M429.7 210.0h0M435.4 213.3h0M427.1 212.2h0M423.9 211.8h0M421.8 210.2h0M434.0 211.6h0M427.0 203.2h0M428.8 213.0h0M425.1 212.5h0M422.1 211.4h0M420.7 209.1h0M422.8 210.1h0M428.3 209.0h0M434.7 212.9h0M431.7 211.0h0M421.9 208.4h0M425.5 210.8h0M429.8 213.0h0M430.8 211.5h0M426.8 213.1h0M427.7 211.7h0M422.4 209.0h0M428.5 208.4h0M423.8 200.8h0M421.6 211.5h0M433.3 209.9h0M424.3 211.7h0M430.0 212.4h0M426.1 213.0h0M424.6 209.6h0M430.9 210.2h0M423.4 212.8h0M419.7 208.9h0M434.6 212.7h0M421.5 211.8h0M421.1 211.2h0M427.5 211.8h0M428.8 211.1h0M425.2 212.7h0M434.3 212.8h0M419.2 209.6h0M422.1 211.4h0M420.8 211.1h0M419.3 211.1h0M422.2 210.9h0M426.8 208.3h0M434.5 213.1h0M424.1 209.4h0M422.8 210.0h0M434.8 211.8h0M431.7 212.9h0M419.2 211.6h0M434.3 212.4h0M430.1 208.3h0M424.0 210.7h0M433.9 212.0h0M434.9 211.2h0M427.1 208.9h0M429.3 211.2h0M429.9 211.4h0M420.9 210.6h0M432.4 211.5h0M422.1 207.8h0M433.6 210.9h0M430.1 212.7h0M426.1 211.6h0M424.9 211.6h0M420.2 211.5h0M424.7 212.5h0M434.7 211.1h0M421.4 210.6h0M420.0 205.3h0M423.5 211.1h0M423.5 211.4h0M435.7 209.0h0M429.3 211.0h0M421.4 209.9h0M421.8 211.1h0M420.2 205.6h0M419.3 212.4h0M424.0 211.6h0M427.3 210.6h0M420.7 212.0h0M425.4 211.6h0M426.6 211.8h0M423.6 211.0h0M431.1 209.4h0M424.0 210.0h0M423.8 210.0h0M434.4 210.9h0M419.3 211.3h0M424.7 210.6h0M426.3 208.7h0M428.3 207.3h0M423.6 210.3h0M427.4 210.8h0M419.4 210.2h0M425.8 211.8h0M425.1 211.6h0M428.9 212.0h0M422.9 212.0h0M428.7 202.8h0M431.5 209.0h0M430.2 212.1h0M424.4 212.5h0M433.0 212.8h0M423.8 211.1h0M434.8 213.2h0M422.5 209.7h0M426.8 211.9h0M426.3 211.9h0M421.5 210.8h0M419.7 211.1h0M429.5 212.7h0M423.7 211.1h0M425.4 212.2h0M420.1 211.6h0M431.8 212.2h0M428.3 209.9h0M428.7 210.0h0M433.0 211.8h0M419.5 211.3h0M426.4 211.8h0M430.6 211.2h0M420.0 210.6h0M424.3 212.0h0M435.0 210.7h0M423.5 209.2h0M433.0 212.0h0M423.3 211.2h0M430.2 213.0h0M430.9 211.7h0M421.0 210.4h0M429.8 209.8h0M425.8 211.2h0M421.3 212.1h0M435.4 212.9h0M429.3 209.9h0M433.0 210.7h0M432.3 208.3h0M426.0 212.1h0M431.2 212.4h0M421.5 211.3h0M419.5 212.0h0M420.8 208.8h0M422.1 210.0h0M421.8 211.0h0M430.8 209.6h0M431.8 212.5h0M425.8 211.7h0M420.7 211.2h0M434.5 211.6h0M425.3 211.2h0M419.3 212.2h0M431.5 207.2h0M424.0 211.9h0M425.5 212.7h0M425.2 211.4h0M422.6 210.1h0M433.0 211.8h0M425.3 211.1h0M426.5 211.0h0M430.5 212.6h0M428.2 211.6h0M431.2 211.3h0M424.6 212.1h0M426.0 212.8h0M420.9 209.7h0M420.9 210.1h0M422.7 210.6h0M430.6 209.0h0M428.8 212.3h0M432.7 211.6h0M424.6 208.0h0M435.2 210.7h0M429.8 209.5h0M430.6 212.7h0M425.2 212.4h0M426.4 211.1h0M431.2 210.7h0M428.7 211.2h0M430.0 210.7h0M427.6 202.0h0M422.2 210.6h0M429.0 208.0h0M433.1 210.7h0M429.5 207.0h0M420.5 208.9h0M419.8 211.1h0M431.7 211.6h0M428.5 211.4h0M434.2 213.3h0M424.0 210.4h0M426.6 205.8h0M422.6 209.5h0M429.3 212.3h0M428.1 211.3h0M423.5 209.3h0M433.7 212.4h0M431.6 211.6h0M433.0 212.3h0M425.0 207.1h0M428.2 211.2h0M435.0 211.9h0M428.1 211.2h0M426.3 211.0h0M429.2 213.1h0M422.5 210.9h0M422.0 209.3h0M425.9 212.0h0M430.6 211.5h0M425.8 212.4h0M433.6 213.2h0M420.8 210.7h0M429.8 212.3h0M430.4 212.7h0M431.0 209.3h0M432.4 213.1h0M424.1 211.0h0M428.0 212.0h0M434.5 212.9h0M425.5 210.9h0M435.0 211.7h0M433.5 212.4h0M435.3 212.4h0M435.0 212.9h0M435.0 212.7h0M421.3 211.5h0M429.6 208.9h0M430.9 212.3h0M428.1 209.8h0M424.7 210.6h0M432.5 211.0h0M434.1 207.9h0M423.6 210.1h0M419.5 210.3h0M421.4 211.1h0M435.0 210.8h0M420.1 211.3h0M430.4 212.5h0M433.0 212.9h0M432.4 210.6h0M425.6 211.3h0M435.4 212.9h0M427.2 211.4h0M431.7 211.6h0M430.5 210.7h0M426.8 206.5h0M423.0 208.9h0M421.8 209.7h0M429.6 210.3h0M435.1 211.7h0M427.4 211.9h0M434.7 213.1h0M431.5 212.6h0M422.9 211.4h0M427.0 209.9h0M420.7 206.6h0M429.1 211.6h0M422.9 211.9h0M433.3 212.0h0M421.6 204.8h0M423.4 208.3h0M433.5 211.4h0M421.2 212.6h0M428.2 211.9h0M428.8 211.1h0M434.5 211.9h0M430.7 206.5h0M419.3 211.9h0M427.8 210.7h0M420.0 212.2h0M422.1 210.6h0M427.4 211.0h0M421.7 210.8h0M423.1 211.5h0M420.5 211.2h0M422.8 210.8h0M423.1 212.2h0M430.7 211.3h0M421.3 211.2h0M428.4 210.7h0M420.4 201.5h0M421.8 212.0h0M419.7 210.3h0M423.8 211.9h0M435.6 211.0h0M432.4 210.2h0M424.1 210.4h0M428.3 212.3h0M421.7 208.8h0M427.6 212.5h0M431.5 211.0h0M419.6 211.8h0M431.6 212.1h0M434.2 212.3h0M419.7 211.8h0M426.3 210.4h0M422.8 210.9h0M431.3 212.1h0M427.2 207.9h0M435.1 210.0h0M434.7 212.2h0M423.3 212.6h0M427.3 213.0h0M423.3 210.5h0M429.3 207.6h0M429.0 210.9h0M425.9 208.5h0M421.7 211.4h0M429.4 209.8h0M434.6 210.7h0M428.9 211.7h0M421.4 211.0h0M443.7 212.5h0M451.1 212.5h0M446.0 212.9h0M446.4 212.5h0M447.4 213.7h0M447.8 212.4h0M443.4 210.9h0M436.2 211.9h0M446.4 212.3h0M446.3 212.9h0M442.3 211.7h0M450.9 213.1h0M450.7 213.5h0M438.6 210.3h0M438.3 212.9h0M444.3 213.6h0M437.8 212.6h0M436.8 213.0h0M442.9 211.6h0M446.2 212.8h0M439.4 212.1h0M452.1 213.2h0M438.6 212.8h0M445.3 212.9h0M451.9 213.5h0M441.8 212.3h0M437.0 211.5h0M442.6 213.4h0M448.1 213.2h0M441.1 211.5h0M450.1 213.4h0M443.4 211.2h0M451.7 211.8h0M445.0 211.0h0M437.4 212.0h0M444.8 210.5h0M437.6 213.2h0M444.1 213.3h0M449.8 211.6h0M449.0 212.2h0M448.9 211.9h0M441.5 211.9h0M452.2 213.3h0M444.8 212.8h0M438.1 213.6h0M451.4 213.4h0M452.0 213.5h0M452.4 213.9h0M443.0 210.7h0M436.5 211.3h0M444.9 212.7h0M451.6 212.1h0M451.8 213.7h0M436.7 212.4h0M443.8 212.2h0M447.2 212.9h0M449.0 211.9h0M442.6 212.9h0M445.1 213.2h0M440.5 213.4h0M436.9 211.5h0M444.4 211.3h0M444.5 211.4h0M451.0 213.8h0M437.2 213.2h0M439.7 212.6h0M437.4 211.1h0M445.5 213.1h0M442.1 213.3h0M448.5 213.1h0M448.3 213.4h0M438.0 211.1h0M446.3 213.2h0M445.7 212.0h0M445.9 211.3h0M441.7 210.2h0M444.8 213.0h0M449.7 213.2h0M439.8 211.5h0M448.0 211.8h0M444.9 213.2h0M441.0 212.9h0M444.1 213.6h0M436.9 211.8h0M442.1 212.3h0M445.2 212.5h0M436.0 212.4h0M451.2 211.7h0M446.3 211.5h0M446.3 213.3h0M452.1 212.3h0M451.5 212.6h0M451.6 212.4h0M450.4 213.4h0M444.8 214.0h0M448.7 210.3h0M443.0 213.5h0M443.1 212.4h0M450.7 213.3h0M437.9 212.9h0M436.4 213.6h0M447.5 212.1h0M440.7 208.8h0M443.8 212.4h0M448.8 213.4h0M441.3 211.6h0M447.2 212.1h0M447.7 213.2h0M438.2 213.3h0M447.9 212.6h0M447.4 211.5h0M436.5 210.9h0M440.2 211.7h0M451.5 212.2h0M451.7 212.9h0M450.2 210.0h0M450.3 212.6h0M438.2 210.8h0M449.1 211.5h0M447.8 213.4h0M437.9 211.7h0M436.2 211.8h0M441.1 213.4h0M441.3 210.5h0M452.4 212.5h0M450.9 212.0h0M452.3 212.0h0M447.1 211.7h0M436.0 212.1h0M435.9 211.9h0M447.4 213.4h0M450.9 212.5h0M444.0 212.4h0M451.4 211.7h0M447.4 213.6h0M436.4 212.0h0M438.5 211.0h0M443.6 210.6h0M448.2 212.0h0M452.2 212.7h0M451.9 214.1h0M447.9 212.2h0M451.5 212.6h0M441.1 209.7h0M436.0 211.8h0M441.1 212.0h0M443.7 208.4h0M438.1 213.1h0M440.5 211.8h0M446.7 211.7h0M437.6 211.7h0M440.4 213.0h0M450.7 213.1h0M448.0 212.3h0M449.5 213.6h0M445.4 213.1h0M438.6 211.4h0M450.0 212.4h0M439.5 213.3h0M447.5 212.7h0M446.2 211.4h0M452.1 212.9h0M446.4 212.3h0M436.5 210.2h0M438.6 210.7h0M441.5 211.7h0M446.9 213.9h0M437.4 210.8h0M452.1 211.8h0M445.0 213.1h0M447.6 208.5h0M441.9 212.8h0M442.6 213.3h0M437.1 208.8h0M449.4 209.6h0M451.5 213.3h0M448.5 212.3h0M436.4 213.8h0M449.2 213.6h0M448.7 211.9h0M445.0 212.6h0M452.4 213.2h0M450.7 212.7h0M448.9 210.9h0M440.2 211.8h0M441.3 209.2h0M443.6 213.3h0M446.5 212.1h0M436.8 212.3h0M440.8 212.3h0M437.7 209.1h0M451.7 213.5h0M449.4 212.3h0M443.4 212.8h0M436.6 212.2h0M452.2 213.6h0M441.0 213.4h0M451.7 212.8h0M447.2 212.6h0M445.9 213.4h0M436.8 212.8h0M439.0 212.8h0M440.6 210.7h0M442.7 212.2h0M450.7 213.6h0M451.2 214.0h0M439.8 212.1h0M437.7 208.2h0M446.2 212.5h0M442.0 208.0h0M445.5 204.5h0M439.4 208.5h0M449.2 212.1h0M446.3 211.9h0M445.7 211.8h0M444.5 213.1h0M450.5 213.3h0M437.3 212.5h0M442.2 213.0h0M437.4 212.5h0M438.3 211.7h0M440.1 212.2h0M440.5 213.0h0M437.7 210.9h0M446.2 212.4h0M447.8 212.2h0M443.7 213.7h0M446.8 213.6h0M445.8 211.0h0M439.5 212.6h0M445.4 211.8h0M447.0 213.8h0M448.1 209.8h0M450.5 213.3h0M443.4 211.7h0M451.9 213.3h0M452.4 213.1h0M450.3 212.0h0M437.3 212.8h0M440.6 211.3h0M439.5 211.8h0M449.4 212.6h0M444.9 211.7h0M446.0 212.7h0M435.9 212.8h0M451.8 213.6h0M444.9 212.6h0M449.3 211.9h0M443.6 212.5h0M443.7 212.5h0M445.2 213.3h0M449.7 213.7h0M436.5 213.6h0M445.3 214.1h0M440.0 211.4h0M449.4 212.3h0M440.5 212.2h0M446.6 213.3h0M443.6 211.9h0M436.7 212.6h0M436.3 212.3h0M447.4 212.0h0M442.2 214.0h0M451.8 212.8h0M436.2 213.1h0M441.9 213.4h0M445.5 211.4h0M445.3 212.2h0M438.5 212.0h0M446.7 213.6h0M445.6 213.2h0M439.2 209.7h0M444.5 211.8h0M447.6 212.3h0M448.3 213.3h0M439.5 211.1h0M441.1 213.4h0M443.9 212.1h0M441.8 211.9h0M438.0 210.2h0M440.0 211.9h0M439.9 212.1h0M450.9 212.7h0M446.8 212.4h0M441.6 212.9h0M437.6 213.0h0M442.8 210.9h0M446.8 213.7h0M452.3 212.9h0M449.8 212.6h0M452.4 212.9h0M451.1 209.9h0M435.9 211.9h0M444.6 213.6h0M437.2 213.4h0M446.6 213.8h0M437.9 211.3h0M447.2 212.4h0M448.0 213.4h0M446.3 212.5h0M443.3 213.1h0M438.1 212.8h0M450.7 213.0h0M435.9 211.2h0M449.4 213.9h0M437.6 213.1h0M445.0 212.8h0M435.9 212.6h0M436.2 210.2h0M447.8 214.0h0M447.4 211.2h0M442.3 213.3h0M447.5 209.1h0M440.5 213.6h0M447.0 211.3h0M440.5 208.8h0M436.3 211.9h0M446.3 213.0h0M437.3 205.3h0M436.3 213.2h0M442.2 213.2h0M449.8 213.0h0M451.3 213.0h0M448.0 212.4h0M437.4 212.9h0M450.9 213.0h0M451.2 212.8h0M443.7 213.2h0M447.2 209.7h0M438.1 211.2h0M448.8 212.6h0M440.6 212.4h0M436.1 211.9h0M444.5 212.0h0M436.3 213.0h0M437.0 209.4h0M439.8 210.1h0M436.3 208.9h0M436.6 212.1h0M447.2 208.3h0M441.3 212.7h0M438.4 211.9h0M436.4 211.8h0M440.7 211.5h0M448.5 209.3h0M447.4 212.3h0M438.9 212.1h0M436.7 212.9h0M444.1 211.7h0M450.0 212.5h0M436.4 213.0h0M450.4 212.8h0M449.4 212.6h0M448.4 212.3h0M437.1 212.0h0M447.4 210.8h0M449.8 213.2h0M452.3 211.8h0M439.4 212.3h0M451.2 213.0h0M440.8 212.7h0M447.6 212.9h0M444.0 212.4h0M447.0 212.5h0M450.6 211.7h0M440.2 211.3h0M442.0 213.6h0M447.5 212.7h0M442.9 212.6h0M451.2 211.4h0M438.4 212.6h0M441.1 212.5h0M451.9 210.4h0M438.1 213.4h0M445.0 213.6h0M440.3 213.1h0M449.4 211.5h0M437.5 211.7h0M451.8 213.5h0M442.6 212.6h0M439.1 210.6h0M438.9 211.6h0M448.1 213.3h0M442.9 212.1h0M446.9 212.3h0M446.9 209.2h0M441.1 213.3h0M450.9 212.2h0M445.9 212.7h0M446.2 212.9h0M442.0 213.0h0M442.0 212.2h0M437.4 212.3h0M444.5 212.8h0M445.3 210.9h0M439.6 210.5h0M441.0 212.9h0M437.2 210.8h0M446.1 209.8h0M440.1 210.8h0M437.8 212.7h0M446.6 212.9h0M438.2 212.6h0M441.2 212.9h0M440.6 210.8h0M448.1 211.4h0M439.5 212.2h0M450.8 212.7h0M450.7 213.6h0M445.5 212.5h0M440.7 210.2h0M448.6 211.8h0M437.4 212.1h0M444.7 212.6h0M451.4 213.9h0M441.5 213.1h0M450.9 212.6h0M449.3 210.8h0M439.5 209.0h0M448.4 211.8h0M442.5 213.3h0M440.1 212.1h0M450.1 213.8h0M443.3 211.1h0M440.1 205.7h0M443.9 213.0h0M445.5 211.2h0M448.9 212.4h0M440.6 213.0h0M442.1 212.0h0M448.2 213.0h0M442.8 211.7h0M447.3 213.7h0M451.6 212.8h0M444.2 212.4h0M438.8 212.8h0M441.1 212.2h0M437.6 210.9h0M442.2 213.4h0M440.7 212.5h0M451.1 213.0h0M437.3 212.5h0M441.8 212.5h0M439.5 213.0h0M441.8 212.9h0M446.0 212.1h0M451.4 210.5h0M447.0 212.6h0M442.7 213.7h0M438.1 210.7h0M438.9 213.6h0M446.4 212.7h0M442.5 212.6h0M437.1 212.6h0M451.2 212.8h0M451.0 213.1h0M448.2 212.2h0M447.0 213.6h0M439.1 212.8h0M436.0 212.5h0M442.8 211.6h0M448.6 211.5h0M444.6 212.0h0M447.2 212.2h0M437.9 213.2h0M443.2 213.9h0M445.2 213.3h0M437.3 206.7h0M436.1 212.8h0M438.5 211.9h0M445.0 211.4h0M441.4 213.2h0M447.3 213.6h0M437.1 212.4h0M448.7 212.9h0M447.0 212.0h0M439.7 212.9h0M452.0 211.7h0M436.5 209.4h0M441.7 209.6h0M441.7 211.8h0M445.5 213.6h0M437.6 213.2h0M436.2 213.5h0M443.2 212.9h0M439.7 212.6h0M441.7 211.7h0M445.2 212.8h0M443.5 211.9h0M446.0 212.3h0M448.8 213.4h0M447.0 213.2h0M447.8 210.3h0M443.4 213.4h0M440.2 212.7h0M441.2 209.6h0M440.5 212.8h0M447.0 212.0h0M437.4 206.7h0M438.4 210.6h0M436.9 209.9h0M436.6 213.2h0M440.8 213.1h0M444.2 211.3h0M442.0 213.2h0M449.3 212.7h0M437.3 211.3h0M442.4 211.6h0M447.9 210.6h0M452.0 209.9h0M442.8 211.1h0M442.5 212.1h0M438.1 213.4h0M447.5 213.1h0M440.8 212.8h0M443.6 213.5h0M449.3 210.1h0M437.1 212.9h0M450.9 211.5h0M445.0 210.0h0M441.4 213.4h0M443.7 213.7h0M445.4 213.5h0M448.6 212.5h0M438.7 212.5h0M437.3 212.9h0M437.7 212.1h0M452.1 214.1h0M447.7 213.9h0M441.2 212.7h0M443.6 213.0h0M449.9 211.9h0M436.1 212.9h0M451.6 212.3h0M449.1 213.4h0M440.3 210.0h0M442.3 212.9h0M448.0 211.0h0M443.7 212.5h0M441.3 212.2h0M439.7 212.1h0M437.3 212.2h0M445.9 208.4h0M439.7 213.5h0M438.9 211.5h0M442.1 212.8h0M436.0 211.4h0M446.7 213.9h0M448.9 211.3h0M441.3 211.7h0M437.6 209.7h0M444.7 213.2h0M443.4 213.3h0M439.5 212.0h0M436.7 213.1h0M440.2 211.9h0M450.0 213.6h0M451.5 213.4h0M444.9 211.9h0M449.8 211.8h0M448.6 212.1h0M441.8 211.5h0M449.3 212.0h0M445.6 211.7h0M437.0 209.8h0M441.8 212.8h0M436.9 210.6h0M437.9 213.3h0M435.8 211.6h0M444.1 213.1h0M449.0 213.4h0M437.7 212.1h0M449.1 212.9h0M438.0 213.3h0M436.8 211.9h0M436.1 210.6h0M441.7 210.6h0M450.7 210.2h0M448.6 213.5h0M439.2 212.5h0M448.6 211.5h0M443.0 211.2h0M437.3 211.9h0M441.1 209.7h0M436.2 213.0h0M451.1 212.5h0M448.2 212.2h0M447.6 213.1h0M439.5 211.8h0M440.6 210.2h0M440.8 212.8h0M447.9 213.4h0M439.9 213.5h0M451.8 212.9h0M440.1 212.7h0M443.8 207.9h0M438.2 212.6h0M447.5 212.9h0M443.8 212.2h0M447.7 212.3h0M443.1 211.9h0M443.0 210.7h0M435.9 210.2h0M439.5 212.7h0M447.2 210.3h0M438.1 211.9h0M451.8 213.2h0M450.0 212.5h0M442.7 213.0h0M439.8 211.8h0M436.4 212.7h0M450.0 210.4h0M441.0 212.9h0M451.7 213.8h0M448.9 212.2h0M441.8 212.6h0M443.0 210.2h0M442.5 210.9h0M451.0 213.4h0M438.3 211.2h0M440.4 212.7h0M436.8 209.6h0M442.4 212.3h0M442.6 212.5h0M450.3 212.5h0M449.5 208.3h0M445.4 213.2h0M446.3 210.7h0M438.0 210.4h0M444.3 211.0h0M440.1 212.1h0M437.9 213.2h0M440.3 212.7h0M448.3 213.3h0M435.9 209.2h0M436.1 213.4h0M446.2 211.8h0M441.1 213.2h0M447.7 212.9h0M436.0 212.5h0M441.0 213.0h0M438.2 213.1h0M450.5 212.3h0M448.2 212.1h0M441.8 211.0h0M440.4 212.5h0M441.1 212.3h0M452.3 214.0h0M450.9 210.6h0M452.0 210.1h0M450.7 213.9h0M451.4 212.7h0M439.5 211.8h0M437.0 212.1h0M451.0 213.0h0M451.6 212.3h0M447.1 210.7h0M447.8 213.4h0M439.6 211.3h0M450.0 213.5h0M440.9 212.0h0M450.8 212.5h0M450.4 211.7h0M436.9 213.1h0M439.1 212.3h0M445.5 212.2h0M451.4 213.1h0M435.8 210.1h0M445.7 212.5h0M446.0 212.0h0M451.8 213.1h0M447.3 212.4h0M440.7 212.8h0M437.2 212.1h0M444.1 211.9h0M445.5 211.8h0M447.0 212.5h0M442.3 212.0h0M443.8 213.7h0M442.1 212.2h0M451.7 212.3h0M449.9 212.2h0M444.6 213.6h0M450.4 213.8h0M446.8 212.8h0M438.7 212.9h0M445.1 212.4h0M436.0 211.2h0M444.4 211.9h0M446.7 213.0h0M448.1 214.1h0M447.6 212.8h0M438.2 210.5h0M438.0 212.3h0M441.3 210.9h0M447.6 213.8h0M449.6 213.9h0M444.8 213.7h0M437.3 211.9h0M441.8 212.1h0M436.2 212.5h0M449.0 212.7h0M448.1 213.2h0M439.4 212.5h0M451.0 211.3h0M443.6 211.1h0M438.8 211.9h0M437.5 212.3h0M443.6 212.6h0M441.3 212.9h0M448.3 211.1h0M437.7 213.0h0M449.8 211.4h0M450.2 211.6h0M451.9 213.9h0M448.1 212.8h0M448.5 213.2h0M450.0 213.1h0M439.0 212.7h0M446.5 212.8h0M436.4 211.1h0M441.9 212.4h0M439.8 213.2h0M449.4 213.2h0M444.6 213.4h0M447.1 213.0h0M447.4 213.2h0M449.1 209.2h0M438.4 211.8h0M439.2 212.9h0M442.5 213.3h0M439.6 212.3h0M449.8 211.5h0M444.7 213.0h0M451.9 212.1h0M450.1 212.1h0M452.1 210.9h0M440.7 211.5h0M443.8 213.2h0M439.3 210.2h0M436.6 213.4h0M445.5 210.7h0M443.7 213.4h0M435.9 212.1h0M446.9 210.4h0M437.8 211.9h0M440.5 212.1h0M440.5 212.9h0M443.2 213.3h0M437.3 210.8h0M437.3 212.6h0M438.1 210.8h0M443.0 211.5h0M446.9 211.8h0M438.3 212.7h0M452.2 212.6h0M437.1 211.4h0M451.7 212.2h0M442.7 213.4h0M448.5 212.3h0M444.5 210.4h0M451.2 213.7h0M448.4 210.6h0M440.6 212.9h0M450.2 212.0h0M439.4 211.0h0M442.4 211.7h0M436.7 211.5h0M442.1 212.6h0M435.8 213.5h0M444.6 210.2h0M441.5 210.3h0M437.6 210.1h0M438.4 211.8h0M436.7 210.5h0M443.6 213.1h0M441.0 213.5h0M437.2 211.4h0M445.3 213.2h0M437.4 213.2h0M448.4 211.6h0M436.0 211.6h0M439.4 211.3h0M449.3 210.4h0M436.2 213.4h0M450.0 213.7h0M436.5 211.2h0M442.1 212.7h0M439.8 212.1h0M450.2 208.3h0M442.5 213.2h0M442.1 213.6h0M438.7 212.7h0M447.2 211.3h0M446.6 213.3h0M451.8 210.7h0M440.2 211.2h0M441.5 212.4h0M447.3 212.5h0M446.7 213.5h0M440.3 213.8h0M445.8 211.4h0M450.7 213.3h0M437.1 211.7h0M446.8 212.6h0M449.8 213.2h0M436.9 212.5h0M439.0 213.2h0M445.0 213.7h0M438.7 212.0h0M440.4 213.6h0M439.3 211.0h0M451.3 213.5h0M452.2 211.9h0M436.2 211.5h0M437.3 212.3h0M446.3 211.6h0M439.4 213.4h0M445.8 212.9h0M450.5 210.7h0M450.8 211.8h0M451.1 213.0h0M445.7 213.2h0M437.0 211.8h0M445.9 213.2h0M439.1 211.4h0M439.0 210.3h0M452.4 212.6h0M448.4 211.0h0M443.9 210.9h0M448.2 208.8h0M445.1 213.5h0M448.5 213.7h0M443.2 213.2h0M446.8 212.5h0M443.3 210.1h0M445.3 212.2h0M446.3 213.3h0M435.9 211.7h0M439.4 212.0h0M452.2 213.3h0M450.4 213.2h0M447.1 213.2h0M450.2 211.0h0M444.3 211.5h0M447.2 211.6h0M441.9 212.3h0M444.9 211.6h0M450.6 208.5h0M437.5 211.0h0M451.4 212.0h0M443.8 211.6h0M446.2 211.0h0M438.9 210.5h0M452.4 212.1h0M448.9 213.2h0M446.6 212.3h0M441.1 210.6h0M449.6 211.7h0M442.7 211.0h0M436.6 210.9h0M437.8 211.5h0M438.8 211.7h0M449.1 212.7h0M436.9 209.3h0M438.0 213.0h0M452.4 212.2h0M441.3 211.8h0M450.0 211.9h0M451.5 213.4h0M443.3 210.3h0M450.6 209.0h0M450.0 213.7h0M447.4 212.5h0M445.7 212.8h0M451.2 213.0h0M450.7 212.1h0M443.7 211.8h0M444.9 211.5h0M441.6 212.6h0M437.7 212.3h0M450.6 210.1h0M450.2 212.8h0M451.9 211.7h0M439.4 212.0h0M447.9 209.7h0M450.6 208.4h0M438.6 212.7h0M445.6 212.4h0M443.5 211.4h0M446.6 212.9h0M447.6 211.8h0M443.0 211.6h0M445.1 211.6h0M443.4 213.6h0M440.2 211.7h0M447.3 211.3h0M451.1 213.1h0M437.0 212.5h0M442.9 210.6h0M445.8 211.9h0M451.4 212.1h0M446.7 212.6h0M436.9 210.0h0M437.9 209.2h0M450.7 210.4h0M437.9 211.5h0M446.6 210.1h0M436.5 212.7h0M439.8 210.3h0M449.6 213.6h0M447.2 209.7h0M441.2 210.5h0M443.4 213.1h0M440.8 213.3h0M447.2 212.8h0M446.4 213.5h0M442.2 211.9h0M442.5 210.6h0M444.6 211.8h0M436.7 213.1h0M440.8 212.1h0M442.5 212.5h0M442.3 211.7h0M444.9 208.6h0M440.0 212.1h0M450.4 212.9h0M437.3 212.8h0M450.0 212.6h0M437.1 211.9h0M440.0 210.6h0M441.3 212.4h0M449.5 213.0h0M439.6 212.6h0M438.7 212.1h0M446.4 212.3h0M446.0 213.2h0M452.0 211.5h0M451.3 213.1h0M441.9 213.7h0M444.2 212.7h0M446.6 213.3h0M451.9 212.9h0M444.2 212.3h0M441.7 213.3h0M446.6 211.3h0M436.3 211.7h0M439.5 213.3h0M440.7 210.5h0M443.8 212.7h0M445.3 211.6h0M436.3 211.9h0M437.4 210.3h0M437.0 211.8h0M438.3 207.6h0M443.3 213.0h0M438.3 213.3h0M451.1 211.5h0M444.9 210.5h0M449.5 212.8h0M449.6 212.4h0M448.1 211.9h0M443.7 211.9h0M440.4 212.4h0M443.5 212.6h0M446.1 213.5h0M437.3 212.0h0M448.3 208.7h0M450.3 212.4h0M442.2 212.9h0M451.4 213.5h0M449.9 213.2h0M436.6 212.1h0M451.0 213.1h0M442.2 213.2h0M448.0 212.3h0M450.0 212.4h0M440.1 210.9h0M451.3 210.0h0M442.3 212.2h0M435.9 212.6h0M449.2 213.3h0M446.4 212.8h0M445.2 213.5h0M444.4 210.4h0M439.3 211.4h0M442.4 213.2h0M447.3 212.6h0M448.1 212.0h0M451.9 213.0h0M445.4 213.0h0M445.7 212.5h0M449.8 210.3h0M440.9 212.8h0M437.7 210.1h0M438.0 213.0h0M451.4 211.3h0M443.0 213.1h0M444.8 211.9h0M447.2 212.0h0M445.0 212.6h0M437.9 211.9h0M436.5 211.7h0M443.5 211.5h0M441.3 210.8h0M446.7 213.8h0M446.1 212.7h0M447.7 212.0h0M441.3 211.4h0M442.6 212.8h0M444.6 212.5h0M436.5 213.1h0M442.9 213.1h0M450.6 211.7h0M452.2 212.3h0M443.7 211.3h0M445.6 212.6h0M450.4 213.0h0M452.3 211.3h0M451.3 214.0h0M462.0 212.4h0M468.7 212.4h0M466.9 213.8h0M469.0 212.4h0M460.6 211.9h0M468.1 210.2h0M455.3 212.9h0M455.2 213.4h0M455.9 213.1h0M468.0 213.1h0M461.8 212.1h0M456.5 213.7h0M462.8 213.7h0M455.2 212.4h0M466.4 213.1h0M457.4 212.0h0M464.1 212.4h0M464.8 213.5h0M455.5 213.9h0M464.4 214.3h0M459.7 213.5h0M463.0 214.3h0M453.8 208.2h0M453.9 212.5h0M463.9 212.4h0M453.0 212.4h0M467.3 212.9h0M452.7 213.0h0M457.9 212.2h0M465.3 214.2h0M456.5 211.6h0M463.1 214.0h0M459.5 213.7h0M467.9 207.4h0M461.9 213.6h0M467.8 212.9h0M462.5 212.5h0M456.7 212.9h0M464.2 213.0h0M468.7 213.9h0M459.1 213.6h0M452.4 214.1h0M467.7 212.0h0M457.0 211.5h0M452.7 212.6h0M465.9 212.2h0M460.3 212.0h0M463.0 213.6h0M460.5 213.3h0M455.5 212.7h0M464.1 211.4h0M453.9 213.1h0M462.3 212.8h0M457.8 212.0h0M457.1 211.7h0M458.6 213.0h0M458.8 213.2h0M467.5 213.4h0M464.8 214.0h0M463.3 213.3h0M466.8 213.4h0M454.4 213.4h0M467.2 213.6h0M462.3 211.4h0M456.8 211.4h0M465.1 212.4h0M454.3 212.7h0M467.7 213.4h0M462.7 212.5h0M465.6 213.7h0M458.5 212.6h0M468.8 214.4h0M468.2 213.4h0M467.5 213.5h0M461.9 213.6h0M459.7 213.5h0M468.7 213.5h0M464.6 214.3h0M457.5 214.3h0M464.9 213.2h0M460.5 213.2h0M459.7 213.8h0M458.1 212.3h0M453.2 211.1h0M466.7 213.1h0M452.6 212.0h0M463.4 211.9h0M454.3 213.6h0M462.3 213.6h0M468.6 213.6h0M458.8 213.2h0M463.1 213.7h0M453.3 213.0h0M461.6 212.0h0M465.7 212.8h0M462.8 212.7h0M466.7 213.0h0M460.1 213.3h0M453.9 213.2h0M460.3 210.9h0M453.6 212.7h0M466.9 213.6h0M460.5 212.5h0M459.0 212.5h0M461.4 213.7h0M465.6 213.1h0M463.5 213.5h0M468.4 213.7h0M468.6 212.2h0M467.6 212.8h0M452.6 212.5h0M459.2 211.5h0M469.1 213.4h0M455.6 214.0h0M456.8 213.3h0M452.9 211.6h0M466.6 209.3h0M456.7 213.4h0M460.2 213.6h0M467.3 210.9h0M456.9 213.3h0M453.8 213.2h0M456.7 213.5h0M464.7 213.3h0M465.7 212.4h0M461.4 213.1h0M457.5 213.5h0M466.3 213.7h0M457.3 213.1h0M461.5 213.4h0M452.5 212.7h0M464.8 212.9h0M460.4 213.8h0M457.1 212.9h0M452.6 213.4h0M465.6 213.1h0M460.5 212.9h0M458.6 214.2h0M465.5 213.4h0M459.0 211.0h0M458.9 213.2h0M463.6 213.2h0M467.3 213.6h0M465.5 212.8h0M452.6 212.3h0M458.1 211.6h0M466.3 213.5h0M457.5 212.9h0M464.1 211.1h0M458.9 211.6h0M461.1 213.2h0M460.1 213.2h0M458.4 213.6h0M467.7 213.6h0M468.2 214.0h0M458.8 212.5h0M467.4 212.9h0M454.5 214.0h0M463.8 212.0h0M465.5 211.7h0M468.9 214.2h0M468.9 214.2h0M465.4 212.9h0M459.1 211.5h0M465.2 211.8h0M465.7 213.1h0M459.0 214.3h0M468.4 212.6h0M458.7 212.3h0M461.2 212.9h0M460.9 209.9h0M456.7 212.7h0M454.6 210.7h0M464.0 213.8h0M454.7 213.4h0M459.0 213.1h0M457.2 213.9h0M457.3 212.8h0M456.4 212.0h0M462.3 213.1h0M465.2 214.4h0M452.8 214.2h0M466.5 212.1h0M466.3 212.6h0M462.1 212.8h0M467.2 214.2h0M462.9 212.5h0M462.8 212.2h0M458.6 213.5h0M457.3 213.6h0M453.4 213.1h0M456.8 214.0h0M468.4 213.4h0M452.5 213.9h0M457.3 213.7h0M461.6 212.9h0M458.2 212.0h0M455.5 212.1h0M469.0 213.1h0M459.7 213.0h0M453.3 212.8h0M462.1 212.2h0M466.3 211.9h0M463.8 212.6h0M454.9 213.5h0M455.8 212.9h0M458.0 210.7h0M461.0 212.9h0M458.0 212.3h0M462.0 213.3h0M457.2 213.8h0M453.7 211.6h0M453.2 213.7h0M467.5 213.5h0M456.6 213.5h0M466.1 213.7h0M464.3 213.3h0M453.7 211.7h0M461.1 213.5h0M455.0 213.0h0M453.2 213.2h0M460.2 213.3h0M466.5 212.9h0M463.6 214.2h0M462.9 213.8h0M458.8 213.7h0M463.9 210.5h0M464.4 212.8h0M465.5 213.1h0M458.1 213.7h0M462.3 212.6h0M459.9 210.6h0M458.6 212.9h0M468.3 212.9h0M463.1 213.7h0M461.3 212.0h0M467.9 214.0h0M462.6 213.3h0M468.2 213.6h0M461.4 211.9h0M462.4 209.0h0M467.6 213.8h0M458.4 213.4h0M464.4 211.5h0M457.2 213.6h0M463.4 212.2h0M455.9 213.9h0M461.6 213.7h0M463.9 212.1h0M453.6 213.4h0M467.3 211.6h0M465.9 212.9h0M466.7 212.4h0M457.1 211.7h0M468.6 214.2h0M453.3 214.1h0M455.1 213.3h0M460.9 213.9h0M463.3 212.4h0M460.4 212.9h0M461.5 211.5h0M468.1 213.9h0M463.2 210.2h0M456.9 212.4h0M456.6 212.2h0M463.5 213.2h0M468.9 213.0h0M460.7 212.7h0M455.6 213.7h0M466.9 213.6h0M456.8 213.0h0M463.9 212.2h0M464.1 213.8h0M468.7 213.1h0M468.4 212.6h0M456.6 213.6h0M458.1 212.8h0M465.6 213.0h0M460.4 213.4h0M452.5 212.5h0M468.2 212.1h0M465.9 213.4h0M454.7 213.5h0M455.8 211.6h0M457.1 212.6h0M458.9 213.6h0M459.3 214.5h0M452.8 211.9h0M466.0 213.5h0M458.6 213.6h0M468.6 213.6h0M458.4 213.0h0M460.9 212.3h0M458.2 213.2h0M468.8 212.4h0M457.1 213.0h0M466.9 213.9h0M468.0 211.6h0M454.3 212.5h0M458.5 213.8h0M457.6 213.9h0M459.3 214.1h0M456.5 213.6h0M462.8 212.0h0M463.1 212.9h0M453.9 213.1h0M453.5 213.0h0M458.8 213.1h0M461.6 213.2h0M453.5 211.5h0M462.8 212.7h0M453.4 211.0h0M468.9 212.9h0M454.8 213.1h0M458.4 213.4h0M454.5 212.5h0M460.1 213.5h0M464.6 213.9h0M459.9 212.4h0M457.5 211.7h0M455.7 213.9h0M467.3 213.8h0M464.1 212.7h0M466.1 212.1h0M457.0 213.7h0M463.6 213.2h0M453.8 212.7h0M453.8 211.8h0M461.2 212.4h0M464.4 213.6h0M461.4 211.8h0M459.0 210.7h0M460.3 209.4h0M460.2 214.1h0M455.9 209.8h0M461.3 211.4h0M453.5 208.7h0M465.1 213.1h0M467.9 214.3h0M456.8 213.4h0M463.0 213.9h0M461.7 207.6h0M463.2 212.1h0M453.7 213.0h0M458.4 211.6h0M465.5 212.5h0M457.7 212.3h0M462.7 212.9h0M464.5 211.0h0M454.6 213.0h0M455.3 213.0h0M466.9 213.5h0M460.0 213.6h0M463.0 213.3h0M466.8 212.8h0M464.4 213.8h0M463.7 213.2h0M463.9 213.5h0M457.8 207.3h0M465.5 213.8h0M461.4 213.1h0M469.0 211.6h0M460.9 210.4h0M453.1 211.0h0M460.0 213.1h0M457.5 212.7h0M468.8 213.6h0M461.5 213.0h0M461.7 213.0h0M467.9 212.8h0M464.2 212.3h0M459.8 213.4h0M453.6 212.2h0M467.3 212.4h0M454.5 212.8h0M462.5 212.9h0M461.6 212.8h0M463.8 214.1h0M459.4 213.0h0M455.1 213.3h0M456.6 212.9h0M461.5 213.8h0M462.9 213.6h0M456.7 211.2h0M455.4 211.4h0M458.5 209.2h0M468.5 213.4h0M468.2 213.2h0M468.9 213.8h0M467.1 213.2h0M459.3 211.7h0M467.6 213.8h0M468.9 213.6h0M468.7 213.8h0M465.1 214.0h0M458.6 213.5h0M465.8 211.9h0M463.2 214.1h0M458.2 212.6h0M463.0 214.4h0M463.9 213.7h0M454.0 213.2h0M453.8 211.1h0M452.9 211.1h0M459.9 213.1h0M455.9 211.4h0M463.1 212.8h0M462.7 214.1h0M458.8 213.8h0M456.4 212.6h0M466.0 212.8h0M459.9 212.7h0M463.6 212.6h0M463.0 213.5h0M455.2 213.8h0M461.9 212.6h0M464.1 214.4h0M467.0 212.9h0M465.8 213.6h0M468.1 214.2h0M467.8 211.0h0M452.7 211.4h0M454.6 211.2h0M466.4 213.8h0M459.4 213.5h0M461.0 212.4h0M468.2 214.4h0M465.7 213.3h0M458.9 213.9h0M457.7 212.2h0M463.4 211.5h0M463.6 213.1h0M465.8 212.2h0M467.4 212.7h0M459.0 213.4h0M458.4 212.2h0M459.8 213.9h0M453.6 213.6h0M466.3 213.2h0M459.5 213.1h0M464.0 214.1h0M462.6 213.7h0M453.7 213.3h0M456.4 213.3h0M452.9 213.4h0M458.2 212.8h0M468.3 213.6h0M467.8 213.1h0M467.8 212.3h0M458.9 213.0h0M457.8 212.9h0M460.3 212.2h0M453.3 213.8h0M461.0 213.8h0M460.0 212.4h0M455.9 213.3h0M467.4 214.4h0M460.8 212.0h0M453.0 213.3h0M463.7 211.4h0M465.3 212.6h0M460.8 212.2h0M467.1 211.1h0M455.0 210.3h0M467.5 213.2h0M460.7 213.2h0M468.2 213.0h0M462.7 212.9h0M456.1 211.6h0M467.9 211.9h0M461.0 214.1h0M462.9 212.8h0M455.0 210.3h0M468.4 212.9h0M461.0 213.9h0M461.3 212.8h0M466.3 212.6h0M468.3 213.4h0M459.8 212.1h0M459.5 212.1h0M468.3 213.1h0M453.8 211.4h0M464.3 213.2h0M460.9 212.0h0M453.3 213.9h0M458.9 213.3h0M460.0 211.9h0M460.4 210.5h0M465.7 212.5h0M463.0 213.6h0M459.8 213.1h0M463.9 213.2h0M467.3 212.8h0M453.0 213.3h0M462.8 214.0h0M462.3 211.4h0M467.0 213.4h0M461.4 211.7h0M457.0 212.8h0M467.0 213.5h0M459.6 212.3h0M463.7 214.2h0M454.0 213.5h0M468.7 213.5h0M455.5 210.4h0M459.9 213.6h0M454.6 213.4h0M464.7 213.3h0M467.3 214.2h0M463.4 212.3h0M456.5 213.4h0M452.6 213.5h0M468.6 211.6h0M458.2 212.8h0M454.9 213.5h0M457.6 213.0h0M457.7 212.6h0M465.3 214.2h0M460.9 213.9h0M463.9 211.7h0M453.0 213.8h0M455.6 214.4h0M465.3 214.1h0M459.9 213.8h0M452.7 211.1h0M457.6 213.5h0M465.4 213.7h0M454.8 212.6h0M458.3 212.8h0M464.6 212.3h0M463.0 212.6h0M468.3 213.3h0M465.9 213.1h0M459.4 213.7h0M467.5 213.5h0M455.1 213.8h0M455.7 208.4h0M468.7 212.8h0M465.7 213.8h0M465.2 213.2h0M467.5 213.7h0M468.6 213.4h0M459.0 212.7h0M464.9 212.5h0M463.6 213.1h0M459.5 214.3h0M466.7 214.0h0M457.5 213.2h0M468.5 211.5h0M457.4 213.7h0M466.6 214.0h0M460.1 212.9h0M462.3 212.9h0M456.1 213.7h0M460.8 213.3h0M460.7 212.5h0M458.7 213.9h0M458.1 207.9h0M465.4 212.6h0M459.1 213.1h0M452.9 209.6h0M465.4 211.8h0M460.5 212.1h0M457.0 208.7h0M454.8 210.6h0M465.6 212.5h0M460.2 212.0h0M456.8 211.4h0M463.9 212.2h0M463.6 212.6h0M454.3 213.7h0M454.3 212.6h0M458.2 213.6h0M455.8 213.7h0M456.6 213.6h0M461.9 213.1h0M468.5 213.7h0M462.6 213.0h0M468.1 210.6h0M464.0 213.4h0M456.6 213.5h0M468.2 213.7h0M468.1 212.1h0M455.3 211.6h0M459.4 213.3h0M464.0 213.1h0M464.1 212.1h0M460.5 213.5h0M460.6 213.0h0M463.2 214.0h0M463.3 212.8h0M461.6 213.0h0M462.2 214.1h0M453.0 212.3h0M467.8 212.8h0M463.2 213.5h0M457.6 207.0h0M460.3 211.4h0M455.8 213.6h0M464.1 212.6h0M463.4 213.6h0M460.6 212.3h0M454.1 212.7h0M458.2 213.2h0M462.1 212.4h0M458.2 212.5h0M462.8 213.9h0M463.5 214.3h0M462.6 213.0h0M454.4 213.6h0M455.4 212.7h0M463.8 212.1h0M467.9 212.3h0M457.0 213.0h0M455.1 213.7h0M460.7 213.6h0M457.1 212.6h0M452.7 213.4h0M457.8 211.2h0M460.4 212.6h0M454.7 212.0h0M453.7 214.0h0M456.9 211.1h0M467.6 211.3h0M453.2 213.2h0M462.0 213.4h0M456.8 210.9h0M455.9 212.9h0M457.2 213.4h0M468.7 213.8h0M459.4 213.0h0M459.9 212.9h0M468.3 212.4h0M454.1 213.5h0M468.0 213.4h0M464.1 213.4h0M459.7 213.1h0M457.3 212.6h0M452.8 211.7h0M456.1 213.2h0M453.2 213.7h0M454.8 211.9h0M461.9 213.4h0M466.8 213.6h0M457.5 212.9h0M455.3 213.6h0M460.9 212.7h0M460.1 213.3h0M462.1 214.1h0M462.0 213.1h0M460.6 212.3h0M457.5 213.5h0M455.5 214.1h0M452.5 213.7h0M461.1 212.8h0M454.2 212.1h0M467.0 213.8h0M460.9 212.1h0M459.6 212.0h0M461.1 211.8h0M462.1 212.4h0M457.2 211.7h0M460.5 214.2h0M465.1 213.2h0M458.9 213.3h0M467.7 212.4h0M455.2 213.1h0M455.4 212.7h0M454.0 213.5h0M465.6 211.5h0M453.0 213.6h0M457.1 211.1h0M458.2 213.3h0M456.6 213.1h0M464.8 213.1h0M466.9 213.4h0M466.5 208.7h0M462.3 214.1h0M453.9 213.4h0M455.4 213.8h0M466.3 213.6h0M460.7 213.1h0M468.7 213.2h0M462.6 213.0h0M453.3 212.5h0M458.9 213.7h0M459.5 213.5h0M453.4 213.4h0M456.5 212.4h0M455.6 211.2h0M460.4 212.3h0M459.4 213.0h0M465.9 213.8h0M458.9 211.1h0M457.8 211.6h0M463.8 213.4h0M468.9 214.0h0M468.3 212.4h0M468.5 213.4h0M461.1 213.8h0M457.2 211.4h0M465.8 213.0h0M462.6 212.8h0M458.6 213.7h0M454.5 213.5h0M466.7 213.3h0M466.0 213.7h0M465.9 211.5h0M468.9 214.1h0M466.7 213.9h0M466.7 213.6h0M465.8 212.9h0M469.0 213.2h0M458.9 212.6h0M456.1 212.8h0M459.3 210.3h0M455.2 212.7h0M457.9 212.1h0M457.6 214.0h0M461.3 213.3h0M464.6 213.2h0M453.4 212.7h0M463.7 209.1h0M466.8 213.6h0M467.0 210.4h0M465.3 213.4h0M455.0 212.7h0M455.4 212.6h0M455.7 212.3h0M462.6 211.3h0M464.0 212.0h0M462.6 213.3h0M452.6 211.8h0M466.3 212.9h0M453.1 211.0h0M460.7 212.9h0M459.4 213.3h0M458.1 212.9h0M453.8 211.9h0M460.3 213.2h0M468.5 211.7h0M454.9 213.5h0M462.9 213.2h0M459.8 212.0h0M462.2 212.1h0M468.0 213.6h0M458.8 212.3h0M456.4 214.2h0M465.3 211.5h0M461.4 213.4h0M455.2 212.0h0M454.8 213.8h0M456.4 213.3h0M464.4 212.7h0M464.9 212.5h0M462.3 212.6h0M467.1 212.3h0M452.7 211.8h0M459.4 212.6h0M452.8 212.5h0M460.5 212.5h0M456.1 212.7h0M458.8 212.9h0M456.9 213.6h0M456.3 211.8h0M464.5 210.3h0M465.4 212.1h0M466.0 212.4h0M454.6 212.2h0M453.1 213.9h0M462.1 211.4h0M454.7 212.8h0M453.5 213.6h0M463.0 212.8h0M456.4 212.4h0M454.2 214.2h0M464.5 213.3h0M466.9 211.7h0M452.9 212.3h0M453.3 213.1h0M453.3 212.3h0M453.6 213.4h0M468.5 213.3h0M467.3 213.1h0M466.4 213.8h0M461.6 213.8h0M460.1 212.8h0M458.2 212.8h0M464.5 213.7h0M459.2 211.9h0M460.3 213.0h0M464.3 210.6h0M465.0 214.2h0M455.4 213.3h0M458.4 213.0h0M468.2 213.0h0M455.1 212.6h0M465.3 214.4h0M460.6 211.4h0M457.2 214.0h0M465.8 210.9h0M466.6 212.7h0M452.6 212.7h0M465.0 213.2h0M457.7 213.3h0M459.2 213.3h0M468.6 214.1h0M462.5 212.2h0M461.6 211.3h0M466.5 213.2h0M457.0 211.3h0M464.1 212.7h0M462.6 213.5h0M460.8 212.9h0M467.8 213.1h0M464.5 214.2h0M455.3 212.6h0M453.9 211.2h0M464.8 213.1h0M456.8 212.6h0M458.0 213.6h0M468.5 210.2h0M462.3 209.7h0M456.2 213.9h0M456.5 210.6h0M454.6 211.6h0M467.2 211.4h0M456.9 210.9h0M464.1 212.8h0M464.6 213.8h0M457.0 212.2h0M463.9 213.5h0M460.6 213.8h0M464.5 212.7h0M464.6 212.5h0M462.2 211.4h0M454.5 212.4h0M453.1 213.2h0M456.8 211.6h0M457.9 212.7h0M480.3 213.5h0M476.1 213.7h0M482.0 213.6h0M477.2 214.4h0M471.0 213.8h0M471.0 214.1h0M474.6 212.9h0M479.8 211.7h0M476.7 213.5h0M479.7 214.0h0M481.1 212.4h0M477.7 213.9h0M478.8 213.4h0M481.8 213.8h0M474.4 213.3h0M478.1 214.2h0M475.5 209.9h0M479.9 213.9h0M483.4 213.3h0M485.6 214.2h0M474.8 212.3h0M473.9 213.7h0M474.4 213.6h0M473.0 212.0h0M475.7 212.4h0M478.5 214.1h0M480.6 212.9h0M485.5 213.2h0M482.0 213.6h0M482.8 214.5h0M480.9 214.2h0M477.2 213.1h0M481.6 213.6h0M472.2 213.1h0M478.0 214.1h0M483.6 213.4h0M484.7 213.8h0M478.9 213.8h0M470.9 210.8h0M481.9 212.9h0M469.3 213.5h0M478.5 214.2h0M469.2 213.4h0M473.1 214.1h0M484.1 212.0h0M470.9 213.2h0M479.3 214.1h0M479.5 214.4h0M482.0 214.1h0M480.4 213.6h0M478.9 211.6h0M481.6 213.0h0M482.8 213.0h0M477.8 213.0h0M470.8 214.0h0M470.3 212.4h0M484.3 212.7h0M472.6 213.5h0M483.4 212.4h0M477.4 213.0h0M481.7 209.8h0M482.9 214.3h0M478.2 212.4h0M470.8 213.4h0M481.2 214.1h0M472.3 214.2h0M473.1 213.4h0M482.2 213.8h0M479.8 213.2h0M482.7 214.2h0M474.2 212.3h0M479.7 212.0h0M482.3 213.5h0M485.0 213.2h0M483.0 213.3h0M478.8 214.1h0M469.7 213.1h0M483.6 212.4h0M479.9 213.8h0M481.8 213.6h0M482.0 211.9h0M474.9 211.3h0M481.6 213.7h0M479.7 213.9h0M478.6 213.7h0M482.4 213.3h0M474.3 213.1h0M475.8 213.2h0M481.0 212.6h0M477.8 211.8h0M480.3 213.8h0M473.0 211.1h0M484.0 213.8h0M481.2 213.8h0M474.6 212.7h0M485.4 211.3h0M475.7 211.7h0M478.4 214.0h0M478.5 214.5h0M481.0 213.3h0M476.7 214.3h0M481.5 213.9h0M470.2 213.6h0M483.9 214.0h0M475.6 212.8h0M469.7 212.3h0M475.3 213.8h0M484.5 210.8h0M471.1 212.8h0M476.4 214.1h0M469.9 213.5h0M470.9 214.0h0M473.6 213.1h0M471.6 213.1h0M478.5 214.3h0M483.7 213.7h0M482.0 212.4h0M482.5 213.7h0M479.2 212.5h0M482.6 213.7h0M479.6 214.2h0M483.3 213.8h0M474.6 213.2h0M481.6 213.0h0M470.6 213.8h0M482.0 213.2h0M480.8 213.6h0M469.6 212.6h0M473.3 212.8h0M470.2 212.9h0M479.7 213.9h0M482.9 214.5h0M480.4 213.5h0M482.6 213.9h0M470.6 214.1h0M480.1 213.3h0M472.6 212.7h0M471.0 213.8h0M483.2 213.5h0M480.2 213.2h0M482.5 211.4h0M470.1 213.4h0M485.6 214.1h0M471.9 213.1h0M477.9 213.6h0M474.0 213.9h0M481.2 212.9h0M481.8 212.4h0M469.5 213.1h0M485.2 213.6h0M474.9 213.0h0M471.9 212.9h0M477.9 214.2h0M470.3 213.4h0M474.4 212.5h0M481.6 213.5h0M475.2 212.8h0M483.9 214.8h0M472.8 212.6h0M469.7 213.4h0M476.3 213.7h0M469.8 212.8h0M482.8 214.3h0M479.3 212.6h0M470.6 213.5h0M472.7 214.5h0M477.3 213.3h0M484.8 212.3h0M483.4 214.2h0M474.5 211.3h0M482.1 214.2h0M473.3 213.8h0M484.3 212.8h0M482.0 212.4h0M480.0 213.8h0M476.0 214.4h0M481.9 210.0h0M477.9 213.4h0M471.0 214.2h0M473.6 213.5h0M469.3 213.9h0M481.0 213.0h0M471.9 214.2h0M477.4 214.2h0M472.2 213.1h0M476.1 212.6h0M482.9 212.8h0M482.8 213.7h0M474.0 213.6h0M469.4 212.4h0M473.5 210.7h0M481.8 214.3h0M478.8 211.4h0M485.5 212.7h0M480.6 213.9h0M471.8 211.5h0M471.6 213.5h0M483.9 213.3h0M473.9 214.4h0M472.9 213.0h0M478.5 213.5h0M479.7 212.5h0M479.6 213.2h0M473.7 213.0h0M482.9 213.2h0M469.6 213.5h0M471.8 213.1h0M484.4 213.1h0M483.7 213.6h0M476.1 211.5h0M484.5 214.2h0M473.0 213.3h0M470.4 213.4h0M475.1 210.9h0M481.0 213.4h0M483.5 213.4h0M480.6 213.1h0M472.7 213.9h0M474.4 211.4h0M482.3 212.0h0M477.8 213.9h0M484.9 214.5h0M481.2 211.9h0M477.7 211.3h0M484.3 213.6h0M477.1 214.5h0M480.0 214.0h0M475.2 211.3h0M474.8 213.6h0M483.7 211.6h0M484.5 214.7h0M484.1 214.2h0M484.1 213.4h0M480.5 212.7h0M472.5 213.1h0M483.2 214.2h0M481.8 212.7h0M485.5 213.6h0M469.8 213.4h0M475.4 212.5h0M472.1 213.4h0M474.6 213.6h0M482.6 213.9h0M478.5 213.3h0M484.6 212.8h0M477.6 213.0h0M471.2 210.9h0M484.2 214.2h0M474.5 213.1h0M483.7 214.2h0M484.3 213.7h0M475.8 214.3h0M480.5 212.7h0M483.8 214.2h0M476.1 212.7h0M475.0 213.4h0M471.5 212.7h0M475.3 210.7h0M469.7 214.1h0M481.5 211.9h0M470.1 213.1h0M479.7 212.9h0M485.7 214.2h0M471.0 213.3h0M469.8 213.6h0M483.1 213.6h0M474.7 213.9h0M474.6 213.1h0M485.4 214.0h0M473.8 214.1h0M483.4 214.4h0M476.0 213.4h0M481.9 213.4h0M470.9 213.0h0M485.1 213.4h0M470.4 213.1h0M471.2 213.9h0M477.8 213.7h0M472.4 213.5h0M477.8 211.7h0M485.2 212.6h0M483.7 211.0h0M470.1 213.3h0M478.1 213.3h0M481.5 213.6h0M470.3 212.9h0M479.7 214.2h0M472.3 212.0h0M482.2 214.0h0M474.6 212.8h0M478.9 213.4h0M480.2 211.7h0M469.6 212.7h0M475.2 213.5h0M482.7 212.9h0M483.9 213.4h0M475.6 214.1h0M481.0 214.0h0M482.3 214.0h0M475.9 213.5h0M470.0 207.4h0M471.0 212.7h0M481.0 213.1h0M482.9 210.6h0M480.0 213.4h0M475.9 213.4h0M482.7 210.8h0M474.5 212.0h0M470.5 212.4h0M474.3 213.9h0M470.5 213.6h0M476.3 213.4h0M484.4 213.1h0M477.9 212.3h0M470.8 212.7h0M469.7 213.5h0M470.0 213.0h0M471.5 213.8h0M482.3 214.3h0M477.0 213.2h0M475.1 214.2h0M484.1 214.6h0M485.2 213.9h0M480.6 212.0h0M481.4 212.0h0M480.5 214.5h0M483.2 214.2h0M479.8 213.3h0M470.3 212.4h0M469.9 211.9h0M469.9 212.7h0M473.7 213.5h0M485.2 214.4h0M480.1 212.5h0M473.5 213.7h0M476.9 214.1h0M481.1 213.9h0M483.3 213.9h0M470.2 213.0h0M479.7 212.0h0M473.3 212.6h0M485.2 214.4h0M484.8 214.1h0M480.0 213.2h0M481.5 214.5h0M479.5 212.7h0M482.1 213.9h0M473.6 213.3h0M478.2 213.9h0M470.8 213.2h0M480.2 213.7h0M469.7 213.4h0M480.1 213.8h0M474.8 214.0h0M479.6 213.4h0M482.5 212.5h0M480.5 213.3h0M473.4 214.0h0M473.4 213.5h0M470.3 212.2h0M471.0 214.4h0M482.7 212.1h0M474.8 213.3h0M478.0 211.7h0M471.7 214.4h0M478.7 213.3h0M479.6 214.5h0M470.1 214.2h0M477.0 211.5h0M482.0 212.4h0M479.7 214.4h0M479.3 211.7h0M470.2 213.1h0M473.8 213.5h0M475.3 212.8h0M471.3 213.8h0M475.8 214.2h0M469.1 213.5h0M479.0 212.9h0M481.5 213.5h0M474.6 212.7h0M470.8 212.4h0M475.5 213.0h0M481.1 213.5h0M479.5 212.9h0M481.5 213.0h0M478.6 212.8h0M481.4 214.4h0M478.0 214.1h0M481.4 213.3h0M475.5 212.5h0M482.0 213.0h0M469.2 212.9h0M484.1 214.2h0M477.6 213.6h0M472.9 210.1h0M482.7 214.6h0M480.9 214.4h0M479.4 214.2h0M477.3 214.1h0M482.4 214.1h0M474.4 213.8h0M478.8 212.6h0M476.2 214.0h0M470.2 212.1h0M476.5 213.1h0M481.4 213.5h0M473.7 213.7h0M473.9 213.4h0M474.2 211.3h0M475.7 213.3h0M483.4 212.8h0M478.0 212.7h0M480.5 214.3h0M473.1 212.5h0M477.9 213.9h0M469.9 212.8h0M471.9 214.2h0M470.0 213.6h0M474.0 213.6h0M472.2 213.0h0M481.1 213.8h0M484.9 212.5h0M475.7 214.2h0M479.5 213.2h0M479.9 212.9h0M485.1 213.9h0M480.9 213.8h0M484.5 214.1h0M484.9 213.2h0M473.8 213.6h0M484.7 213.5h0M480.1 210.6h0M483.4 213.3h0M478.9 213.2h0M476.4 213.1h0M480.1 213.9h0M479.7 213.5h0M476.2 212.9h0M481.6 213.3h0M477.6 212.1h0M480.9 211.6h0M470.1 212.4h0M472.0 213.0h0M469.9 212.5h0M475.1 214.2h0M483.0 212.8h0M481.8 214.0h0M477.1 212.6h0M477.0 214.6h0M481.1 212.5h0M476.4 214.0h0M472.6 213.0h0M470.9 213.6h0M484.6 212.6h0M482.1 213.5h0M475.4 213.9h0M478.4 213.0h0M483.8 214.3h0M484.7 213.4h0M470.7 213.8h0M480.8 212.2h0M476.8 214.4h0M485.3 213.1h0M482.1 214.1h0M475.8 212.3h0M477.6 212.5h0M482.2 213.1h0M475.7 213.4h0M481.0 213.7h0M480.7 213.5h0M485.7 213.1h0M474.7 214.1h0M478.9 213.8h0M479.1 213.1h0M470.7 212.4h0M476.4 212.9h0M473.1 212.4h0M478.3 213.6h0M471.6 212.2h0M474.4 213.5h0M478.5 212.8h0M481.1 214.4h0M484.7 214.5h0M475.7 213.3h0M473.3 213.2h0M476.4 213.2h0M469.1 211.8h0M479.7 212.7h0M475.1 213.2h0M477.5 213.9h0M475.1 214.2h0M472.3 213.6h0M471.4 213.4h0M485.5 214.6h0M469.7 214.1h0M475.7 214.2h0M478.1 214.1h0M483.1 213.8h0M481.5 214.6h0M484.6 213.5h0M485.3 213.8h0M478.3 214.4h0M478.0 213.5h0M475.2 213.9h0M485.6 213.6h0M480.6 214.0h0M480.6 214.4h0M477.1 214.4h0M471.6 213.6h0M476.2 213.7h0M484.2 212.4h0M474.8 213.8h0M470.9 211.2h0M477.3 213.1h0M474.2 213.9h0M481.5 213.8h0M470.4 213.5h0M476.1 212.8h0M471.4 213.6h0M472.3 214.0h0M479.2 213.5h0M479.8 212.8h0M470.4 212.5h0M472.6 213.6h0M478.4 212.9h0M469.9 212.7h0M484.5 211.5h0M469.2 212.4h0M479.0 213.4h0M476.5 213.1h0M473.7 213.2h0M481.4 213.1h0M481.1 211.0h0M480.3 213.5h0M484.4 214.0h0M473.2 213.8h0M470.7 213.3h0M478.3 213.3h0M470.6 214.1h0M470.3 213.0h0M470.9 214.3h0M482.3 214.2h0M476.6 213.7h0M475.6 214.5h0M479.0 212.3h0M484.9 214.3h0M484.7 212.4h0M470.3 213.2h0M477.1 213.3h0M480.4 214.4h0M473.2 213.5h0M471.8 214.0h0M471.0 213.9h0M481.4 214.5h0M484.7 212.7h0M472.1 214.2h0M478.3 212.5h0M477.8 210.6h0M469.5 213.2h0M476.7 212.5h0M469.3 213.7h0M474.0 213.1h0M484.4 213.0h0M469.3 213.9h0M479.9 212.6h0M480.2 213.1h0M482.5 214.1h0M469.1 214.2h0M476.9 213.6h0M480.2 213.1h0M471.7 212.6h0M482.3 213.3h0M484.4 214.6h0M477.5 212.8h0M471.7 213.5h0M473.8 214.3h0M474.1 213.0h0M473.2 214.0h0M472.9 211.2h0M471.9 213.8h0M483.1 214.1h0M483.1 212.9h0M470.9 213.2h0M482.4 214.3h0M475.7 210.5h0M485.6 211.9h0M479.9 213.2h0M482.8 213.6h0M469.8 214.2h0M475.5 213.6h0M476.1 214.0h0M474.3 213.2h0M483.7 213.1h0M478.5 213.6h0M475.6 213.4h0M470.0 212.4h0M475.6 214.2h0M472.3 211.4h0M472.8 214.1h0M478.6 213.8h0M473.1 212.0h0M485.3 214.2h0M483.3 213.8h0M471.6 213.7h0M469.8 212.6h0M471.4 213.5h0M483.2 213.5h0M482.6 213.7h0M475.4 212.8h0M470.8 214.1h0M474.5 213.8h0M483.0 213.6h0M477.5 214.2h0M469.5 213.1h0M470.1 213.6h0M479.6 214.1h0M478.5 214.3h0M479.7 213.6h0M479.9 214.2h0M484.9 211.4h0M470.1 212.8h0M479.7 212.6h0M474.1 214.1h0M487.5 213.0h0M487.4 214.1h0M488.4 212.7h0M486.7 214.2h0M491.2 213.8h0M489.0 212.8h0M491.4 213.8h0M490.5 213.3h0M492.8 214.6h0M487.6 213.5h0M491.7 212.7h0M492.4 212.8h0M491.2 214.1h0M490.6 214.6h0M490.0 214.0h0M492.7 212.7h0M486.9 213.9h0M486.7 214.0h0M491.7 214.4h0M486.3 213.5h0M489.5 214.2h0M488.5 213.7h0M488.6 214.6h0M487.6 213.3h0M491.3 214.4h0M489.2 212.9h0M487.9 213.8h0M491.8 212.5h0M493.5 213.1h0M491.2 212.8h0M486.2 213.2h0M486.3 214.1h0M486.2 213.2h0M491.6 212.7h0M489.5 214.0h0M488.3 214.0h0M485.8 212.2h0M488.9 213.2h0M488.1 211.9h0M487.1 213.1h0M489.0 214.1h0M486.4 214.0h0M492.2 213.6h0M488.9 213.6h0M486.9 213.5h0M486.9 214.7h0M488.2 213.4h0M492.4 213.5h0M492.7 213.3h0M491.7 212.3h0M493.9 213.0h0M489.0 213.7h0M491.7 212.8h0M489.4 214.2h0M490.4 214.0h0M488.0 212.7h0M490.3 213.6h0M492.5 212.5h0M490.6 214.3h0M486.0 214.5h0M493.4 213.0h0M486.2 214.4h0M491.1 213.4h0M490.4 212.4h0M493.2 213.0h0M492.8 211.9h0M486.9 213.1h0M493.3 213.8h0M488.9 214.1h0M486.8 214.4h0M492.3 213.5h0M490.2 214.5h0M488.1 212.9h0M491.5 213.7h0M489.4 211.2h0M486.8 213.0h0M491.4 212.1h0M486.5 213.8h0M487.8 214.3h0M491.5 214.0h0M490.1 213.2h0M493.8 213.4h0M493.6 214.3h0M490.1 213.9h0M489.4 214.0h0M493.2 214.7h0M486.8 213.1h0M487.2 213.8h0M489.4 213.5h0M486.9 211.8h0M492.9 213.1h0M489.9 212.7h0M487.9 213.6h0M488.5 213.7h0M486.1 213.3h0M486.3 214.0h0M487.6 213.7h0M487.7 213.9h0M492.9 214.1h0M486.9 212.4h0M493.3 214.5h0M488.2 213.7h0M490.4 212.0h0M490.5 212.8h0M493.9 213.8h0M490.0 213.7h0M488.6 213.3h0M485.8 212.7h0M493.5 212.8h0M485.8 212.5h0M492.2 214.2h0M492.7 212.5h0M492.1 214.5h0M492.7 214.2h0M488.6 212.9h0M492.6 213.8h0M487.8 213.7h0M491.3 212.9h0M488.1 214.0h0M492.8 213.5h0M489.5 213.6h0M488.5 213.6h0M493.6 212.5h0M494.0 212.9h0M487.7 214.5h0M487.5 213.3h0M488.7 214.2h0M493.7 214.1h0M493.8 214.3h0M490.8 213.7h0M490.2 213.7h0M490.5 213.2h0M487.9 213.8h0M490.8 212.2h0M492.6 213.6h0M486.6 212.5h0M486.6 213.2h0M490.3 213.2h0M487.5 214.5h0M493.6 213.9h0M488.7 213.9h0M491.5 214.2h0M489.2 212.3h0M489.7 212.3h0M492.2 214.1h0M493.9 212.5h0M493.5 214.1h0M493.6 213.6h0M489.6 214.4h0M489.2 213.2h0M489.5 213.7h0M489.9 213.0h0M486.2 213.5h0M493.5 214.2h0M487.4 213.0h0M488.2 212.6h0M487.4 213.2h0M488.0 213.5h0M492.3 214.3h0M489.9 214.4h0M487.1 213.4h0M491.8 211.5h0M491.2 213.5h0M492.2 213.8h0M486.3 213.3h0M491.8 212.2h0M486.0 210.5h0M490.8 214.5h0M492.8 212.3h0M488.3 213.7h0M489.2 213.6h0M489.9 214.3h0M492.9 213.7h0M493.8 214.1h0M487.1 214.4h0M493.4 214.4h0M488.9 212.9h0M492.6 214.6h0M487.8 211.4h0M491.7 213.6h0M487.3 213.4h0M490.5 213.8h0M487.9 212.4h0M490.9 212.0h0M493.8 213.4h0M492.2 213.5h0M492.4 213.8h0M487.7 212.1h0M493.3 213.4h0M487.7 212.3h0M490.5 214.4h0M490.9 213.6h0M490.8 213.7h0M491.8 213.9h0M486.2 214.3h0M492.5 212.4h0M487.2 214.2h0M487.3 213.6h0M493.9 213.2h0M488.9 212.0h0M488.1 214.6h0M493.6 214.3h0M486.0 213.7h0M490.5 214.0h0M488.4 212.8h0M490.5 213.2h0M493.6 214.2h0M491.3 213.1h0M486.2 214.1h0M492.8 213.4h0M489.5 213.9h0M488.0 213.6h0M486.1 214.3h0M492.6 213.9h0M493.7 214.5h0M486.3 210.8h0M486.1 214.4h0M492.6 212.6h0M486.9 214.2h0M491.0 211.1h0M486.8 214.4h0M493.7 214.0h0M489.4 213.8h0M487.5 213.4h0M488.2 213.4h0M490.0 214.7h0M485.7 213.0h0M486.3 213.7h0M491.8 214.0h0M486.1 214.1h0M487.1 213.7h0M486.7 212.7h0M486.5 213.7h0M493.5 214.8h0M486.0 213.6h0M492.9 213.8h0M494.0 213.7h0M491.8 214.3h0M486.1 213.8h0M493.5 212.9h0M499.2 212.9h0M496.7 214.5h0M496.8 213.4h0M502.1 213.4h0M495.6 214.1h0M496.0 213.8h0M496.2 214.4h0M500.3 214.1h0M495.8 212.0h0M500.9 214.3h0M494.9 214.3h0M501.1 212.7h0M498.1 213.7h0M495.0 213.7h0M497.9 213.9h0M494.9 211.6h0M494.8 214.1h0M498.1 213.3h0M499.2 213.4h0M498.0 214.1h0M498.0 213.3h0M501.7 213.9h0M499.5 214.6h0M497.9 214.0h0M498.3 213.5h0M497.2 214.4h0M499.7 213.9h0M498.3 213.8h0M494.8 214.1h0M499.9 213.9h0M498.0 214.0h0M495.2 213.5h0M502.2 213.3h0M496.4 213.9h0M501.6 213.4h0M497.7 213.5h0M495.2 214.0h0M495.4 212.2h0M494.8 213.9h0M495.4 213.2h0M499.6 212.4h0M499.1 213.0h0M495.1 212.5h0M501.4 214.5h0M498.2 212.0h0M494.6 213.4h0M497.7 213.6h0M494.3 213.6h0M495.0 213.9h0M501.0 213.9h0M498.5 211.2h0M498.8 214.4h0M500.0 213.1h0M494.7 214.0h0M500.4 213.8h0M495.5 213.0h0M500.7 213.4h0M495.6 213.6h0M500.5 213.9h0M502.3 213.5h0M497.4 213.6h0M502.3 213.6h0M499.6 213.8h0M500.5 214.1h0M494.4 214.0h0M495.8 213.6h0M496.4 213.1h0M501.7 213.9h0M500.3 213.2h0M498.7 213.9h0M501.3 213.9h0M497.1 212.4h0M502.1 213.6h0M500.7 213.5h0M501.9 213.8h0M497.4 214.4h0M495.6 213.2h0M501.5 213.9h0M497.0 212.7h0M496.6 213.4h0M495.5 214.5h0M495.3 212.6h0M494.6 213.8h0M497.1 214.4h0M494.3 214.1h0M500.7 213.4h0M497.3 214.0h0M496.2 213.6h0M496.4 213.3h0M495.4 213.6h0M494.1 213.6h0M500.4 214.3h0M499.2 213.5h0M496.4 213.2h0M499.9 213.1h0M498.8 214.2h0M500.0 213.7h0M497.1 214.5h0M499.0 213.8h0M502.3 213.7h0M498.9 213.2h0M502.0 213.7h0M499.6 214.3h0M497.3 212.9h0M495.5 213.3h0M494.7 214.4h0M494.8 214.3h0M494.9 212.1h0M502.3 213.6h0M496.2 213.6h0M496.2 213.0h0M496.6 212.4h0M496.2 214.0h0M501.3 212.5h0M501.8 213.7h0M494.1 210.7h0M498.5 212.8h0M500.1 214.2h0M499.4 214.4h0M499.8 214.0h0M501.6 213.6h0M500.7 214.2h0M494.7 214.4h0M495.7 214.2h0M499.5 214.2h0M501.1 212.6h0M498.0 214.1h0M497.0 213.4h0M494.5 214.1h0M500.3 213.6h0M502.3 213.5h0M495.1 213.9h0M494.6 213.8h0M500.1 214.3h0M495.4 211.1h0M500.3 213.9h0M496.3 214.3h0M497.4 213.2h0M502.1 214.1h0M494.4 213.0h0M495.0 214.6h0M501.6 213.7h0M500.6 213.9h0M502.0 214.2h0M502.3 213.0h0M500.5 213.5h0M495.7 213.9h0M501.4 214.4h0M496.1 214.2h0M499.2 213.6h0M496.1 213.9h0M501.5 213.6h0M495.4 213.8h0M496.4 213.8h0M497.0 212.9h0M502.1 214.2h0M500.3 214.7h0M498.1 213.5h0M496.2 212.5h0M499.1 212.7h0M501.7 211.8h0M495.4 213.3h0M497.1 214.0h0M495.8 213.6h0M495.9 213.4h0M498.4 213.9h0M501.7 213.2h0M497.0 213.5h0M509.1 213.8h0M509.2 212.6h0M502.4 213.1h0M508.6 213.5h0M510.0 212.4h0M502.5 213.8h0M507.4 213.7h0M506.4 213.5h0M505.2 214.5h0M508.7 214.7h0M510.4 213.5h0M510.7 214.7h0M506.3 213.8h0M502.9 214.7h0M504.4 213.5h0M510.1 212.2h0M509.0 213.7h0M508.8 213.2h0M506.3 213.2h0M506.6 213.3h0M509.5 214.5h0M502.9 214.3h0M510.7 214.2h0M503.9 214.5h0M505.9 214.2h0M507.3 213.6h0M507.8 214.2h0M508.4 214.1h0M504.1 212.9h0M508.1 213.6h0M507.1 214.0h0M505.3 213.9h0M504.0 213.6h0M509.5 214.1h0M504.6 213.3h0M508.7 214.3h0M504.3 213.8h0M503.3 212.8h0M509.7 214.4h0M507.7 213.8h0M509.1 214.6h0M508.2 214.5h0M502.9 213.3h0M507.4 214.2h0M509.7 214.5h0M509.2 214.5h0M506.3 214.1h0M507.9 214.0h0M507.8 213.6h0M509.8 214.0h0M507.5 213.9h0M504.7 213.0h0M505.6 213.9h0M505.4 214.5h0M511.6 214.5h0M519.0 214.0h0M512.9 214.5h0M512.9 214.2h0M516.4 212.4h0M511.5 214.1h0M510.9 213.9h0M512.7 214.0h0M518.5 214.2h0M517.1 214.1h0M515.2 214.4h0M511.6 214.1h0M516.7 213.7h0M516.2 214.1h0M512.6 213.7h0M518.0 214.4h0M514.4 214.4h0M513.2 214.3h0M519.0 213.8h0M511.2 214.2h0M518.6 213.9h0M516.4 214.4h0M516.8 214.5h0M511.5 214.0h0M521.7 214.3h0M524.6 214.2h0M520.6 214.4h0M522.4 214.1h0M525.8 214.4h0M526.7 214.3h0M520.6 214.2h0M528.7 214.6h0M537.6 214.5h0M538.5 214.5h0M539.2 214.5h0M538.3 214.5h0M535.1 214.5h0" stroke="#000" stroke-width="1.8" stroke-linecap="round" fill="none" clip-path="url(#c283)"/>
<path d="M333.6 172.2 L336.3 172.6 L338.9 173.5 L341.6 174.6 L344.2 175.9 L346.9 177.6 L349.5 179.7 L352.2 182.3 L354.8 185.6 L357.5 188.5 L360.1 190.8 L362.8 192.9 L365.5 194.9 L368.1 196.6 L370.8 198.1 L373.4 199.5 L376.1 200.8 L378.7 202.0 L381.4 203.0 L384.0 203.9 L386.7 204.7 L389.3 205.4 L392.0 206.0 L394.6 206.5 L397.3 207.2 L399.9 208.0 L402.6 208.7 L405.2 209.2 L407.9 209.7 L410.5 210.1 L413.2 210.4 L415.8 210.7 L418.5 211.0 L421.1 211.3 L423.8 211.5 L426.4 211.8 L429.1 212.0 L431.7 212.2 L434.4 212.3 L437.1 212.5 L439.7 212.6 L442.4 212.8 L445.0 212.9 L447.7 213.0 L450.3 213.1 L453.0 213.2 L455.6 213.3 L458.3 213.4 L460.9 213.5 L463.6 213.6 L466.2 213.7 L468.9 213.8 L471.5 213.8 L474.2 213.9 L476.8 214.0 L479.5 214.0 L482.1 214.1 L484.8 214.1 L487.4 214.2 L490.1 214.2 L492.7 214.3 L495.4 214.3 L498.0 214.3 L500.7 214.4 L503.3 214.4 L506.0 214.4 L508.7 214.5 L511.3 214.5 L514.0 214.5 L516.6 214.5 L519.3 214.5 L521.9 214.6 L524.6 214.6 L527.2 214.6 L529.9 214.6 L532.5 214.6 L535.2 214.6 L537.8 214.6 L540.5 214.6 L543.1 214.6" stroke="#f4452c" stroke-width="1.1" fill="none"/>
<rect x="325.4" y="21.25" width="226.39999999999998" height="206.05" fill="none" stroke="#5a5a5a" stroke-width="1"/>
<path d="M352.6 227.3H519.0M352.6 227.3v5M385.9 227.3v5M419.2 227.3v5M452.4 227.3v5M485.7 227.3v5M519.0 227.3v5" stroke="#5a5a5a" stroke-width="1" fill="none"/>
<text x="352.4" y="246.6" text-anchor="middle">2</text>
<text x="385.7" y="246.6" text-anchor="middle">4</text>
<text x="419.0" y="246.6" text-anchor="middle">6</text>
<text x="452.2" y="246.6" text-anchor="middle">8</text>
<text x="485.5" y="246.6" text-anchor="middle">10</text>
<text x="518.8" y="246.6" text-anchor="middle">12</text>
<path d="M325.4 220.2V28.4M325.4 220.2h-5.3M325.4 172.2h-5.3M325.4 124.3h-5.3M325.4 76.3h-5.3M325.4 28.4h-5.3" stroke="#5a5a5a" stroke-width="1" fill="none"/>
<text transform="translate(312.7 220.2) rotate(-90)" text-anchor="middle">0.0</text>
<text transform="translate(312.7 172.2) rotate(-90)" text-anchor="middle">0.5</text>
<text transform="translate(312.7 124.3) rotate(-90)" text-anchor="middle">1.0</text>
<text transform="translate(312.7 76.3) rotate(-90)" text-anchor="middle">1.5</text>
<text transform="translate(312.7 28.4) rotate(-90)" text-anchor="middle">2.0</text>
<text transform="translate(291.4 123.4) rotate(-90)" text-anchor="middle" font-size="8.78">Dispersion</text>
<text x="437.3" y="264.2" text-anchor="middle" font-size="8.78">Average logCPM</text>
<text x="437.7" y="8.9" text-anchor="middle" font-size="10.15" font-weight="bold">Empirical Bayes by weighted likelihood</text>
<rect x="423.2" y="21.25" width="128.59999999999997" height="31.5" fill="#fff" stroke="#5a5a5a" stroke-width="1"/>
<circle cx="433.7" cy="31.4" r="2.05" fill="#000"/>
<path d="M426.2 41.6H441.2" stroke="#e8553f" stroke-width="1"/>
<text x="449.5" y="35.0">EB Gene-wise dispersion</text>
<text x="449.5" y="45.6">Trended dispersion</text>
</svg>
</body></html>
